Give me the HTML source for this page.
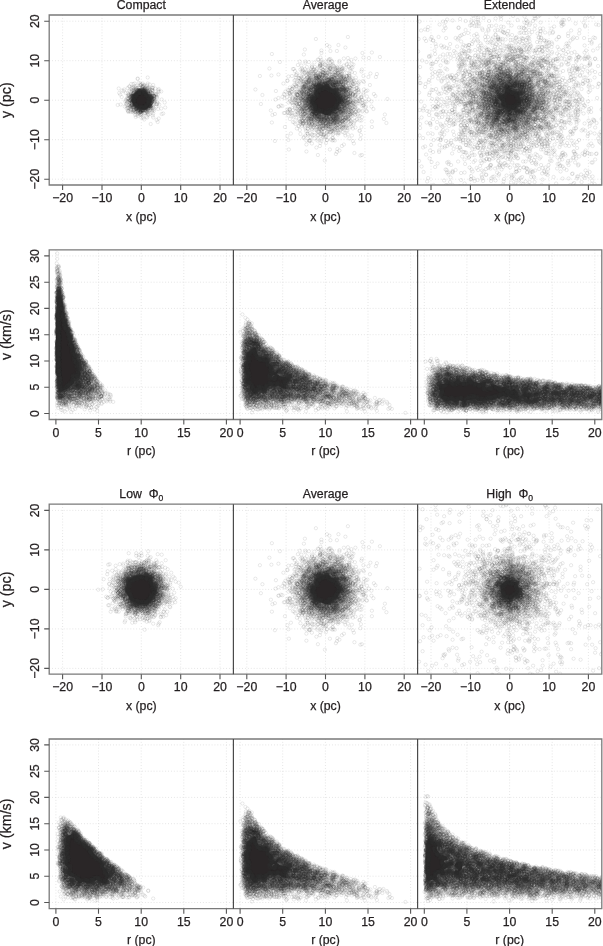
<!DOCTYPE html>
<html><head><meta charset="utf-8"><style>
html,body{margin:0;padding:0;background:#fff;}
svg{display:block;}
text{font-family:"Liberation Sans",Arial,Helvetica,sans-serif;fill:#231f20;stroke:#231f20;stroke-width:0.25px;}
.t{font-size:12.3px;}
.l{font-size:12.3px;}
.yl{font-size:14.3px;}
.ti{font-size:12.3px;}
polyline{fill:none;stroke:none;}
.r1{marker-start:url(#r1);marker-mid:url(#r1);marker-end:url(#r1);}
.r2{marker-start:url(#r2);marker-mid:url(#r2);marker-end:url(#r2);}
.d4{marker-start:url(#d4);marker-mid:url(#d4);marker-end:url(#d4);}
.sat{fill:#2a2627;stroke:none;}
.g{stroke:#dcdcdc;stroke-width:0.8;stroke-dasharray:0.9 2;fill:none;}
.ax{stroke:#7a7a7a;stroke-width:1.3;fill:none;}
.dv{stroke:#4a4a4a;stroke-width:1.2;}
.tk{stroke:#555;stroke-width:1.1;}
</style></head><body>
<svg width="603" height="946" viewBox="0 0 603 946">
<defs>
<marker id="r1" markerUnits="userSpaceOnUse" markerWidth="8" markerHeight="8" refX="4" refY="4" overflow="visible"><circle cx="4" cy="4" r="3.3" fill="none" stroke="#302d2e" stroke-width="1.7" opacity="0.120"/></marker>
<marker id="r2" markerUnits="userSpaceOnUse" markerWidth="8" markerHeight="8" refX="4" refY="4" overflow="visible"><circle cx="4" cy="4" r="3.3" fill="none" stroke="#302d2e" stroke-width="1.7" opacity="0.226"/></marker>
<marker id="d4" markerUnits="userSpaceOnUse" markerWidth="8" markerHeight="8" refX="4" refY="4" overflow="visible"><circle cx="4" cy="4" r="4.6" fill="#302d2e" opacity="0.237"/></marker>
<clipPath id="c00"><rect x="49.2" y="15.0" width="184.2" height="170.0"/></clipPath>
<clipPath id="c01"><rect x="233.4" y="15.0" width="184.2" height="170.0"/></clipPath>
<clipPath id="c02"><rect x="417.6" y="15.0" width="184.2" height="170.0"/></clipPath>
<clipPath id="c10"><rect x="49.2" y="249.9" width="184.2" height="169.6"/></clipPath>
<clipPath id="c11"><rect x="233.4" y="249.9" width="184.2" height="169.6"/></clipPath>
<clipPath id="c12"><rect x="417.6" y="249.9" width="184.2" height="169.6"/></clipPath>
<clipPath id="c20"><rect x="49.2" y="504.2" width="184.2" height="170.00000000000006"/></clipPath>
<clipPath id="c21"><rect x="233.4" y="504.2" width="184.2" height="170.00000000000006"/></clipPath>
<clipPath id="c22"><rect x="417.6" y="504.2" width="184.2" height="170.00000000000006"/></clipPath>
<clipPath id="c30"><rect x="49.2" y="739.0" width="184.2" height="169.70000000000005"/></clipPath>
<clipPath id="c31"><rect x="233.4" y="739.0" width="184.2" height="169.70000000000005"/></clipPath>
<clipPath id="c32"><rect x="417.6" y="739.0" width="184.2" height="169.70000000000005"/></clipPath>
</defs>
<path class="g" d="M62.6 15.0V185.0M49.2 179.2H233.4M102.0 15.0V185.0M49.2 139.7H233.4M141.3 15.0V185.0M49.2 100.2H233.4M180.7 15.0V185.0M49.2 60.7H233.4M220.0 15.0V185.0M49.2 21.2H233.4M246.8 15.0V185.0M233.4 179.2H417.6M286.1 15.0V185.0M233.4 139.7H417.6M325.5 15.0V185.0M233.4 100.2H417.6M364.9 15.0V185.0M233.4 60.7H417.6M404.2 15.0V185.0M233.4 21.2H417.6M431.0 15.0V185.0M417.6 179.2H601.8M470.4 15.0V185.0M417.6 139.7H601.8M509.7 15.0V185.0M417.6 100.2H601.8M549.1 15.0V185.0M417.6 60.7H601.8M588.4 15.0V185.0M417.6 21.2H601.8M55.9 249.9V419.5M98.5 249.9V419.5M141.2 249.9V419.5M183.8 249.9V419.5M226.4 249.9V419.5M49.2 413.5H233.4M49.2 387.2H233.4M49.2 361.0H233.4M49.2 334.7H233.4M49.2 308.4H233.4M49.2 282.2H233.4M49.2 255.9H233.4M240.1 249.9V419.5M282.7 249.9V419.5M325.4 249.9V419.5M368.0 249.9V419.5M410.6 249.9V419.5M233.4 413.5H417.6M233.4 387.2H417.6M233.4 361.0H417.6M233.4 334.7H417.6M233.4 308.4H417.6M233.4 282.2H417.6M233.4 255.9H417.6M424.3 249.9V419.5M466.9 249.9V419.5M509.6 249.9V419.5M552.2 249.9V419.5M594.8 249.9V419.5M417.6 413.5H601.8M417.6 387.2H601.8M417.6 361.0H601.8M417.6 334.7H601.8M417.6 308.4H601.8M417.6 282.2H601.8M417.6 255.9H601.8M62.6 504.2V674.2M49.2 668.4H233.4M102.0 504.2V674.2M49.2 628.9H233.4M141.3 504.2V674.2M49.2 589.4H233.4M180.7 504.2V674.2M49.2 549.9H233.4M220.0 504.2V674.2M49.2 510.4H233.4M246.8 504.2V674.2M233.4 668.4H417.6M286.1 504.2V674.2M233.4 628.9H417.6M325.5 504.2V674.2M233.4 589.4H417.6M364.9 504.2V674.2M233.4 549.9H417.6M404.2 504.2V674.2M233.4 510.4H417.6M431.0 504.2V674.2M417.6 668.4H601.8M470.4 504.2V674.2M417.6 628.9H601.8M509.7 504.2V674.2M417.6 589.4H601.8M549.1 504.2V674.2M417.6 549.9H601.8M588.4 504.2V674.2M417.6 510.4H601.8M55.9 739.0V908.7M98.5 739.0V908.7M141.2 739.0V908.7M183.8 739.0V908.7M226.4 739.0V908.7M49.2 902.5H233.4M49.2 876.2H233.4M49.2 850.0H233.4M49.2 823.7H233.4M49.2 797.4H233.4M49.2 771.2H233.4M49.2 744.9H233.4M240.1 739.0V908.7M282.7 739.0V908.7M325.4 739.0V908.7M368.0 739.0V908.7M410.6 739.0V908.7M233.4 902.5H417.6M233.4 876.2H417.6M233.4 850.0H417.6M233.4 823.7H417.6M233.4 797.4H417.6M233.4 771.2H417.6M233.4 744.9H417.6M424.3 739.0V908.7M466.9 739.0V908.7M509.6 739.0V908.7M552.2 739.0V908.7M594.8 739.0V908.7M417.6 902.5H601.8M417.6 876.2H601.8M417.6 850.0H601.8M417.6 823.7H601.8M417.6 797.4H601.8M417.6 771.2H601.8M417.6 744.9H601.8"/>
<g clip-path="url(#c00)"><g id="p00" transform="translate(49.2,15.0) scale(.5)"><path class="sat" d="M190,189 184,189 174,184 168,180 166,174 165,170 168,160 172,155 178,151 186,151 191,152 194,154 203,166 204,172 201,182 196,187 190,189Z"/><polyline class="d4" points="170,174 197,158 191,157 171,165 183,186 178,187 185,152 182,151 202,177 186,189 169,170 187,150 197,173 187,155 173,161 196,163 181,152 176,184 168,161 203,176 202,172 192,153 196,183 203,163 170,163 200,180 195,181 197,173 175,161 201,182 195,158 202,170 173,163 184,190 192,156 186,184 193,158 170,171 177,156 180,185 198,182 200,182 172,162 197,164 203,165 177,152 167,165 198,179 170,167 194,159 202,173 167,162 190,184 170,172 177,157 202,169 186,155 174,181 185,157 180,154 187,184 204,175 167,171 199,163 189,154 181,155 200,162 168,167 191,154 200,180 176,154 171,180 199,172 189,152 203,165 200,173 168,161 181,151 171,161 175,182 189,156 189,183 199,169 194,185 169,164 180,183 192,184 185,183 201,162 190,157 186,155 200,172 169,166 166,173 196,184 177,186 188,185 186,151 179,151 190,186 176,158 202,167 200,168 193,187 174,162 171,160 188,154 166,168 177,185 198,163 193,152 173,154 190,155 205,171 191,184 194,183 182,153 197,174 180,187 172,182 170,179 195,182 196,164 202,176 190,184 182,155 194,187 201,162 195,156 181,156 179,152 174,157 201,180 201,179 182,156 180,152 190,186 181,154 198,164 198,169 179,185 169,170 202,167 201,163 168,169 189,154 201,180 199,175 169,172 193,161 181,151 189,185 176,185 200,169 190,153 173,161 194,180 184,185 183,151 203,169 189,153 169,172 198,176 198,171 180,156 165,172 193,161 190,186 191,186 186,186 192,156 174,183 189,152 171,179 169,161 198,178 166,163 174,180 194,180 182,184 191,183 184,189 171,166 192,185 179,157 199,176 200,182 190,151 194,182"/><polyline class="r2" points="178,150 183,192 192,190 188,150 171,184 165,177 168,157 164,165 192,150 187,190 178,189 182,191 174,186 187,191 175,187 195,188 191,190 198,157 191,150 187,190 203,182 163,171 206,170 168,157 166,179 187,191 175,189 205,165 169,183 165,162 205,168 174,188 184,191 179,190 200,158 164,168 198,157 170,156 203,183 185,191 203,177 198,154 175,187 166,180 187,190 176,151 205,165 165,162 186,150 165,180 198,186 197,154 177,190 165,176 185,191"/><polyline class="r1" points="183,140 220,179 200,147 173,147 206,173 196,140 194,195 165,159 179,191 206,172 210,188 207,152 162,153 207,190 164,157 197,195 163,161 210,162 139,147 214,178 157,180 195,203 209,167 161,163 177,146 186,147 202,183 192,142 169,195 183,194 209,162 183,195 183,193 155,177 184,193 170,154 137,180 231,175 214,158 203,187 166,194 161,143 184,200 173,151 225,198 215,164 208,172 197,191 207,168 206,156 201,139 193,148 157,157 214,163 209,178 217,176 207,152 196,147 154,181 162,171 206,173 208,164 186,145 209,168 180,145 190,209 214,183 165,147 228,197 195,193 203,154 155,168 218,153 172,194 163,183 162,194 208,169 178,198 160,173 210,175 177,202 195,150 162,164 173,204 187,192 207,146 183,193 192,147 186,148 202,159 199,191 205,150 204,178 161,170 169,193 157,191 168,145 174,150 140,156 163,189 190,148 197,190 168,138 210,162 208,205 215,210 190,149 165,183 197,147 187,143 213,158 224,187 216,174 214,160 154,178 197,137 166,184 163,171 187,193 168,151 203,218 168,146 216,166 232,185 211,159 205,162 208,197 207,173 176,192 158,167 155,187 168,184 168,184 153,170 162,192 163,163 169,154 206,161 182,199 210,171 188,143 195,192 193,192 164,177 160,171 205,165 155,172 195,143 187,203 158,168 157,186 212,147 170,189 169,185 207,201 199,156 161,182 150,149 168,188 184,194 189,141 163,160 196,189 173,194 203,186 146,151 169,191 209,171 216,178 169,185 177,197 163,170 178,194 162,184 143,179 217,159 206,182 217,214 208,140 202,159 206,168 177,192 165,152 164,181 177,193 160,143 145,164 200,145 196,205 198,152 200,151 171,143 169,149 169,190 198,153 218,188 210,162 188,148 205,176 162,177 158,192 210,165 205,187 211,173 201,198 174,188 159,192 185,197 158,184 210,162 162,185 159,160 174,142 159,160 205,146 203,183 198,200 163,179 157,174 218,150 153,156 171,137 159,160 184,198 193,150 184,205 206,162 202,154 170,192 194,192 186,144 170,152 187,142 192,146 162,182 198,156 197,188 169,191 188,206 202,190 184,149 160,162 206,149 208,161 149,152 171,150 181,195 211,163 191,147 160,152 185,139 210,191 192,196 170,152 152,173 156,175 211,170 197,125 196,195 210,168 208,180 165,182 224,153 207,170 219,207 198,146 178,195 173,145 161,175 177,127 165,145 203,185 176,150 179,136 199,186 203,157 220,153 215,179 203,183 170,189 205,180 200,157 198,150 162,170 175,150 163,163 158,171 164,154 175,200 187,148 167,191 165,190 219,148 225,169 208,185 203,190 173,192 183,141 175,146 207,145 183,194 174,149 198,198 177,128 190,140 156,166 158,186 201,149 166,181 199,156 206,192 181,195 208,161 211,165 206,150 211,173 190,197 203,157 187,137 200,186 207,187 165,185 205,195 189,144 205,163 207,169 176,193 166,150 182,137 164,138 182,140 182,194 207,158 158,194 206,156 160,186 182,145 161,171 157,146 157,162 205,163 199,187 164,181 142,159 192,196 172,200 159,167 180,196 151,183 195,147"/></g></g>
<g clip-path="url(#c01)"><g id="p01" transform="translate(233.4,15.0) scale(.5)"><path class="sat" d="M188,200 184,200 168,193 162,192 161,190 160,183 155,176 154,172 157,164 163,162 164,152 166,149 174,145 184,140 190,141 196,147 202,149 206,153 208,156 214,166 216,172 214,175 211,180 208,187 199,192 188,200Z"/><polyline class="d4" points="185,196 172,141 161,168 166,157 196,189 212,168 156,178 189,146 184,196 177,145 177,144 204,187 173,145 216,169 209,165 191,197 196,196 212,176 167,190 208,186 187,138 191,198 199,153 164,186 174,193 206,186 207,156 201,155 197,191 208,166 194,148 164,154 168,150 168,162 206,185 206,162 175,144 185,146 165,161 199,186 179,148 203,186 173,193 209,177 171,153 211,164 176,194 168,152 187,200 164,151 158,167 191,148 174,142 191,144 172,144 192,151 170,149 203,154 155,172 164,158 178,147 162,176 205,186 208,151 214,169 205,182 163,184 194,149 161,167 157,177 212,174 213,163 182,194 201,192 209,168 173,192 165,191 167,194 181,145 178,144 210,159 163,193 191,146 209,177 176,143 192,150 217,172 177,144 157,165 157,165 203,149 201,189 157,173 212,178 164,188 174,148 210,172 197,152 192,190 197,195 167,158 204,183 196,150 170,193 177,148 159,172 169,162 181,144 161,162 188,142 186,142 192,151 211,169 162,181 205,153 192,197 213,163 189,196 168,188 176,192 171,142 195,193 172,150 190,199 169,194 166,155 200,150 197,147 197,152 157,178 215,168 157,169 207,150 204,152 186,139 160,171 161,181 192,194 206,181 183,199 211,174 205,152 202,186 161,189 174,196 161,169 210,186 203,157 207,159 210,160 185,138 215,171 204,150 178,148 206,161 164,183 164,185 204,187 158,186 162,161 167,152 206,161 160,178 189,197 187,195 162,190 161,171 211,174 171,152 163,180 192,189 166,155 169,151 167,159 191,190 173,149 207,175 180,146 160,167 207,179 192,192 203,150 187,145 213,168 173,143 172,148 175,192 175,198 163,161 175,140 164,155 160,173 205,181 198,153 170,148 202,154 173,191 210,174 184,146 179,142 182,146 205,151 161,193 195,192 201,155 198,189 201,192 197,188 158,177 166,151 165,148 175,142 210,180 166,161 191,196 214,174 191,141 213,164 164,184 185,139 201,152 211,158 156,174 207,158 176,191 158,162 212,167 189,191 206,157 160,188 208,158 209,164 185,198 193,189 163,186 193,149 158,173 185,195 170,144 166,191 156,172 206,150 156,162 158,181 187,142 210,166 211,170 179,145 158,163 168,148 163,179 194,194 181,143 167,146 200,193 172,193 163,193 173,151 158,175 161,168 164,192 188,148 200,152 189,144 211,162 200,153 162,155 164,187 195,149 191,194 192,194 199,153 173,146 169,194 161,168 180,197 218,173 200,192 196,152 156,168 189,144 162,183 209,186 188,141 158,176 201,150 205,153 163,188 173,195 187,195 196,194 166,148 183,197 166,157 161,159 171,190 165,153 215,168 181,140 210,157 163,161 163,183 202,188 207,186 185,195 191,194 198,145 171,150 208,158 186,195 189,145 163,166 210,181 190,194 216,168 194,141 158,184 157,167 200,191 160,182 171,152 167,159 162,165 185,143 215,174 186,143"/><polyline class="r2" points="167,141 207,191 155,179 157,185 168,143 184,137 164,144 220,171 160,158 154,167 216,176 211,184 193,138 219,168 166,141 166,197 207,148 171,196 154,163 214,179 200,196 159,154 216,179 194,140 171,140 210,190 201,145 217,174 196,143 217,166 205,146 166,196 181,139 160,156 196,199 158,159 170,200 199,139 152,168 163,196 199,142 211,186 164,146 190,136 176,139 198,138 188,136 161,197 213,179 193,197 171,139 169,143 211,183 164,146 170,140 171,138 158,186 183,138 161,194 211,153 155,159 162,198 169,196 168,142 200,145 152,168 171,198 203,194 175,138 200,145 157,182 200,141 153,162 151,173 186,204 171,140 164,198 193,135 166,198 161,195 190,136 195,197 214,162 162,152 204,194 211,185 165,198 153,164 184,136 154,179 196,142 168,144 194,136 177,200 154,161 152,166 159,151 192,137 208,190 165,197 159,193 187,201 204,148 214,161 152,170 217,176 179,138 211,152 218,165 170,143 215,162 155,180 204,193 212,156 155,181 155,159 155,161 162,154 204,194 173,139 165,196 151,173 181,140 180,201 152,167 187,137 196,197 158,158 160,159 152,173 152,170 171,137 218,173 158,189 197,144 158,192 153,163 200,140 211,153 208,189 153,176 167,198 210,189 151,170 206,148 165,144 160,192 186,137 184,137 218,174 196,198 199,142 171,198 205,149 203,194 202,146 159,194 220,170 162,150 212,188 193,197 170,142 153,179 181,200 199,139 211,189 189,137 205,147"/><polyline class="r1" points="149,186 193,213 239,191 225,224 197,227 199,246 203,211 176,209 147,201 136,151 216,225 201,216 252,171 192,202 191,127 164,127 192,134 184,207 191,204 213,151 217,184 221,158 185,135 228,130 211,214 257,204 174,118 221,136 127,153 243,160 178,95 277,213 126,143 151,146 224,190 187,121 162,207 195,125 223,144 156,208 232,175 176,118 204,198 205,119 174,128 194,223 146,195 238,126 229,203 168,201 198,232 205,212 205,131 239,227 158,141 156,208 206,198 146,201 175,93 153,195 150,171 223,197 197,92 156,207 158,241 163,140 171,221 271,169 156,145 154,186 171,124 159,136 157,257 206,200 157,217 253,211 170,213 161,133 214,194 227,149 202,127 177,229 147,163 239,252 161,118 141,162 128,143 113,145 222,179 171,124 217,183 202,137 185,207 147,168 199,210 168,202 244,87 168,138 154,185 133,152 189,130 112,189 169,201 162,207 135,130 188,214 215,132 143,165 220,179 201,135 234,177 190,239 171,200 223,187 179,114 247,170 190,124 215,202 177,203 141,197 149,172 173,213 138,133 176,238 230,189 189,221 216,190 173,118 268,151 152,114 53,122 139,185 234,163 212,146 241,189 214,151 124,186 234,217 148,176 198,119 170,228 228,176 196,128 223,178 144,167 225,221 208,227 245,192 154,126 219,223 271,86 196,131 219,183 163,202 137,190 214,193 134,218 206,210 158,197 206,209 133,159 218,219 100,137 186,116 200,125 219,181 220,128 151,221 139,164 126,120 205,120 139,199 145,179 148,135 169,240 214,148 218,220 225,142 216,188 179,132 208,203 174,98 194,127 151,161 216,110 188,208 251,190 200,209 199,212 202,197 148,125 159,226 117,122 141,171 245,173 219,190 203,140 226,146 250,136 145,202 189,228 219,126 243,116 167,137 153,188 184,222 166,122 154,122 210,147 112,168 221,168 144,93 129,199 157,228 143,182 210,149 168,132 134,193 237,114 141,151 152,185 178,135 144,96 216,194 207,194 250,155 243,135 239,138 229,176 231,174 226,179 158,206 152,130 215,155 76,121 227,164 224,168 152,118 124,175 210,116 188,233 183,226 228,181 199,129 243,154 202,142 148,170 182,205 199,207 210,140 235,153 152,219 202,135 235,187 213,139 259,132 230,169 222,164 156,148 151,161 216,153 236,140 150,135 223,204 147,151 250,172 151,217 172,209 83,198 263,174 163,143 230,103 225,171 232,145 234,199 204,205 176,112 144,187 108,132 241,172 156,197 121,145 150,147 213,154 161,142 219,198 140,217 155,117 143,180 146,158 229,175 103,196 186,222 220,138 135,166 136,170 201,123 220,166 177,213 206,194 213,189 159,220 180,134 173,127 185,216 166,130 178,221 218,156 145,232 220,195 209,129 186,206 213,148 214,159 103,159 219,140 232,145 171,202 228,231 207,112 174,126 162,147 149,139 169,280 157,199 144,176 224,165 285,124 224,174 150,206 225,165 139,148 128,160 151,94 177,204 98,182 212,197 209,114 234,180 226,170 178,215 224,241 221,134 183,137 186,206 251,177 221,87 157,136 188,133 214,194 182,210 134,134 112,158 140,206 201,140 148,127 163,219 211,191 213,122 264,185 159,125 174,127 156,154 209,209 144,141 246,146 207,215 161,148 201,102 125,125 223,180 178,212 215,135 139,138 127,188 287,118 152,223 237,176 216,198 174,136 176,204 163,113 188,213 137,113 137,184 240,143 150,198 230,158 185,222 231,126 208,208 243,162 145,188 146,148 181,204 155,134 221,192 231,190 128,194 229,157 240,219 151,207 215,126 253,202 142,115 159,144 236,223 151,176 194,228 214,230 147,170 160,110 151,164 202,221 223,128 139,115 208,144 249,173 154,144 220,148 168,211 122,175 255,165 152,207 227,171 161,201 197,130 247,140 117,169 206,137 173,217 141,208 221,210 170,204 183,117 212,236 194,130 186,214 241,216 180,221 256,113 156,192 160,150 103,224 205,139 204,132 150,215 181,203 185,93 203,105 204,109 140,187 219,187 225,167 163,199 220,201 215,205 133,121 180,137 177,239 194,119 213,188 157,146 260,156 141,189 242,148 194,209 207,218 197,207 226,231 197,137 200,216 210,193 159,142 124,166 198,94 149,191 219,137 183,218 164,120 142,198 150,168 135,193 257,109 237,196 227,206 185,218 168,218 199,133 190,125 229,137 193,133 149,164 145,139 181,212 216,143 190,219 181,216 155,220 161,137 221,149 190,223 154,244 201,207 136,101 206,221 169,211 130,211 132,154 220,164 134,191 141,123 203,139 167,208 155,213 142,199 172,206 147,104 165,122 154,194 187,109 190,101 151,214 146,259 127,180 204,202 138,133 178,133 201,208 145,143 146,194 176,71 198,123 209,124 224,192 233,145 257,182 224,157 220,148 155,135 139,203 230,160 77,215 147,186 194,96 156,150 160,141 136,185 205,223 167,202 193,269 225,134 240,177 175,136 204,134 218,162 153,116 208,146 158,198 127,177 234,159 130,222 240,184 151,137 244,225 152,147 155,225 199,124 182,128 157,187 122,139 152,189 190,213 151,218 207,125 131,222 222,183 212,135 233,196 225,203 112,156 119,167 212,271 174,129 231,183 136,162 177,134 201,130 223,173 146,180 131,126 139,144 150,165 140,186 242,176 168,251 253,173 162,216 234,155 198,198 205,278 220,158 179,114 215,214 161,209 192,128 77,78 161,213 224,160 226,191 187,119 115,237 142,169 113,190 174,203 134,109 219,121 168,126 137,156 217,225 216,200 210,215 214,142 128,160 230,207 195,202 156,125 183,106 151,133 239,176 118,148 156,191 123,170 142,131 219,162 149,204 218,191 154,147 181,117 151,201 176,248 213,150 204,133 186,210 239,158 153,199 216,191 158,216 185,226 174,214 208,117 133,212 149,238 178,203 211,203 129,100 90,119 248,189 135,150 198,203 234,112 127,199 132,132 191,207 156,137 140,144 230,177 157,101 185,207 261,181 179,133 144,241 123,112 171,208 266,173 228,195 207,203 191,109 224,129 137,191 183,124 130,191 224,194 207,192 196,130 162,144 231,149 174,238 217,117 159,143 183,122 200,140 195,131 225,161 203,230 133,185 226,122 189,208 146,155 221,182 189,208 148,136 192,112 180,115 190,223 213,190 148,186 190,104 233,167 165,225 237,179 166,109 143,138 218,146 224,172 243,163 225,205 159,140 223,214 208,268 220,151 218,144 146,113 165,126 218,206 219,166 211,135 126,192 150,154 233,225 228,159 214,104 184,111 194,215 143,224 126,166 223,168 250,139 130,126 165,48 157,204 255,240 220,210 207,221 180,121 139,183 257,169 155,147 207,274 84,169 231,124 217,144 229,129 225,166 219,212 209,220 227,122 91,183 131,208 168,203 154,155 137,206 155,188 245,169 179,228 124,218 118,147 192,119 243,185 147,171 188,210 186,127 130,183 217,202 226,205 230,136 204,120 127,227 156,202 152,148 212,130 170,209 150,132 226,166 151,174 174,132 195,134 182,212 102,166 163,204 156,150 127,133 158,151 164,141 200,204 229,148 230,178 151,163 220,125 197,230 171,224 158,218 144,141 191,131 153,127 165,112 139,111 196,207 226,197 108,131 137,163 176,217 159,210 163,144 223,158 210,210 144,176 209,213 223,186 149,146 207,145 140,159 146,134 221,195 127,117 134,165 119,143 168,208 229,163 183,210 227,116 141,207 139,184 212,95 173,224 227,184 144,172 249,199 207,202 226,142 153,149 222,152 136,186 207,201 186,204 219,145 113,197 187,207 188,208 213,150 201,218 148,184 212,204 235,198 225,166 150,211 261,134 130,137 210,210 132,187 222,181 139,200 173,216 204,227 218,134 170,134 151,163 169,233 200,217 265,152 137,172 171,130 221,155 116,196 190,217 236,215 160,128 111,269 226,148 206,236 174,206 213,148 213,212 191,121 219,162 164,219 211,144 224,134 206,131 224,206 171,130 222,165 244,183 216,228 216,194 165,216 215,119 175,120 206,205 149,150 188,130 186,212 180,220 216,135 203,220 55,178 179,118 171,126 142,141 194,215 118,202 212,121 207,138 161,144 220,125 183,131 152,208 260,85 158,200 138,142 209,203 206,213 164,143 222,173 221,123 137,174 227,98 205,200 170,116 226,161 143,194 252,232 220,150 148,136 237,142 174,101 168,136 145,192 205,197 121,205 214,124 172,204 160,108 190,111 135,201 245,160 229,173 213,152 182,207 192,205 238,105 225,131 155,138 187,206 165,203 173,135 152,183 181,208 232,180 169,205 216,192 181,218 207,229 200,210 179,115 204,135 230,176 195,208 228,226 216,119 178,108 147,208 152,130 197,119 141,244 202,140 187,250 142,176 207,134 181,130 235,203 134,167 146,251 136,168 230,164 159,142 164,118 216,194 161,142 204,139 210,194 216,137 150,191 112,155 216,222 238,137 171,202 134,156 219,226 213,206 189,116 200,202 206,135 177,206 200,250 144,169 230,187 234,151 183,244 205,136 172,223 208,139 147,178 252,133 195,207 232,163 217,134 246,210 197,125 208,105 164,143 225,212 215,134 169,248 142,154 251,163 127,171 192,210 160,199 230,152 219,205 114,158 214,202 152,251 267,193 160,131 135,214 138,187 211,149 210,206 185,225 168,241 75,191 211,142 208,192 217,211 219,177 165,139 134,156 151,152 162,109 199,102 154,192 154,138 150,205 160,207 218,138 139,179 303,199 176,252 217,184 139,152 173,120 223,163 213,129 164,140 173,102 201,214 177,234 222,163 293,84 149,167 216,160 176,230 133,178 238,166 213,143 212,210 147,127 216,148 143,116 222,203 141,135 208,120 138,217 162,95 127,158 172,123 251,154 163,130 147,175 219,160 183,99 301,208 151,135 220,218 202,114 148,161 202,208 206,198 157,130 218,182 147,140 201,138 150,158 192,117 104,153 202,222 141,133 215,183 200,205 141,159 163,121 219,159 202,208 227,208 259,191 188,215 224,219 250,151 160,209 128,165 147,180 131,140 198,201 219,211 204,198 235,191 200,219 133,194 200,204 188,204 198,206 234,155 150,178 220,192 203,136 233,193 213,216 150,159 217,146 193,205 195,218 169,203 204,198 196,215 134,187 205,106 223,109 153,130 212,201 306,216 147,172 171,210 236,170 203,212 222,157 201,214 222,151 173,98 232,247 129,196 211,115 233,173 162,200 221,162 208,135 177,136 232,200 180,239 221,127 220,171 167,224 143,197 208,197 197,128 206,199 156,150 219,182 218,213 157,127 161,140 156,214 156,130 155,211 222,160 238,201 181,126 145,216 137,203 244,199 208,142 218,112 211,144 170,233 258,170 211,132 200,230 139,156 165,201 113,157 157,198 224,172 162,201 201,126 218,198 213,151 185,244 223,151 123,187 155,185 202,137 186,121 139,212 152,119 218,183 170,218 172,126 182,211 208,200 146,187 151,129 119,167 204,209 247,146 212,224 151,172 157,105 152,202 174,221 211,228 208,207 196,114 188,212 58,160 138,126 217,105 247,208 154,196 150,133 174,208 195,249 137,153 205,116 155,208 218,192 136,159 184,208 231,104 196,218 190,227 205,200 161,240 137,188 147,144 131,145 241,132 211,132 235,156 181,110 260,181 196,210 219,140 180,203 207,103 167,214 139,217 215,182 231,200 226,150 208,133 226,175 225,212 223,209 233,186 205,207 167,128 196,205 228,174 221,211 142,143 217,209 158,198 211,192 242,154 151,164 234,145 196,228 214,149 226,155 137,175 162,139 134,238 205,122 187,130 137,222 151,144 157,229 166,140 139,157 179,215 225,134 234,164 142,192 176,90 190,135 157,208 159,197 144,177 157,196 168,223 227,150 199,239 171,132 208,226 164,126 232,163 217,197 139,164 222,175 139,176 212,217 153,205 165,130 116,174 192,114 228,132 146,120 236,130 208,192 235,153 203,251 209,239 187,236 193,218 152,147 242,276 218,164 175,106 172,137 176,127 156,144 135,171 225,152 211,138 229,211 256,224 215,187 148,136 194,224 229,209 123,168 243,212 254,248 168,126 146,186 146,164 197,133 134,127 154,251 142,144 200,237 78,200 169,210 145,211 152,178 238,161 149,208 151,158 139,171 129,179 209,231 212,154 165,131 138,213 144,178 170,240 229,239 236,131 208,205 202,128 139,193 190,222 193,219 177,213 244,179 226,186 114,150 197,137 203,213 173,225 154,187 222,190 155,189 207,214 166,122 187,250 206,139 219,190 197,209 206,202 167,218 207,147 231,153 139,164 253,231 193,133 152,156 110,123 165,126 232,120 225,184 138,219 209,116 217,148 170,121 139,109 215,201 211,213 142,145 148,186 221,154 152,132 174,212 132,178 221,142 246,148 148,184 273,140 214,135 217,193 220,142 148,148 189,210 226,177 189,210 214,157 276,183 220,146 191,201 144,168 151,157 188,207 150,157 162,201 220,111 200,227 237,193 211,149 223,206 131,177 156,124 153,150 194,127 217,188 257,280 256,211 150,111 148,177 201,198 182,116 216,187 159,200 176,237 157,213 225,136 208,212 229,199 152,251 202,197 211,143 202,215 234,171 209,144 185,131 230,186 220,139 194,108 166,139 140,187 124,154 191,212 114,188 249,150 159,204 145,158 197,134 140,172 203,214 216,125 149,179 155,207 152,207 180,220 225,170 216,122 233,174 221,179 180,213 137,171 140,160 204,139 143,108 149,163 239,175 123,183 217,262 277,75 142,144 176,137 198,136 158,139 132,155 229,145 231,162 155,139 177,124 112,188 143,69 148,171 227,127 177,209 204,140 139,145 163,201 228,149 142,155 218,213 221,174 207,198 185,216 222,210 231,155 260,177 176,207 202,141 170,90 277,224 161,134 188,130 178,205 188,128 143,205 154,155 217,108 222,151 158,133 210,197 160,149 119,214 260,159 151,174 173,227 135,198 156,113 183,135 180,228 210,194 179,244 180,214 119,190 194,134 173,206 154,192 128,161 241,197 236,163 171,204 120,158 184,116 231,121 133,230 226,223 233,122 133,214 144,180 241,138 141,158 198,226 237,147 219,146 225,153 109,150 240,99 135,182 148,160 140,217 229,169 184,117 232,168 218,212 212,124 143,193 223,185 219,146 229,158 190,129 221,259 195,201 146,176 192,63 224,194 144,167 212,152 153,236 185,256 193,105 101,196 136,161 152,126 252,167 226,177 141,156 220,153 173,228 223,186 185,136 154,157 170,231 216,160 162,136 161,122 134,163 122,131 132,178 217,131 158,218 219,150 141,168 168,138 213,209 149,158 184,205 196,100 210,235 209,236 199,206 200,233 198,251 152,216 126,177 221,170 166,229 192,101 216,149 214,196 192,229 136,164 203,115 179,110 149,241 185,121 234,174 199,206 139,194 139,193 158,142 228,148 225,205 216,123 176,208 180,207 108,242 177,232 216,212 210,133 227,176 154,156 205,220 124,140 191,129 220,163 159,113 229,182 205,134 194,213 138,161 234,199 196,127 149,194 232,131 204,142 141,124 155,150 149,227 190,92 118,165 155,146 145,134 116,154 194,207 179,203 220,161 172,204 142,192 157,199 172,104 172,200 220,225 135,131 125,176 210,60 149,162 148,237 136,181 144,178 108,189 208,203 224,65 225,151 162,247 146,156 179,209 152,252 201,137 118,196 149,118 207,211 157,239 256,164 224,200 204,113 151,182 221,220 137,153 222,184 195,135 175,212 182,207 241,183 190,220 238,208 239,157 216,160 176,223 125,205 233,156 160,199 265,183 125,199 250,148 209,111 177,125 146,155 157,200 230,168 201,134 133,176 220,157 153,186 180,209 218,227 142,155 230,193 228,175 201,228 127,160 226,193 143,177 224,155 119,180 136,145 173,124 234,129 143,166 169,213 153,180 192,224 216,196 180,222 229,137 219,131 222,167 167,203 148,160 201,203 147,217 164,141 140,246 219,154 130,191 201,119 176,100 237,186 175,210 176,206 249,192 149,221 197,128 157,104 194,88 174,204 199,128 258,176 238,194 155,127 227,161 192,204 119,108 152,188 144,198 174,85 233,107 133,127 141,79 147,146 117,199 131,167 176,230 177,135 235,178 191,203 231,208 171,209 223,186 136,123 234,162 219,234 219,185 214,182 220,144 201,107 182,222 181,209 143,173 182,238 203,120 154,189 194,234 281,158 234,212 141,142 146,181 124,130 217,129 146,212 234,188 226,164 150,116 144,181 235,147 170,208 267,163 146,154 167,210 261,149 284,162 167,133 193,216 168,130 181,241 163,210 145,143 232,185 142,184 146,164 199,210 143,213 213,120 184,205 220,146 230,190 226,178 222,236 216,139 215,183 204,200 174,256 239,174 216,145 228,125 191,133 217,128 178,138 142,151 211,134 230,161 127,137 179,110 139,171 146,182 174,134 188,115 237,241 222,171 187,60 155,144 238,173 90,183 189,129 158,110 199,202 171,135 221,182 145,134 179,217 219,178 207,123 139,148 258,76 245,131 143,170 144,148 129,170 224,151 153,147 238,186 108,195 148,208 246,152 218,191 163,210 224,191 251,192 217,190 178,202 133,149 144,170 224,182 146,168 167,128 166,124 232,178 133,93 227,150 220,153 155,108 163,201 169,121 210,194 144,212 221,160 186,226 210,146 154,204 171,123 213,153 158,135 155,150 150,181 227,183 178,227 149,228 182,133 174,217 185,216 236,106 149,171 230,206 152,145 214,217 181,209 227,181 213,145 258,193 222,132 204,126 223,167 167,139 185,100 199,198 214,150 172,203 44,149 150,130 197,199 165,205 162,115 117,176 137,154 161,117 151,196 243,194 208,136 241,257 152,154 191,213 206,129 150,172 208,198 169,202 150,124 192,202 221,149 72,107 233,190 223,153 244,162 153,193 150,202 308,168 148,125 239,170 221,154 177,133 229,184 154,155 211,135 191,215 192,235 155,210 236,133 130,153 226,100 188,102 139,211 150,195 171,124 125,170 129,160 151,138 200,132 228,134 245,125 207,72 270,124 202,201 226,159 212,92 223,171 167,107 225,151 150,185 142,142 203,207 152,147 190,129 140,153 202,125 234,200 204,134 110,175 211,129 162,133 160,138 166,125 236,90 206,145 202,141 201,121 127,178 167,200 114,161 222,143 198,246 151,190 215,150 146,163 208,225 221,179 169,129 216,108 202,199 148,200 245,194 194,220 220,127 194,72 219,138 154,202 154,207 136,215 137,211 146,179 234,171 183,131 227,221 213,138 151,144 140,147 126,167 142,187 154,185 203,216 215,127 227,145 194,131 90,166 164,122 176,222 215,139 141,146 218,150 167,140 243,200 156,199 117,148 165,217 194,133 119,176 214,113 211,136 135,153 199,99 113,172 138,154 174,132 224,196 229,168 233,159 207,125 152,121 201,211 229,204 184,126 165,121 241,177 244,168 147,214 175,204 162,235 193,205 177,131 209,205 194,106 140,203 239,161 202,135 210,139 209,139 222,172 180,227 146,161 162,225 239,159 210,219 150,177 183,123 167,231 274,117 217,148 214,209 174,120 135,168 227,165 167,205 225,194 190,129 202,212 166,265 198,135 122,155 242,197 148,170 211,136 138,211 162,203 230,195 155,187 173,262 145,154 186,242 222,192 208,110 177,205 126,153 161,144 171,135 213,188 152,152 144,166 259,180 160,148 212,109 214,194 150,140 190,131 219,177 223,149 130,183 178,120 243,155 177,133 218,118 122,215 193,108 180,240 150,128 170,201 125,143 219,176 231,122 188,129 236,192 125,163 276,173 180,125 167,125 194,135 141,157 226,149 98,164 129,160 162,130 138,144 198,214 176,213 149,133 180,204 219,194 181,127 164,143 206,203 226,155 218,213 134,202 203,215 210,133 233,184 136,167 280,188 178,98 231,93 201,135 173,123 194,214 225,152 162,208 146,153 226,176 136,199 183,137 205,203 192,221 220,146 204,211 110,196 160,133 209,131 83,252 159,211 168,207 194,213 223,130 177,209 159,117 222,146 181,126 195,234 173,132 199,116 226,188 234,156 206,135 141,137 233,146 204,144 210,125 172,127 213,218 221,176 220,184 198,109 204,140 186,223 136,203 149,162 110,201 148,232 266,192 242,184 235,211 111,151 157,192 207,206 200,207 154,150 141,133 204,132 204,109 216,159 172,112 190,210 160,208 236,193 239,139 170,115 210,212 195,214 150,183 176,135 132,171 227,123 160,224 224,128 205,201 143,221 157,193 128,168 222,124 222,182 248,177 110,250 213,139 167,133 192,89 185,219 157,218 138,140 143,191 173,116 206,206 131,178 197,128 142,145 93,94 137,107 144,227 191,89 250,202 211,111 222,200 220,143 183,291 199,218 139,170 144,168 202,211 168,201 178,131 219,107 200,210 210,208 232,208 208,107 113,208 179,120 230,176 85,152 260,122 200,205 170,125 182,134 147,152 215,119 179,122 142,189 145,172 148,158 195,109 208,117 143,198 175,209 202,206 256,165 142,191 173,101 178,120 190,233 187,205 164,205 216,153 140,215 214,199 187,234 145,129 145,148 224,174 231,214 166,207 167,202 140,145 180,211 174,101 155,221 162,143 238,135 174,134 144,197 164,138 155,186 184,119 170,209 151,211 232,199 209,220 219,161 168,138 224,226 231,117 229,44 217,150 244,159 161,136 194,207 152,183 226,172 208,140 154,146 220,129 153,182 203,229 152,180 165,119 234,218 223,148 197,203 204,128 221,187 155,185 197,124 224,153 148,156 198,198 214,131 209,197 148,149 196,232 107,164 226,134 176,76 191,129 146,116 163,104 162,221 215,134 223,145 168,136 214,153 146,273 155,154 95,181 214,193 166,127 151,182 183,219 200,206 206,143 219,206 213,156 202,197 182,134 184,208 238,128 229,198 220,184 109,193 229,163 254,281 169,89 144,144 244,185 201,208 177,216 173,216 229,86 208,199 150,189 125,120 101,158 128,160 172,136 174,209 231,141 154,154 218,159 221,101 126,158 147,137 216,198 198,128 219,144 178,103 193,218 206,146 237,98 192,131 219,180 142,180 121,108 194,107 155,150 191,132 185,216 198,199 163,202 183,127 209,205"/></g></g>
<g clip-path="url(#c02)"><g id="p02" transform="translate(417.6,15.0) scale(.5)"><path class="sat" d="M194,190 192,190 184,188 182,188 170,183 167,178 168,174 162,166 164,161 168,160 174,156 176,148 178,146 180,146 184,149 188,150 190,151 196,153 202,154 204,156 204,164 207,172 207,178 199,182 197,188 194,190Z"/><polyline class="d4" points="204,154 206,172 170,178 207,161 196,181 183,188 185,148 164,159 199,158 200,173 189,187 166,179 205,192 192,157 194,186 201,176 176,146 195,159 164,158 179,183 188,152 197,189 194,152 197,160 172,156 170,168 197,160 205,192 169,170 198,153 176,183 173,152 201,179 190,191 174,178 174,182 164,175 168,161 193,184 182,152 180,191 198,191 167,170 196,181 194,192 202,158 178,149 198,156 196,185 174,180 165,164 170,154 203,165 175,186 176,162 161,168 180,154 172,183 167,159 173,179 169,161 179,191 204,171 177,143 179,143 203,155 186,187 205,162 195,154 168,179 203,179 171,182 177,144 209,157 172,172 171,150 166,160 186,183 201,193 176,146 178,190 176,151 175,147 179,153 193,183 198,181 189,150 198,188 194,180 172,182 195,182 189,156 200,160 185,155 198,158 165,162 181,148 190,151 168,164 186,186 163,181 161,175 168,161 205,183 173,176 196,183 186,154 206,168 204,180 207,168 183,146 191,187 203,158 171,170 174,151 183,153 181,147 180,186 168,167 210,178 199,192 172,164 198,154 172,180 159,171 200,189 202,169 173,175 179,145 209,172 203,193 177,179 199,166 205,169 206,169 166,165 159,173 202,180 173,185 187,154 163,161 174,183 182,183 205,156 197,191 181,151 161,183 196,153 191,186 193,183 160,174 165,178 203,177 167,181 196,191 180,186 191,186 187,192 175,145 201,170 188,188 181,191 204,158 177,184 189,183 182,183 173,162 184,146 180,186 188,157 207,176 177,144 170,169 183,186 208,170 171,159 198,182 199,183 168,162 206,176 190,184 196,158 165,165 176,180 197,159 200,162 185,152 172,156 178,186 172,153 202,167 161,178 170,158 193,153 186,185 174,179 182,188 192,186 165,179 191,184 207,173 182,149 170,179 198,166 205,163 166,161 191,153 187,154 192,187 199,159 173,153 197,191 176,157 195,157 204,152 205,190 196,152 208,176 182,148 167,167 193,152 199,164 201,192 201,180 177,143 200,184 184,150 167,168 165,182 187,187 199,177 193,191 183,188 179,188 194,187 189,156 171,177 205,158 159,168 196,189 168,174 175,158 192,156 166,164 184,188 203,180 168,183 204,183 170,184 172,170 184,184 180,151 198,161 192,150 207,170 162,165 202,179 197,183 168,172 175,185 186,192 203,155 162,163 207,156 182,146 165,169 178,151 184,191 197,190 169,163 160,165 173,176 182,189 204,155 206,159 160,174 167,165 168,174 183,190 200,189 180,150 172,170"/><polyline class="r2" points="210,161 155,172 172,190 194,139 213,157 154,171 195,142 196,139 160,186 217,170 158,163 184,145 214,172 209,140 161,185 207,149 199,195 204,144 212,174 175,142 169,188 208,167 171,192 203,139 163,188 174,190 185,195 186,193 194,196 165,187 209,156 193,141 218,170 212,166 186,145 191,141 162,196 199,194 190,195 194,196 212,176 169,146 199,198 161,196 212,153 174,143 161,194 153,174 169,151 209,156 207,190 174,189 215,163 209,154 166,189 193,196 191,142 211,153 162,154 168,147 204,139 164,194 155,178 207,184 189,142 209,158 161,196 184,195 195,141 217,166 163,191 158,166 194,199 208,188 210,166 193,143 191,137 157,163 162,154 170,191 165,151 159,166 211,193 164,188 210,163 178,140 214,165 207,151 158,163 212,175 208,140 163,192 168,149 215,167 158,171 158,173 181,195 211,157 166,195 209,179 186,143 159,185 163,153 201,197 157,175 154,174 200,151 160,206 205,143 213,172 192,141 157,175 203,187 190,196 159,165 204,151 206,139 193,200 206,187 174,195 170,192 164,187 206,192 197,136 156,171 166,188 157,166 209,184 170,147 202,152 207,145 195,139 215,167 164,156 163,196 214,169 156,178 194,146 204,151 166,197 161,180 175,188 193,143 162,193 190,197 157,174 163,150 190,145 209,168 163,157 162,186 204,195 181,196 204,145 163,157 156,174 159,168 161,180 211,181 213,173 192,147 167,150 210,192 198,136 171,188 158,154 186,146 167,147 158,159 173,190 208,147 186,145 162,188 189,141 199,196 208,167 206,195 208,145 197,198 159,164 161,190 191,144 202,194 204,140 213,169 189,196 190,140 169,145 170,192 163,150 168,194 195,143 215,164 209,144 178,143 208,188 195,137 174,140 210,183 195,137 154,180 170,191 175,191 171,194 199,152 205,152 163,186 200,151 191,144 205,144 185,194 156,173 174,191 198,139 211,158 210,142 181,143 188,144 162,148 156,178 183,195 169,150 189,144 213,158 203,149 160,150 177,190 194,149 209,154 205,187 173,143 208,151 209,161 212,154 187,145 207,193 196,150 212,163 210,187 208,189 164,192 184,146 209,186 195,137 193,136 211,160 160,155 203,142 210,173 160,179 155,179 215,164 168,149 164,194 185,197 198,135 176,192 176,195 156,185 180,195 205,147 153,173 193,141 194,137 203,185 159,173 178,194 191,194 155,177 214,175 209,139 176,193 210,152 181,198 212,167 195,141 208,153 212,159 167,196 167,192 165,195 167,189 193,146 195,138 160,193 210,144 162,197 164,154 157,180 213,141 165,195 169,193 219,168 201,151 173,190 208,144 183,196 207,163 167,150 171,194 155,172 209,183 211,186 212,170 206,148 157,175 209,139 166,187 200,195 184,194 179,193 180,142 173,142 170,191 160,182 171,186 207,166 210,138 191,137 194,139 207,195 179,139 160,152 170,186 206,189 158,183 191,146 163,192 159,172 206,194 157,178 161,187 209,184 185,143 195,197 217,171 209,143 162,148 160,157 189,145 219,166 172,143 210,183 162,155 160,155 217,172 161,198 167,153 204,142 182,141 216,166 205,148 156,175 203,185 209,170 179,142 213,172 192,198 214,175 171,148 166,192 204,140 164,147 188,196 160,152 214,166 190,199 161,158 167,186 161,159 159,154 184,195 211,156 211,155 194,197 195,148 160,180 159,196 160,157 204,141 162,155 202,195 209,146"/><polyline class="r1" points="250,192 166,139 252,154 298,139 250,153 251,146 45,237 45,83 152,133 196,278 221,191 121,241 255,263 216,216 157,140 287,202 155,230 175,214 151,287 130,136 176,199 152,166 57,95 97,275 241,3 216,130 148,169 230,191 31,189 70,312 219,100 263,166 247,101 134,229 220,96 247,211 196,242 237,93 176,93 138,174 53,174 128,203 226,314 207,68 251,181 213,153 151,235 129,251 264,226 175,218 182,221 214,134 136,152 243,129 145,161 141,93 -8,268 100,139 155,126 138,288 306,291 136,94 152,70 172,197 267,192 225,59 143,240 184,-5 211,224 135,169 262,81 232,140 15,263 131,257 197,110 233,173 89,202 142,115 79,63 78,171 111,166 71,158 283,144 301,245 219,116 200,141 124,122 252,166 326,164 124,165 200,144 123,233 208,73 181,232 121,148 204,36 70,195 140,172 212,139 156,331 255,216 234,7 189,130 110,150 176,135 193,243 257,159 229,173 172,237 142,69 198,211 110,268 239,187 145,123 161,203 200,221 204,133 256,133 199,199 142,180 249,317 154,201 135,162 214,140 203,117 145,178 1,122 251,27 162,118 164,95 148,145 46,112 141,215 25,271 169,216 186,118 281,154 51,127 165,98 150,197 135,204 147,133 180,227 114,133 196,229 214,139 245,227 235,188 315,278 149,143 199,142 43,205 146,169 259,115 312,286 173,109 142,144 297,78 157,125 164,98 210,104 266,146 199,214 213,134 119,137 188,120 -3,131 286,198 216,159 255,151 182,128 222,130 206,237 221,187 243,178 203,248 285,144 138,99 251,203 180,104 217,191 150,218 226,152 288,165 182,138 319,209 161,144 259,184 179,214 154,163 151,45 346,235 226,229 139,175 168,70 175,120 174,132 185,211 256,276 233,173 222,183 256,208 138,170 121,125 161,143 211,226 217,197 171,283 205,136 285,115 227,198 94,206 152,165 215,187 230,97 334,61 323,283 198,313 259,250 170,48 136,50 112,100 291,248 136,161 140,163 206,198 251,126 107,170 195,123 174,219 245,27 213,85 226,142 126,141 134,213 229,189 135,181 143,235 94,230 296,155 168,141 133,177 18,215 106,209 164,233 292,158 246,117 145,198 224,169 147,197 95,235 122,151 186,141 170,140 177,63 288,213 55,199 234,117 213,136 235,97 139,197 223,173 260,137 222,184 169,232 344,87 245,187 70,129 211,190 343,140 129,116 182,91 262,272 176,114 258,220 155,215 233,148 137,184 176,215 120,218 304,164 238,199 95,88 213,147 321,193 132,199 215,184 247,198 137,320 342,83 216,143 249,102 145,161 103,113 230,197 21,326 142,152 257,136 221,147 192,224 295,278 179,222 262,151 168,222 165,130 146,163 348,215 259,95 279,163 104,212 208,80 208,198 190,218 1,210 160,30 261,181 163,220 153,205 257,240 17,52 261,152 164,106 243,258 161,248 330,137 336,83 198,211 197,96 314,127 53,63 237,155 120,186 157,161 82,171 127,199 301,161 228,95 209,206 123,133 86,132 220,133 174,113 113,237 252,191 252,162 221,163 247,300 224,132 241,96 160,204 15,29 162,291 108,124 172,213 142,152 126,57 153,347 179,126 144,127 170,199 103,284 204,244 236,152 260,141 122,255 109,234 324,161 242,45 210,196 199,229 259,262 302,300 168,113 132,124 207,137 80,89 373,43 211,236 127,192 148,218 77,344 232,118 107,147 275,165 191,127 101,250 163,117 32,250 231,180 101,172 298,189 176,124 174,206 242,223 43,112 183,133 97,225 165,240 242,136 188,135 156,79 156,275 153,212 277,135 196,212 317,279 138,104 195,113 136,118 204,239 221,258 233,325 211,210 147,177 86,228 324,179 197,261 219,124 114,268 219,149 101,226 240,200 290,10 154,142 312,273 200,82 245,118 231,113 97,260 239,185 224,135 154,136 166,31 183,126 198,222 127,185 139,214 232,145 247,46 166,268 94,77 215,189 263,108 132,181 237,167 225,167 166,141 28,44 342,193 119,117 35,304 218,174 287,234 196,129 137,183 218,155 224,39 350,4 209,109 217,10 334,280 199,124 21,237 216,92 129,154 263,179 285,134 235,76 174,225 152,144 159,189 209,196 166,127 128,234 165,131 87,244 215,117 215,111 146,241 269,237 169,239 197,283 132,139 122,88 144,255 155,141 160,209 106,185 179,235 216,293 152,208 141,217 116,210 179,257 173,196 226,161 148,145 151,181 138,218 171,219 150,165 122,103 178,199 137,308 153,136 363,138 75,193 152,212 148,178 95,182 290,192 229,166 112,127 350,323 176,212 303,86 138,203 332,15 229,144 182,217 127,155 76,310 197,201 126,157 316,122 247,177 166,201 244,174 143,289 252,90 188,202 199,131 135,168 25,216 196,314 220,125 109,97 121,5 214,141 142,198 226,190 130,94 151,183 153,159 135,168 181,219 242,225 151,141 181,207 348,338 149,224 85,42 222,214 123,169 109,58 258,276 250,173 211,114 249,186 219,232 50,117 213,156 129,95 118,94 105,178 199,236 109,214 108,153 122,22 155,111 189,295 83,244 170,201 142,158 256,224 172,197 111,172 177,87 216,179 137,200 351,209 162,229 135,175 132,154 153,166 126,177 165,143 105,134 267,96 131,266 150,171 198,66 249,117 137,221 124,276 185,117 146,171 156,119 70,315 213,192 210,132 191,216 294,159 242,196 274,235 197,220 317,107 183,275 256,158 120,175 306,233 210,133 146,112 76,249 224,205 95,212 275,176 149,130 170,117 26,48 139,219 174,116 94,165 106,152 252,143 158,59 144,240 188,219 140,191 59,315 227,292 19,333 153,184 204,264 136,155 141,109 252,216 226,183 132,279 196,200 184,205 105,120 204,210 283,161 226,219 244,100 168,94 218,251 249,162 164,120 228,195 223,289 210,203 234,28 250,226 173,241 184,210 216,333 115,291 334,88 253,205 242,141 165,241 171,304 174,197 219,244 205,103 190,270 1,73 154,216 225,181 317,226 260,241 183,94 144,168 276,109 99,220 230,230 173,198 209,105 125,150 170,33 51,91 90,154 268,292 266,102 118,22 132,290 243,135 325,189 161,205 297,172 161,207 207,210 141,29 158,140 147,300 216,90 161,146 152,214 200,268 118,196 28,107 236,207 333,-6 232,105 270,210 110,186 221,122 306,217 228,122 172,205 119,133 303,173 183,211 222,130 334,104 147,156 140,188 138,168 70,11 133,200 224,66 135,100 193,206 223,152 240,122 162,234 164,127 289,289 237,122 223,170 180,63 170,136 180,213 291,112 233,191 145,147 268,120 226,199 175,134 263,188 137,92 139,126 186,122 128,61 152,94 332,323 241,179 76,163 194,246 223,272 263,204 187,126 278,187 161,147 163,227 195,212 189,114 140,132 239,186 214,212 278,160 202,301 50,65 139,136 213,184 235,191 205,306 134,122 127,108 176,122 273,172 211,134 206,202 175,296 172,208 218,66 103,156 37,173 164,50 182,110 139,132 293,307 251,159 220,249 262,300 97,255 97,114 167,197 126,115 222,178 209,220 137,152 226,175 36,185 213,166 183,134 130,128 165,146 183,90 160,148 116,81 257,174 145,276 234,115 105,234 189,126 37,199 133,193 189,200 217,267 104,127 102,72 187,237 37,-2 136,161 158,200 60,132 158,203 147,201 229,314 202,269 87,159 218,211 245,115 133,180 200,89 175,231 362,137 180,118 214,202 160,200 248,187 208,124 140,255 3,292 203,329 263,143 245,222 181,206 163,206 256,188 121,14 193,224 131,232 174,119 214,84 40,155 123,165 220,183 300,62 82,210 227,178 155,185 208,118 176,127 270,36 277,337 208,211 123,177 188,21 245,148 139,157 131,152 204,136 184,134 136,208 210,195 207,342 166,229 214,93 217,162 154,129 176,137 107,135 223,201 174,244 240,165 59,262 166,145 64,259 286,313 86,172 158,210 242,250 115,140 311,116 209,113 127,175 199,216 321,301 239,163 127,200 145,108 157,110 205,127 160,116 121,173 123,238 226,110 195,211 226,178 250,72 188,199 91,250 112,294 115,223 176,115 41,184 172,122 106,162 199,269 119,261 138,125 159,263 132,174 191,208 130,30 211,135 121,167 121,74 225,147 128,226 127,233 335,7 131,184 214,131 223,143 294,88 210,236 350,262 230,148 137,208 165,112 169,220 143,113 153,105 163,269 220,152 179,69 236,7 215,240 88,168 239,230 267,221 138,145 199,228 242,82 100,281 227,218 106,257 106,206 214,141 215,177 142,177 225,17 235,212 125,229 239,243 285,168 323,107 302,193 217,179 260,82 145,134 203,114 200,231 305,162 199,112 117,14 171,95 158,140 99,192 208,138 224,194 196,109 157,107 312,134 334,135 185,201 360,67 283,298 188,244 111,151 224,136 205,70 125,267 257,237 261,262 129,311 165,130 325,122 108,105 221,156 258,271 169,301 144,142 117,215 224,142 168,221 357,19 202,218 182,123 294,175 136,95 219,227 114,332 109,192 94,99 221,185 355,114 175,138 206,263 231,183 215,203 218,195 341,173 246,284 157,243 152,191 179,101 329,115 232,193 121,227 312,143 139,132 191,224 243,166 162,220 232,163 182,251 231,313 274,127 198,231 168,255 260,146 250,129 132,158 175,197 112,327 220,282 73,194 164,303 290,203 233,187 237,124 178,238 308,130 152,118 168,117 181,131 96,245 196,225 240,175 226,122 147,114 232,160 223,189 39,183 171,71 171,200 143,226 355,46 155,244 249,138 241,206 172,96 167,230 182,217 297,154 56,14 206,197 250,248 110,129 171,129 260,89 222,149 154,152 51,193 154,273 141,186 4,190 229,194 80,160 218,105 149,48 197,127 143,136 158,199 170,127 143,155 140,89 138,144 143,12 114,117 137,81 255,35 106,-4 155,63 241,184 69,277 138,164 193,209 196,46 241,187 28,150 138,204 231,84 159,254 193,286 257,141 185,123 243,156 223,164 145,123 153,141 153,133 205,223 150,136 91,274 366,234 160,66 143,196 321,190 218,180 236,240 88,86 126,254 101,212 156,39 239,222 178,200 167,145 221,180 127,254 283,167 212,217 242,234 169,133 200,119 361,247 213,127 203,133 119,122 155,123 199,138 156,143 229,170 244,287 126,152 154,183 246,245 322,211 314,277 122,216 249,186 302,92 79,154 223,30 254,257 130,152 154,194 115,189 172,123 138,97 145,301 5,226 115,196 256,155 212,89 154,107 226,154 142,218 241,141 159,192 148,192 231,195 142,189 178,213 161,44 189,137 212,137 208,196 185,203 158,237 173,214 197,210 331,138 204,109 228,211 213,114 243,95 254,314 244,245 51,192 196,125 246,181 95,112 165,109 161,201 249,118 194,227 193,92 175,-3 72,218 122,217 199,141 81,176 178,235 185,79 141,205 157,21 173,128 288,225 202,129 175,120 92,190 252,176 212,216 156,230 213,147 171,34 117,208 208,109 154,221 216,229 223,203 99,220 96,62 220,160 182,207 134,89 94,289 240,177 254,233 204,67 160,123 252,123 179,210 330,169 212,134 146,242 125,150 159,239 226,153 288,22 129,235 177,244 259,63 158,198 148,169 173,207 233,180 138,132 178,203 59,145 213,183 -8,33 178,203 193,111 39,214 183,206 105,135 138,224 200,203 240,175 157,210 173,214 355,88 249,73 165,120 196,243 193,218 156,204 125,275 184,139 287,149 244,1 261,308 219,176 239,76 170,128 227,265 146,300 145,76 161,144 61,205 248,92 160,138 98,154 156,233 152,271 166,48 268,163 188,122 192,127 121,62 221,116 250,72 336,271 155,185 187,211 116,148 225,103 143,181 110,132 256,111 271,187 97,181 97,142 219,162 261,141 364,342 223,68 248,102 82,26 158,205 232,165 225,234 196,202 237,170 156,96 130,116 229,227 191,201 184,129 117,193 151,218 147,169 248,130 271,34 71,142 135,164 255,195 107,173 249,258 243,206 112,175 241,135 161,130 215,176 240,131 224,148 218,187 87,220 268,138 185,201 189,137 223,205 11,246 156,235 139,212 125,252 247,159 228,172 148,209 133,127 65,121 174,201 192,207 128,177 171,213 155,165 167,136 151,262 237,209 146,195 155,211 148,144 250,91 128,131 146,150 155,141 136,186 79,167 88,91 208,118 134,179 146,182 144,148 195,213 244,199 241,220 236,208 184,220 145,176 223,168 283,162 348,54 271,189 208,25 95,225 201,286 163,260 218,85 363,239 227,173 256,305 59,231 213,61 167,116 255,127 210,209 222,215 115,105 223,150 78,130 225,242 180,112 230,165 288,98 294,153 110,313 151,141 148,209 262,201 225,317 143,120 267,225 86,82 135,186 172,212 142,169 172,133 216,202 150,84 260,130 27,98 219,314 95,101 14,182 4,136 219,186 132,156 306,233 184,125 243,238 230,166 152,114 217,209 133,261 231,209 129,118 296,189 155,138 224,177 84,100 67,204 130,139 163,132 220,172 150,206 263,54 274,227 175,95 288,17 128,208 255,133 217,204 228,246 247,225 198,207 -6,230 148,200 189,73 163,224 102,156 163,141 196,95 60,209 259,247 187,202 207,345 258,117 78,248 189,85 285,195 132,275 191,213 175,272 207,263 190,259 34,71 254,203 322,142 233,95 206,133 235,140 186,211 192,270 215,108 251,211 248,101 138,158 154,164 213,166 149,220 148,245 107,211 152,180 2,48 221,131 214,203 141,199 221,163 159,103 151,157 235,178 211,196 131,161 221,108 143,147 142,171 258,-7 108,234 220,97 266,136 223,177 108,209 256,125 233,226 197,246 69,190 121,265 213,145 155,258 120,43 187,134 287,284 149,163 248,86 190,88 233,113 282,243 102,231 208,117 191,128 212,148 106,72 192,103 213,70 104,193 78,134 124,70 204,236 240,182 120,117 129,27 9,91 264,228 146,222 287,15 190,213 251,185 222,253 205,131 185,111 212,194 279,239 48,194 271,196 159,195 187,215 164,241 224,141 217,109 57,148 228,226 250,180 170,139 201,121 219,132 312,128 128,167 322,83 235,311 113,154 259,185 353,212 200,138 237,231 170,264 177,234 162,136 159,103 154,141 195,72 236,132 133,156 184,70 151,150 322,170 194,53 308,251 108,276 245,118 221,179 328,347 178,204 258,315 133,165 193,214 153,183 289,242 131,129 200,206 81,199 117,168 154,99 173,139 94,163 239,54 122,160 147,85 161,219 193,237 190,81 116,138 188,326 185,289 128,197 59,295 218,199 41,248 248,127 239,174 127,197 49,265 131,157 250,170 154,169 150,133 234,122 181,207 130,128 89,131 240,174 173,197 180,301 279,234 190,221 223,160 165,126 179,122 154,73 164,139 253,213 256,214 200,107 174,206 94,221 178,119 87,330 222,197 128,141 140,211 195,226 180,137 337,71 240,94 209,128 188,139 158,207 258,207 185,211 211,150 218,139 240,110 290,81 147,244 163,200 224,163 186,124 210,99 100,165 159,127 288,87 222,180 319,203 258,255 215,177 119,207 149,165 229,159 271,143 157,103 184,119 125,302 157,141 95,298 247,204 301,173 341,132 137,319 211,207 275,153 169,131 122,233 162,88 95,244 187,132 239,175 87,95 231,213 166,107 130,201 173,137 218,160 252,140 210,98 289,257 272,206 239,187 149,142 129,163 122,133 173,198 129,146 149,215 228,193 145,141 284,151 259,174 239,223 139,199 93,233 218,86 150,261 160,200 240,223 227,99 325,193 218,196 144,100 201,144 286,301 201,219 210,207 306,51 313,185 266,214 85,166 184,116 272,237 228,127 208,127 215,150 159,214 173,127 220,179 147,185 88,77 371,342 304,85 171,256 321,323 208,135 129,164 110,163 215,140 221,182 258,191 185,213 162,205 140,189 217,156 139,205 245,228 153,204 213,178 188,253 162,200 250,259 63,222 216,216 148,22 217,124 233,215 222,144 240,150 196,115 162,321 181,15 137,169 225,123 232,91 220,308 241,253 176,90 141,44 191,204 218,161 156,119 235,165 141,128 145,146 240,37 149,117 251,171 231,256 221,45 125,229 141,152 221,145 237,184 259,155 304,171 219,213 203,115 83,168 251,106 147,205 240,108 222,175 172,198 208,138 157,234 111,1 188,109 167,140 47,61 172,139 248,176 183,202 164,215 212,227 32,340 291,126 143,263 245,55 198,119 132,192 180,89 262,173 188,205 192,234 53,239 183,85 249,170 73,174 264,87 216,136 158,210 132,235 105,234 296,139 218,157 233,117 231,153 306,201 136,132 151,121 168,239 -7,124 162,49 174,219 128,296 161,136 46,250 220,223 11,187 216,176 140,183 159,196 89,130 126,167 219,136 164,216 140,55 196,121 186,50 138,132 155,149 217,86 64,166 156,162 160,218 258,249 157,146 175,210 180,220 223,264 368,208 306,192 253,203 148,111 206,208 192,236 110,280 344,278 187,210 225,175 304,210 135,159 155,96 134,80 163,202 220,174 349,111 319,80 153,172 196,108 151,188 149,216 232,191 137,212 144,206 181,112 262,117 8,205 148,129 133,208 135,243 273,150 134,218 250,306 216,238 285,180 140,175 136,124 304,131 46,180 276,123 292,149 348,278 217,188 345,50 261,221 76,203 56,85 212,145 289,276 141,200 230,206 120,50 213,199 257,176 170,273 113,155 110,183 170,232 194,129 217,215 232,208 130,139 255,79 235,194 217,121 183,122 51,230 312,232 126,292 157,130 107,97 149,173 261,153 365,255 216,135 204,245 115,70 226,218 142,203 180,276 216,180 178,106 240,114 205,128 312,45 276,140 191,87 294,144 250,194 242,174 143,174 143,206 155,188 88,40 370,235 62,198 79,168 140,195 110,251 219,212 202,228 142,102 92,127 235,168 117,164 156,237 186,223 298,152 159,192 104,146 214,188 226,204 228,144 358,277 111,175 241,121 186,109 143,97 234,193 142,31 263,196 115,93 172,261 37,94 165,58 80,49 145,141 23,84 212,203 365,61 184,137 211,92 168,232 246,33 220,157 248,260 216,207 235,195 263,255 182,108 175,198 134,177 172,200 146,307 246,131 203,212 229,131 232,84 185,236 223,136 185,210 201,99 303,174 148,207 284,174 235,156 121,9 278,147 91,214 147,53 130,135 215,193 18,94 211,118 147,133 161,127 90,161 250,213 234,121 296,281 153,221 224,173 133,184 277,164 226,201 258,113 211,196 245,153 315,172 320,200 114,97 212,127 149,155 231,189 143,228 286,155 131,171 145,182 201,58 92,173 181,249 172,135 135,235 230,171 375,197 86,252 83,343 249,187 242,222 -6,205 129,114 147,230 172,127 190,225 116,153 176,208 26,82 105,141 219,199 245,171 180,122 279,122 144,168 137,161 212,141 144,126 123,142 269,204 146,219 269,166 151,144 115,203 181,243 220,87 31,208 211,293 224,164 242,100 136,101 146,81 215,245 189,233 243,164 152,148 111,179 213,127 251,162 90,251 165,130 90,88 167,112 108,146 151,198 221,167 188,72 236,207 270,234 187,105 302,98 50,183 174,138 180,231 344,222 142,162 139,274 264,170 116,242 184,201 228,260 170,218 181,123 302,202 118,240 95,275 40,200 203,204 277,158 160,49 112,189 144,159 128,211 142,115 125,184 225,115 248,149 129,185 119,189 125,260 253,174 288,282 195,202 86,221 151,282 208,209 274,187 183,284 214,190 83,238 200,84 242,105 198,121 160,220 140,139 156,111 161,292 248,168 197,202 252,176 118,115 180,127 87,174 272,101 123,184 221,170 73,126 168,115 66,86 -6,302 209,138 108,216 259,194 204,116 232,185 11,265 313,260 172,117 166,200 221,122 138,138 183,65 201,108 146,148 187,118 262,225 254,51 319,179 148,130 208,230 231,190 164,107 308,118 219,184 162,283 168,231 85,265 165,107 170,205 142,175 171,113 122,208 256,178 232,207 247,269 226,123 153,164 195,234 350,144 57,252 228,144 102,211 219,166 153,167 185,91 240,242 90,64 249,151 282,235 161,46 225,272 165,208 348,295 130,187 262,129 299,256 146,143 124,178 301,42 198,222 226,188 161,205 179,209 168,116 217,149 126,167 198,106 181,32 59,166 199,119 273,170 93,160 224,283 244,143 230,216 95,222 256,163 355,225 132,170 179,198 82,142 169,248 132,6 185,140 171,226 139,130 235,152 271,204 250,329 311,102 182,225 221,137 189,112 240,122 226,244 268,27 166,108 216,127 238,185 137,96 132,186 231,160 102,138 206,82 225,195 142,108 30,117 217,197 152,70 155,191 210,234 109,185 260,164 225,134 129,200 314,171 146,182 56,175 154,166 4,13 75,141 111,16 288,280 235,197 203,144 236,278 8,303 177,83 206,73 93,142 120,196 286,143 178,117 194,201 171,206 236,182 185,201 199,99 260,234 234,254 248,64 161,233 167,204 199,201 163,141 80,211 260,258 270,275 303,147 193,226 194,100 237,114 239,198 272,273 157,128 171,135 156,249 88,71 221,116 169,212 222,229 93,178 146,180 194,-6 217,267 167,119 149,177 288,100 194,132 264,173 268,55 104,141 239,143 206,218 197,84 198,206 280,191 104,153 141,206 145,139 282,134 113,198 318,182 158,148 222,169 199,142 255,207 279,140 215,112 320,155 229,164 60,209 140,166 291,162 342,143 173,199 202,225 234,72 211,211 225,203 255,223 206,209 82,156 241,132 243,64 175,128 273,213 323,84 122,216 121,237 140,141 258,139 150,256 193,328 157,245 254,146 30,124 105,132 258,198 249,148 100,196 258,52 244,184 214,3 245,129 212,114 112,168 144,191 101,65 189,208 167,266 183,209 110,124 170,140 91,116 214,195 193,208 151,151 295,226 105,121 206,138 193,213 226,194 373,265 214,133 142,194 66,124 207,207 306,125 237,173 246,90 201,244 132,85 330,277 230,100 133,207 283,69 64,171 159,119 121,185 156,159 282,44 107,13 54,221 228,147 178,240 212,305 200,124 224,141 195,93 197,120 58,66 108,309 216,233 255,161 279,307 158,100 -2,89 239,173 188,133 145,81 260,155 241,138 213,146 236,71 254,263 215,234 163,112 158,74 183,210 145,144 218,138 319,90 189,227 246,220 143,204 177,231 204,54 235,102 204,83 151,174 110,157 252,225 149,212 199,204 148,224 88,211 187,335 220,138 123,183 219,145 233,139 121,266 196,199 219,176 257,157 162,129 115,159 274,136 180,263 184,235 218,153 236,189 227,324 151,212 141,103 140,278 139,148 133,91 254,63 184,201 309,318 262,171 99,155 123,17 231,213 216,212 211,111 86,248 49,204 255,220 319,254 136,177 206,106 280,87 164,223 163,139 159,80 187,134 177,198 151,242 137,37 158,150 62,294 146,198 213,117 148,212 71,233 154,152 183,207 213,118 252,247 96,178 219,273 172,333 139,220 336,311 217,134 129,179 186,83 153,195 123,185 112,99 175,229 262,215 191,66 151,186 260,181 148,144 342,211 205,221 217,183 218,211 132,145 88,98 146,185 212,134 150,101 192,210 319,266 232,189 136,205 173,140 155,110 166,94 159,149 171,101 118,145 154,285 24,287 206,241 258,218 198,226 208,217 127,95 173,234 305,181 128,223 205,120 165,300 157,210 149,181 140,182 237,233 94,128 233,170 82,97 184,239 212,215 283,127 274,199 214,146 76,75 256,94 345,217 152,198 191,84 132,223 100,82 131,163 217,50 159,123 345,96 118,175 252,229 177,300 144,76 134,140 143,170 131,182 120,172 166,248 166,119 176,112 285,302 167,141 184,59 221,165 112,101 223,177 164,127 95,240 184,247 200,203 137,156 217,143 157,211 250,207 189,208 260,186 225,135 96,154 161,134 135,223 266,121 183,138 216,156 246,210 188,199 340,112 192,126 245,209 117,214 102,90 144,136 181,94 184,113 254,147 268,64 220,150 165,108 122,215 129,178 153,148 158,221 313,227 247,218 218,182 171,98 216,150 146,212 234,184 216,135 55,154 152,170 182,138 235,238 198,227 271,223 152,183 230,170 196,123 128,74 138,200 126,197 226,146 182,217 95,77 144,171 251,169 198,146 177,210 248,194 255,88 152,133 172,122 140,121 148,148 212,195 76,167 197,122 216,178 200,136 216,233 234,89 134,292 192,201 59,9 361,102 171,117 142,110 295,200 218,161 214,124 216,204 149,194 48,168 183,199 171,203 99,201 213,147 206,244 223,177 243,45 258,134 170,134 193,219 174,206 94,73 272,324 265,250 303,146 331,176 145,134 289,140 194,204 154,189 132,155 153,183 162,88 229,186 210,205 156,211 182,213 235,164 118,38 156,199 234,181 206,204 225,146 129,127 147,142 107,161 231,260 234,210 306,174 93,194 91,195 306,86 165,71 213,218 268,182 120,152 157,262 159,210 138,68 157,58 236,236 92,123 94,96 151,156 93,274 118,147 285,220 227,169 215,270 151,260 286,259 176,49 182,199 293,185 217,105 159,200 291,280 168,210 167,215 163,250 228,158 94,182 131,124 224,158 221,180 167,139 234,183 200,138 244,223 283,145 109,86 244,215 135,144 169,121 120,84 141,96 296,215 154,191 188,125 214,176 197,55 172,95 374,89 207,113 157,205 250,158 204,49 173,199 159,229 220,215 144,89 210,244 133,102 163,216 152,194 125,195 108,177 140,74 120,203 194,227 179,122 230,160 234,183 305,178 230,141 222,163 186,257 132,263 230,155 158,150 135,162 213,144 149,280 183,204 182,199 133,109 111,189 247,254 220,13 104,305 134,143 288,251 264,193 230,101 219,315 238,187 133,187 135,195 111,169 223,113 220,176 313,273 374,264 159,147 216,191 129,214 246,98 207,123 217,22 76,199 254,187 222,205 196,232 248,176 257,87 192,130 31,150 248,211 237,69 110,105 143,95 157,158 281,215 188,89 126,250 190,120 138,237 237,214 114,215 207,135 194,208 170,-1 201,95 241,164 154,199 122,106 269,58 235,214 238,155 132,313 128,170 223,159 186,130 242,167 237,204 289,147 185,75 107,322 204,222 181,119 230,112 140,90 158,115 143,139 77,165 165,230 130,221 202,130 206,201 139,208 136,229 139,143 159,267 125,201 176,201 186,141 196,202 211,225 284,264 239,184 167,137 132,170 135,191 144,163 200,132 292,71 212,190 185,66 170,265 217,59 39,167 96,74 167,216 152,189 153,146 128,150 197,123 211,194 183,80 174,87 153,162 130,179 271,91 213,183 240,64 197,128 150,166 140,204 167,197 211,194 130,141 186,119 148,172 336,125 243,308 98,201 230,115 161,148 149,257 191,118 167,201 257,198 151,214 260,228 287,162 132,167 261,94 113,245 239,123 207,200 148,142 113,175 172,224 257,215 212,121 118,157 189,105 139,277 238,106 111,190 147,144 129,152 152,124 130,163 235,220 220,227 227,62 172,206 98,161 162,346 130,192 259,202 92,190 191,241 203,213 262,191 186,208 202,94 149,150 223,182 234,173 246,193 160,144 352,45 203,114 148,177 225,163 143,170 152,139 72,268 183,125 278,3 114,22 219,160 186,228 156,273 142,158 240,166 376,142 133,140 165,199 189,209 159,197 153,229 282,104 376,180 211,52 181,248 205,92 238,132 142,230 149,136 230,163 15,144 282,179 144,167 182,222 263,170 157,219 103,60 214,138 235,86 225,175 226,220 132,144 216,156 270,180 105,227 88,173 194,220 254,199 201,214 198,129 208,72 67,300 143,163 136,253 342,154 197,146 243,205 284,242 229,204 181,231 88,135 109,190 243,171 150,205 148,172 129,192 196,223 197,206 179,199 147,231 152,258 319,327 201,202 203,137 87,205 177,80 261,156 169,119 159,199 284,290 224,136 135,210 179,81 148,85 132,154 152,207 222,177 148,114 187,139 151,144 147,92 174,213 246,51 241,232 240,111 196,70 183,138 123,124 141,181 212,152 213,90 234,176 138,170 116,98 143,345 167,229 316,195 153,194 254,176 265,124 164,215 242,96 123,256 147,158 224,173 306,157 154,136 166,226 268,223 172,214 195,226 227,179 162,201 184,131 212,197 262,218 172,24 90,169 202,199 121,310 46,247 102,215 286,226 224,251 215,85 140,146 150,324 139,182 153,167 220,138 238,114 128,143 222,163 172,214 161,237 148,126 281,246 218,139 256,197 266,153 342,101 184,270 225,151 74,188 170,128 235,21 272,117 131,235 166,297 121,189 291,186 349,331 54,126 160,106 142,141 239,262 153,185 225,158 156,194 182,102 162,209 244,69 175,217 141,306 161,208 77,177 124,89 154,162 148,172 159,147 229,161 276,136 133,141 25,217 186,211 182,220 147,114 180,288 111,158 135,118 172,126 186,142 156,214 263,121 340,131 178,213 171,234 256,136 168,120 68,168 229,169 233,189 287,244 280,88 274,129 201,202 191,135 317,209 249,128 218,163 138,111 360,144 177,201 128,197 108,213 236,174 203,137 202,121 264,36 113,127 130,172 259,70 213,27 225,64 232,171 236,297 140,169 301,37 203,209 239,206 92,102 119,175 154,123 194,347 213,226 328,231 161,233 174,220 260,125 328,334 185,233 234,162 205,196 148,179 225,203 171,244 325,120 101,129 233,194 180,200 243,248 150,133 217,146 124,66 195,73 158,138 101,128 142,215 177,201 181,210 286,163 270,266 209,213 215,194 209,214 84,103 150,245 121,227 366,241 154,210 139,174 212,183 230,122 301,74 194,124 314,157 245,192 235,220 159,194 170,212 149,137 194,230 220,204 94,337 222,126 254,208 129,327 272,155 181,111 219,169 156,208 151,212 180,137 219,186 212,184 171,212 223,170 155,194 195,214 130,144 148,146 187,209 95,111 303,112 180,80 241,241 211,150 162,213 306,239 226,172 125,142 144,191 60,183 147,187 197,147 180,218 152,202 197,145 199,221 262,121 166,114 192,250 185,242 302,57 242,177 206,134 274,271 141,173 223,144 164,199 187,130 199,136 251,207 242,191 193,85 345,100 216,30 125,118 92,72 127,160 153,150 147,186 186,136 150,200 133,229 182,226 93,196 157,204 198,116 147,327 173,297 225,142 203,25 221,219 191,206 319,323 206,65 220,165 202,207 211,221 121,149 3,155 250,158 69,159 180,225 108,95 56,107 221,147 26,220 104,254 142,163 109,161 268,123 84,150 148,132 265,156 207,240 195,219 230,172 151,193 186,226 95,177 237,295 209,57 151,237 104,164 234,334 247,129 105,21 215,185 295,132 96,151 133,147 119,151 218,143 191,265 222,182 70,152 130,127 171,140 201,243 280,64 258,94 339,316 354,237 125,186 187,274 193,230 243,179 318,172 168,128 206,257 221,160 113,158 198,133 319,46 150,202 23,200 62,137 38,198 209,229 244,122 182,256 245,87 229,140 167,133 209,118 213,106 284,180 142,142 169,119 137,156 208,248 314,151 217,104 23,160 205,121 99,118 107,101 217,121 160,129 157,158 316,192 80,166 219,136 230,189 228,161 218,169 147,163 224,143 103,237 235,226 139,70 272,190 236,118 153,199 211,338 251,269 160,207 31,274 156,40 118,180 186,277 164,140 130,138 217,177 126,122 153,120 94,119 232,207 144,290 160,210 182,130 239,138 231,238 279,150 224,334 323,250 217,205 130,154 207,115 375,179 164,139 193,212 139,199 321,186 256,168 341,-6 166,65 7,173 260,150 189,127 242,185 90,190 110,144 194,83 102,286 265,291 131,234 179,217 159,242 238,185 92,121 277,192 159,136 73,240 323,37 181,205 220,121 219,154 151,164 257,218 149,160 197,200 272,135 294,178 233,117 233,112 316,173 102,176 115,259 202,206 43,274 230,159 155,158 160,119 221,183 210,48 4,126 173,219 89,283 143,168 250,108 81,293 256,144 134,191 351,71 123,150 49,233 266,231 102,158 268,156 148,194 282,196 160,225 155,142 186,138 150,178 279,169 233,126 204,246 154,227 202,256 231,12 198,313 252,206 239,140 229,296 210,195 177,135 146,183 223,155 197,245 200,123 204,208 159,221 202,142 246,15 236,186 165,0 337,87 218,306 181,41 192,62 157,190 167,100 332,185 178,321 84,110 140,236 120,105 319,107 56,142 215,190 179,210 263,136 178,133 173,115 218,184 91,239 136,160 241,140 175,210 354,125 260,141 224,152 317,87 173,259 190,124 159,122 134,225 173,112 183,121 166,236 274,259 52,31 169,135 142,173 187,272 335,231 150,205 195,211 137,213 142,88 166,120 310,180 234,196 246,32 197,93 191,215 233,113 197,258 117,163 113,240 275,166 47,221 132,173 224,199 142,186 213,143 43,271 178,122 222,340 181,239 138,99 233,230 146,200 157,129 168,124 38,188 175,224 218,164 264,226 159,124 347,186 111,111 255,133 202,199 161,148 200,135 234,2 20,30 224,183 159,209 73,210 181,134 141,140 164,132 71,220 244,167 353,210 110,178 87,214 284,133 319,114 331,132 67,256 225,205 156,116 170,199 147,76 73,72 128,115 316,101 301,292 158,257 140,115 178,198 125,117 124,199 253,179 128,240 95,140 243,167 82,150 222,172 127,184 198,119 145,154 150,125 196,228 141,120 210,269 147,222 116,174 190,214 227,164 155,93 208,337 262,278 51,79 249,64 195,101 93,230 145,158 154,195 154,139 117,169 202,135 173,134 150,56 80,158 96,134 143,218 147,153 83,248 158,206 218,243 167,132 208,204 231,128 168,205 335,21 212,203 160,116 176,215 51,145 112,162 232,213 5,104 203,82 139,204 161,145 217,199 191,2 128,66 348,57 184,130 139,160 228,189 213,192 218,122 271,247 185,212 51,13 83,272 222,158 147,154 260,123 216,151 224,211 166,137 151,216 14,47 198,44 347,257 157,150 166,200 153,205 195,215 54,22 82,46 283,44 145,135 115,94 201,76 134,152 203,147 146,134 213,305 181,204 212,203 317,287 258,223 192,255 225,223 158,126 117,234 235,123 193,78 60,341 199,300 230,158 228,127 252,190 264,139 246,211 315,193 220,231 228,255 156,217 264,157 172,261 31,51 80,129 154,140 72,161 122,218 179,87 235,195 246,161 221,204 289,227 165,107 167,208 249,194 105,107 106,175 243,153 153,129 177,234 174,207 142,69 211,115 124,179 268,283 92,60 57,340 224,156 152,146 223,148 189,135 130,114 333,125 175,132 207,130 172,208 204,79 204,205 190,213 120,204 227,123 336,321 200,218 316,17 170,135 224,141 21,24 177,124 218,307 161,132 99,177 219,109 198,131 218,16 250,105 185,109 143,217 196,222 285,170 218,144 133,265 123,223 157,277 101,181 222,199 240,211 195,204 151,209 235,137 148,166 152,219 168,137 135,136 127,281 294,156 155,204 132,224 227,182 145,108 123,139 310,317 212,83 229,153 142,175 151,134 229,186 152,225 374,96 107,94 96,12 218,195 153,188 105,188 178,111 46,250 202,197 139,179 258,176 136,192 140,120 136,-5 87,237 174,120 248,152 147,146 167,145 187,133 70,196 152,134 4,241 29,168 233,175 110,191 194,134 160,224 134,182 139,213 55,262 264,134 223,47 166,247 296,261 96,110 213,104 140,229 150,123 146,123 262,106 189,212 81,201 206,135 180,135 186,69 111,225 232,135 198,147 146,170 240,163 219,191 147,218 176,129 237,157 59,109 203,311 236,178 209,231 191,207 300,99 292,19 235,242 168,285 70,314 276,201 188,62 269,74 298,57 225,171 201,134 343,188 91,158 192,255 127,214 144,244 142,186 190,133 86,106 229,113 154,150 180,131 244,161 194,204 226,113 133,142 286,185 309,235 201,227 132,254 195,129 199,127 246,123 184,202 216,225 125,179 224,158 182,218 223,226 251,173 61,255 321,109 200,252 37,63 252,163 243,175 255,252 201,133 274,171 246,170 136,65 227,135 200,140 208,251 135,190 273,143 146,193 251,84 117,163 196,206 219,218 212,145 327,319 130,270 217,150 203,126 315,209 150,210 167,107 153,135 233,263 268,133 202,102 12,314 74,182 200,141 324,30 196,134 42,177 149,268 162,77 243,157 130,173 262,217 193,208 104,199 169,213 244,177 187,133 229,156 244,98 156,192 112,154 200,218 215,145 215,154 207,127 132,214 168,142 206,98 270,247 151,157 179,219 157,244 212,114 186,129 179,134 156,243 146,147 271,205 108,237 206,259 138,247 145,278 211,198 298,310 163,118 246,162 93,135 201,147 172,139 232,160 196,207 136,137 217,138 157,155 145,158 276,187 73,132 143,190 132,189 101,157 219,155 134,101 136,163 255,154 144,304 152,153 207,130 141,186 164,249 209,235 229,155 137,243 318,159 262,62 218,171 146,243 157,125 189,40 114,137 232,147 232,149 206,197 135,145 110,122 228,153 164,273 227,311 156,102 56,26 182,259 162,135 246,247 102,177 198,206 145,176 156,187 85,342 134,178 218,209 178,136 171,339 231,190 150,61 237,175 213,188 216,180 155,307 252,190 214,215 162,143 150,222 212,75 221,226 216,197 223,139 242,130 230,129 316,200 114,134 183,212 130,187 205,228 188,320 197,98 185,127 162,252 161,200 197,46 173,207 141,186 215,196 344,314 227,133 302,327 144,241 103,205 63,145 217,218 209,110 265,143 40,89 276,177 169,204 291,70 200,204 240,206 196,102 152,218 322,299 124,234 109,144 266,239 252,146 210,130 296,63 250,251 141,183 209,256 176,276 333,180 124,122 122,-6 126,166 245,143 213,112 280,285 140,216 110,128 144,211 197,133 269,145 134,222 214,130 143,177 245,176 192,209 211,47 355,289 126,125 238,261 101,252 71,181 124,97 119,109 199,221 153,182 63,67 140,207 210,225 113,50 312,201 271,92 248,340 165,237 148,240 200,287 247,45 194,216 171,201 216,151 223,203 196,101 73,82 107,177 142,153 242,251 293,215 318,189 163,208 166,127 328,101 190,100 164,209 214,182 307,125 232,131 167,136 191,133 100,228 331,109 122,185 185,111 317,93 163,230 275,131 114,167 170,55 41,127 159,192 243,91 223,197 124,196 16,138 277,220 198,235 242,158 168,229 147,164 302,186 114,159 159,109 174,62 226,130 62,315 163,318 153,194 149,270 186,133 158,155 252,158 259,242 230,169 102,114 203,121 218,159 240,136 105,175 92,226 161,134 180,129 205,197 212,26 230,113 112,103 131,219 178,121 149,159 209,112 100,61 190,120 251,156 144,154 129,173 191,217 285,173 244,224 206,113 341,238 221,105 232,153 324,173 239,116 103,194 150,160 217,156 214,271 269,122 278,114 223,129 236,209 11,191 62,152 137,154 196,252 335,274 153,250 274,279 226,150 267,117 188,270 46,101 262,106 127,92 68,145 308,155 17,279 86,269 191,228 231,150 119,235 172,134 166,144 290,14 197,308 140,129 196,220 128,281 229,151 217,108 225,178 291,153 271,105 236,177 153,179 266,97 223,212 247,226 152,118 211,201 214,220 216,136 171,102 244,156 41,-2 178,125 195,129 160,124 321,85 217,36 230,208 192,90 265,125 229,177 170,199 124,90 191,87 151,172 223,210 36,58 203,129 261,131 211,120 194,301 215,188 305,340 205,204 133,172 273,23 214,182 120,116 146,181 223,110 156,126 213,108 214,140 198,121 249,186 239,280 147,200 157,214 200,200 168,137 133,251 19,192 280,191 277,88 138,170 169,104 257,-5 200,112 244,186 309,109 323,169 172,229 167,229 177,213 176,285 180,208 254,190 242,170 154,225 144,100 204,217 169,219 214,202 181,103 254,143 132,207 226,195 199,115 119,227 140,119 156,205 235,227 113,129 127,111 192,92 214,223 194,130 152,168 169,126 164,200 201,122 146,164 116,223 229,228 206,119 165,119 87,53 203,66 167,144 253,213 181,204 370,268 160,212 248,186 221,128 154,210 59,124 58,140 186,203 154,158 121,82 148,148 140,210 186,204 232,140 212,184 280,92 183,234 139,154 178,106 235,185 334,86 158,271 225,135 65,176 131,332 299,155 140,193 91,255 268,120 340,276 127,197 220,244 141,202 192,227 155,138 223,220 84,265 182,129 273,122 237,199 64,193 98,142 184,100 237,214 271,102 174,138 239,185 125,246 176,207 127,145 244,191 168,218 117,177 187,262 90,99 6,136 186,209 213,144 189,323 311,257 175,232 150,178 319,105 170,239 112,136 148,94 234,184 151,202 177,72 164,228 343,323 146,149 231,196 162,132 182,137 153,137 154,181 315,143 241,130 280,298 105,262 165,142 223,75 302,210 174,259 189,202 161,283 289,130 167,99 220,236 223,158 24,156 154,191 251,198 310,106 221,73 235,197 159,222 94,315 163,300 70,260 134,129 245,185 262,184 220,199 225,239 150,215 217,207 152,140 245,119 187,213 251,174 150,196 307,31 141,178 121,127 217,153 197,77 164,242 123,138 195,79 137,164 243,70 112,200 205,214 213,184 104,170 240,168 170,105 87,231 48,131 233,182 275,107 133,80 161,48 222,129 148,135 184,127 228,98 212,201 177,129 249,189 294,188 99,84 247,149 102,198 201,207 194,209 208,200 134,123 174,96 282,122 179,83 172,213 187,222 230,214 256,193 96,137 125,134 159,227 296,163 150,275 57,215 362,20 206,132 219,74 162,146 235,205 7,31 303,132 62,298 225,201 147,126 103,154 213,122 143,192 156,151 105,210 151,184 109,176 130,167 201,197 340,242 214,120 153,142 277,190 358,216 370,246 230,142 319,109 168,114 157,208 208,129 355,87 143,22 153,323 227,196 87,221 132,158 169,201 321,178 153,105 289,212 165,131 166,105 148,172 206,275 249,87 122,212 148,200 246,182 143,125 318,135 277,187 282,150 334,279 92,178 136,179 30,238 137,143 157,189 239,206 203,209 240,161 142,190 215,134 127,102 221,151 129,218 220,229 135,252 223,221 238,204 147,164 174,35 221,174 221,209 135,217 101,82 222,217 278,183 208,219 215,235 217,69 211,190 60,95 67,251 122,146 216,208 22,134 90,236 145,249 214,180 216,249 179,228 241,198 303,65 250,132 305,118 118,135 165,141 31,51 92,155 220,157 247,116 173,108 280,184 157,200 147,144 222,185 211,151 119,130 267,142 156,156 302,180 77,121 224,136 261,71 159,132 120,160 219,236 198,89 243,147 228,157 211,148 128,120 287,254 308,205 207,101 220,172 187,262 154,84 171,132 116,134 159,209 207,35 139,279 182,210 331,229 157,207 116,203 139,121 209,240 159,208 158,135 184,231 213,235 150,221 166,127 154,168 148,156 234,181 240,198 132,194 296,173 223,199 196,336 165,199 278,49 263,164 180,121 189,126 147,209 159,201 196,120 179,219 237,171 275,185 123,158 189,245 252,135 240,177 72,212 368,258 181,208 188,198 227,134 208,210 214,137 206,224 100,139 -7,197 234,104 144,55 262,194 113,264 252,94 311,285 239,181 187,205 128,125 228,231 23,193 253,156 192,261 124,116 142,197 149,187 115,232 195,339 222,237 220,183 186,276 157,205 197,108 200,82 213,100 147,180 64,144 322,108 194,128 165,214 192,263 76,46 186,123 155,214 228,178 225,156 148,156 303,262 228,168 178,134 140,204 131,226 216,223 143,265 235,285 164,251 134,145 119,220 131,177 232,225 121,53 179,207 142,128 186,201 57,93 109,183 213,214 203,231 202,101 227,149 108,150 192,320 117,172 95,148 107,328 217,149 179,230 37,148 335,23 155,193 84,174 222,227 197,135 206,121 162,141 156,154 279,109 89,204 170,256 222,130 160,239 129,134 207,70 365,118 165,213 147,123 27,260 129,182 185,111 229,164 120,148 94,221 196,279 47,157 152,84 215,132 114,156 197,230 235,347 310,238 123,256 211,238 222,142 291,199 190,131 225,168 328,148 178,134 143,138 255,131 104,175 195,200 192,224 250,65 23,82 259,225 148,235 156,223 200,105 138,173 195,245 223,180 134,130 276,89 46,195 179,197 247,153 146,159 284,138 334,75 166,3 245,207 236,167 194,133 177,222 149,179 201,249 152,187 119,103 138,198 200,134 202,331 221,143 113,132 195,251 224,109 148,145 182,260 164,120 175,138 208,124 243,117 287,212 50,223 220,112 179,202 162,111 243,187 69,190 178,109 334,217 267,196 117,145 43,158 106,140 303,8 159,110 263,215 199,217 129,324 182,245 133,219 242,195 118,306 294,214 268,141 162,139 217,186 147,256 101,141 284,211 157,143 90,124 250,161 169,135 86,108 135,167 116,174 163,202 237,192 127,99 284,183 257,63 120,330 119,212 235,202 210,105 200,147 269,122 283,80 211,131 124,139 194,247 95,168 204,136 143,154 222,174 154,144 181,212 119,105 79,264 221,210 114,280 116,162 135,44 112,7 221,213 225,105 254,133 129,156 186,141 133,195 191,91 88,160 194,217 102,193 260,258 160,219 200,148 152,209 153,168 209,102 155,164 181,135 170,77 60,122 357,278 128,193 254,135 316,140 156,206 181,282 198,146 265,195 239,160 303,180 135,186 158,236 179,38 84,143 143,191 42,44 23,130 157,50 142,198 44,260 113,41 208,222 155,142 184,239 152,121 180,123 -6,171 321,137 154,145 258,182 173,275 144,202 335,182 187,203 236,101 193,69 231,163 264,165 183,128 173,328 96,186 145,195 222,146 132,116 321,200 279,252 275,210 152,128 126,126 269,145 132,153 248,184 183,204 221,217 257,148 253,312 166,131 185,305 164,343 180,253 120,158 238,152 224,20 205,83 70,177 153,215 135,144 101,192 106,329 226,189 227,183 40,297 206,120 322,140 243,182 215,225 131,173 169,260 230,148 139,163 161,114 164,221 266,267 139,204 158,188 165,125 75,184 179,213 187,213 87,316 48,237 190,215 186,127 248,223 86,240 178,270 38,182 35,114 135,183 229,149 157,136 229,94 225,210 126,158 253,121 186,102 162,98 244,237 254,134 167,8 250,176 257,105 174,131 220,167 173,124 142,126 179,197 224,231 104,119 215,62 143,215 146,150 318,218 65,334 250,166 200,144 149,205 5,218 273,158 67,126 105,86 148,260 270,236 230,212 251,132 183,212 247,230 219,220 243,158 198,280 247,224 227,170 155,145 159,277 146,194 168,229 260,163 147,199 135,189 156,196 168,309 223,129 140,190 216,239 48,133 111,53 251,179 241,134 105,186 204,135 162,126 237,174 236,206 155,94 222,168 170,284 373,104 271,209 53,331 201,230 176,123 154,343 142,90 230,189 192,211 147,209 218,171 123,130 213,154 167,23 208,86 95,178 192,205 178,212 276,179 105,165 197,236 221,166 87,103 141,163 150,84 140,135 182,211 160,273 187,221 302,200 202,129 211,129 93,91 172,240 254,200 197,144 82,113 232,113 220,55 197,127 146,144 160,205 95,160 121,203 185,135 218,191 119,249 106,115 368,189 104,85 147,72 209,254 138,194 299,184 75,173 154,153 108,20 158,212 227,224 136,98 144,146 248,264 143,288 195,133 286,240 161,207 166,219 290,19 270,224 258,134 127,217 218,206 224,108 185,127 167,104 294,172 267,203 69,120 138,114 229,163 200,201 141,269 135,182 249,175 182,94 137,156 130,203 227,207 138,156 232,223 179,226 253,188 52,148 220,112 174,103 284,166 228,160 220,126 294,191 101,36 184,234 38,226 177,99 109,156 140,187 215,177 99,176 149,191 218,217 59,346 151,180 169,128 143,170 35,78 188,67 162,86 228,126 247,180 118,211 224,285 156,143 72,217 221,180 142,204 188,125 271,164 154,199 44,19 228,116 244,206 158,143 143,277 175,83 118,-4 215,215 231,120 169,234 150,161 143,185 134,179 275,170 168,80 219,194 279,156 108,240 124,206 104,172 229,161 188,262 186,135 213,144 300,296 332,197 178,117 218,161 213,218 159,102 217,239 46,218 120,213 150,162 218,191 234,181 134,163 217,216 163,88 139,156 67,125 260,213 169,203 215,222 224,176 256,166 208,46 103,60 134,109 271,175 101,179 213,143 224,172 131,199 189,272 242,137 80,144 146,168 218,180 315,111 235,193 248,226 189,231 130,221 93,38 172,125 166,137 178,220 144,179 70,340 171,127 168,229 118,140 213,247 158,158 152,130 314,74 165,138 227,281 142,165 134,155 228,182 137,166 277,109 197,119 186,77 131,124 237,167 102,149 214,166 71,160 290,327 132,195 113,214 121,181 221,210 272,141 285,152 296,192 174,135 248,179 155,31 108,172 98,163 186,91 135,188 218,169 176,119 128,203 93,122 164,221 296,159 180,266 245,152 260,96 215,137 188,128 146,132 85,89 158,148 58,156 227,100 149,217 183,62 178,222 173,117 156,151 103,71 151,180 297,95 183,199 92,133 159,83 257,142 137,246 251,229 206,86 154,245 144,92 115,81 81,118 255,134 237,238 85,8 170,224 107,234 181,137 66,145 168,268 161,205 230,224 96,184 105,245 125,138 315,295 172,237 65,149 236,209 237,143 173,36 164,146 151,164 150,170 159,211 157,128 142,114 246,211 173,255 279,134 90,94 104,196 103,174 214,179 139,197 180,117 216,204 162,221 300,185 227,135 128,320 82,102 121,205 66,325 227,222 168,144 255,100 156,103 155,186 181,201 201,214 253,51 227,97 149,156 131,87 272,121 84,179 197,226 198,217 142,128 147,96 125,226 216,153 145,225 333,46 222,129 160,305 212,150 231,109 203,240 240,202 176,204 222,148 228,207 121,215 154,154 164,218 224,129 154,151 234,199 247,134 238,172 163,281 208,195 318,214 208,200 215,190 155,132 213,245 31,182 163,122 168,114 254,168 195,213 84,79 256,132 150,125 241,87 154,188 148,166 215,139 225,126 240,190 291,275 347,194 237,109 197,234 180,88 145,156 176,121 111,207 189,226 144,132 153,130 156,197 165,130 134,169 152,113 246,161 200,10 141,119 228,204 213,264 214,15 185,226 235,248 98,89 141,131 169,213 56,309 188,138 363,253 173,272 140,180 250,170 207,216 241,112 28,294 212,183 134,150 203,130 190,217 150,159 262,238 239,197 128,155 202,233 152,99 217,162 227,195 137,152 223,174 209,135 185,261 152,141 65,78 190,50 172,132 345,131 206,113 247,167 371,121 86,204 293,10 179,137 178,131 233,143 177,216 219,46 160,247 210,223 249,105 345,98 123,188 206,241 211,150 187,252 43,121 109,117 262,97 253,168 287,196 143,136 178,241 142,156 181,116 145,119 97,186 251,91 213,239 146,95 251,195 106,160 110,164 155,185 262,219 170,227 126,216 147,241 236,159 227,172 163,141 233,187 160,110 243,169 35,184 228,235 137,228 176,98 199,208 191,227 180,111 242,180 202,123 152,277 111,168 104,101 142,122 121,177 157,148 231,143 176,112 140,211 -2,241 198,249 227,174 238,158 121,200 235,187 232,226 294,218 303,187 266,99 255,184 155,152 183,199 204,215 153,214 127,79 64,216 122,174 213,210 241,126 174,215 165,261 176,118 251,180 215,193 30,97 187,124 310,48 30,98 234,171 248,256 187,202 151,151 160,217 350,295 133,162 125,116 167,100 171,114 189,210 115,186 72,160 138,180 233,290 152,198 219,123 257,55 137,159 220,140 326,86 220,185 274,101 154,218 222,174 218,193 158,194 174,232 163,130 223,83 218,147 219,247 247,145 204,218 150,176 150,164 231,71 118,0 341,85 210,200 130,167 268,77 309,163 227,129 88,234 162,119 155,201 233,160 253,92 180,249 196,83 225,342 97,260 138,71 299,174 227,196 169,114 142,120 257,170 133,76 164,208 203,142 209,324 138,221 220,147 313,336 143,106 143,184 166,121 150,150 223,188 273,127 359,166 160,83 40,118 127,160 148,207 143,205 207,74 147,256 120,265 190,202 145,161 279,172 172,105 171,228 218,139 149,236 219,169 318,165 191,136 174,86 58,310 254,91 202,120 194,209 354,338 116,205 199,135 232,142 146,181 144,115 245,104 345,151 146,92 137,228 215,159 75,218 91,156 93,212 241,160 105,160 151,144 147,222 148,173 137,169 162,129 240,118 242,170 179,108 114,127 221,208 232,323 142,148 64,148 248,143 293,184 164,199 197,261 139,177 257,204 184,209 272,89 185,128 145,162 118,149 200,132 165,82 253,141 184,120 155,69 91,148 170,205 157,144 158,121 257,318 240,144 156,234 212,148 200,210 140,125 163,228 137,174 175,210 209,123 343,2 149,145 149,227 247,149 148,155 334,326 190,215 200,224 290,144 260,320 188,90 167,241 149,226 57,46 125,205 173,228 123,85 198,69 201,225 225,168 71,127 134,235 342,261 312,148 169,136 303,215 187,278 224,163 166,105 260,56 197,268 228,138 160,147 191,230 117,129 196,238 49,244 128,151 159,122 223,162 224,184 163,125 166,125 146,168 230,179 189,78 64,212 143,173 232,107 139,199 276,163 158,156 223,220 116,127 134,155 164,109 226,206 183,210 164,206 195,200 128,101 124,200 186,116 129,126 329,167 152,172 279,77 240,96 113,91 152,201 227,187 127,283 179,217 201,140 193,215 150,227 201,146 192,134 220,201 275,207 84,79 200,71 205,198 103,152 221,187 166,219 225,156 187,227 188,112 107,179 60,78 265,195 266,158 311,167 197,126 191,248 206,109 277,221 181,118 308,76 253,164 185,215 201,259 125,164 303,109 159,120 173,136 199,104 174,216 57,193 147,173 143,156 221,102 122,176 172,231 185,198 245,38 192,115 194,224 151,139 261,111 152,138 58,179 154,252 155,149 146,199 195,111 237,299 111,163 203,205 286,168 180,135 84,198 101,261 212,263 158,138 215,190 248,123 172,114 213,36 206,326 138,288 101,149 96,30 129,166 192,283 233,188 268,193 154,154 186,286 288,157 243,145 197,126 150,186 225,121 210,73 194,209 171,130 62,319 311,338 167,129 175,99 270,199 194,131 117,194 157,196 271,159 198,99 172,264 144,147 170,100 189,87 224,86 194,107 169,213 210,98 290,194 252,174 78,121 147,332 297,178 219,171 321,157 218,267 81,86 216,176 89,116 210,79 225,116 231,181 213,277 147,80 155,206 170,262 207,97 224,53 82,25 201,146 222,150 153,146 221,210 192,221 202,236 177,207 229,34 238,255 148,223 153,83 222,196 223,148 154,184 316,227 131,206 154,131 179,267 262,179 222,166 41,169 156,7 54,265 150,123 119,230 183,134 142,162 211,257 154,190 225,268 220,215 186,116 200,144 123,182 215,189 162,110 137,126 114,111 247,75 162,121 148,226 344,117 66,210 65,58 228,147 207,210 113,216 159,315 163,83 256,189 290,303 308,184 235,158"/></g></g>
<g clip-path="url(#c10)"><g id="p10" transform="translate(49.2,249.9) scale(.5)"><path class="sat" d="M24,283 22,283 20,282 17,266 16,254 14,244 13,202 14,132 16,102 18,96 20,91 23,96 27,106 28,120 31,128 31,138 35,146 36,154 44,174 46,186 49,190 51,198 52,206 55,212 55,220 60,226 60,234 61,242 63,246 62,252 60,254 56,256 50,256 50,258 51,262 48,268 42,272 40,275 34,279 24,283ZM54,273 53,272 53,272 54,268 56,268 59,270 59,270 54,273Z"/><polyline class="d4" points="17,243 16,126 50,203 18,176 20,208 52,210 20,147 27,116 37,278 42,174 18,101 22,269 26,118 53,226 19,94 23,106 23,91 23,101 18,181 17,228 16,230 17,212 50,256 18,117 22,283 16,144 18,170 20,235 23,108 28,276 17,235 20,220 18,146 16,193 49,210 43,181 66,249 41,186 19,125 18,273 55,221 15,204 17,166 22,272 18,180 16,263 48,187 56,242 18,201 56,256 52,210 19,219 23,272 50,199 24,112 17,174 19,211 53,225 54,234 40,179 19,182 19,247 54,215 60,232 16,145 57,212 37,164 45,192 18,240 29,135 28,120 22,111 41,178 57,219 37,164 19,83 16,235 18,181 16,197 19,174 18,273 37,273 40,174 18,138 20,245 39,171 28,129 18,135 41,188 17,106 20,115 60,239 34,151 42,190 54,270 34,275 46,206 42,175 20,95 46,187 19,137 47,275 15,211 52,259 47,259 49,218 31,156 28,132 47,264 19,131 20,123 21,101 24,114 16,117 19,163 19,238 20,249 18,232 43,171 62,237 20,252 52,257 18,131 45,272 17,259 20,258 16,163 49,271 17,240 56,227 44,182 19,230 26,128 18,143 25,101 43,267 57,225 26,135 26,130 20,133 18,172 59,257 40,162 37,269 17,199 15,184 18,99 18,194 49,201 19,134 22,97 17,258 18,251 29,150 65,272 18,240 29,128 28,283 44,174 19,142 18,216 26,133 18,96 18,233 49,271 20,236 50,219 20,132 60,266 43,275 49,258 57,256 16,216 30,283 48,207 20,205 19,137 16,213 25,138 44,263 17,234 18,161 32,278 53,223 33,157 20,121 52,219 28,112 24,279 45,196 19,183 53,215 18,153 22,85 21,103 31,139 36,152 61,268 24,102 21,281 26,134 19,236 21,107 18,220 21,271 20,139 22,256 19,130 47,254 20,209 60,251 53,259 20,281 33,279 16,203 18,210 16,113 20,85 18,245 20,179 19,225 17,130 18,137 18,189 34,156 19,164 18,216 16,149 15,136 18,199 19,196 18,159 57,222 22,264 19,121 20,240 55,258 19,103 18,125 17,151 19,107 16,104 40,177 17,236 18,199 37,272 19,251 21,277 64,241 20,259 16,156 19,206 49,258 19,241 19,221 32,143 43,177 25,278 19,245 19,199 20,194 19,154 15,160 19,108 17,195 17,267 18,204 53,225 19,130 50,254 34,153 56,266 19,115 19,212 18,213 37,163 17,221 46,187 38,159 55,269 21,262 42,177 19,180 19,264 21,246 18,159 16,131 20,174 40,170 64,243 42,173 20,248 19,176 57,263 33,151 23,275 34,160 18,174 54,233 59,238 51,275 17,188 31,145 16,207 47,268 18,97 19,224 30,144 20,103 18,205 19,234 60,245 22,98 17,240 55,220 24,124 46,202 20,111 16,198 19,172 18,205 58,221 16,243 18,172 16,189 43,184 15,164 17,156 21,254 17,93 57,228 16,133 59,231 49,209 17,253 57,262 20,147 17,187 20,222 60,275 45,193 27,134 20,249 21,105 15,138 18,219 40,174 45,269 53,261 19,195 19,212 56,268 56,254 43,272 20,271 20,271 16,186 18,131 18,166 56,253 18,206 17,247 36,273 19,241 17,204 18,157 22,271 43,270 45,184 21,99 59,227 20,216 18,128 61,233 19,86 26,129 20,152 19,230 45,266 17,228 20,179 22,95 16,183 15,130 17,209 51,196 18,170 19,103 20,174 17,119 33,156 18,253 18,173 17,239 17,125 18,181 46,200 38,159 21,124 42,171 15,131 24,105 15,137 20,166 42,177 18,225 31,145 17,167 57,247 26,278 55,273 16,182 20,198 39,161 28,127 19,232 18,190 22,275 38,161 18,95 20,135 20,239 60,234 58,252 31,131 47,194 19,210 20,119 61,223 34,160 50,218 58,255 19,99 53,255 58,229 53,258 17,246 52,219 58,253 27,280 21,99 37,169 66,248 28,143 20,145 20,228 20,138 46,262 46,260 53,262 29,142 20,267 63,239 43,177 20,114 21,93 21,270 41,163 19,219 16,247 17,150 16,221 20,246 18,184 62,228 28,123 16,190 18,233 28,135 22,257 18,133 23,265 20,122 17,176 24,123 19,169 33,144 23,99 15,206 40,172 19,197 48,253 18,102 25,133 16,192 23,263 59,238 42,190 17,219 17,147 20,181 48,199 17,211 23,270 17,169 18,193 23,119 17,165 19,139 30,150 61,266 22,114 17,225 16,135 18,231 20,95 17,202 24,108 19,209 22,109 16,247 21,276 39,159 26,114 19,200 56,253 17,208 21,264 46,204 19,205 17,240 52,210 20,238 50,274 52,212 41,170 20,136 54,233 62,254 19,225 35,158 20,178 56,270 14,168 18,150 19,113 18,84 26,110 16,207 19,279 21,248 20,249 42,190 18,197 18,148 60,229 52,275 15,219 47,274 17,244 18,248 18,187 33,159 16,166 18,269 20,92 51,257 20,97 21,275 19,95 17,226 18,169 46,255 16,195 18,206 20,240 17,140 20,107 22,93 19,127 30,144 57,251 43,179 19,175 48,261 20,161 42,175 21,111 17,221 18,161 18,189 60,270 41,268 17,227 18,176 17,156 65,251 18,244 45,195 16,118 33,144 52,265 58,241 52,268 61,236 18,214 26,106 18,190 25,109 59,223 55,214 41,266 62,254 33,149 38,157 16,99 18,165 57,266 19,171 46,193 38,165 19,173 58,267 20,170 55,276 19,275 19,109 16,115 19,189 20,156 39,276 20,248 19,92 18,218 19,138 22,104 20,281 19,145 19,102 18,237 31,279 20,178 19,229 58,221 57,213 50,264 57,222 48,192 57,241 18,150 53,212 19,231 18,196 19,113 34,154 20,111 31,280 21,274 18,172 20,116 20,120 17,100 18,135 57,259 19,84 16,123 18,241 19,230 34,154 18,207 50,195 30,280 50,261 20,265 60,223 29,149 17,221 24,281 18,164 44,276 18,260 28,133 34,273 56,252 55,211 16,96 44,187 18,258 45,193 61,235 58,272 17,169 17,193 21,258 61,271 25,276 38,278 30,130 18,131 52,219 17,154 19,181 43,183 59,234 61,243 25,135 18,178 19,138 55,210 40,272 20,267 23,103 27,129 19,249 19,265 30,149 48,200 19,219 20,115 44,267 19,191 26,117 18,165 55,223 23,99 33,275 53,221 15,162 40,175 31,157 21,113 39,270 53,258 61,252 17,135 20,247 16,186 42,171 20,92 17,189 19,150 18,234 40,177 19,265 56,230 24,281 25,281 21,113 55,251 59,273 19,187 15,163 19,223 57,246 64,239 62,244 60,241 20,158 20,157 18,155 19,226 19,125 25,118 16,130 57,253 19,128 59,232 19,136 49,213 50,205 16,190 31,138 17,161 18,149 18,126 18,205 50,222 17,145 20,210 21,107 58,275 18,179 18,106 19,190 20,244 52,225 39,176 18,184 20,198 51,200 52,206 19,240 17,204 30,152 61,239 17,201 19,193 17,240 17,221 18,207 18,91 18,185 19,260 38,159 28,142 46,192 18,119 21,96 22,88 19,193 19,131 18,119 54,252 16,232 18,223 17,131 19,172 19,147 20,123 55,232 32,142 53,271 56,216 18,87 19,151 57,234 19,86 58,274 38,167 38,278 19,137 27,113 19,242 53,269 27,137 19,94 45,173 19,138 28,141 57,275 55,211 32,146 50,207 16,149 60,248 64,249 21,266 17,133 52,276 58,251 19,143 21,273 16,234 20,264 28,124 19,208 55,252 19,265 21,100 19,155 17,121 28,120 34,155 18,261 17,219 31,140 26,118 40,179 52,208 17,139 17,187 17,101 52,269 17,212 33,141 16,195 18,132 38,271 20,103 48,258 14,197 19,83 17,123 36,272 32,158 18,218 18,166 16,127 23,106 36,163 58,230 58,266 26,135 20,187 25,279 51,250 17,158 47,252 30,140 22,279 52,212 17,209 64,268 59,274 18,273 19,129 25,117 59,227 16,203 21,255 15,218 38,155 15,211 22,263 40,270 16,130 62,272 18,133 45,194 16,242 32,156 53,269 16,113 26,132 37,169 48,209 50,263 23,109 57,256 19,197 18,242 50,261 67,252 29,127 66,245 38,171 19,242 19,209 23,101 61,227 22,258 25,118 59,226"/><polyline class="r2" points="44,172 47,180 64,224 21,287 66,274 60,261 71,257 20,286 64,225 72,258 54,277 21,80 37,153 62,262 37,153 48,280 43,169 74,262 66,265 19,79 65,226 21,291 17,92 69,275 67,261 74,265 15,263 22,293 23,291 24,94 18,78 42,280 47,182 56,208 16,105 65,227 65,269 63,276 65,240 17,95 66,270 61,275 41,163 23,294 67,265 75,262 19,285 71,256 17,96 22,286 72,247 62,260 65,270 48,186 40,281 36,144 78,262 60,262 29,117 58,217 55,202 38,280 32,136 18,286 69,270 16,270 24,93 14,233 45,175 16,86 51,192 29,114 60,261 65,268 72,249 59,213 62,260 44,169 23,286 66,256 59,212 68,257 70,241 67,273 60,223 54,259 16,85 53,194 64,235 22,292 59,214 58,211 41,280 67,255 38,280 46,280 65,274 65,256 41,278 19,81 69,261 71,248 69,244 66,238 23,89 65,275 63,260 26,292 21,284 69,256 68,254 74,264 63,236 16,272 21,84 41,161 68,244 17,89 34,143 18,80 21,293 59,260 37,281 33,139 57,277 63,238 61,259 70,240 46,182 54,200 31,285 61,277 23,81 43,280 19,78 61,259 70,273 66,259 63,263 25,97 70,249 66,256 62,258 71,246 71,256 19,281 70,262 33,285 49,278 17,279 63,261 65,261 22,83 17,84 22,290 64,226 25,285 56,277 25,292 37,279 16,106 51,191 69,250 73,264 72,258 68,273 24,286 58,208 57,209 17,279 68,255 62,232 24,292 77,266 33,284 66,273 68,258 16,267 36,145 16,105 66,257 18,284 73,258 71,247 71,245 76,261 53,194 18,81 16,261 40,161 28,108 45,278 66,272 60,223 73,255 20,287 32,131 66,258 58,218 64,265 68,266 70,254 34,282 72,256 71,255 49,279 39,281 16,84 68,269 16,110 19,285 16,262 26,284 64,263 63,264 24,292 17,269 32,126 62,233 25,294"/><polyline class="r1" points="63,286 64,213 89,271 73,275 95,262 97,282 16,296 19,67 73,274 81,243 71,279 17,43 22,301 16,281 94,276 92,277 76,270 69,280 24,320 40,294 77,262 66,224 70,295 77,282 87,299 69,280 38,293 69,265 100,286 82,297 53,192 51,189 92,256 48,283 76,276 15,27 26,297 81,280 52,181 82,263 82,273 83,255 19,76 43,163 55,190 47,320 34,135 21,75 20,59 24,88 79,301 82,248 88,284 73,314 70,228 20,64 28,295 73,287 41,313 79,242 61,285 16,37 74,294 88,293 82,290 68,236 25,307 88,249 43,296 84,273 96,265 67,230 74,224 49,186 32,123 63,279 72,263 50,285 66,221 16,39 84,262 91,258 72,274 85,255 25,78 32,305 91,254 47,165 71,248 70,297 85,253 70,221 23,66 86,278 39,152 60,293 67,281 66,306 79,271 92,267 74,311 32,114 26,299 30,112 19,57 61,289 63,217 78,294 71,274 60,201 50,186 97,276 17,77 24,315 80,270 59,211 64,220 78,261 55,284 14,86 59,201 74,293 23,59 29,298 20,75 78,265 31,305 30,293 77,261 105,275 72,227 20,293 93,261 74,235 47,280 102,280 71,243 23,80 75,251 105,293 72,281 40,313 56,285 59,287 39,301 85,258 30,289 104,293 49,172 16,290 54,287 34,302 60,304 97,268 96,270 71,235 60,277 56,287 83,261 90,251 78,288 20,72 76,285 80,264 19,48 31,312 64,222 24,301 71,238 18,287 65,236 76,268 79,249 16,297 78,261 96,270 72,251 39,289 50,299 39,147 69,266 54,301 71,275 55,301 24,83 57,284 67,279 17,79 66,308 50,287 48,298 97,284 55,199 73,272 64,300 55,293 55,287 49,289 102,272 60,210 28,96 68,230 70,283 55,296 85,247 37,296 87,298 60,209 39,147 77,308 78,286 28,287 62,205 31,120 33,304 60,291 22,77 16,286 65,222 77,240 69,228 80,291 58,288 88,301 91,272 59,282 64,296 80,295 70,277 80,278 85,242 62,289 28,295 31,302 74,267 19,60 45,289 60,200 94,268 56,200 21,65 37,283 64,284 41,287 105,308 81,246 78,254 79,285 67,238 77,268 96,275 68,286 52,287 39,295 61,289 91,279 79,272 71,234 60,213 64,284 78,280 69,282 70,290 20,63 25,92 27,95 28,303 42,287 58,197 36,297 96,263 98,273 56,203 27,102 17,66 66,230 35,126 67,283 85,299 33,295 72,280 79,267 63,217 51,286 95,288 40,291 91,304 65,293 80,260 49,280 85,268 19,287 62,283 74,309 54,305 45,166 21,295 84,275 87,274 40,294 94,266 68,299 77,294 19,32 77,280 91,267 18,286 16,76 57,279 80,243 37,148 32,296 90,277 68,278 58,198 20,74 71,303 33,291 72,243 98,288 22,302 85,275 81,257 104,292 75,273 26,93 70,236 82,321 49,177 15,274 17,73 43,159 79,267 52,318 61,200 18,298 71,236 81,278 26,97 94,287 73,285 91,287 85,248 22,57 69,296 19,307 47,298 19,60 82,252 15,255 71,232 20,65 78,281 78,247 77,280 17,286 16,311 31,305 79,297 50,178 28,91 60,211 62,294 52,179 29,94 42,283 102,278 37,299 54,195 55,198 79,254 74,283 17,290 77,274 106,286 62,217 38,149 50,186 92,272 95,269 79,287 79,266 104,293 50,280 55,297 29,103 75,249 71,233 79,293 55,198 27,98 33,301 19,292 59,292 57,206 98,311 102,302 78,252 58,295 75,268 68,292 20,67 33,307 15,268 34,307 34,310 95,301 35,289 89,260 74,231 78,281 75,273 28,311 84,255 87,252 104,272 85,267 51,283 28,95 68,229 88,296 120,299 61,297 58,200 70,225 67,221 37,293 46,282 97,276 31,117 76,311 102,294 83,286 66,219 33,138 36,138 47,299 61,213 57,297 22,295 41,296 20,77 123,290 83,305 16,45 27,298 15,85 104,282 33,137 77,300 89,306 57,305 50,289 20,77 69,278 30,290 29,293 77,269 65,233 25,291 51,292 80,266 59,311 36,293 71,275 105,283 23,80 70,242 92,298 65,216 83,259 59,208 98,285 23,297 97,272 89,264 72,230 44,160 21,45 77,250 35,140 63,305 34,291 82,300 83,274 98,263 19,77 115,303 77,235 97,284 33,132 38,143 74,246 59,307 54,186 23,65 73,223 84,315 38,148 40,144 44,306 18,77 30,310 117,299 93,296 88,254 73,301 82,279 86,309 28,287 54,313 17,59 61,306 44,282 27,303 47,298 34,308 38,291 42,158 81,249 74,226 67,237 35,136 60,211 22,51 62,305 88,292 82,261 28,307 33,286 87,277 50,291 42,161 96,274 88,256 73,266 37,287 73,284 33,286 18,34 21,69 94,264 33,305 88,293 62,213 55,303 104,292 109,304 74,297 16,274 84,268 80,279 20,301 22,61 16,306 64,283 68,282 86,271 101,288 73,251 75,252 66,227 41,293 45,286 16,73 46,285 97,290 18,55 15,275 55,194 74,285 68,278 52,299 36,288 20,295 68,264 20,67 84,257 75,243 80,234 18,68 45,298 67,225 34,311 67,227 82,241 72,286 39,291 77,252 50,185 82,251 96,322 39,299 99,303 69,237 19,57 66,233 39,292 18,296 76,270 55,194 28,292 25,91 98,280 35,128 33,129 24,84 29,301 72,229 17,285 88,262 55,191 17,294 46,287 82,299 84,284 83,279 18,316 81,257 58,204 86,308 75,277 54,293 83,239 69,279 37,150 55,312 61,278 44,165 21,299 35,298 46,281 44,281 106,286 31,323 25,308 52,192 71,265 85,268 69,228 95,261 68,213 79,248 64,230 14,86 85,294 30,296 57,207 83,276 87,295 83,250 32,290 79,236 80,299 22,50 15,43 86,293 68,235 53,296 49,311 76,253 77,247 75,293 82,277 80,258 16,92 40,153 45,292 61,280 74,285 31,294 57,195 19,50 54,190 64,284 61,290 15,62 75,295 94,257 74,285 65,297 21,55 51,183 22,301 95,269 76,270 72,286 57,200 33,287 60,287 23,315 16,49 27,95 22,79 67,228 66,296 80,266 106,275 44,324 56,198 23,67 56,288 82,271 73,299 49,181 59,303 37,136 15,70 64,285 81,298 86,248 65,277 30,287 40,302 32,288 45,171 39,295 18,286 99,307 78,238 84,315 82,291 37,148 73,232 55,306 59,280 99,294 37,284 92,292 32,303 43,288 96,314 38,145 70,304 24,307 62,286 98,286 43,287 25,288 16,95 76,295 59,205 106,298 63,291 64,214 59,280 70,291 76,235 86,252 83,287 28,95 79,258 84,303 18,71 48,280 65,276 40,288 62,293 21,78 34,137 86,282 15,103 29,110 45,293 82,275 113,301 74,230 73,277 95,287 18,48 23,75 67,221 20,57 85,253 80,316 23,295 34,285 86,280 55,194 72,285 37,300 19,295 32,287 87,287 22,294 81,298 101,275 71,241 49,304 86,281 81,282 19,59 74,254 45,305 19,35 77,283 54,281 20,307 55,286 58,194 47,281 19,65 71,226 15,59 75,271 64,222 52,184 70,303 102,270 32,125 96,296 40,294 16,7 78,256 29,308 59,283 81,244 72,288 70,226 17,58 34,291 39,295 90,275 81,269 78,246 79,255 64,311 38,288 73,244 15,93 50,293 81,261 74,267 48,179 33,288 79,300 60,292 91,258 74,297 73,234 15,284 81,247 71,221 81,311 41,159 79,266 77,292 58,207 75,277 16,274 43,289 54,189 76,270 48,180 53,307 83,274 102,279 40,316 84,289 83,261 29,111 70,241 29,291 21,78 76,237 22,306 43,301 44,164 61,214 73,287 73,291 42,297 103,276 77,257 64,285 80,277 67,287 96,282 19,52 24,294 91,273 79,248 21,54 55,197 36,143 77,257 18,49 107,288 56,197 111,295 92,281 58,294 81,243 51,185 77,244 79,237 94,292 112,281 19,293 53,297 86,267 15,75 55,302 27,321 38,292 50,180 73,272 34,293 28,94 79,266 64,278 59,286 31,299 76,231 27,86 28,297 60,289 58,206 109,283 80,299 63,213 20,77 17,65 86,274 15,84 32,119 62,291 75,299 75,255 42,304 49,297 25,71 71,236 47,166 102,294 45,298 71,229 92,258 91,282 69,226 69,285 97,276 63,283 62,286 64,314 47,289 43,294 81,242 63,216 128,304 18,71 103,274 94,278 64,221 71,319 62,216 85,263 71,278 20,78 21,64 72,290 77,253 29,287 69,265 56,199 16,18 22,304 68,226 78,259 42,295 79,288 91,270 64,219 18,301 28,291 43,163 67,281 71,301 62,216 78,254 87,275 33,285 76,280 77,245 64,287 80,242 72,227 21,306 69,265 27,287 58,296 15,36 49,287 23,75 70,228 16,72 47,294 46,288 71,239 80,259 81,277 16,287 79,291 36,319 52,187 66,232 86,258 19,308 73,274 94,314 79,261 90,259 46,297 71,287 78,260 86,277 64,294 70,276 70,231 52,297 83,285 62,287 18,56 50,291 30,293 36,295 47,297 77,279 83,263 94,285 33,134 81,243 61,202 39,153 14,101 19,73 65,307 26,295 17,57 17,295 57,205 90,274 65,210 36,136 70,276 14,104 45,168 105,306 75,230 73,271 56,290 80,283 84,292 71,244 55,282 37,136 78,279 42,292 17,278 21,62 53,287 25,91 70,264 95,285 85,285 25,94 75,245 75,302 16,295 21,297 81,286 33,310 78,256 75,268 102,276 73,288 21,71 85,282 25,87 66,221 93,268 26,300 66,284 98,298 76,305 16,296 67,233 91,319 72,264 64,216 106,284 28,298 57,296 17,293 67,223 40,282 68,232 87,291 74,241 87,260 106,287 74,234 20,61 74,223 97,265 16,294 56,281 17,299 65,278 104,292 73,278 66,291 91,254 78,261 42,158 84,298 88,296 55,282 63,299 17,288 50,297 28,296 30,110 71,234 50,292 18,78 25,309 47,281 85,250 82,258 82,249 86,275 69,226 17,66 43,300 91,257 45,303 73,264 69,223 64,287 68,223 49,181 15,274 56,310 24,85 32,308 63,283 41,298 105,299 101,300 19,311 21,42 73,275 63,208 70,232 73,248 122,299 92,279 79,296 88,252 72,246 70,239 16,34 79,287 45,171 72,229 30,118 17,77 64,213 49,286 19,72 86,253 84,259 84,255 57,279 79,246 76,275 94,267 70,237 41,292 25,86 72,287 27,290 20,294 33,295 17,42 68,233 72,276 63,221 20,47 57,306 61,282 68,291 78,256 52,305 40,151 25,88 78,268 80,290 123,293 19,34 102,267 105,291 43,297 82,276 34,128 85,264 18,55 42,163 57,283 26,289 30,290 65,293 75,310 79,234 113,287 17,293 26,293 92,297 75,252 94,272 66,291 80,282 81,279 19,295 75,243 41,287 76,271 40,302 32,290 66,279 23,59 28,101 56,200 50,285 122,303 37,286 17,79 22,70 104,294 109,293 100,279 74,245 84,281 62,218 15,106 25,288 82,270 18,299 79,259 63,218 64,301 66,220 33,288 91,285 53,280 35,299 68,234 78,246 80,267 74,269 83,282 87,273 80,255 19,295 63,293 46,292 89,284 76,282 77,249 96,270 44,287 42,290 35,305 77,252 86,281 83,271 92,280 81,252 96,298 61,280 79,238 72,249 27,292 120,295 101,294 37,292 35,284 47,281 34,136 72,243 89,265 63,212 71,287 76,255 25,296 45,283 63,299 58,283 21,77 74,313 93,277 67,228 67,236 65,231 49,309 43,287 52,191 17,283 57,291 56,285 84,278 23,296 81,242 85,259 99,276 76,249 73,226 75,253 60,282 21,62 74,251 99,291 27,297 117,289 70,298 42,287 90,275 89,288 63,207 16,42 52,281 33,125 85,278 26,89 19,68 56,296 78,232 52,305 81,244 60,282 33,131 46,305 38,309 54,286 25,77 15,292 106,271 91,283 18,41 90,273 80,237 62,210 88,281 26,85 81,283 61,312 89,280 90,275 78,289 80,278 26,304 78,284 67,215 40,303 28,307 64,215 25,77 27,294 88,266 61,283 48,180 52,189 51,187 80,265 99,284 98,298 91,258 39,305 85,278 121,289 117,287 51,180 20,301 111,289 50,298 64,288 80,248 65,219 15,93 79,264 91,282 46,281 52,281 79,269 29,289 72,242 17,58 34,135 34,130 34,299 32,110 79,268 53,293 71,307 71,233 24,61 52,285"/></g></g>
<g clip-path="url(#c11)"><g id="p11" transform="translate(233.4,249.9) scale(.5)"><path class="sat" d="M44,286 40,286 38,284 33,278 33,274 32,270 24,265 24,260 27,254 24,244 23,234 26,222 26,212 28,206 34,201 39,196 42,195 45,196 48,206 49,210 50,213 56,216 64,214 70,218 72,227 78,234 79,238 78,240 79,242 84,244 88,240 92,238 93,238 92,241 90,241 90,244 87,248 94,253 98,254 104,254 110,256 110,258 110,262 105,268 105,272 106,276 105,278 98,277 90,271 84,273 76,271 72,272 62,281 60,282 54,279 52,279 50,280 48,284 44,286ZM79,254 83,250 79,250 77,254 78,255 79,254Z"/><polyline class="d4" points="100,252 64,282 38,273 89,273 82,269 52,218 28,264 34,267 30,205 80,258 35,204 29,255 72,223 43,196 32,201 26,216 83,257 67,211 30,245 70,272 109,275 49,275 47,284 73,241 26,253 29,226 47,281 31,219 66,271 106,251 42,285 31,279 112,263 34,276 42,285 97,274 38,205 27,255 52,209 40,203 22,231 63,216 69,222 74,250 28,236 108,272 97,240 89,270 74,239 61,221 83,270 114,253 69,273 24,244 97,255 76,270 69,279 35,276 77,235 90,244 36,280 108,260 74,245 92,242 31,255 81,238 25,237 52,277 53,279 30,281 30,261 108,256 108,265 49,274 63,280 67,217 113,252 94,267 61,277 43,283 40,202 33,206 27,209 88,268 48,199 27,242 73,272 26,248 56,218 58,282 65,213 104,266 65,218 42,198 55,216 29,265 50,214 47,217 73,231 96,256 45,282 108,274 68,229 28,240 27,245 24,263 49,207 83,269 79,248 31,269 76,254 36,199 28,226 46,212 107,259 43,202 27,234 69,276 37,204 53,281 79,272 104,251 63,280 84,276 110,257 29,259 83,232 61,221 30,258 28,259 76,246 50,205 31,270 29,210 27,227 30,252 79,268 43,204 62,282 89,272 97,274 85,249 89,240 28,243 55,281 56,213 38,202 28,232 112,252 63,279 39,200 47,199 97,279 25,249 28,225 31,211 55,207 84,238 114,255 25,260 26,219 63,275 56,278 31,222 33,270 77,247 45,199 31,251 29,208 33,209 45,285 109,277 27,207 44,210 65,220 65,277 100,255 38,197 32,211 39,279 76,230 102,259 32,219 104,278 34,205 54,275 105,273 26,237 84,250 74,241 93,244 73,253 43,207 27,215 72,225 107,268 53,279 31,248 48,205 25,227 41,280 71,274 31,280 98,279 29,255 43,202 42,284 28,233 51,278 56,211 72,267 51,275 93,255 46,194 26,242 66,213 110,260 65,215 101,250 42,202 100,258 57,275 47,216 31,257 38,289 57,276 50,275 71,220 79,252 37,275 60,280 100,272 37,270 44,209 86,254 110,260 53,273 79,229 96,271 87,254 71,253 52,219 59,216 32,277 57,220 81,271 25,219 50,283 25,227 58,276 69,230 80,235 74,230 28,232 36,284 32,206 87,267 110,259 25,262 87,253 24,242 29,242 99,271 74,235 37,272 105,268 93,274 27,242 81,275 26,267 54,214 58,282 89,255 80,244 45,282 101,271 91,239 82,273 74,234 22,233 84,244 31,261 111,257 109,261 32,267 38,196 83,244 32,282 91,243 30,245 42,287 26,242 72,220 82,259 27,233 63,278 75,259 48,213 88,251 98,257 29,232 42,285 85,233 103,268 84,243 35,199 26,265 85,257 48,279 41,199 93,235 87,235 32,256 70,271 104,267 30,280 68,277 43,281 56,218 65,219 52,218 77,234 89,267 77,240 106,271 34,208 27,235 30,252 82,251 73,233 48,277 55,278 52,279 31,225 92,245 30,242 35,274 42,281 27,226 32,217 73,222 81,255 87,235 38,193 104,266 89,267 97,252 72,226 79,236 101,264 59,281 31,251 68,218 29,262 73,273 92,250 79,231 61,220 28,251 57,220 72,279 77,246 78,270 46,212 116,254 60,220 72,277 48,213 76,253 30,264 29,260 59,282 61,284 51,275 66,282 94,239 64,213 73,251 32,265 83,267 82,251 63,274 109,259 29,265 92,276 78,240 29,248 84,274 36,204 27,267 42,204 99,270 59,276 76,237 103,271 109,265 68,222 93,245 37,280 78,258 61,282 27,254 93,267 34,205 56,281 108,253 72,267 54,219 78,256 46,287 96,254 106,263 68,228 30,210 25,246 57,216 25,230 30,271 52,276 25,245 69,222 52,274 37,273 26,228 29,210 74,235 111,277 31,217 29,267 65,219 87,242 24,235 53,214 80,234 112,253 92,256 89,275 65,272 30,269 28,221 63,213 72,227 57,218 76,246 40,284 25,225 80,274 95,270 29,254 96,242 95,257 26,238 107,257 66,223 29,228 104,253 67,219 27,220 91,241 89,269 39,274 89,273 63,279 25,215 100,278 111,250 111,254 72,251 68,230 30,217 75,244 84,268 65,274 40,198 73,230 31,215 86,251 25,259 77,239 95,251 74,269 25,233 79,232 45,200 76,268 106,261 38,288 78,272 26,257 26,232 90,240 25,229 96,277 106,274 45,280 69,221 69,275 87,271 59,281 37,277 62,283 71,229 33,267 111,258 102,257 77,273 93,258 88,239 76,253 23,232 46,200 65,275 27,252 25,269 51,276 29,215 105,272 75,236 67,272 78,248 105,280 112,261 84,246 40,203 30,209 76,241 50,209 38,199 33,265 109,266 30,209 89,235 78,242 28,245 92,250 79,241 96,245 69,220 107,264 113,260 25,258 58,213 35,202 106,260 27,265 45,283 112,256 95,276 92,242 84,256 52,215 32,207 49,216 109,255 75,236 66,277 98,255 104,270 26,225 75,270 80,258 81,242 100,257 63,213 78,247 25,243 103,266 61,284 29,255 34,285 37,286 78,267 31,222 53,213 40,201 102,265 38,281 85,245 104,280 30,211 32,249 35,278 26,212 87,247 72,257 110,276 79,230 44,281 76,242 31,246 93,247 105,274 55,273 85,256 74,234 61,218 80,236 74,268 38,284 26,226 29,276 43,284 83,257 28,253 108,257 41,194 26,232 109,251 25,239 104,255 53,211 32,271 85,242 62,213 77,256 53,277 53,220 82,258 72,267 101,274 24,261 54,220 39,276 62,281 77,268 84,253 28,235 60,216 46,208 48,280 89,266 48,216 30,266 104,261 51,219 90,241 96,245 29,218 48,204 81,245"/><polyline class="r2" points="52,203 100,236 80,224 32,285 48,192 142,275 100,237 119,274 93,233 82,229 116,250 101,282 49,193 115,258 83,228 50,285 51,203 37,188 64,287 138,258 85,229 68,283 76,279 29,284 121,262 138,273 65,208 110,244 93,281 30,195 112,269 103,241 107,241 27,278 22,261 82,228 69,284 53,290 51,289 97,244 57,205 82,229 24,209 108,246 51,203 139,273 38,188 32,187 95,285 77,278 45,189 100,237 85,277 104,243 116,278 113,246 25,205 121,272 120,260 24,212 103,242 54,201 125,261 21,230 116,274 49,202 21,263 40,188 105,249 110,268 26,206 36,191 44,192 49,288 29,280 97,234 129,261 123,264 100,245 105,251 104,242 36,191 50,199 139,260 34,288 75,219 58,204 114,246 100,237 50,196 111,265 25,203 79,228 100,248 29,190 119,262 46,187 61,208 110,279 80,276 77,277 115,275 27,284 117,266 79,228 119,276 83,282 63,206 140,274 118,273 126,264 99,239 65,207 62,286 83,284 24,271 80,287 100,248 143,276 105,249 100,244 68,282 100,245 43,191 102,242 32,185 77,280 27,188 26,270 82,281 27,199 118,253 32,196 58,211 34,192 52,284 23,243 32,188 49,193 112,274 119,268 105,247 44,188 116,271 34,196 113,262 118,254 113,272 144,276 22,260 50,285 35,291 115,257 60,207 117,251 47,189 28,194 105,247 54,283 65,284 35,289 59,210 73,280 106,246 95,284 80,282 88,280 115,250 128,259 107,244 79,276 106,249 41,192 51,286 100,238 42,188 49,193 102,249 68,212 48,190 95,281 48,190 93,280 127,261 108,280 132,276 50,286 34,185 109,248 78,286 111,273 108,248 71,212 45,186 30,283 97,237 106,245 121,275 132,260 80,225 49,285 117,252 50,284 73,280 34,286 31,196 119,256 39,292 36,185 23,240 68,213 81,228 81,225 124,260 140,256 85,280 58,208 109,244 100,244 126,264 73,285 53,282 123,259 23,246 30,283 25,203 29,202 84,280 27,199 28,199 22,235 37,184 141,274 22,265 39,189 59,207 44,193 107,280 27,190 27,275 51,198 37,186 95,284 59,205 23,228 26,270 82,279 22,259 95,281 27,275 98,285 113,248 88,228 120,274 32,190 92,284 104,245 50,288 22,240 72,216 94,281 102,282 113,274 49,195 120,273 50,198 23,206 77,228 119,274 88,230 38,188 26,272 122,263 112,265 82,284 122,274 113,264 104,250 79,282 87,275 112,245 82,276 97,235 144,273 87,227 26,281 59,202 49,285 120,270 82,283 42,185 41,186 24,269 118,251 24,270 47,287 33,196 41,184 104,249 32,198 108,281 100,247 137,260 96,283 122,265 111,248 28,203 118,262 115,246 27,194 39,186 24,276 40,188 40,189 23,241 87,231 74,287 93,235 86,277 27,187 56,204 24,252 22,215 129,263 97,236 124,263 58,284 87,229 123,264 50,284 29,189 75,222 71,284 82,228 121,257 67,212 88,227 127,259 39,292 34,184 80,283 97,238 60,206 41,292 103,249 92,284 59,211 28,186 131,278 29,188 110,270 71,214 100,247 107,243 24,252 37,187 93,280 31,194 86,280 50,192 114,252 118,258 115,254 140,273 23,260 86,228 36,184 37,193 80,277 46,191 102,242 58,285 105,241 23,268 24,275 107,251 35,289 43,191 84,226 112,244 103,282 30,191 46,188 38,190 36,186 105,246 118,252 42,187 132,276 98,284 72,282 76,287 33,287 69,215 123,262 81,285 88,233 92,232 55,203 29,274 78,284 60,206 118,263 48,188 122,274 112,263 77,224 131,258 138,260 117,277 123,258 47,287 36,288 93,280 87,279 27,192 34,290 80,276 92,279 111,248 120,264 23,218 79,275 42,187 114,269 50,195 39,186 39,293 113,264 136,260 23,217 42,289 119,261 85,227 34,288 29,190 23,256 85,229 33,290 95,235 74,218 115,276 79,276 34,196 114,249 67,285 27,274 79,228 116,271 61,204 114,258 53,204 34,187 77,228 67,208 92,278 28,282 113,266 120,271 29,202 79,278 92,279 29,188 31,199 34,289 31,193 115,259 124,263 124,256 87,229 25,215 127,262 100,244 32,200 123,262 29,281 24,276 87,227 33,191 121,264 125,257 136,258 101,281 129,258 23,261 98,246 98,244 102,239 75,280 131,258 73,279 71,212 114,273 24,215 34,186 30,186 26,279 77,284 101,243 97,237 48,287 24,222 26,202 51,287 114,277 125,263 31,190 134,259 101,242 36,185 45,185 94,282 108,242 81,282 84,224 115,259 23,221 95,234 62,285 36,290 112,247 27,273 94,284"/><polyline class="r1" points="147,272 157,294 146,269 167,275 158,296 257,302 219,283 214,278 55,293 154,291 77,217 92,294 63,198 167,265 39,167 123,294 147,251 74,291 85,213 156,289 94,291 240,288 78,202 36,179 138,279 76,310 30,294 138,291 194,294 145,243 18,196 21,252 20,193 53,306 19,273 82,296 76,203 149,257 174,292 83,289 105,292 146,275 146,260 159,282 148,306 227,286 261,293 28,166 71,306 70,295 34,299 225,316 37,325 105,232 112,232 128,289 51,294 79,199 188,318 151,260 63,195 25,293 196,291 142,260 144,298 72,214 91,213 111,241 30,166 139,240 87,291 77,197 174,278 108,292 159,278 101,289 152,283 145,282 45,310 148,308 22,248 98,299 73,296 17,213 126,265 164,267 177,307 91,228 25,297 120,240 20,268 56,292 135,281 206,301 201,296 133,255 15,215 27,293 247,318 17,298 65,303 20,215 121,248 185,279 287,322 78,215 171,304 88,294 33,148 115,241 51,293 168,262 134,292 125,290 164,260 120,242 307,304 146,258 278,309 19,227 45,312 47,293 124,282 73,293 21,217 22,194 74,288 18,277 29,155 28,292 130,276 158,269 35,165 219,282 22,202 179,289 124,275 210,301 29,298 134,298 121,300 106,303 190,288 81,298 163,283 144,291 75,311 100,288 40,295 208,307 44,183 205,303 131,321 197,277 94,293 105,226 147,278 18,285 20,258 68,296 21,274 74,215 125,244 136,279 66,198 189,293 122,283 163,280 150,271 51,300 226,303 37,293 22,293 55,289 226,292 83,297 137,281 55,200 237,313 114,290 26,313 178,317 124,247 49,185 187,271 57,180 81,297 57,288 100,235 205,307 121,284 223,301 83,289 150,282 230,285 48,294 35,150 96,233 153,292 127,257 127,256 162,277 135,285 199,272 121,321 34,305 206,283 130,253 126,280 25,284 22,200 43,308 142,266 26,167 131,250 233,302 164,273 71,206 167,268 171,295 138,274 75,215 161,273 55,189 50,188 127,236 125,280 231,295 21,255 153,262 31,181 75,206 138,255 118,298 174,283 32,289 41,298 176,278 58,198 125,244 70,301 28,302 84,287 52,194 171,268 40,304 119,239 105,284 177,290 118,241 100,294 226,287 53,317 34,166 197,310 218,284 95,298 67,308 124,277 140,271 87,209 134,302 153,298 220,283 138,252 103,230 35,299 69,292 200,281 30,293 120,278 67,309 157,281 52,292 109,231 123,286 110,301 130,248 24,289 200,295 55,192 29,161 47,300 130,274 152,264 91,288 25,288 41,301 120,286 104,236 98,225 165,274 226,297 101,309 34,158 167,272 126,245 37,181 43,165 141,254 179,294 217,284 245,305 90,224 251,300 145,284 80,209 268,304 66,297 46,296 286,304 167,268 159,302 42,177 113,287 76,311 155,264 77,298 232,284 259,301 65,313 204,303 77,219 140,263 64,197 139,265 14,292 144,269 213,288 197,288 120,289 29,307 91,225 247,314 68,286 15,244 60,298 56,200 130,278 61,292 124,253 131,296 59,186 23,171 121,279 130,275 161,291 87,205 137,283 22,198 54,287 102,289 29,156 55,187 45,175 120,293 19,235 75,294 148,272 220,299 23,212 131,293 196,283 200,282 264,297 26,281 133,270 229,287 212,288 83,224 124,249 158,262 128,274 47,176 88,283 131,251 143,260 210,298 72,207 81,314 242,289 90,223 19,221 287,305 122,244 21,264 202,266 167,255 120,287 114,233 117,243 23,202 89,289 114,303 104,297 151,288 124,234 140,281 190,307 216,286 139,271 149,256 20,182 207,307 201,283 132,275 97,231 42,298 128,279 130,269 143,287 56,177 248,308 89,216 137,250 55,291 157,263 238,288 52,296 117,268 151,281 155,283 54,308 251,298 159,273 102,293 105,224 127,243 100,300 25,300 23,255 63,300 227,277 108,228 135,263 44,183 141,269 218,274 80,201 262,290 15,243 114,242 193,301 344,326 171,299 16,216 142,269 21,293 101,290 195,296 138,265 23,310 120,235 73,294 215,307 114,233 98,226 91,317 50,192 149,277 23,178 212,307 95,298 60,310 19,275 35,179 87,214 105,233 44,178 130,283 115,297 27,285 61,195 29,184 22,272 120,240 140,255 65,287 20,236 43,301 75,217 156,266 287,305 141,254 63,289 47,186 148,267 142,296 20,282 200,274 20,250 114,242 73,214 103,290 233,307 163,290 71,206 34,180 75,304 182,272 28,300 81,209 107,225 103,289 183,283 177,272 23,300 112,283 96,221 150,277 104,240 74,209 68,193 158,271 29,179 264,289 165,286 145,301 23,185 132,286 285,308 83,223 159,264 155,284 269,300 149,284 150,297 79,213 191,273 169,280 65,291 192,291 119,268 148,316 154,281 112,292 102,220 72,212 54,294 145,279 185,267 105,293 96,304 179,275 120,293 62,199 66,291 258,294 18,252 60,294 169,271 162,270 22,197 95,294 122,316 152,270 187,274 91,290 77,312 104,297 94,218 41,182 169,285 263,296 97,294 239,297 47,312 90,286 140,294 125,274 181,290 117,243 160,255 65,204 241,293 93,229 38,301 89,214 32,299 167,260 22,248 200,290 123,290 176,295 26,155 28,155 44,175 129,250 115,288 28,304 43,315 39,314 128,265 147,258 37,154 159,282 212,293 123,267 34,174 118,250 48,183 61,314 293,300 136,269 137,266 146,278 147,288 184,291 183,261 92,219 21,229 20,234 53,297 69,198 24,190 30,297 71,199 168,291 126,279 50,304 110,287 156,285 106,291 26,293 145,279 218,293 155,272 132,246 54,187 56,295 128,295 23,184 62,296 189,289 136,270 36,298 128,279 99,229 163,270 180,302 67,314 172,283 56,291 113,282 47,292 111,303 110,238 175,308 211,296 69,287 31,148 123,252 106,286 124,293 130,292 203,276 102,294 50,319 153,266 199,276 25,160 47,294 28,294 196,277 63,301 232,291 207,286 21,231 144,265 137,254 172,266 207,312 87,310 184,305 157,289 145,303 46,179 145,275 159,285 119,264 64,299 142,265 145,279 91,211 143,287 106,232 113,240 85,302 128,268 145,272 93,226 98,310 98,294 59,300 48,300 47,291 40,182 183,279 201,295 26,290 60,294 149,261 119,234 194,273 60,203 149,282 163,264 74,315 140,260 99,292 154,286 21,243 91,313 78,207 17,288 33,154 165,286 81,303 61,293 223,286 47,171 62,194 22,204 96,287 90,224 96,287 187,306 21,229 92,213 68,292 247,295 22,247 79,213 78,290 100,292 21,255 44,301 132,238 60,289 185,294 85,216 149,273 121,242 128,246 110,296 180,301 81,211 130,299 88,295 59,191 20,262 159,282 95,232 70,206 102,301 148,264 287,308 144,264 46,182 125,234 41,309 125,295 114,284 171,289 127,267 32,170 145,257 56,199 24,152 95,301 219,308 35,296 55,198 160,299 86,316 283,296 151,249 144,258 76,288 260,310 54,299 18,218 77,294 126,281 199,289 162,277 72,294 22,268 89,221 75,209 130,266 120,268 101,298 141,290 42,296 90,308 179,262 112,284 121,237 54,310 158,283 91,293 70,196 28,296 31,302 166,289 127,272 157,294 128,280 20,266 214,297 124,296 145,299 100,230 124,272 59,288 150,254 21,257 70,199 21,206 51,176 119,268 25,281 200,273 117,246 24,199 61,197 134,262 224,302 106,229 108,302 17,196 60,199 148,288 84,214 107,233 308,307 215,305 61,300 19,195 161,292 147,260 158,283 179,261 170,258 163,268 19,234 90,298 192,291 146,258 47,183 22,282 41,179 144,251 76,287 152,309 217,303 135,277 110,292 79,299 110,290 186,272 117,290 142,280 192,302 40,310 181,298 200,299 143,282 212,302 28,139 20,268 60,298 168,279 122,279 201,271 137,269 89,222 119,232 98,288 90,225 119,285 144,281 193,314 33,166 124,242 246,310 81,222 144,287 200,275 132,273 112,232 240,282 21,186 22,248 42,302 161,294 84,287 108,233 161,278 123,298 51,304 37,171 29,298 27,181 21,268 116,304 138,301 126,307 146,304 24,301 122,241 135,289 133,251 137,242 73,206 245,283 233,296 160,294 106,234 127,276 115,288 87,293 146,289 96,313 127,251 68,208 20,250 139,266 108,239 64,300 128,300 110,294 116,294 105,293 200,280 176,279 211,293 211,289 138,304 184,281 147,265 82,220 157,255 185,315 126,255 19,205 120,266 91,219 87,292 163,300 17,261 112,235 169,288 137,271 132,249 54,199 144,295 19,235 22,221 186,296 153,291 224,293 97,294 130,274 103,289 31,301 119,267 169,266 59,292 152,313 25,182 132,268 30,291 164,273 140,287 183,315 82,291 137,266 93,300 65,287 79,218 36,156 78,221 168,255 23,283 158,308 99,290 133,283 127,301 104,308 20,236 100,227 29,151 50,194 119,286 110,292 175,271 150,294 81,211 142,287 263,307 54,317 146,265 119,265 134,288 28,172 235,289 193,269 43,304 75,288 61,304 124,295 138,291 208,271 96,299 226,310 131,289 113,296 21,205 45,297 87,295 183,276 129,292 78,207 102,295 66,195 206,313 54,199 79,204 186,281 110,282 173,278 109,294 109,288 78,206 87,293 175,281 131,292 107,293 64,195 119,299 27,166 160,276 80,222 52,178 151,277 181,283 176,273 55,303 121,246 38,180 137,255 132,290 155,300 166,303 169,267 81,293 134,270 76,212 210,284 25,156 156,306 149,274 167,264 135,297 52,292 54,298 101,286 118,304 243,281 87,289 31,182 115,227 156,293 133,274 133,250 65,296 44,293 134,256 100,314 179,259 204,271 17,227 78,313 24,136 201,272 43,167 82,292 166,269 30,312 125,250 47,183 24,189 109,302 190,304 163,289 60,191 158,268 131,242 55,295 76,309 112,285 143,250 240,299 160,264 115,292 248,316 39,320 26,158 157,263 21,274 52,193 177,268 189,307 179,284 56,199 52,313 173,268 183,264 100,287 47,175 60,290 58,196 115,297 122,245 46,295 129,291 115,287 116,298 62,198 130,277 131,267 18,275 129,265 130,264 128,248 123,283 37,159 171,299 87,306 78,221 254,302 43,305 93,298 29,178 256,318 227,282 183,272 47,183 144,256 127,241 74,195 27,164 66,300 51,170 51,196 95,308 144,252 88,212 154,270 42,293 84,295 202,289 115,294 298,308 113,290 150,283 121,241 232,308 89,223 192,309 51,182 21,256 34,179 131,269 136,277 18,187 16,247 62,205 127,253 153,280 109,287 247,308 194,308 191,280 95,300 88,220 139,293 29,285 47,305 56,201 72,210 127,292 23,283 21,221 131,286 21,187 59,184 54,295 166,289 276,317 163,280 144,250 48,319 53,185 20,190 136,241 191,276 169,285 81,316 41,181 69,293 312,310 122,298 19,233 41,297 87,302 21,235 147,299 56,310 119,236 73,296 184,271 237,286 126,282 58,305 62,295 35,295 149,269 102,230 135,278 92,224 137,283 46,290 109,297 56,198 83,222 126,279 129,254 118,264 197,285 128,246 60,305 98,228 29,295 141,271 150,260 85,218 39,298 206,292 135,280 231,291 93,293 129,278 151,292 50,185 175,279 193,278 69,206 200,303 138,251 165,277 203,286 150,274 168,266 50,185 145,252 132,263 141,294 85,300 122,313 21,230 45,301 117,282 92,295 270,314 52,180 217,279 110,227 136,255 21,258 123,282 68,304 239,296 43,293 219,291 183,267 243,290 157,292 124,243 216,312 47,170 138,244 156,279 252,306 168,301 111,235 203,304 129,296 126,299 211,291 86,220 110,223 87,216 38,181 148,273 102,294 136,255 16,236 86,295 91,227 285,314 259,294 149,280 84,305 145,273 142,257 150,276 176,280 194,297 240,300 142,280 261,298 136,246 142,266 156,277 201,268 156,279 86,295 185,261 39,301 128,269 40,303 162,254 149,264 150,265 23,275 130,249 224,287 104,230 121,251 25,149 122,255 90,214 20,281 121,244 145,280 152,291 130,294 130,263 156,259 187,295 126,270 22,281 35,296 78,218 16,261 177,278 149,270 141,286 63,197 90,229 24,183 37,167 178,276 54,306 165,321 152,253 171,268 115,286 197,309 24,192 18,268 199,296 109,236 21,168 144,291 19,162 213,294 171,270 164,282 96,302 181,300 148,272 111,233 158,273 217,301 78,210 260,317 116,284 61,293 196,281 97,293 99,294 152,273 52,298 25,308 142,298 46,306 20,255 44,170 23,253 20,242 56,183 163,282 220,287 71,200 155,284 234,288 116,281 231,296 24,284 36,293 196,300 169,265 174,258 24,182 247,313 130,245 125,274 26,184 109,240 29,147 146,278 120,289 155,263 73,291 78,201 103,287 70,208 126,287 59,199 53,197 66,206 134,290 91,229 90,223 65,293 23,221 205,276 96,227 101,237 212,301 212,300 114,290 174,277 158,293 177,272 22,207 17,246 142,256 154,269 148,296 189,288 112,239 58,191 183,292 80,219 147,284 32,292 30,181 110,296 19,231 257,290 119,242 19,245 147,262 76,217 206,303 190,293 161,271 162,283 77,292 35,297 152,283 211,287 84,286 164,266 26,161 52,181 123,273 187,289 99,232 185,288 94,220 26,198 79,291 68,301 217,276 222,299 126,278 176,302 63,206 170,282 129,290 216,278 165,279 154,273 25,278 121,315 260,302 67,205 218,292 231,308 161,278 54,188 141,257 20,230 41,176 182,311 179,303 122,235 180,278 33,296 32,292 260,286 202,286 146,264 76,213 157,274 142,300 58,292 21,283 49,188 62,204 192,283 140,265 42,176 124,267 106,284 112,283 53,190 99,290 185,309 168,266 92,222 109,310 127,246 185,288 36,177 61,204 21,182 146,280 226,281 132,247 184,308 264,298 121,296 106,290 45,293 136,256 189,295 24,300 141,295 96,301 23,167 164,286 154,297 79,304 165,272 24,198 33,298 24,202 205,300 51,189 170,318 106,291 159,255 33,152 91,213 187,288 20,173 220,289 67,289 47,306 21,211 199,283 150,265 159,284 131,270 28,296 159,311 47,295 153,251 94,299 105,240 183,273 162,265 107,303 120,240 111,297 174,313 133,261 240,304 159,269 154,264 78,289 126,284 175,299 126,240 24,164 141,292 34,162 44,182 174,266 132,261 96,229 69,305 196,299 137,264 50,178 172,277 141,263 43,305 160,309 141,269 139,295 112,281 128,242 57,179 128,269 140,279 86,216 175,263 20,191 58,201 129,319 145,253 164,288 75,308 124,250 140,281 59,312 97,305 76,294 224,290 110,230 113,291 99,289 130,262 259,313 27,157 141,282 65,291 121,295 50,295 96,220 21,204 29,298 118,263 145,267 187,293 22,203 101,227 27,317 98,232 94,229 177,273 185,264 21,296 24,275 97,232 131,283 97,300 149,286 25,189 34,310 52,191 250,316 220,274 125,244 22,207 174,278 65,311 101,296 55,196 240,303 88,289 123,280 45,175 268,310 33,309 128,233 154,278 77,299 76,207 44,300 25,293 150,254 152,250 23,275 101,226 121,289 29,318 26,185 57,295 107,231 165,286 55,199 118,290 133,285 85,289 213,285 55,296 88,285 90,304 180,267 133,281 65,305 51,183 19,172 16,218 33,174 126,278 164,267 182,297 25,174 214,290 54,293 157,308 109,295 78,293 67,317 41,310 219,291 79,215 128,254 200,278 62,288 121,293 132,293 55,201 155,279 37,293 84,219 215,281 97,295 67,293 21,217 92,226 32,309 16,228 89,229 123,252 129,318 195,303 114,279 40,303 106,238 160,271 116,288 227,323 20,191 123,256 115,295 147,256 161,278 36,178 122,281 66,302 64,201 124,235 20,297 149,290 23,190 87,297 102,293 33,163 87,213 163,274 145,267 248,284 85,283 33,172 139,309 89,294 211,293 252,301 199,277 106,286 28,286 222,297 203,281 193,293 133,317 35,177 202,317 62,184 80,303 32,173 113,237 153,278 75,315 143,291 105,228 159,256 110,234 115,302 186,269 179,278 196,286 123,276 37,178 146,273 22,193 46,183 57,308 109,291 173,285 118,288 162,279 68,294 88,282 49,293 131,292 208,287 135,247 134,269 128,256 115,244 173,260 145,291 195,269 100,227 194,296 260,294 164,296 153,282 162,257 97,293 48,296 47,187 198,285 58,198 62,190 28,291 118,279 247,302 169,270 25,184 89,285 158,274 110,224 131,306 157,277 70,205 134,274 23,275 40,182 133,255 133,262 103,303 259,293 140,276 77,206 126,292 134,261 92,287 125,266 70,287 70,198 143,265 145,296 121,290 52,195 161,261 87,213 33,301 195,293 93,313 92,297 22,205 158,263 51,194 20,206 33,179 216,294 53,180 137,245 72,209 138,245 170,303 37,294 170,291 105,314 23,176 178,285 187,306 108,295 136,307 55,185 199,280 186,282 231,299 180,287 58,319 238,306 177,274 214,275 93,299 119,291 25,145 189,293 176,262 207,275 162,278 36,296 97,287 151,266 145,270 37,147 86,284 98,293 109,311 158,289 159,280 148,291 160,298 195,297 48,298 117,244 21,242 75,197 25,280 56,189 81,294 28,310 94,287 97,227 161,272 89,299 251,296 156,293 161,294 238,298 82,297 149,248 166,296 138,295 115,268 181,272 156,297 132,257 71,207 202,297 48,299 35,180 124,249 145,266 149,271 101,232 64,292 72,213 125,284 133,268 189,290 110,301 146,261 154,264 83,316 125,271 290,308 43,162 121,249 110,300 224,288 159,304 88,303 32,310 119,249 92,286 30,172 161,303 68,290 106,228 79,207 27,179 24,199 235,280 91,295 85,292 87,283 22,193 191,312 94,291 119,263 195,290 106,287 74,297 139,261 21,278 166,273 22,184 62,306 141,286 108,227 19,213 18,273 115,237 79,293 79,296 162,272 28,169 26,182 162,254 163,271 146,285 21,269 69,287 77,202 74,296 72,291 31,146 151,250 142,263 246,287 77,288 141,252 19,219 154,291 131,306 52,291 179,302 78,298 122,299 181,283 190,289 28,155 62,203 64,296 127,250 21,229 22,256 20,280 99,233 91,316 132,281 176,268 218,285 141,246 130,275 28,178 137,302 246,312 151,250 118,280 187,281 29,166 29,302 223,289 30,155 47,177 64,301 174,275 143,294 91,230 182,268 28,184 163,305 79,295 151,267 36,316 34,173 74,291 87,300 127,292 73,200 115,285 23,158 134,294 32,161 167,277 38,294 119,249 59,296 125,269 184,281 24,276 111,234 191,293 158,293 136,303 17,265 47,174 179,302 51,313 154,262 176,280 158,293 147,279 44,297 113,280 32,170 91,286 28,306 52,190 132,301 21,240 121,237 193,271 224,307 43,295 217,280 128,249 199,272 36,182 145,255 129,299 161,275 109,236 115,286 169,267 21,256 81,214 45,173 164,290 139,275 164,266 192,293 23,253 127,292 82,289 33,304 22,208 222,284 185,295 109,236 263,296 147,303 31,305 94,296 138,276 40,297 152,253 218,301 36,316 86,293 59,188 38,305 267,304 147,258 124,272 136,272 194,305 148,263 162,299 22,243 135,290 186,294 44,183 317,318 110,236 80,305 136,267 61,202 57,297 218,273 313,316 119,278 29,174 56,295 117,236 61,295 94,285 140,297 241,306 88,223 80,306 149,294 54,191 21,212 123,250 192,293 168,286 125,247 88,209 54,190 88,219 90,288 241,291 40,169 99,230 20,205 175,292 30,177 36,299 105,237 166,275 177,297 18,129 153,248 95,228 143,262 22,272 114,230 122,250 81,312 119,241 86,214 144,253 177,298 179,270 35,301 106,289 50,193 42,315 38,295 145,251 249,304 127,291 75,306 124,300 137,279 98,230 175,281 96,290 149,304 146,309 171,258 105,284 33,297 174,297 108,319 134,272 54,308 263,323 89,219 175,273 57,289 105,282 77,290 25,297 198,266 49,304 82,224 179,285 21,212 122,277 151,258 188,287 131,264 163,286 47,174 49,294 46,311 17,253 140,287 27,306 50,292 134,250 24,183 310,318 156,290 145,256 65,300 142,314 106,228 135,277 47,181 136,273 98,304 116,277 131,270 60,184 90,298 147,290 180,297 132,268 48,297 99,234 33,316 150,270 127,279 227,288 186,281 120,282 48,293 26,162 72,287 144,297 39,312 142,258 15,239 32,148 63,203 120,267 106,226 207,295 90,300 115,242 161,280 63,293 19,267 131,281 99,291 26,197 62,302 223,303 18,229 102,300 78,291 84,223 53,304 101,314 102,291 64,200 291,301 147,266 128,252 164,277 115,299 105,289 127,284 105,298 38,171 22,174 163,290 102,293 37,159 61,295 133,280 27,304 65,188 18,262 20,211 155,266 83,294 26,309 97,301 144,248 121,269 175,277 125,251 162,281 98,304 122,297 122,255 114,237 146,260 158,264 105,284 142,283 45,298 152,282 145,270 101,308 57,302 128,278 188,270 240,311 143,257 111,288 100,285 242,310 52,194 83,294 89,307 159,298 134,281 52,311 90,291 150,273 147,301 172,278 40,301 152,284 200,281 91,229 32,181 193,294 211,297 103,292 171,269 227,312 154,269 68,297 187,275 26,292 22,255 100,292 20,237 161,278 76,214 71,203 73,290 141,269 184,272 241,307 75,214 21,285 76,215 135,295 188,287 44,183 198,306 36,165 57,293 136,288 21,216 22,197 95,221 74,296 163,303 86,218 77,298 120,269 151,248 37,180 201,298 82,216 27,306 186,261 189,306 62,289 170,284 48,189 41,300 136,295 234,286 110,240 131,253 243,310 193,272 139,297 82,299 103,234 130,244 35,177 58,304 141,246 72,294 147,292 26,190 100,303 232,293 150,312 196,288 151,289 48,175 270,313 186,290 183,305 157,277 131,245 145,281 134,288 101,283 133,263 94,216 27,164 155,301 112,292 169,282 118,290 102,230 57,198 87,287 191,301 30,300 167,295 145,323 222,293 104,228 127,237 81,205 130,282 53,292 148,270 172,287 173,277 40,183 172,259 96,287 171,278 75,212 73,207 144,286 108,284 63,297 33,180 168,303 28,181 114,232 126,287 14,164 111,290 21,173 55,299 94,224 162,277 19,267 130,273 130,248 168,268 164,291 57,297 170,271 143,249 64,289 233,302 155,289 118,230 146,282 236,307 21,205 114,233 206,273 156,308 207,273 142,252 170,285 180,269 230,300 189,306 150,286 138,279 27,296 160,300 142,286 103,304 133,272 175,276 174,268 155,308 22,294 137,283 248,299 250,288 75,216 72,291 135,269 40,304 44,180 154,266 78,219 205,313 163,294 113,294 43,305 173,290 23,291 153,259 86,282 28,289 77,222 117,307 211,290 238,294 77,206 267,303 93,287 167,293 32,158 26,312 232,297 102,317 260,296 57,187 27,286 261,310 55,193 204,281 149,277 138,282 199,301 144,244 76,218 172,303 33,290 61,295 66,205 182,292 198,275 121,286 142,294 141,264 254,314 126,264 21,189 148,279 30,292 137,247 85,219 135,271 183,275 27,288 141,289 98,296 152,258 165,280 123,297 37,305 191,294 170,282 105,237 22,278 46,169 108,287 138,288 39,180 18,211 22,184 25,290 149,298 148,284 125,316 114,301 200,295 156,298 177,262 284,317 21,274 49,182 167,281 226,287 220,283 21,289 73,197 70,295 179,285 27,195 274,301 234,295 59,199 116,292 160,285 178,304 101,294 144,277 113,288 135,317 104,233 182,302 24,190 113,280 85,307 167,290 20,249 154,265 32,316 153,264 130,271 151,267 86,285 143,257 174,284 131,268 109,228 225,287 106,234 122,288 20,268 88,215 175,262 21,268 129,277 56,288 53,189 93,293 64,206 63,294 145,293 106,239 262,317 56,293 21,251 34,311 36,170 162,300 80,213 95,304 89,289 160,296 166,298 184,304 88,284 108,225 23,172 28,176 60,185 88,291 37,158 230,289 65,315 183,272 146,303 64,312 80,224 68,304 186,294 133,265 205,290 63,203 51,293 37,181 85,299 58,195 81,209 149,302 138,251 117,231 88,303 251,302 115,292 165,267 138,263 19,284 65,200 29,287 221,294 67,200 100,300 134,243 86,292 21,250 109,289 132,276 148,297 24,180 20,273 28,285 124,275 101,308 190,268 138,242 162,271 56,196 161,274 131,293 63,299 72,210 200,284 154,267 38,172 32,293 146,295 179,290 230,294 146,316 94,285 138,282 174,274 87,309 175,308 49,306 174,302 145,291 91,227 32,178 134,267 128,279 18,202 55,188 245,306 202,276 240,302 119,249 68,299 104,228 55,193 22,271 126,263 141,294 23,159 196,292 207,276 144,245 24,274 27,175 39,170 217,289 75,296 230,312 57,316 132,239 151,264 208,298 28,291 128,256 185,268 57,290 89,300 96,299 35,158 33,183 133,254 39,174 169,262 168,274 139,275 25,177 131,297 137,255 155,295 132,255 88,222 127,287 35,179 241,283 80,205 126,243 117,316 65,206 80,291 22,196 110,239 109,294 227,278 132,283 167,267 95,285 150,314 227,292 192,282 28,295 163,264 197,304 224,279 42,292 143,280 48,314 130,315 195,308 143,258 64,291 22,203 70,209 147,254 78,295 80,218 137,282 25,178 51,187 139,300 141,255 106,322 164,281 172,287 198,278 194,283 128,291 117,305 113,230 87,281 31,167 176,302 98,289 37,167 149,293 114,310 88,221 84,297 120,280 292,306 109,237 71,306 136,282 145,270 157,257 164,315 25,195 21,190 225,282 46,182 228,283 226,291 136,238 129,247 52,299 79,223 175,273 88,283 32,178 129,235 81,222 108,226 65,314 147,305 209,300 43,174 20,253 113,237 71,307 54,190 111,303 114,289 72,319 99,297 135,270 147,290 51,182 36,303 30,168 97,293 19,223 22,182 53,180 180,293 26,198 59,298 38,298 47,184 112,231 128,249 65,201 109,288 26,288 97,223 140,257 100,220 79,222 134,273 196,280 112,236 47,178 103,309 31,309 120,249 176,288 139,276 167,264 143,249 140,287 69,297 139,275 123,273 27,184 25,185 139,269 110,293 68,203 35,309 130,291 139,249 128,278 30,295 17,281 68,200 125,252 130,274 179,295 65,299 89,291 36,175 73,316 117,277 119,295 157,283 141,270 237,308 71,208 146,289 169,281 147,305 28,179 103,233 60,295 78,295 30,295 66,286 128,279 153,292 72,309 42,161 56,290 188,297 42,182 142,281 151,279 167,280 28,298 33,177 197,279 47,311 300,300 69,207 62,307 190,310 89,223 153,303 81,310 135,281 218,291 166,293 79,290 48,176 118,233 121,297 163,296 62,184 20,299 41,180 149,274 22,275 124,242 172,279 39,178 26,298 145,298 88,314 184,294 62,316 171,284 141,281 94,286 21,268 158,263 35,176 173,286 155,274 162,256 103,292 120,240 194,279 159,293 81,287 134,282 131,304 62,289 150,253 173,257 34,162 212,296 184,283 139,261 161,251 131,280 140,297 22,244 103,300 75,300 84,219 162,277 104,285 51,185 153,277 183,272 236,305 59,303 217,308 114,269 104,284 37,295 65,198 49,187 168,293 118,279 29,180 113,282 45,318 140,252 34,182 25,198 84,212 134,255 170,317 19,254 123,297 78,288 193,294 28,175 116,239 144,295 265,305 149,278 259,298 134,296 110,230 50,299 170,274 126,256 30,147 58,288 135,257 86,223 230,304 85,214 56,288 39,159 154,275 174,310 158,271 101,304 122,273 149,261 150,260 157,274 32,144 153,295 149,281 123,255 69,298 221,286 137,293 185,272 44,174 130,295 30,290 87,316 65,315 88,293 212,277 139,292 114,292 249,289 251,298 124,283 129,250 192,308 150,281 144,266 218,296 23,188 77,289 24,288 188,282 187,274 26,182 27,197 106,236 42,168 22,203 29,171 137,266 130,308 101,223 32,179 139,243 171,285 131,237 21,242 137,240 49,186 175,273 139,247 110,288 28,295 206,277 18,187 33,166 27,166 153,270 154,278 165,283 136,256 77,288 178,279 141,248 85,291 79,298 49,290 153,260 126,254 203,292 134,263 100,234 33,304 233,291 133,257 30,176 45,294 59,180 101,298 182,281 76,214 90,302 22,225 140,249 176,269 183,290 189,301 169,299 130,293 44,167 76,214 76,289 184,268 145,303 117,241 105,293 118,293 130,278 20,170 130,241 45,302 134,250 80,216 123,245 30,179 53,297 134,283 164,277 76,205 19,235 19,219 21,248 22,221 237,302 40,295 126,269 26,169 88,284 130,268 23,205 51,299 115,279 164,269 104,226 182,294 99,310 24,175 164,268 146,266 165,263 54,177 95,225 133,284 101,301 23,287 21,287 140,286 20,199 143,280 45,171 136,265 163,273 107,301 73,298 83,215 71,302 20,236 38,304 27,182 147,277 116,241 105,238 176,274 140,298 23,291 275,315 185,269 106,296 140,260 19,202 72,287 55,201 199,268 38,166 185,277 136,275 144,270 175,296 22,287 140,264 26,314 112,236 122,273 177,314 271,303 160,278 145,247 130,292 114,233 90,287 51,294 160,277 183,293 194,265 114,289 132,291 236,284 33,175 149,252 159,278 105,294 101,294 219,292 18,183 126,241 73,302 142,285 131,241 146,268 129,241 58,291 32,302 220,279 214,305 215,286 22,252 143,289 154,264 178,282 143,247 63,202 106,321 125,248 139,267 105,232 145,288 201,309 205,295 70,300 23,221 187,292 105,309 31,166 15,291 135,296 135,256 205,275 137,253 32,303 99,228 221,305 153,266 25,168 298,303 147,257 188,290 66,307 120,280 124,292 202,272 23,290 141,299 173,304 153,284 92,211 206,298 138,288 51,196 49,300 240,286 90,290 66,300 132,265 132,281 148,278 95,303 24,304 123,300 91,295 145,275 33,179 217,283 112,286 21,180 202,303 145,291 174,299 84,206 58,293 167,299 120,243 198,296 170,283 28,292 245,287 56,200 179,266 50,296 197,292 173,296 128,289 171,274 159,268 204,273 250,293 151,261 115,281 27,282 67,287 130,245 91,218 287,311 93,225 105,239 46,294 149,285 24,275 86,306 90,230 39,297 72,206 43,167 144,249 20,157 19,193 114,238 63,204 143,298 151,267 167,286 116,228 73,213 163,265 131,272 152,297 124,275 162,299 25,307 168,266 51,193 133,258 271,313 128,309 113,296 174,286 120,268 25,192 169,268 45,166 153,288 103,283 184,295 178,289 143,255 140,295 115,239 157,278 131,288 19,221 169,263 199,277 37,308 45,293 88,281 117,298"/></g></g>
<g clip-path="url(#c12)"><g id="p12" transform="translate(417.6,249.9) scale(.5)"><path class="sat" d="M94,308 92,308 92,306 93,304 92,304 86,301 84,301 76,305 68,301 64,301 58,303 54,300 46,296 45,292 45,282 42,278 42,272 43,270 46,268 52,268 54,268 57,264 58,262 62,261 70,265 74,264 78,259 80,258 83,260 86,263 88,264 98,264 100,260 106,259 108,259 112,263 122,266 124,266 131,264 134,264 137,264 135,274 138,275 146,273 147,272 146,268 154,269 166,275 176,273 180,279 186,281 194,277 200,284 203,298 202,300 196,298 192,298 182,293 176,295 174,292 172,292 166,294 164,297 158,297 150,300 140,299 130,302 120,302 115,298 110,297 106,301 102,300 98,301 94,308ZM144,266 138,264 140,263 142,263 144,264 144,266ZM224,300 220,299 218,294 214,294 210,292 210,290 212,286 214,285 217,286 218,292 218,293 222,291 224,292 224,298 224,300ZM236,290 233,288 234,286 238,285 242,286 241,288 236,290Z"/><polyline class="d4" points="47,279 124,305 134,264 133,298 82,257 114,301 233,285 95,310 276,285 189,275 193,284 99,305 75,299 59,259 187,290 73,266 271,287 104,261 120,298 148,296 71,298 222,280 198,295 65,297 240,289 108,297 222,292 85,295 78,269 209,294 79,298 102,303 201,295 47,273 208,289 134,261 55,300 232,291 244,286 119,295 152,267 83,257 262,286 80,262 201,296 65,269 105,297 77,268 174,279 173,289 222,304 246,284 201,294 198,301 149,268 221,277 192,292 63,266 106,305 178,280 89,302 98,262 172,291 270,286 62,303 158,296 179,297 45,266 176,299 44,287 188,291 39,278 190,294 171,293 62,264 141,272 216,288 239,282 209,289 175,290 134,275 345,291 272,289 221,290 164,280 54,299 94,308 220,298 203,293 114,270 276,285 118,268 72,265 154,295 279,286 96,262 115,269 143,269 147,295 136,274 214,285 81,257 224,288 63,301 125,266 77,304 173,286 98,306 202,294 70,266 86,266 179,289 107,296 110,292 57,263 92,264 153,274 53,295 154,294 128,305 145,276 237,300 111,299 117,269 49,278 59,297 103,261 73,305 225,284 103,258 117,296 177,281 73,267 137,299 192,276 130,268 86,297 79,303 59,261 138,264 175,292 279,287 74,269 141,298 169,281 209,293 178,289 194,284 220,279 190,281 194,295 148,296 128,304 247,286 94,303 52,295 193,285 218,300 129,269 279,288 147,296 198,283 132,278 201,285 94,267 138,263 105,263 212,292 106,293 229,299 136,300 173,298 177,283 125,271 144,300 221,289 44,280 169,277 76,268 226,288 193,294 91,306 75,262 127,304 101,265 141,298 171,298 61,300 50,273 216,280 57,296 66,299 216,278 57,266 57,265 174,288 294,287 122,302 233,300 37,281 141,298 46,268 186,295 57,300 186,289 59,298 217,282 211,293 231,286 187,293 140,296 108,296 156,292 159,272 234,299 153,294 76,267 198,276 131,299 160,271 103,259 216,282 202,293 133,270 175,273 232,293 178,274 149,300 135,301 61,265 146,270 187,276 82,263 89,302 173,291 197,296 111,293 43,267 82,261 155,299 103,301 115,299 58,301 197,285 82,261 136,273 87,296 200,297 101,258 175,281 149,298 113,269 93,308 76,270 121,266 183,288 232,287 75,266 213,293 42,269 201,294 119,295 165,274 131,304 113,269 141,262 59,304 126,266 224,296 101,266 141,263 165,275 165,294 123,273 177,296 131,277 41,283 187,280 132,278 184,286 295,289 66,265 113,264 196,297 142,299 195,282 123,297 93,306 214,290 189,283 182,292 114,303 63,302 202,288 227,291 81,263 198,297 113,266 118,303 154,301 51,298 63,298 66,264 96,304 93,307 210,294 56,260 111,297 205,300 178,283 77,259 187,284 139,280 113,299 105,299 98,300 224,293 55,294 133,269 278,289 142,278 80,297 172,273 145,297 115,263 177,292 312,289 56,262 92,261 100,261 152,274 182,296 48,286 283,287 166,278 215,299 243,290 219,290 171,287 115,264 174,294 99,269 81,255 173,278 141,263 66,263 182,283 153,271 84,265 226,292 281,291 165,293 56,302 188,285 209,285 227,284 222,290 152,273 79,304 61,305 216,282 276,287 259,286 270,286 161,277 143,278 181,283 226,303 93,303 49,283 176,290 166,295 138,275 186,276 215,291 190,276 181,296 138,268 144,301 57,299 71,299 237,289 49,284 67,260 104,295 222,289 215,298 89,269 150,294 54,298 186,293 127,298 221,288 221,276 176,294 115,298 100,263 170,291 57,298 66,261 168,289 134,278 162,272 102,304 144,297 72,302 184,285 54,269 201,283 242,285 88,297 234,289 185,286 176,271 161,276 199,294 226,302 192,281 178,273 139,281 106,266 234,285 55,298 52,289 127,263 180,278 166,281 235,290 149,266 48,269 102,263 182,276 71,267 138,261 134,267 78,303 180,288 109,302 142,268 130,264 107,298 130,267 237,287 166,294 180,279 156,273 223,298 283,290 278,285 80,298 163,275 135,264 157,275 176,271 273,285 183,288 204,301 195,292 112,300 123,273 66,265 92,264 235,292 233,292 114,270 178,285 46,271 93,310 107,303 198,277 65,297 44,294 276,285 145,278 113,292 68,301 149,268 75,266 234,298 144,274 45,282 241,286 217,292 174,292 227,291 193,298 159,292 136,268 180,283 222,302 196,291 133,266 54,300 49,286 179,275 47,299 220,291 47,294 104,259 234,301 143,275 182,276 189,286 203,296 41,272 219,296 46,284 222,302 188,290 112,301 235,300 203,299 194,294 73,299 236,289 203,288 204,295 75,263 133,299 95,300 61,302 223,292 239,283 101,295 46,287 134,272 95,298 92,302 216,281 217,282 277,287 143,295 43,272 96,305 123,271 283,288 217,290 193,274 225,291 133,266 216,297 220,286 44,282 96,263 166,288 171,272 229,294 194,293 136,302 219,279 204,302 138,264 113,297 46,290 178,277 217,298 239,298 140,298 108,260 100,264 201,300 92,265 99,295 152,295 48,273 210,294 258,284 260,284 175,276 135,302 46,292 139,297 69,296 202,284 124,266 54,296 68,295 108,299 273,287 135,276 199,283 213,282 112,293 194,298 155,296 218,289 193,294 140,297 202,302 60,260 162,273 198,289 69,264 163,279 162,277 154,293 48,281 198,294 70,300 131,298 177,274 101,295 200,277 164,291 96,299 88,297 108,264 80,264 134,279 110,302 94,303 77,265 149,297 237,291 176,296 188,284 56,261 108,266 59,264 45,268 212,285 89,304 199,276 90,263 196,298 217,301 239,291 146,266 46,289 68,296 58,265 56,271 164,279 147,262 45,291 124,269 195,297 204,297 71,270 83,263 256,287 217,290 179,283 47,269 236,283 94,310 52,297 105,301 213,294 230,288 236,285 81,264 50,285 123,273 278,289 39,283 56,297 117,267 162,279 144,300 49,284 162,291 84,267 112,293 138,275 50,295 126,271 110,298 60,298 191,276 42,274 173,288 103,301 79,306 185,280 226,301 200,290 272,288 116,267 147,278 144,264 63,265 80,256 80,302 79,268 102,296 130,268 187,284 68,297 188,286 145,275 195,286 60,304 169,293 119,306 174,275 226,293 200,284 74,298 127,304 178,276 113,294 75,264 121,305 157,274 96,266 182,285 135,301 182,279 167,281 56,300 83,303 220,300 99,267 239,299 58,302 159,298 154,300 230,288 139,294 204,301 222,290 153,268 191,276 212,281 186,296 55,267 165,290 225,290 293,287 294,290 189,299 56,296 132,277 144,265 83,266 73,305 129,303 132,273 177,281 76,303 51,269 157,298 108,262 182,289 42,275 119,302 101,298 137,298 207,288 48,288 80,263 60,262 86,297 241,288 235,301 201,297 146,277 143,263 190,299 81,301 57,270 77,304 201,298 124,301 185,293 211,290 313,290 161,276 128,297 255,285 197,285 113,293 46,271 199,281 105,301 93,269 221,303 96,262 78,302 219,302 238,289 48,290 229,290 104,264 164,293 218,279 219,285 132,271 133,301 90,262 148,271 57,265 46,286 96,269 80,300 146,273 56,270 166,280 43,276 213,288 38,281 158,295 136,273 63,258 282,286 236,302 215,279 39,281 143,293 120,294 214,288 78,301 106,265 75,263 258,281 139,273 66,266 219,274 271,287 196,294 63,260 91,267 157,276 107,292 57,258 103,261 82,257 151,268 165,294 166,296 163,279 76,261 43,287 144,277 67,265 212,283 133,302 142,277 59,265 189,284 225,300 129,299 54,273 179,284 116,305 92,304 148,277 201,296 198,289 196,274 71,269 225,289 114,265 39,280 122,271 201,285 104,260 146,296 141,275 87,263 283,287 240,299 144,277 221,291 145,295 72,300 113,299 196,300 156,294 138,268 117,301 211,288 245,287 146,263 283,288 130,264 214,282 54,296 131,264 217,284 196,275 91,268 107,265 53,271 162,298 62,299 189,298 190,297 225,283 196,299 116,303 48,286 141,262 172,278 189,276 104,305 81,264 91,268 136,278 257,289 259,286 147,270 164,293 126,303 97,299 167,277 101,295 52,274 212,293 225,285 108,296 206,298 196,278 56,260 313,291 213,280 59,264 165,275 198,290 124,301 213,293 166,299 226,296 70,267 69,268 217,289"/><polyline class="r2" points="229,281 348,293 130,260 159,264 34,287 230,301 309,301 288,287 222,306 60,256 91,258 351,293 32,285 204,278 335,293 285,299 137,259 285,294 204,283 346,295 148,304 50,300 43,258 184,269 219,268 259,280 296,283 180,271 218,272 43,289 254,282 174,301 348,294 319,286 236,294 126,261 123,264 218,269 206,304 322,296 352,289 273,292 67,256 254,293 287,285 170,269 331,291 181,303 98,258 282,296 109,256 151,302 333,288 99,308 131,306 189,270 269,288 301,290 93,311 40,274 268,296 219,269 287,287 253,284 242,297 44,266 343,295 49,262 278,291 350,287 217,274 241,293 231,304 153,301 34,290 114,305 201,303 344,294 163,301 90,310 257,275 57,256 75,256 244,297 308,279 315,293 269,299 36,278 287,296 119,306 316,291 336,297 182,302 45,263 38,273 320,286 66,304 223,304 307,302 207,297 187,298 75,260 178,301 179,298 42,268 94,259 268,281 297,295 253,279 77,256 205,281 133,260 261,280 208,301 315,285 215,272 191,301 256,294 53,264 42,295 252,297 289,294 113,260 188,272 267,299 180,297 266,296 227,305 308,300 299,286 276,299 134,306 258,278 222,276 110,303 252,290 61,251 332,293 348,293 283,296 182,266 206,284 273,296 186,273 321,293 286,284 293,285 352,289 59,250 323,291 41,290 232,304 274,297 350,289 75,254 261,288 189,270 280,281 114,257 253,299 222,274 201,305 269,291 208,304 170,299 276,295 236,294 89,311 109,256 48,265 139,303 112,258 65,253 106,255 293,291 266,286 172,306 114,261 166,270 102,308 177,269 243,298 211,278 266,294 236,302 322,293 288,286 222,306 46,265 239,303 267,287 211,281 41,298 258,278 42,269 50,263 286,290 312,286 241,300 34,286 308,284 122,308 170,300 251,287 286,299 277,281 146,262 294,286 261,299 224,276 141,305 183,302 251,291 141,304 296,292 37,273 260,300 272,300 253,289 309,289 43,297 94,311 69,257 343,293 179,305 163,301 59,249 49,301 264,279 307,293 53,259 135,304 227,303 269,293 254,298 184,272 195,302 53,260 35,290 255,294 212,273 249,279 211,298 258,298 232,302 243,290 143,258 100,307 220,269 280,292 76,307 210,279 318,285 251,283 109,255 67,258 128,262 225,273 232,296 196,300 222,273 86,254 34,285 174,305 244,282 53,257 225,306 46,301 333,294 260,298 287,283 42,267 233,280 346,294 296,296 297,285 241,299 69,261 44,298 172,269 237,303 334,293 211,302 297,294 52,301 326,289 60,305 253,292 217,272 325,287 86,304 181,300 64,304 98,256 171,305 238,302 292,284 270,301 184,298 132,260 352,289 135,306 69,305 265,286 129,261 111,304 186,299 307,286 250,285 316,291 208,298 246,289 324,292 242,295 255,284 173,268 61,252 298,288 256,277 80,307 56,305 307,286 251,296 136,258 125,263 267,285 271,284 287,286 310,293 39,272 75,308 306,303 278,296 241,300 90,259 252,300 292,292 200,274 147,304 212,274 255,277 318,289 287,301 255,276 276,296 45,262 289,291 353,289 265,283 144,260 313,298 89,310 274,296 230,300 280,294 69,303 236,304 38,270 245,298 191,301 284,297 276,295 254,282 97,260 332,290 159,266 242,281 279,284 89,258 110,306 275,283 266,290 98,309 282,282 50,300 288,296 342,288 126,308 348,292 185,276 278,293 238,297 37,286 162,303 182,269 216,301 270,297 247,291 142,302 335,285 234,280 128,307 259,280 206,284 101,256 171,301 298,291 183,276 67,258 88,256 87,305 335,296 241,292 184,300 211,277 69,305 292,295 47,300 204,285 214,303 205,292 202,304 50,263 175,304 151,305 273,293 212,281 265,293 311,286 130,307 210,298 292,298 181,305 349,292 279,293 146,260 310,301 177,266 238,304 310,290 154,301 116,306 237,294 212,275 282,294 270,298 269,295 223,275 85,257 204,305 307,300 71,260 63,255 211,301 62,249 41,287 171,306 317,291 132,260 223,272 144,305 133,306 267,293 151,265 55,304 235,306 232,304 287,291 63,250 248,280 78,308 261,295 153,302 289,298 204,305 189,270 164,303 41,291 171,301 288,284 118,307 315,292 184,269 343,293 251,284 151,302 208,279 270,280 149,263 268,294 254,277 32,288 266,295 251,284 89,255 227,304 237,304 75,307 114,303 100,307 89,257 310,289 112,256 257,276 75,257 204,293 147,306 236,280 342,292 308,290 329,291 268,289 54,264 224,270 135,304 45,263 177,301 256,292 134,259 249,281 110,257 201,275 54,265 244,283 320,287 268,283 41,268 214,274 325,286 252,288 243,297 87,308 252,288 246,292 223,276 82,252 289,291 232,279 36,288 306,299 241,294 262,282 174,267 147,305 195,271 215,300 95,259 312,287 341,291 327,286 350,289 228,280 261,279 258,289 113,258 81,254 331,288 244,282 89,305 211,297 250,285 70,304 212,274 283,284 214,302 252,279 347,292 128,262 292,290 112,255 33,289 258,274 52,261 297,289 343,291 41,289 200,277 329,289 197,303 350,292 294,296 235,303 141,258 38,278 60,253 260,274 315,292 231,295 66,256 141,305 43,296 261,299 349,290 172,299 63,251 203,279 318,286 165,302 254,292 204,277 227,277 43,292 33,281 255,293 151,302 251,296 63,251 213,276 210,299 297,289 213,299 347,295 254,298 290,284 138,302 207,281 163,301 207,300 225,274 318,289 229,300 349,287 253,289 89,307 332,285 59,252 138,303 114,304 82,254 114,259 220,305 277,282 37,277 316,290 216,299 170,301 132,306 146,304 220,306 259,297 151,265 260,289 186,274 171,299 91,257 285,296 81,253 239,281 201,304 67,259 208,285 295,284 346,295 43,263 309,290 309,288 58,307 62,248 169,304 213,298 45,265 265,290 331,293 237,293 266,294 271,294 48,263 177,268 275,293 267,290 257,293 192,300 73,307 69,258 308,287 271,297 230,303 287,299 268,281 177,267 273,297 55,258 153,264 118,261 135,260 229,280 111,303 207,303 321,291 260,291 262,288 280,299 198,272 284,300 146,261 254,276 97,311 328,286 289,296 305,278 253,277 249,286 166,304 210,297 273,297 208,285 184,302 287,290 205,281 283,298 254,277 88,254 256,292 38,285 95,260 322,292 353,290 296,292 178,269 222,275 285,296 123,308 258,301 291,286 334,298 113,306 185,276 249,290 227,278 273,300 344,289 303,279 287,294 41,291 171,270 239,292 250,293 72,259 139,304 210,280 264,282 295,285 100,306 219,270 229,300 129,307 196,272 256,294 344,291 65,253 253,299 120,307 68,259 233,279 267,285 176,300 41,293 159,265 215,271 345,287 185,270 311,294 83,254 104,255 100,256 74,257 309,288 205,292 182,268 217,274 159,266 311,291 215,302 76,255 332,291 229,301 258,278 353,291 312,288 67,258 246,289 293,283 270,295 255,284 163,304 324,292 308,288 297,284 299,293 164,303 282,295 71,305 313,284 345,291 62,307 247,287 178,303 174,268 215,278 259,293 216,303 122,260 269,299 60,249 261,289 174,267 248,285 35,289 172,268 326,291 335,286 233,303 254,297 236,295 222,304 200,275 198,274 223,271 268,298 86,259 234,280 251,279 259,278 258,274 75,307 140,259 153,302 349,288 199,302 252,294 215,272 219,271 181,301 307,289 285,283 344,292 236,302 281,299 231,279 110,257 121,307 185,273 319,290 179,303 90,261 39,294 320,286 149,305 221,276 36,284 92,311 267,292 90,260 315,284 283,296 273,300 170,305 36,285 266,284 112,258 204,291 37,279 73,261 329,284 252,300 325,293 319,287 244,298 317,291 318,291 89,307 108,255 124,306 211,277 39,270 272,301 42,256 189,302 256,284 198,274 345,285 53,302 314,293 348,292 185,299 253,289 213,272 297,288 164,270 275,300 230,303 279,293 332,290 256,277 68,257 228,305 328,286 288,289 242,301 100,310 80,306 350,288 307,292 242,291 181,303 290,284 86,256 170,299 332,286 286,293 53,260 38,277 262,279 345,288 67,258 147,262 265,297 255,283 183,302 288,297 90,255 347,287 308,280 141,304 211,278 213,303 311,295 97,258 257,296 261,296 332,288 343,290 42,298 345,295 107,255 69,306 57,253 229,280 208,296 185,297 188,270 125,263 323,296 218,302 210,279 218,271 223,304 156,301 286,300 36,290 309,285 243,298 99,259 300,286 253,296 292,284 293,296 109,304 190,273 351,287 256,298 230,305 57,252 79,306 63,306 319,285 328,291 242,299 159,267 76,260 261,279 114,260 49,299 33,283 119,307 77,308 268,282 253,280 255,298 59,308 231,296 334,296 156,264 230,297 301,291 90,260 180,270 60,250 64,251 292,293 104,257 244,281 258,299 267,297 55,255 269,299 290,286 31,285 170,305 41,268 286,292 333,294 85,255 290,285 319,289 168,305 319,290 66,304 62,305 341,289 154,264 250,284 183,303 43,260 119,262 36,279 64,255 325,289 63,258 335,290 42,298 324,293 331,286 260,293 333,288 288,294 312,286 238,280 290,293 59,249 325,290 229,281 297,284 265,285 184,302 223,281 310,292 169,273 119,261 54,261 245,297 78,307 99,310 132,308 128,309"/><polyline class="r1" points="226,324 310,306 232,310 167,259 85,307 367,304 93,250 87,313 376,294 306,313 327,271 168,316 365,297 95,240 172,266 331,282 369,293 205,269 339,298 345,300 293,301 275,275 243,310 220,308 129,312 164,305 144,307 29,242 204,264 95,245 176,307 318,306 327,294 235,274 134,258 203,260 88,250 370,288 344,311 373,283 362,299 373,295 33,262 71,311 79,240 308,281 196,308 68,320 278,269 55,246 79,245 309,306 213,305 126,318 38,257 323,286 34,296 339,277 269,269 196,269 348,305 195,313 148,259 255,270 239,315 318,308 372,293 98,237 342,315 148,317 302,269 78,315 190,310 47,303 65,316 54,250 282,269 330,299 58,249 162,263 216,265 190,315 317,308 365,295 345,299 334,272 247,269 157,264 313,305 313,270 225,264 320,306 374,291 333,300 141,307 263,309 105,309 370,292 38,252 281,274 301,311 31,234 332,303 28,283 31,279 290,274 232,269 257,314 69,315 304,296 48,238 362,287 167,308 181,263 141,248 263,316 227,308 193,311 65,236 359,280 233,319 292,310 334,302 297,276 320,308 70,239 353,309 334,276 311,311 125,318 374,281 38,257 134,311 174,311 130,247 309,304 172,265 94,244 347,282 88,241 374,289 80,310 51,246 322,299 51,250 25,290 214,264 54,239 269,268 336,314 232,277 351,309 157,315 363,294 348,281 271,303 361,300 339,277 307,298 240,316 116,253 370,304 124,311 294,308 277,308 327,313 327,278 85,307 310,301 34,296 93,321 201,256 153,260 372,284 75,252 308,271 254,310 340,288 64,247 173,263 201,256 67,251 31,321 245,293 304,317 337,304 198,309 338,296 320,285 252,310 50,242 38,301 314,276 178,255 294,280 238,305 55,311 369,282 37,246 309,299 191,307 162,263 172,307 171,312 172,313 181,256 143,309 246,292 282,299 84,251 174,264 165,311 254,314 121,317 354,313 353,306 161,263 329,271 330,304 231,268 184,305 193,264 73,253 54,310 80,313 311,280 186,253 368,297 274,322 168,259 56,252 139,311 91,316 345,305 50,241 330,317 329,311 327,306 32,261 239,268 362,303 106,312 218,310 329,309 358,303 374,278 290,268 47,316 364,303 285,315 215,311 363,272 195,260 97,246 123,311 57,249 25,312 77,250 208,273 342,294 186,255 56,244 306,309 74,309 299,282 123,322 26,304 169,311 115,314 40,257 40,258 312,306 335,314 310,298 244,306 272,309 110,322 302,311 343,275 268,312 363,272 238,276 296,314 280,276 52,310 191,266 22,249 137,316 204,308 315,282 300,289 111,254 39,318 121,309 322,302 292,307 374,306 332,300 274,278 222,260 103,314 234,273 95,312 334,276 207,274 23,281 72,241 374,304 251,262 37,250 362,308 228,273 254,268 235,271 369,295 135,308 188,304 282,272 202,260 175,309 29,247 284,304 123,259 313,302 162,259 226,258 73,241 155,253 243,275 373,295 68,247 165,310 82,242 305,283 357,316 338,274 32,241 209,271 191,304 212,304 28,273 197,269 44,231 327,307 279,269 288,269 312,302 111,252 282,270 66,321 325,284 262,272 289,304 309,277 190,316 359,290 185,262 237,277 88,252 303,284 166,311 157,256 302,287 219,263 50,259 375,307 337,292 153,307 34,259 362,287 317,305 367,299 311,279 211,312 57,240 217,268 161,319 267,306 150,307 106,307 344,315 34,315 212,305 337,311 221,261 188,267 370,294 174,306 284,276 135,314 321,307 358,279 169,266 322,309 203,275 128,250 178,306 312,279 303,285 372,296 249,307 82,250 163,307 365,300 317,273 47,247 102,250 56,238 247,315 69,253 261,317 365,278 76,310 232,268 155,252 34,300 30,283 339,289 357,294 272,312 249,305 193,305 144,309 356,299 44,260 183,256 30,288 84,237 209,314 306,274 155,303 83,310 33,256 36,306 115,245 274,302 226,260 208,313 335,278 319,281 179,265 339,275 289,279 245,304 330,303 70,252 363,299 354,286 283,303 290,310 293,312 39,309 280,302 196,259 33,272 320,311 194,307 41,300 27,310 307,281 274,310 46,309 128,311 372,291 44,312 48,258 376,289 37,312 292,277 131,315 210,260 33,291 94,249 358,300 339,309 160,264 106,307 172,267 317,300 357,284 208,305 96,312 170,251 341,297 242,270 318,316 202,269 358,297 129,252 44,249 138,245 101,245 143,255 34,265 274,279 39,312 293,277 42,251 163,309 308,280 106,244 78,249 145,312 191,312 194,269 225,270 331,276 362,294 161,265 67,252 166,255 147,307 132,253 329,303 183,316 50,251 112,249 241,274 331,276 362,304 45,233 231,275 65,308 53,307 327,304 268,313 35,255 306,314 299,309 187,310 286,276 159,252 273,311 148,310 304,302 237,274 341,281 180,311 306,308 241,309 27,256 337,291 140,305 340,310 254,262 316,298 158,306 308,277 285,280 207,320 119,313 105,318 20,286 374,286 113,254 50,314 124,248 186,317 120,256 253,301 327,270 202,273 179,259 93,320 266,302 49,258 372,309 355,278 351,282 123,257 283,270 376,287 344,275 69,234 236,278 134,311 105,318 371,295 292,314 209,261 312,314 373,292 109,253 137,317 29,286 184,264 275,303 65,310 337,299 241,307 139,312 127,249 89,310 182,304 258,306 375,307 65,239 68,237 23,256 360,313 100,309 361,306 372,293 124,255 180,252 42,261 38,265 306,308 360,289 38,264 302,303 42,306 259,272 255,305 260,304 285,321 347,297 267,311 257,271 237,265 367,309 192,312 230,277 304,299 363,298 303,290 353,312 226,317 365,291 298,277 29,263 302,301 164,261 141,312 45,255 111,253 180,260 351,302 206,270 28,229 322,272 211,266 240,308 178,308 373,284 23,265 277,270 193,268 144,258 364,284 300,302 67,246 147,253 38,255 139,305 371,316 276,307 303,284 300,281 24,294 279,307 258,308 192,262 56,239 35,312 265,277 244,277 225,260 306,295 97,322 243,302 129,245 322,271 115,247 358,291 166,266 291,271 118,259 267,276 347,282 119,259 229,273 45,308 239,267 345,297 227,310 317,299 150,318 104,310 260,273 137,245 307,294 179,313 52,255 341,279 365,293 38,316 366,289 239,274 254,322 297,282 68,250 281,300 269,304 205,279 322,305 112,252 254,301 179,265 52,252 97,321 183,261 204,308 46,306 318,312 296,279 316,306 176,309 322,305 262,300 269,268 296,306 328,294 236,266 318,279 182,260 358,287 271,303 102,251 174,307 346,311 235,306 287,314 129,244 96,314 79,240 176,262 354,282 281,277 30,288 350,295 94,319 302,277 107,246 73,237 40,311 167,267 30,301 102,246 132,257 352,299 274,272 136,250 38,260 343,280 250,296 252,313 339,284 222,265 318,304 225,265 55,244 148,307 53,254 286,304 328,283 260,317 339,277 170,311 374,305 336,281 235,270 173,307 204,310 24,298 372,279 45,307 111,309 66,307 359,310 338,281 294,317 47,260 65,247 41,239 359,297 338,307 262,274 37,266 344,319 258,305 92,254 250,300 246,307 213,309 180,305 217,306 153,304 233,317 135,251 37,306 228,278 22,270 209,305 372,295 32,289 200,308 39,296 374,299 305,282 300,305 337,307 338,306 297,304 339,282 310,310 370,309 274,268 373,310 245,294 262,270 216,318 222,312 33,265 205,278 284,271 100,252 306,314 332,309 357,302 350,298 370,301 40,262 183,260 347,277 212,305 225,261 308,295 241,260 172,310 242,274 284,271 343,305 201,268 362,285 249,310 48,306 97,254 364,289 301,294 111,310 266,277 24,284 151,306 37,302 94,252 59,240 36,256 157,309 340,282 328,278 301,311 352,296 197,262 370,294 305,288 370,294 370,295 95,316 266,274 29,289 202,317 332,313 342,312 306,286 327,272 317,318 170,253 361,298 336,311 295,282 51,240 125,241 77,240 29,294 59,249 311,300 190,263 207,276 195,266 66,307 376,296 354,279 136,251 182,258 211,273 244,311 175,311 326,302 248,269 154,252 91,252 107,252 24,279 38,295 89,244 199,323 302,277 138,307 23,255 288,273 129,253 157,309 285,311 320,307 327,320 139,257 202,273 274,276 361,283 299,308 226,309 372,314 30,269 322,303 61,309 321,302 121,256 334,309 166,309 44,237 249,274 80,240 354,303 165,313 39,222 363,280 270,273 367,311 190,304 35,261 113,254 289,305 132,254 151,252 170,264 158,255 172,322 337,288 184,261 286,305 336,281 97,321 362,293 24,298 317,298 338,309 66,311 356,279 336,306 270,270 192,316 69,308 342,315 188,263 68,246 37,256 324,301 324,296 355,297 49,244 193,310 325,308 35,277 369,289 299,279 262,305 87,250 197,256 124,247 302,307 113,308 372,305 351,312 283,308 213,306 136,313 298,300 258,303 32,259 289,315 70,252 245,265 183,307 368,279 208,270 313,281 61,241 170,311 148,261 97,250 97,253 199,310 113,314 357,289 115,310 367,296 122,243 375,296 209,277 238,268 137,251 347,282 367,295 223,308 327,315 244,275 328,297 148,261 25,222 249,309 375,309 68,310 185,266 235,267 52,240 336,277 340,297 32,293 374,281 181,253 315,284 272,277 356,302 236,268 354,313 58,314 155,251 276,304 248,301 371,294 79,250 23,287 49,311 238,270 95,236 348,311 366,274 367,293 327,305 283,314 100,310 368,307 320,304 304,286 179,260 124,243 138,309 159,311 272,306 38,304 227,277 246,276 275,266 169,311 180,309 133,254 74,317 63,246 307,274 326,276 43,303 36,298 53,252 42,248 336,289 356,307 278,272 360,302 48,242 300,279 250,269 306,297 274,315 230,310 361,312 32,272 133,257 42,253 365,276 320,304 277,302 40,250 115,250 357,298 210,314 267,315 313,314 159,309 183,321 228,266 332,299 35,262 335,310 339,306 46,260 41,248 124,256 362,313 129,310 156,307 339,304 181,311 40,310 233,317 194,263 21,295 325,303 233,261 88,317 247,277 350,283 271,303 282,274 123,253 361,282 339,276 172,320 286,276 366,310 340,310 339,302 295,312 343,314 364,303 325,298 264,315 371,296 250,278 125,254 23,252 246,309 40,302 323,279 240,317 336,299 41,257 305,293 261,308 333,312 349,280 198,311 315,315 310,274 98,312 41,264 268,306 172,258 218,314 36,291 326,277 202,267 155,254 123,250 96,251 161,305 277,275 114,240 104,307 305,304 355,284 303,284 178,261 90,311 25,255 184,315 80,251 140,249 103,255 230,266 323,278 198,320 66,307 368,290 309,268 324,311 331,273 235,313 115,250 341,294 327,314 214,309 245,308 302,276 106,313 154,259 260,301 77,245 195,264 288,279 273,306 209,275 162,258 216,306 40,256 55,234 90,232 149,257 371,310 25,269 300,286 60,308 186,303 184,307 64,309 373,299 61,236 359,299 280,272 375,289 318,308 250,298 166,263 262,310 367,285 298,302 233,311 59,313 141,245 185,311 105,308 270,309 126,254 271,306 245,308 241,277 228,278 73,316 239,279 304,318 218,307 161,317 123,249 43,239 323,297 288,279 77,310 277,272 306,281 313,299 164,306 236,276 301,301 229,264 141,314 332,310 271,267 131,253 174,260 38,300 179,265 73,312 299,281 138,256 228,259 305,299 36,252 253,306 184,255 46,258 153,248 308,299 295,297 206,270 320,282 57,249 177,264 46,250 96,256 238,268 38,311 365,306 295,278 149,313 205,266 39,259 254,303 50,246 64,244 200,260 197,263 307,305 348,312 251,316 29,263 225,314 302,279 128,318 300,310 240,271 216,267 31,295 261,305 173,256 228,308 214,266 366,284 150,311 327,283 337,305 364,283 135,317 286,272 91,243 211,267 31,282 221,262 200,269 211,261 65,235 81,248 313,276 76,251 166,264 141,311 128,240 173,258 374,289 284,306 353,302 168,268 344,280 297,313 367,299 46,303 263,263 242,309 373,313 64,315 197,268 58,234 152,254 130,241 301,310 36,297 242,272 227,266 185,312 70,246 293,305 200,314 203,265 132,313 298,279 88,309 236,307 204,271 89,249 291,302 297,306 178,251 317,296 368,299 195,310 195,305 27,285 213,264 185,258 139,250 367,288 78,239 186,312 351,275 305,320 24,277 376,283 26,254 283,301 73,255 45,308 96,312 304,294 113,252 352,315 318,300 190,304 182,312 246,299 314,303 31,278 331,281 173,256 375,287 195,269 34,255 71,315 160,321 351,300 260,317 162,260 208,305 72,232 301,296 41,250 39,248 213,266 159,247 206,307 25,222 27,286 306,273 98,253 361,289 173,254 265,314 174,318 59,237 340,290 59,243 264,306 203,267 249,307 300,270 49,240 240,313 157,303 263,303 305,307 369,291 82,311 232,278 183,306 251,302 48,255 188,262 274,305 305,274 287,275 177,318 226,308 160,305 71,317 243,310 326,283 245,298 368,307 340,283 216,309 197,270 295,305 159,260 290,302 371,299 98,255 40,227 76,309 36,302 364,299 336,311 25,303 187,261 374,311 131,325 291,301 136,310 307,297 213,306 51,255 338,299 137,306 120,256 345,277 105,240 359,276 103,254 339,298 85,246 109,251 222,266 250,291 82,318 364,293 201,263 141,249 212,322 113,253 364,292 162,317 240,279 91,250 208,277 228,278 167,307 360,278 189,267 215,267 207,271 335,284 336,277 326,285 54,311 33,272 303,294 348,296 366,307 43,303 74,312 29,289 358,307 355,278 281,276 214,314 328,302 344,277 262,276 192,261 227,307 118,309 187,257 95,250 90,318 134,308 49,302 180,262 72,317 33,290 328,309 302,306 184,253 305,297 234,315 45,253 339,301 25,279 281,279 35,309 230,306 20,256 61,233 280,272 350,313 251,297 244,311 50,256 76,240 202,273 125,256 305,302 87,308 68,249 251,312 298,303 268,308 32,291 349,282 89,231 100,316 333,313 241,307 362,305 366,314 38,246 131,251 338,313 161,306 354,282 24,292 33,280 91,254 355,292 34,246 376,314 55,310 161,312 122,250 266,303 346,301 190,265 148,306 142,253 361,274 211,259 340,285 173,265 192,303 220,258 62,318 30,265 138,255 99,236 264,305 43,234 231,268 34,296 313,314 231,275 137,253 168,309 189,265 92,312 257,270 296,299 181,264 158,253 303,312 37,296 84,312 320,280 46,305 39,295 116,251 322,301 324,285 291,315 224,265 202,263 31,301 367,306 266,268 303,314 209,270 373,300 45,259 205,310 366,302 78,243 325,311 329,283 25,305 286,318 293,310 209,266 196,311 343,281 32,300 299,277 40,244 161,304 361,321 66,245 220,262 224,267 131,314 158,313 97,246 249,317 146,256 241,265 370,279 40,306 352,280 292,302 303,294 55,318 121,255 109,244 111,250 180,258 275,266 89,241 115,315 362,297 133,256 95,255 58,244 36,250 307,275 189,321 99,245 285,277 262,300 229,277 66,245 278,309 321,285 50,250 285,320 197,269 190,260 79,314 89,251 34,320 94,255 212,261 210,266 298,267 222,266 103,249 290,309 167,256 111,248 284,277 299,275 309,282 234,258 68,308 37,292 128,323 302,291 121,315 246,304 95,314 41,256 169,261 303,313 365,313 359,307 250,305 37,249 354,275 54,253 135,255 317,272 30,289 143,309 222,310 168,308 277,300 246,310 129,311 358,301 53,254 351,307 326,306 251,305 115,311 76,251 241,305 172,311 252,276 367,285 183,311 30,237 253,301 328,295 278,273 145,252 101,253 284,300 342,313 151,307 55,308 105,248 352,309 369,305 22,259 367,277 94,318 187,304 347,319 204,319 39,268 71,319 193,313 290,310 295,280 206,256 146,311 149,257 240,265 279,278 313,298 322,308 53,307 207,272 185,316 116,258 304,299 328,306 366,276 41,257 30,274 76,241 136,251 211,269 45,256 253,274 97,321 302,291 202,267 30,264 226,316 275,301 322,279 30,273 152,257 165,263 31,269 197,304 116,249 337,278 293,281 256,267 208,262 236,271 71,313 336,271 248,297 348,299 336,306 57,249 121,256 125,260 88,312 295,298 339,282 86,247 88,248 48,260 315,302 218,309 181,258 40,302 306,310 298,278 130,252 335,309 245,279 161,312 297,280 349,304 152,309 371,285 56,306 224,267 262,302 200,307 205,307 173,313 294,302 111,242 25,298 269,278 209,312 83,317 163,265 202,256 88,312 228,272 233,317 303,305 327,314 253,306 143,257 119,319 374,280 138,306 195,268 130,251 24,298 262,274 243,311 368,288 206,273 337,291 283,308 361,303 85,311 202,270 24,289 241,280 79,311 327,296 195,266 220,308 328,273 224,265 281,272 350,302 78,232 315,313 216,265 233,265 82,248 149,310 321,283 294,297 196,265 234,308 351,294 87,312 357,302 357,281 26,296 235,273 172,266 262,267 111,316 324,300 273,280 272,278 330,308 300,297 265,301 242,314 35,293 274,315 41,305 326,308 121,242 221,258 27,295 63,239 286,280 145,256 325,302 164,251 362,278 42,246 375,291 40,308 366,292 234,313 331,301 184,306 331,302 30,297 199,268 153,311 350,283 310,305 131,248 200,262 201,257 34,235 307,273 376,294 290,282 16,223 316,297 235,273 281,301 56,247 225,263 300,306 29,306 46,261 253,302 33,267 63,320 29,241 258,307 199,317 189,311 301,288 293,306 71,251 291,280 242,273 115,252 249,276 185,320 269,277 127,252 211,270 285,304 196,268 186,319 369,306 29,254 236,276 122,252 73,249 66,238 330,298 290,306 51,253 236,275 227,306 266,301 346,306 178,307 244,275 171,256 175,312 214,306 237,273 113,311 83,234 212,273 141,316 304,314 271,269 263,276 341,272 179,319 359,289 72,233 35,269 163,310 175,309 117,252 72,256 324,300 323,272 341,309 32,256 217,315 231,272 247,316 300,299 317,281 70,315 46,310 276,301 247,277 365,286 185,266 340,276 354,301 162,254 110,249 368,285 312,298 358,290 151,319 121,310 237,277 255,273 270,322 146,308 361,305 165,269 295,300 151,311 186,263 97,250 299,319 244,275 364,287 186,306 321,300 328,278 35,294 315,271 112,306 243,308 146,254 292,311 47,306 51,306 131,322 375,299 29,265 39,254 72,244 264,305 268,264 359,300 364,279 341,295 41,266 143,253 155,260 88,251 181,258 46,240 252,271 200,258 34,303 285,280 120,316 230,309 251,276 111,246 30,272 138,313 351,299 88,310 188,305 38,238 237,274 119,320 125,311 359,286 105,245 39,293 34,300 233,274 50,250 176,307 238,266 52,307 331,283 368,304 290,311 257,272 312,275 227,313 183,260 128,311 361,324 73,318 295,300 317,319 231,312 68,320 67,246 350,306 42,247 129,254 72,236 246,298 199,309 125,314 286,304 102,308 328,306 73,251 87,240 325,281 202,267 175,310 347,298 262,269 142,308 207,274 116,255 98,312 229,307 330,295 215,316 160,263 128,260 178,257 93,248 83,314 179,310 81,231 302,280 191,268 306,310 112,308 73,312 192,269 348,306 122,260 249,294 259,270 195,316 276,277 166,306 341,303 206,268 269,303 335,283 284,307 247,278 204,314 33,274 39,307 69,306 256,312 343,311 374,321 164,321 246,279 239,276 206,311 366,288 152,307 282,320 353,286 338,317 55,317 339,301 247,269 30,296 90,243 38,258 269,317 53,306 227,315 272,308 122,253 138,258 297,314 171,256 136,318 166,309 303,286 304,300 273,267 322,303 198,306 155,255 157,321 29,257 310,298 222,268 128,251 130,246 310,306 255,306 94,253 92,255 230,266 30,291 97,247 325,295 188,268 180,265 317,315 339,282 27,310 251,268 130,253 313,313 124,247 206,272 347,281 134,320 70,310 146,308 285,305 307,305 37,300 305,316 225,262 356,301 130,248 41,245 349,284 105,251 111,308 347,280 271,319 348,298 304,301 321,281 254,274 356,290 39,239 359,276 355,293 352,281 261,313 365,286 147,253 304,276 353,313 268,305 275,304 37,292 314,277 356,288 159,313 195,264 301,296 212,318 304,306 337,319 42,231 40,246 23,310 128,311 339,284 180,306 120,317 150,314 37,298 30,286 162,313 263,315 58,313 330,282 306,307 42,253 112,312 321,313 183,264 275,265 192,262 37,273 130,253 266,281 344,277 142,308 259,271 84,251 211,309 369,319 119,252 268,275 165,263 111,313 209,277 33,290 354,301 320,278 303,272 310,276 281,275 286,303 91,313 41,236 323,298 53,311 36,312 334,283 350,306 289,278 273,313 308,282 230,277 362,308 267,269 366,296 246,319 273,277 269,302 181,306 335,279 179,309 36,241 21,285 57,242 57,309 205,259 291,311 182,260 103,313 206,261 270,310 41,303 184,266 173,267 226,266 281,311 256,267 305,277 313,320 59,242 344,279 249,318 57,246 254,303 300,297 118,256 52,250 126,311 368,288 318,281 336,278 194,309 138,257 254,304 366,283 143,307 104,312 251,273 250,300 184,254 260,267 33,272 108,250 301,291 288,279 266,266 36,302 63,314 299,310 237,307 345,297 243,301 352,308 177,250 139,315 60,310 129,312 339,287 222,308 85,238 37,242 61,310 70,254 226,309 66,251 45,251 237,272 312,301 353,304 242,303 365,290 167,312 173,259 75,235 68,248 226,257 139,249 193,312 87,243 204,313 147,255 30,301 322,302 328,309 92,253 312,273 168,264 345,281 200,309 42,313 336,282 262,275 263,304 122,248 261,269 305,283 34,278 132,254 306,316 149,258 49,240 187,315 67,246 315,296 55,308 64,313 368,277 57,225 332,297 327,280 80,250 198,323 361,276 290,303 304,276 350,313 100,314 196,314 250,311 303,296 74,316 22,269 317,271 299,299 366,287 249,298 361,303 333,302 137,253 325,283 244,310 242,275 90,313 153,251 318,274 321,312 198,260 132,253 238,267 340,300 43,259 91,316 46,260 257,306 148,253 184,257 156,252 162,265 359,295 215,306 248,269 112,310 199,264 194,307 298,296 340,277 114,248 368,305 26,270 320,273 30,274 57,245 157,308 55,316 97,236 182,266 355,288 253,313 322,286 38,317 143,308 34,274 114,319 248,299 231,314 353,296 69,321 330,319 129,249 189,317 19,238 97,321 147,311 36,296 174,259 358,293 286,278 303,307 282,269 313,282 222,310 259,305 71,255 347,297 346,308 146,253 154,312 298,297 273,312 100,256 121,253 64,232 71,248 206,264 300,278 174,264 189,263 94,252 344,311 249,275 372,315 319,270 283,275 299,274 34,317 314,305 209,310 54,318 36,269 280,276 252,307 186,266 203,322 143,253 87,249 255,269 365,296 103,314 56,244 65,231 319,284 289,302 364,285 295,279 44,245 102,311 93,243 80,309 374,300 330,305 218,311 321,278 263,301 358,284 207,263 359,296 216,313 376,284 288,271 318,306 182,307 56,246 261,302 301,304 255,273 362,302 332,295 38,309 223,266 373,300 125,253 149,316 230,264 364,277 191,268 49,312 319,303 91,254 25,302 352,279 138,313 219,316 29,269 216,312 41,262 143,310 333,304 285,306 204,269 70,310 152,248 298,300 89,315 35,239 304,281 205,267 225,265 363,305 32,278 218,265 45,253 44,303 193,303 125,313 69,310 290,280 357,285 273,301 313,301 335,300 28,281 373,298 119,254 319,298 273,270 131,259 305,312 276,278 174,263 340,288 307,280 367,290 92,241 294,302 60,309 351,275 261,264 41,307 59,247 228,310 202,270 319,277 375,281 298,270 370,274 40,259 314,299 188,264 200,314 326,279 366,283 298,274 274,278 52,308 264,301 225,259 140,317 43,305 38,251 279,304 285,307 283,279 232,309 33,267 113,313 71,246 170,265 169,306 353,307 73,247 347,300 116,258 294,314 282,276 341,284 78,314 372,306 239,312 371,304 324,297 193,256 85,315 336,290 371,303 151,309 210,269 217,259 121,315 132,313 212,268 346,313 69,312 138,314 298,318 113,248 373,296 171,255 36,258 63,312 37,298 315,281 78,316 30,290 142,316 124,312 356,307 373,277 290,268 279,304 370,308 280,311 258,304 363,292 125,242 302,280 158,262 32,246 116,246 306,272 274,310 136,314 208,308 346,279 184,265 190,309 57,234 75,255 54,305 334,318 278,302 30,297 288,304 299,297 162,258 130,310 22,263 233,311 26,276 322,299 123,315 213,258 252,317 301,275 50,232 138,305 287,300 366,285 289,300 42,314 211,267 245,297 263,266 196,313 240,306 298,282 38,218 279,274 301,298 170,261 234,271 209,264 348,300 71,253 105,308 80,310 298,281 357,274 44,306 340,278 216,313 324,282 197,264 166,261 45,250 164,307 237,268 201,261 34,306 260,304 278,309 329,305 77,247 321,315 18,264 191,310 36,302 133,241 363,296 243,303 179,264 234,306 115,247 38,295 149,306 227,269 267,305 249,300 30,260 217,309 325,295 293,304 50,258 49,302 369,273 216,267 218,313 274,276 44,245 136,312 242,309 373,298 41,264 306,275 24,265 242,279 173,263 240,269 319,301 299,310 340,306 68,311 359,293 42,264 37,264 367,304 28,263 264,309 162,264 71,238 93,253 83,309 81,323 295,302 216,264 109,251 46,243 372,303 118,250 304,288 120,318 201,319 182,310 46,249 259,272 337,298 119,251 62,321 131,253 253,317 253,312 190,304 231,268 46,260 246,308 144,310 191,268 285,269 309,277 40,250 290,275 268,278 124,248 332,279 117,313 77,239 159,263 308,306 306,280 45,312 326,273 259,268 185,311 358,296 255,271 209,271 154,263 229,313 173,308 194,308 141,251 53,243 50,312 306,276 352,313 255,304 151,319 211,265 273,308 55,315 301,308 91,239 170,308 178,313 329,299 339,281 48,253 146,252 41,249 317,296 26,294 250,302 351,280 49,249 73,253 367,289 241,278 248,294 111,307 161,309 53,309 320,275 141,317 215,313 39,261 230,319 138,257 211,308 331,281 209,305 162,307 20,275 357,304 103,253 309,274 327,302 348,306 25,275 192,269 32,272 319,306 278,312 158,312 299,283 263,309 37,244 20,286 91,253 115,309 40,253 68,253 64,318 352,319 104,237 260,315 297,302 34,271 47,306 119,311 26,265 127,258 92,312 321,282 80,312 248,296 360,299 261,267 45,242 290,299 361,290 375,308 237,266 183,315 336,299 45,254 373,290 117,309 103,238 247,297 89,243 131,318 322,285 362,274 287,275 37,262 258,264 248,316 282,280 154,263 260,316 208,266 219,259 263,292 304,288 266,305 55,239 114,256 187,313 127,257 312,318 102,255 329,282 229,312 329,273 53,247 227,269 51,256 125,245 40,310 113,245 328,307 65,235 357,284 115,316 45,255 273,275 212,268 118,252 125,258 63,312 175,313 272,307 218,259 272,278 187,259 300,276 27,282 39,255 336,295 354,315 174,312 39,252 150,311 317,306 261,269 102,309 103,250 236,308 209,262 102,255 362,313 353,308 369,300 68,308 367,308 133,313 48,252 75,251 44,256 56,249 138,256 162,262 44,237 171,308 87,233 310,275 178,263 110,247 293,313 324,314 107,308 321,302 32,234 93,252 320,306 174,309 220,316 112,309 248,307 291,306 253,275 363,277 61,234 348,297 251,304 168,321 262,292 148,252 118,316 341,283 208,274 272,275 265,303 110,310 362,307 144,311 368,318 237,317 39,309 64,248 162,265 272,273 41,222 43,250 70,247 31,252 266,301 339,287 246,294 228,308 217,306 254,275 226,263 249,292 284,301 355,295 27,218 364,281 220,311 295,301 167,307 59,247 159,315 299,283 331,299 369,285 272,310 21,303 47,252 39,237 107,309 251,268 334,275 128,252 41,309 189,267 363,304 242,312 311,273 26,271 337,301 315,300 137,322 62,317 164,260 289,309 41,317 27,281 172,266 212,311 338,294 119,256 324,309 342,283 123,260 38,307 77,245 344,310 71,243 327,281 337,317 75,310 308,297 29,269 306,272 369,280 234,309 36,307 79,312 80,315 36,257 366,279 73,316 163,255 226,271 103,250 61,235 185,267 375,304 292,316 122,309 105,252 315,298 39,301 360,310 318,296 339,318 46,255 238,306 292,303 45,316 314,313 120,310 157,256 355,298 156,310 125,253 126,258 281,271 43,312 67,311 324,276 338,301 308,308 92,239 52,324 286,279 99,247 367,274 275,306 374,279 102,316 270,271 138,310 368,299 250,277 48,307 73,244 160,317 170,312 269,270 342,305 185,314 240,307 107,253 38,269 259,310 213,262 326,315 212,268 30,287 276,272 329,305 315,273 368,291 216,306 188,305 124,311 191,261 360,299 43,250 341,297 244,269 217,262 87,315 263,263 187,311 271,309 25,298 168,270 375,309 233,265 169,265 332,298 210,304 182,311 240,312 39,246 67,318 26,287 305,303 370,284 233,266 116,320 289,309 344,275 288,313 196,309 235,270 303,302 84,249 321,297 36,301 254,273 348,281 194,304 94,246 313,272 188,308 42,306 264,315 68,313 32,262 53,316 184,265 185,304 72,251 275,279 333,276 376,276 261,275 369,287 342,298 32,274 310,276 299,308 35,275 247,312 347,279 372,293 363,296 168,270 253,308 226,271 173,255 39,302 303,281 352,308 26,303 131,254 275,276 70,250 168,270 307,277 262,299 226,274 375,296 201,307 313,304 361,306 328,279 128,245 325,301 178,253 110,243 112,309 318,276 247,313 84,307 337,293 60,244 360,292 85,309 62,243 369,301 181,264 317,281 235,312 233,272 246,303 253,310 105,319 32,311 71,256 260,273 238,313 369,306 334,312 280,308 32,292 294,298 283,277 232,268 289,270 353,284 163,307 183,316 57,313 364,286 139,317 172,311 306,277 272,268 210,305 116,248 348,319 176,258 288,304 349,284 370,300 37,302 371,297 51,253 368,302 222,263 290,310 174,261 357,293 31,251 35,269 346,307 120,314 45,307 199,265 80,240 347,276 283,280 338,309 77,246 39,250 31,249 46,253 360,315 211,311 250,276 197,307 205,307 66,307 154,309 207,317 252,275 351,312 75,248 313,282 27,275 357,313 26,238 215,319 26,301 280,301 204,307 74,238 231,278 247,305 104,240 315,312 271,301 318,278 93,248 351,282 205,319 136,246 243,263 252,308 132,315 78,246 266,263 71,255 31,280 59,239 86,236 320,299 354,296 263,293 29,225 286,304 304,294 357,308 32,272 185,263 305,274 210,272 134,309 341,298 61,235 67,252 53,229 367,281 282,300 37,311 240,272 169,314 160,321 226,269 78,252 137,323 118,252 31,280 264,276 243,314 184,259 322,284 337,285 358,307 148,317 348,316 182,312 24,310 45,247 38,309 36,263 166,313 262,303 355,294 341,296 166,270 275,302 375,292 195,307 331,282 358,290 58,244 364,296 367,314 31,261 269,272 62,310 30,254 317,281 298,299 299,316 113,314 326,323 176,258 34,251 88,314 32,291 44,303 363,294 243,263 205,272 361,284 263,311 37,292 160,255 191,269 186,308 22,260 326,295 281,276 211,307 249,309 361,289 60,315 78,244 268,308 40,260 120,252 312,301 265,300 191,263 352,303 248,319 199,320 148,257 226,268 248,302 117,256 316,296 54,306 231,271 314,279 292,304 288,301 298,309 370,299 47,253 264,272 25,270 157,264 348,315 164,256 32,305 31,280 27,288 314,313 218,311 279,274 61,238 168,260 34,268 318,302 59,240 270,275 197,256 58,227 370,306 324,286 48,252 235,271 332,282 172,261 121,253 323,298 200,317 361,294 157,261 354,284 372,299 226,311 328,302 242,271 143,315 147,315 369,302 264,311 301,312 357,282 331,299 292,320 235,313 264,274 164,306 121,242 237,267 31,299 225,308 307,275 90,250 84,237 85,248 235,268 73,248 346,309 135,247 327,300 118,260 355,291 349,321 375,304 286,306 296,310 282,300 94,313 276,275 180,260 215,262 152,309 348,281 44,257 358,297 37,314 375,298 184,312 216,305 41,318 200,268 68,252 333,314 167,262 122,317 238,261 329,272 79,248 355,291 183,266 59,243 190,255 353,306 316,302 284,276 282,281 226,269 188,268 27,298 316,317 40,306 33,301 371,305 62,238 121,309 48,241 192,259 50,306 156,255 198,308 27,267 66,239 57,314 48,237 24,283 37,249 267,313 273,272 172,308 35,308 371,317 300,277 30,260 276,272 172,308 237,266 242,265 322,306 350,301 185,265 51,239 285,307 33,293 49,241 21,292 356,294 330,309 223,313 343,277 312,306 127,313 28,258 83,311 305,296 339,317 85,321 304,300 64,313 94,244 65,308 259,302 123,258 138,244 77,235 156,261 67,309 343,299 168,256 365,306 284,313 331,281 252,307 112,251 296,280 290,281 218,318 27,306 376,291 157,251 376,301 162,306 156,263 300,301 371,280 199,308 279,277 286,268 344,303 49,253 252,307 260,306 108,317 354,287 276,309 366,318 241,310 174,315 34,276 45,242 40,264 25,291 280,280 372,295 176,309 276,315 264,310 70,232 265,275 27,267 43,306 24,290 78,316 110,308 93,242 355,308 367,307 30,259 254,304 65,249 238,270 171,316 303,289 51,313 71,308 111,317 328,308 280,322 175,264 184,268 31,291 30,237 366,308 245,271 31,281 127,255 311,277 37,271 76,312 208,263 46,239 246,293 112,314 298,316 374,296 349,295 258,322 208,304 26,298 124,257 351,313 254,308 28,270 83,313 159,260 320,305 373,283 284,307 324,299 334,299 156,307 192,261 68,239 58,246 277,279 316,277 55,249 41,317 182,257 81,247 263,293 57,238 321,312 353,301 275,276 306,292 350,302 126,312 117,309 59,247 148,246 144,310 337,276 130,248 130,312 87,310 56,308 233,269 277,274 210,271 288,309 52,253 209,265 202,271 94,238 33,321 136,310 297,272 310,299 151,314 297,305 274,279 34,276 178,307 332,303 34,246 287,270 277,299 148,318 306,280 187,306 239,316 311,282 282,302 73,308 76,313 206,306 49,248 267,277 176,255 61,236 322,308 265,309 131,247 205,313 288,272 318,295 169,316 123,316 376,313 53,254 31,304 242,306 76,239 374,282 370,287 241,278 364,292 337,293 108,241 43,301 229,307 369,297 373,296 227,261 314,308 229,271 324,276 130,254 309,297 236,269 343,282 67,312 202,271 323,273 356,307 260,267 336,272 41,314 179,311 24,294 47,321 250,264 169,265 360,289 28,301 359,298 268,305 221,322 291,302 82,313 324,320 246,275 332,297 359,288 315,276 180,256 151,256 258,308 103,316 69,312 307,298 167,315 21,279 241,278 112,309 279,312 366,285 172,313 249,303 30,280 48,311 325,285 40,252 65,231 153,260 362,284 304,308 91,253 319,281 231,269 307,273 196,320 64,245 363,285 289,315 345,272 368,315 201,254 110,240 162,312 88,242 227,311 27,306 184,308 337,292 137,308 332,276 20,282 179,254 298,271 49,248 66,249 125,243 315,279 205,267 250,262 36,271 74,252 122,256 68,316 310,305 260,263 207,309 258,268 304,304 341,275 91,254 337,283 53,304 285,279 155,260 327,299 191,269 219,266 163,309 104,247 266,275 172,267 39,252 343,322 60,312 159,251 81,246 287,276 321,304 211,318 247,272 291,306 255,308 337,299 332,297 332,311 95,239 84,250 316,276 115,245 46,246 71,238 263,295 49,237 354,293 23,288 141,255 359,280 319,307 34,292 41,310 300,305 170,261 195,303 280,274 45,249 354,287 338,296 126,259 331,279 33,304 59,314 185,308 304,293 61,313 335,302 136,310 327,277 111,253 341,296 160,303 97,243 135,314 157,311 105,312 127,245 100,313 157,260 368,284 192,259 264,315 314,278 54,309 228,277 301,290 37,269 164,255 187,310 262,273 230,314 273,274 349,303 281,306 249,313 349,315 37,268 190,311 117,250 194,311 119,314 186,264 282,271 376,282 192,302 316,312 293,270 251,261 373,323 356,302 208,277 309,303 38,259 345,299 355,310 94,250 22,276 217,266 234,306 148,250 368,311 64,248 99,252 52,311 195,304 45,306 271,268 303,277 98,246 272,269 49,239 189,303 88,245 254,311 18,272 229,272 187,305 199,308 276,271 314,281 63,240 310,308 366,298 317,283 324,309 365,297 82,242 360,299 111,308 198,265 206,312 174,263 209,266 274,281 177,261 149,260 310,306 78,246 80,312 107,251 21,300 304,303 136,317 248,269 79,243 259,267 59,325 61,312 28,312 366,308 346,303 371,314 313,284 292,306 47,322 63,242 180,254 273,278 64,248 64,248 283,274 362,302 135,244 291,317 255,311 313,283 244,262 174,306 313,300 258,271 35,298 293,308 372,275 342,277 20,287 62,245 178,313 142,258 262,300 105,307 335,272 331,275 193,317 59,247 74,254 115,255 34,310 358,301 329,279 259,301 67,309 310,306 177,319 165,265 367,310 227,267 324,272 194,260 270,270 43,303 52,311 334,309 31,273 358,290 307,280 359,286 51,319 85,243 370,289 42,265 287,279 171,263 281,270 362,281 38,292 244,263 78,251 273,278 370,278 254,313 155,249 294,302"/></g></g>
<g clip-path="url(#c20)"><g id="p20" transform="translate(49.2,504.2) scale(.5)"><path class="sat" d="M182,201 178,200 172,196 166,195 161,190 158,183 156,180 153,174 154,168 155,164 157,154 160,150 170,145 177,144 180,142 186,141 190,143 202,145 206,149 208,162 214,172 213,178 208,186 206,190 198,199 194,200 188,200 182,201Z"/><polyline class="d4" points="193,200 168,149 207,157 210,158 213,172 208,166 178,194 175,194 182,196 194,196 176,145 208,181 157,150 206,181 159,153 172,144 204,186 154,171 204,156 176,195 173,193 189,149 197,191 157,169 204,158 168,151 162,180 156,171 178,194 192,196 207,148 210,166 211,174 156,174 199,146 161,176 190,147 191,200 175,198 155,170 177,195 154,166 177,148 185,199 161,155 199,149 197,196 155,181 202,146 185,198 157,169 180,198 160,159 157,171 178,144 207,163 171,197 190,149 161,162 208,187 202,146 157,166 212,163 206,170 196,200 212,176 163,151 162,150 161,189 178,145 190,198 205,192 204,145 157,156 171,147 155,166 203,185 155,179 167,189 173,148 158,161 210,173 198,143 193,145 182,142 202,144 171,149 189,141 211,180 208,184 171,147 164,187 188,194 200,193 157,153 155,178 181,147 168,147 192,146 167,194 160,180 168,153 199,192 171,150 198,191 203,184 204,146 160,149 192,142 205,181 194,142 184,196 194,148 206,167 202,195 207,188 205,159 193,199 199,191 159,154 163,156 210,175 197,142 161,187 177,201 158,154 209,180 174,196 163,154 188,199 167,191 169,148 158,170 158,159 179,143 156,167 210,165 171,149 181,196 196,145 185,195 205,161 156,169 161,189 159,161 165,188 178,194 175,146 179,142 196,195 181,142 157,169 166,153 202,155 202,157 176,195 157,181 155,174 211,169 158,170 165,186 172,193 173,193 206,155 212,167 176,146 162,194 161,178 159,173 161,163 186,146 201,145 157,156 179,198 173,145 211,171 164,152 176,193 208,183 171,145 199,195 157,165 160,150 195,144 210,170 155,179 201,192 195,148 167,152 158,176 203,152 158,188 203,182 204,149 204,152 209,167 205,157 160,154 209,183 163,186 194,198 206,187 209,173 185,145 196,196 187,199 210,162 192,143 175,149 175,196 173,145 159,184 159,171 205,163 200,192 199,192 192,147 159,175 181,195 200,197 156,172 176,148 189,196 178,145 210,186 203,192 201,149 209,173 158,161 161,164 186,145 213,169 166,196 200,193 195,200 212,177 170,151 205,179 158,178 170,193 206,149 211,169 158,158 179,148 158,152 196,150 168,147 196,195 184,146 192,199 175,192 181,198 192,196 155,175 164,184 175,145 159,162 207,186 180,195 203,186 195,149 162,190 163,150 168,194 182,145 183,203 213,176 164,189 195,198 156,164 210,178 158,154 177,145 209,185 165,192 206,168 203,188 193,197 173,197 203,186 180,200 167,191 176,151 207,149 158,150 193,141 206,183 208,165 213,176 188,140 156,163 178,200 166,191 167,145 162,180 210,161 168,192 201,190 167,147 159,180 206,159 195,147 185,194 184,143 190,195 178,199 182,145 197,145 194,141 197,195 184,141 157,172 176,193 194,149 160,160 193,195 168,195 202,194 174,199 158,166 168,149 198,193 209,177 214,178 205,153 170,147 161,157 208,161 194,195 213,169 153,172"/><polyline class="r2" points="206,145 207,193 215,180 184,139 187,140 209,155 159,147 177,204 165,145 192,202 153,186 200,200 209,190 151,172 187,137 173,202 202,199 185,203 189,201 188,138 154,159 177,138 216,171 153,163 156,150 171,200 212,162 159,192 215,164 212,160 161,192 174,202 213,161 216,168 190,139 163,145 206,144 207,192 205,142 209,188 211,159 166,200 213,181 212,184 161,194 213,160 174,141 202,142 195,139 213,164 168,144 175,202 160,192 167,199 209,191 153,163 186,202 195,141 174,201 169,200 156,150 178,140 154,155 151,168 179,137 177,138 161,193 215,170 215,180 182,203 212,157 153,159 153,180 209,192 183,138 160,147 210,192 205,194 215,165 209,192 192,203 168,199 168,199 216,173 208,192 193,140 179,203 208,150 151,173 161,146 207,147 163,146 166,197 216,180 200,141 159,147 214,163 196,141 215,180 211,160 154,157 180,138 199,141 174,201 180,204 172,199 217,173 176,204 180,204 152,183 213,159 193,140 165,199 195,140 170,199 200,199 214,182 206,144 172,202 191,139 191,138 176,203 215,168 207,193 170,142 177,205 204,196 187,204 215,176"/><polyline class="r1" points="210,214 184,210 225,143 198,203 232,195 229,167 149,164 218,142 221,197 222,153 208,207 188,124 145,176 218,184 166,135 192,129 137,143 197,205 225,168 211,152 159,128 213,203 170,136 212,201 225,171 219,156 150,156 231,168 216,163 162,129 223,167 212,154 188,136 150,145 147,133 241,205 177,208 146,150 217,147 193,205 165,141 188,130 247,185 232,151 194,203 220,184 224,188 231,198 225,163 203,140 121,150 234,186 157,194 205,203 220,163 215,157 212,222 137,189 215,133 176,131 190,215 198,138 231,185 155,196 190,204 170,135 172,206 189,208 241,196 219,186 207,137 217,184 169,208 147,198 153,151 216,148 172,219 162,137 197,206 219,193 135,213 213,210 222,181 209,196 130,166 143,188 150,201 147,184 188,124 195,134 220,210 223,169 141,206 184,137 202,210 156,201 228,225 174,103 147,172 173,139 165,133 196,219 199,205 147,150 206,135 159,98 218,133 209,137 223,148 196,212 135,156 223,190 139,167 200,202 198,94 232,193 217,179 220,185 184,136 150,172 214,153 192,218 179,209 215,144 238,181 253,188 146,152 224,192 187,205 158,134 163,133 143,173 137,170 163,199 185,103 211,201 175,224 231,211 222,147 227,181 153,130 156,200 168,134 239,195 188,123 226,131 197,213 143,142 183,131 158,204 198,202 217,188 150,184 149,184 213,151 227,178 117,187 187,206 190,136 142,179 217,188 199,217 142,187 250,191 181,211 145,160 133,130 189,204 220,175 155,136 213,200 223,180 230,193 153,189 194,136 222,161 160,209 175,132 165,200 150,139 156,139 224,169 152,138 151,236 201,200 172,203 219,165 210,128 134,210 168,141 149,151 239,183 148,179 156,142 190,134 228,183 212,189 218,165 211,214 194,118 171,211 154,201 219,198 201,202 225,118 152,192 188,130 224,155 216,140 128,145 233,141 212,197 224,157 166,122 158,200 211,120 175,208 232,144 160,139 204,200 146,178 153,141 232,127 224,159 220,157 157,195 194,130 226,181 147,184 207,136 223,198 134,184 170,208 171,217 176,231 196,204 151,167 184,209 118,202 151,205 189,122 195,116 157,144 204,225 250,177 226,188 182,222 198,203 155,201 141,159 236,163 147,190 154,194 135,173 162,206 138,184 192,228 159,133 160,138 232,168 178,136 167,138 213,194 217,163 170,126 196,211 211,135 149,143 209,148 161,144 149,162 198,218 200,234 160,140 182,211 136,170 134,191 187,203 197,139 202,125 147,188 166,218 162,143 225,186 161,215 152,233 171,131 190,128 186,208 161,123 173,217 219,185 136,153 219,187 240,145 219,126 234,194 212,125 157,194 224,198 219,205 166,202 172,126 117,187 192,208 190,232 166,134 218,178 156,196 219,193 217,191 219,149 210,118 162,119 157,116 217,204 225,139 178,135 153,195 230,179 154,140 226,163 210,135 217,184 151,153 203,199 219,139 161,198 253,155 205,215 128,177 219,164 195,208 189,226 212,139 209,207 203,200 183,207 217,192 212,199 242,188 152,155 149,158 201,211 169,137 191,132 152,144 151,164 219,194 214,123 216,199 191,251 151,187 165,127 201,207 228,148 207,219 204,116 140,184 171,228 166,237 140,185 199,126 139,183 216,161 227,172 212,148 211,192 164,131 208,197 176,128 263,165 118,121 214,191 162,144 180,113 175,136 207,212 218,167 151,166 158,193 227,167 189,129 186,134 143,152 137,183 150,170 163,209 138,187 148,175 98,171 211,197 151,175 225,168 221,177 134,167 220,193 219,239 164,137 129,147 131,183 223,220 142,163 125,184 184,120 242,206 141,174 223,137 154,127 215,144 157,213 194,206 213,152 146,162 166,140 188,131 205,135 164,205 215,185 185,123 225,179 181,208 146,180 120,202 137,185 184,130 175,138 144,155 121,120 234,222 225,164 131,209 189,127 148,168 170,205 228,139 136,185 218,171 153,157 149,130 172,215 147,188 201,126 148,182 192,205 212,147 259,157 236,184 201,200 178,211 189,206 215,154 209,134 155,218 161,227 147,180 201,209 222,184 214,112 207,202 216,155 223,186 154,203 152,139 179,213 222,185 116,140 125,162 137,178 164,137 180,133 178,135 146,172 177,120 129,150 218,155 214,158 222,145 163,206 182,205 139,215 190,117 199,118 144,177 171,139 228,164 219,163 153,149 202,141 180,131 229,159 164,207 187,130 202,222 157,205 200,138 168,117 202,201 180,131 169,204 148,167 176,126 182,230 205,126 218,183 200,135 176,125 175,137 180,134 236,200 219,126 222,126 149,185 189,222 220,126 205,137 152,209 149,184 213,154 192,133 205,197 145,157 197,125 219,191 167,206 160,138 166,204 214,149 225,101 160,131 175,204 164,133 222,159 180,215 213,204 143,176 226,160 224,168 224,185 217,173 181,130 178,213 151,154 164,206 138,156 148,152 164,133 198,112 173,207 153,151 221,144 196,127 235,163 205,224 185,211 128,157 211,212 150,177 171,203 180,118 173,137 142,200 219,154 148,180 203,120 239,150 218,168 150,185 218,144 146,172 239,153 223,195 171,136 159,136 209,123 142,180 222,182 215,159 187,210 230,150 156,147 197,216 133,214 170,140 140,164 212,140 186,214 174,116 175,131 164,138 183,214 208,212 192,126 229,154 138,177 164,201 215,139 177,216 219,151 154,143 221,170 193,204 238,186 139,142 128,163 213,153 148,155 195,113 160,207 135,142 192,119 162,141 166,208 221,174 197,138 234,163 167,214 230,160 157,209 188,204 233,181 138,177 148,151 193,132 154,146 206,205 223,177 138,176 208,198 149,183 150,154 166,127 146,205 147,183 145,180 191,210 178,137 155,194 195,207 222,151 214,203 159,199 151,175 128,189 141,159 185,118 151,184 153,206 136,179 151,202 138,171 198,204 163,143 147,153 215,160 180,122 210,225 173,211 199,113 212,203 210,146 221,171 175,129 240,167 165,138 139,137 143,207 204,132 173,217 174,218 145,162 184,120 188,133 214,147 193,134 217,172 144,136 209,142 211,140 141,180 186,134 160,140 211,146 150,166 236,196 192,229 172,117 213,147 182,128 144,182 149,160 174,135 148,119 188,218 238,163 149,197 160,218 206,206 212,146 147,146 137,175 222,182 197,228 134,196 222,152 178,134 129,189 147,185 123,215 131,191 222,178 212,204 155,149 244,152 202,139 165,130 144,151 203,126 145,138 227,183 144,204 120,159 184,98 231,188 251,148 156,148 198,128 168,202 223,149 120,160 147,146 147,169 214,206 213,186 135,173 236,171 201,216 152,192 167,141 233,154 233,196 192,206 145,155 222,149 198,130 173,135 212,122 185,130 161,199 222,144 152,146 217,155 178,136 148,194 189,208 206,143 211,127 157,146 132,162 157,123 220,165 144,170 146,199 220,183 190,210 199,136 223,187 176,204 190,134 203,106 232,170 141,174 191,124 200,130 221,176 164,138 160,144 150,150 227,161 151,148 219,166 122,185 154,198 162,205 141,120 148,154 148,141 176,136 143,172 204,123 209,202 156,116 186,115 179,106 209,136 181,226 153,189 175,214 194,208 221,155 216,205 213,195 140,196 138,177 180,207 142,200 182,129 232,160 222,183 221,199 144,149 195,130 168,203 152,139 165,132 182,132 145,158 167,140 224,201 184,124 214,156 218,207 163,137 209,140 215,189 185,212 211,213 149,142 160,129 139,134 224,155 171,201 178,213 219,195 139,168 153,160 218,169 156,139 150,198 162,113 225,194 139,200 172,134 169,138 246,198 190,205 170,201 131,194 135,215 155,146 152,133 168,217 221,152 180,130 213,188 223,178 218,164 157,113 209,132 181,124 157,128 180,130 221,176 160,128 189,127 205,199 152,151 239,173 221,143 154,141 152,135 198,209 203,219 170,213 184,124 162,205 215,193 200,209 185,213 166,125 144,182 169,138 158,126 144,170 200,130 222,155 138,188 153,151 141,174 208,201 226,221 152,187 174,207 149,151 205,209 135,167 201,206 212,204 164,126 167,224 197,124 219,189 174,128 142,149 127,198 211,127 153,148 217,100 217,184 177,207 200,206 195,213 221,140 213,186 224,145 154,209 221,236 217,151 151,149 178,126 216,116 248,145 154,135 197,137 207,138 221,199 161,213 233,112 147,210 210,210 138,161 219,192 192,123 184,129 199,115 233,166 139,156 215,161 185,205 203,205 168,201 146,166 220,163 159,203 145,179 212,125 182,206 165,215 144,164 200,224 204,209 216,180 226,125 242,192 174,134 166,134 187,218 160,209 153,207 230,180 165,211 153,188 163,227 208,226 143,171 185,209 217,143 145,193 152,156 163,126 193,219 139,148 224,157 216,196 185,123 224,162 183,121 149,180 151,190 148,182 225,163 143,200 183,211 197,205 180,132 217,141 164,206 140,174 226,152 195,235 215,126 224,165 238,177 153,157 215,185 223,226 153,148 134,174 128,178 201,108 173,137 142,146 140,168 200,207 194,212 149,170 125,210 168,200 213,196 187,228 186,205 180,207 150,168 236,215 189,135 185,129 190,212 219,160 167,139 185,129 154,139 177,212 131,137 150,153 151,190 199,135 160,196 152,164 213,214 217,159 174,98 153,141 224,166 210,207 210,151 144,165 148,154 162,138 159,123 196,229 232,169 152,188 174,212 169,203 158,124 161,202 138,205 148,122 159,142 195,223 210,190 208,199 202,207 220,198 126,133 229,215 221,200 224,154 142,166 171,212 130,192 190,133 183,128 198,217 200,213 149,179 142,186 217,148 187,205 175,208 130,170 137,159 161,207 155,143 203,130 234,139 155,201 150,149 195,133 170,123 148,186 170,126 155,130 135,141 210,138 152,188 155,143 216,193 171,216 237,169 214,158 160,215 208,138 163,229 165,116 151,189 149,182 172,236 211,152 164,203 228,168 150,158 218,152 168,203 189,132 176,208 142,156 209,200 247,169 198,213 252,196 162,144 162,199 207,208 210,150 229,204 193,132 219,145 228,179 142,149 197,121 217,204 209,195 192,209 175,134 142,178 158,200 133,148 133,123 145,158 226,176 151,169 203,215 215,161 154,217 149,167 114,185 138,148 181,130 177,133 195,207 177,136 219,164 197,103 223,177 147,204 185,132 222,135 199,209 201,125 167,127 227,152 206,143 189,131 172,127 200,219 218,242 153,224 228,168 197,212 154,220 177,220 208,141 218,152 175,216 217,198 184,206 137,153 152,159 177,220 158,214 133,188 191,210 215,183 237,161 181,135 196,218 153,205 176,126 177,214 208,141 202,141 153,149 178,130 209,195 194,133 153,220 217,138 235,174 235,170 214,145 170,202 211,191 123,175 159,194 144,164 194,135 140,162 117,134 214,157 153,154 176,124 242,161 158,128 152,195 222,189 222,183 162,202 188,203 201,215 150,171 132,206 227,146 175,204 204,200 216,162 209,125 151,179 157,213 173,116 172,210 178,122 224,225 229,177 178,134 187,215 153,144 214,201 149,197 216,154 172,232 226,169 154,137 151,159 152,191 242,157 201,139 212,209 172,221 204,124 226,189 162,206 171,116 148,174 240,188 195,112 221,192 193,115 205,140 149,162 208,144 221,171 168,137 215,204 162,198 145,161 164,210 143,195 210,218 217,216 200,212 146,193 205,130 178,210 138,145 142,164 213,195 217,175 132,167 138,177 233,161 204,139 212,140 226,159 140,153 236,167 213,190 163,199 234,167 190,117 228,186 195,220 182,211 219,171 145,188 146,169 192,204 183,137 170,210 209,149 220,193 164,141 224,176 143,181 212,221 153,190 210,201 135,173 196,139 208,200 157,146 154,147 171,126 217,169 137,176 228,150 193,219 193,204 153,189 138,166 184,130 215,202 219,146 231,190 172,134 208,239 156,207 206,138 184,205 155,198 225,168 200,138 229,186 164,209 131,187 188,131 142,149 167,204 206,203 164,140 135,161 217,144 134,150 137,154 151,156 174,134 206,202 215,189 172,126 227,163 189,212 214,118 158,218 186,218 159,213 157,214 215,186 222,151 237,130 142,145 230,173 127,153 224,149 219,167 168,216 218,148 158,208 214,189 229,181 192,214 160,204 180,102 214,195 244,137 223,156 199,128 192,219 225,179 109,150 149,168 146,142 194,137 172,220 172,203 240,192 180,126 185,129 165,203 244,181 186,214 201,131 163,137 127,156 155,195 157,194 219,176 212,190 175,225 210,120 157,136 218,176 150,190 201,227 193,215 142,180 150,151 149,168 195,204 212,156 213,129 153,158 201,232 200,214 174,122 121,168 204,198 138,154 190,116 153,160 145,202 160,198 158,212 107,170 205,202 199,136 175,205 205,200 168,125 208,203 182,129 210,208 229,215 153,161 150,183"/></g></g>
<g clip-path="url(#c21)"><use href="#p01" transform="translate(0.0,489.2)"/></g>
<g clip-path="url(#c22)"><g id="p22" transform="translate(417.6,504.2) scale(.5)"><path class="sat" d="M184,191 180,190 176,188 170,184 167,178 165,162 170,159 176,153 178,152 186,153 190,155 198,156 200,158 201,166 204,170 203,176 200,182 194,185 190,189 184,191Z"/><polyline class="d4" points="187,156 189,189 173,181 195,160 190,185 169,180 194,155 195,179 188,155 176,158 177,152 171,157 168,182 204,178 202,169 187,157 198,177 170,184 168,161 188,189 170,161 197,155 172,169 201,177 173,184 194,154 175,185 182,186 198,183 193,180 201,164 199,182 194,186 166,161 191,153 195,181 166,161 199,175 179,184 173,183 188,188 187,191 191,180 189,157 184,157 199,157 173,179 195,163 205,172 182,158 199,176 200,173 198,158 195,185 201,167 174,159 201,184 176,157 168,170 200,157 178,185 175,182 172,177 190,186 178,184 196,160 205,177 197,163 184,158 186,185 189,156 196,163 187,190 198,158 193,160 182,190 180,153 172,186 177,152 172,165 205,171 179,192 170,165 180,151 168,178 166,175 197,163 192,180 197,175 196,165 192,155 198,185 198,168 165,171 189,158 171,161 172,182 198,170 173,188 190,155 167,166 189,157 200,159 199,177 186,186 183,151 175,159 200,184 168,165 176,150 170,158 176,162 170,166 200,182 181,155 185,192 202,168 196,161 200,181 189,158 178,158 169,175 175,185 196,165 173,183 174,184 202,171 183,186 171,185 201,174 200,157 203,177 171,175 168,160 184,156 171,180 175,159 194,159 180,186 177,158 185,188 197,165 205,169 177,191 177,188 190,153 180,155 200,176 163,165 174,161 200,183 187,160 166,174 199,170 164,165 170,161 202,182 177,184 173,156 172,180 181,150 187,154 202,173 167,171 199,162 167,181 178,147 175,149 204,175 198,157 190,183 193,181 180,152 189,153 172,178 200,184 197,184 199,161 184,152 203,170 185,159 187,185 177,188 174,155 170,182"/><polyline class="r2" points="173,147 198,186 207,182 206,173 201,161 162,174 200,154 208,175 164,177 164,173 205,182 187,151 204,166 191,151 187,192 205,183 186,147 182,148 173,147 181,193 175,192 174,148 168,156 192,152 203,166 193,187 184,193 173,192 168,183 184,193 165,156 200,186 168,186 185,150 168,187 186,151 181,149 173,189 172,148 192,150 173,149 207,171 207,181 206,178 163,170 200,153 205,178 163,170 165,175 169,189 175,191 163,160 186,194 164,156 206,170 182,194 198,185 206,184 182,148 201,185 169,157 191,189 163,159 189,150 189,150 162,172 205,173 171,189 190,149 178,194 174,193 191,189 161,162 174,148 163,176 186,151 162,162 169,188 161,158 161,160 205,166 181,145 174,147 170,157 164,158 179,145 203,159 165,181 187,150 177,193 205,176 192,189 162,164 206,178 191,190 177,193 200,152 205,183 175,191 175,193 194,189 178,145 178,193 162,167 201,188 192,152 170,189 194,188 206,177"/><polyline class="r1" points="184,121 199,136 147,177 215,175 220,185 223,167 190,216 104,229 145,208 144,213 139,174 63,137 245,223 309,207 114,192 181,217 192,204 191,63 200,71 232,217 239,73 187,197 210,136 139,252 108,176 149,200 233,189 144,118 183,132 101,154 125,130 17,177 224,148 158,182 276,277 223,159 188,71 182,88 152,205 169,197 190,45 197,137 286,99 221,196 122,104 219,207 192,23 214,105 197,313 259,224 154,173 223,161 208,179 143,173 210,181 142,160 198,226 355,297 131,155 211,119 209,222 177,130 145,168 281,301 247,130 155,136 214,291 187,144 242,143 155,182 173,207 356,244 232,63 243,148 166,154 160,184 158,209 185,211 192,211 224,153 237,115 212,160 28,246 220,202 215,172 224,153 230,214 236,126 258,183 220,214 187,133 159,175 166,201 88,161 193,285 69,204 128,172 218,154 166,202 129,176 148,167 103,122 150,136 172,148 191,131 199,133 211,198 190,129 231,118 163,188 242,143 264,238 244,191 180,299 219,167 216,180 171,193 36,2 168,142 187,225 239,159 89,176 218,184 223,237 212,165 151,205 163,208 207,195 165,146 228,149 223,175 154,170 161,135 198,135 221,239 167,151 57,244 205,242 216,137 206,303 153,222 207,177 210,130 166,234 223,121 156,195 228,149 242,171 228,136 154,190 210,162 201,132 209,174 242,113 210,146 166,135 316,74 336,281 192,209 202,147 203,135 165,192 178,137 241,270 4,129 215,155 161,225 199,234 190,204 283,242 215,105 147,137 164,201 193,125 189,127 203,158 162,221 158,160 182,134 201,152 203,224 193,135 144,171 248,112 104,184 303,230 181,108 122,42 159,177 84,35 247,191 221,207 237,131 175,93 167,190 137,123 284,238 167,153 160,184 138,190 184,197 228,184 152,148 186,145 206,161 197,109 355,218 130,119 172,202 212,124 192,149 222,272 154,213 169,148 252,166 148,168 161,93 200,140 211,134 195,205 212,123 172,148 171,150 137,191 312,172 195,207 102,129 149,177 179,199 155,178 251,107 196,191 118,196 107,118 190,134 155,237 208,132 212,182 198,210 138,241 299,64 161,192 198,238 229,148 145,137 211,288 198,139 186,141 98,120 165,228 234,176 209,131 188,194 257,162 181,276 261,236 88,195 261,278 223,191 258,158 184,209 257,189 161,187 204,143 187,204 160,220 212,104 192,145 196,147 195,201 216,154 217,182 211,226 192,207 190,124 131,69 153,230 163,195 162,195 213,151 210,160 191,142 150,12 122,200 62,290 175,211 151,140 233,158 170,228 275,210 131,142 216,176 46,184 220,131 200,128 177,201 140,189 237,191 192,195 251,185 152,210 61,173 263,138 177,2 207,187 186,116 96,157 182,140 170,71 202,120 231,119 38,180 120,172 206,197 184,133 138,193 313,157 53,102 151,108 163,340 200,9 124,129 255,166 222,145 109,183 162,193 200,210 218,88 231,200 154,174 155,119 150,122 226,187 189,102 117,166 224,273 154,176 214,93 231,119 143,205 167,219 253,176 144,202 243,196 148,158 136,140 223,206 183,109 163,153 177,237 234,269 244,249 264,159 196,140 225,118 210,162 175,134 148,155 247,179 188,122 211,195 164,145 212,153 237,199 158,164 163,120 135,208 252,166 158,196 169,137 236,205 206,195 222,162 254,113 188,206 186,-8 134,212 173,102 154,162 170,200 181,135 260,193 147,179 156,163 234,144 186,228 186,147 184,123 201,215 210,156 197,205 227,137 233,131 315,144 243,152 153,146 181,231 156,52 146,186 261,128 178,204 148,168 165,197 64,17 191,138 161,156 168,126 170,206 167,132 167,216 156,173 215,190 209,152 200,152 229,104 184,252 149,190 233,173 164,202 170,75 165,245 255,2 166,147 207,148 268,174 217,256 183,244 217,172 227,89 274,261 179,210 167,55 258,215 -1,276 228,138 314,102 201,208 266,198 155,155 235,180 229,191 209,131 203,197 192,138 156,136 234,146 221,185 204,190 212,171 188,134 167,215 213,171 325,239 202,147 219,172 191,124 183,133 277,335 96,135 79,123 200,139 128,204 163,119 211,169 241,176 96,158 154,202 209,187 224,149 205,142 287,212 111,219 156,106 18,30 171,136 37,319 127,224 223,114 230,183 179,253 123,161 211,182 197,150 224,86 161,157 209,167 207,215 175,197 156,164 281,214 105,221 281,290 151,162 246,175 193,60 167,104 172,119 228,177 151,172 202,206 207,192 159,165 206,166 196,204 239,205 207,179 132,188 87,191 63,293 151,44 123,343 168,201 140,173 166,131 229,204 148,149 254,158 201,207 203,240 183,234 155,164 165,196 166,197 272,241 153,174 152,162 152,171 217,161 102,5 167,141 164,109 203,123 232,172 158,208 161,128 254,252 231,130 209,213 207,157 159,138 193,194 204,145 188,205 289,316 166,117 192,222 158,206 113,141 156,-2 224,202 286,92 171,230 250,113 218,167 100,225 292,165 274,186 221,171 136,158 202,152 161,178 152,177 197,198 44,176 216,120 185,138 234,140 135,177 188,199 213,178 155,163 163,197 192,206 157,180 222,186 156,124 210,156 176,234 228,179 192,118 223,131 200,221 83,162 224,178 214,229 159,217 173,193 230,99 107,148 114,208 197,123 208,180 165,154 207,141 343,268 108,197 40,204 189,135 130,83 204,139 86,167 230,205 182,129 224,135 166,124 154,60 133,179 240,181 183,201 220,250 173,220 225,339 231,171 243,133 247,140 230,174 163,187 219,217 161,182 245,124 177,71 253,141 162,207 234,161 196,146 177,196 212,184 235,207 194,137 187,205 224,156 131,136 176,144 225,154 219,165 220,173 18,81 164,132 170,138 185,134 57,322 198,252 183,208 72,79 219,166 260,238 190,234 250,140 220,196 215,160 114,101 188,203 106,176 270,111 174,200 198,152 175,68 206,187 160,170 219,86 209,162 207,136 253,65 206,134 212,141 168,216 106,157 281,41 192,202 111,172 254,185 204,152 321,91 236,139 152,203 168,148 213,211 232,154 209,186 224,192 202,214 167,186 374,214 198,121 167,204 167,147 115,158 216,151 206,200 213,169 190,231 210,155 221,160 131,182 156,147 152,199 131,23 214,190 238,71 186,116 140,186 231,196 236,202 178,130 243,216 168,141 233,294 193,124 177,142 180,207 288,73 158,202 203,123 148,180 234,279 276,176 172,122 221,210 275,249 273,201 218,148 125,200 262,87 236,174 159,158 154,170 274,90 217,70 220,234 159,223 241,177 247,215 162,181 266,325 133,184 300,159 228,135 224,166 167,220 139,136 154,130 10,10 150,111 190,203 207,185 63,141 200,138 244,149 204,193 268,74 329,217 256,229 184,261 188,205 192,123 187,13 50,72 184,215 39,86 38,127 307,122 52,301 164,232 335,43 220,155 286,46 205,210 195,222 264,193 183,197 224,145 346,242 171,4 154,217 142,198 217,139 157,194 196,130 236,161 311,37 135,188 174,144 78,78 139,164 167,148 138,164 160,109 283,88 116,71 346,93 166,207 128,222 141,166 140,165 167,153 268,58 158,205 173,200 190,129 196,135 195,120 360,10 341,242 290,46 231,192 136,170 269,143 186,125 307,278 172,116 265,206 221,159 193,145 224,85 123,115 219,238 233,225 211,176 164,148 197,140 -6,56 211,133 139,152 199,48 138,150 194,111 109,172 251,241 238,189 226,198 221,140 223,166 161,180 36,11 100,139 153,117 126,169 165,142 67,68 211,127 231,169 285,316 225,196 215,143 170,145 213,160 116,145 263,219 137,113 210,154 168,188 227,156 164,218 138,30 133,195 112,145 168,188 135,232 153,205 103,101 211,208 182,199 22,230 219,179 193,246 216,139 130,148 190,146 127,255 247,232 225,259 334,343 196,206 139,148 205,145 306,93 145,100 149,122 255,96 186,196 170,136 213,249 183,132 283,126 247,210 303,277 110,153 79,197 176,208 197,218 199,219 230,196 220,183 257,83 218,169 133,162 163,220 226,175 122,135 226,158 124,65 177,122 192,284 143,183 155,145 173,244 203,50 166,3 187,138 238,214 180,228 274,156 187,230 148,172 159,179 187,220 218,148 214,210 214,138 110,134 199,130 247,220 176,145 190,198 192,228 209,131 363,328 146,136 243,145 165,145 207,221 204,134 158,161 159,180 224,188 206,135 196,196 183,74 170,191 205,245 181,144 211,140 192,136 183,105 165,208 212,80 201,188 241,182 238,151 232,206 214,118 166,154 125,316 217,208 163,152 127,134 21,334 153,184 160,139 124,200 288,320 233,193 172,133 307,225 149,188 239,174 213,218 161,121 126,203 235,130 175,105 145,36 235,161 230,265 218,179 157,139 159,166 126,94 225,189 79,219 144,150 139,117 295,131 248,117 -6,125 242,206 188,140 204,189 3,315 161,33 215,122 197,198 127,173 346,81 234,116 214,181 42,83 204,133 237,245 170,144 8,221 180,226 192,232 188,213 62,86 180,115 210,186 195,202 194,145 139,127 178,142 24,252 214,155 95,93 160,187 184,196 194,202 151,219 140,216 175,123 147,144 182,128 237,123 169,205 136,187 90,172 168,224 196,208 106,223 276,207 220,201 259,228 166,188 272,116 144,138 228,111 186,197 157,187 155,164 212,183 228,147 243,168 210,190 188,207 242,157 161,215 162,175 162,176 145,160 85,59 180,116 262,302 184,212 166,189 85,124 166,148 177,239 222,139 124,201 174,237 196,189 153,193 177,219 192,110 150,342 186,196 199,191 137,176 155,144 134,168 162,152 217,174 177,205 263,109 166,210 153,316 195,146 182,146 237,213 210,183 215,197 149,145 195,143 217,147 216,163 150,172 150,165 254,105 269,67 146,99 216,206 155,165 175,135 166,122 154,185 244,175 171,145 161,224 90,115 248,168 170,240 233,161 188,223 235,189 237,73 114,136 93,186 159,134 115,133 213,206 221,168 339,160 192,144 233,147 217,160 210,184 206,187 199,150 240,171 141,162 250,167 153,178 178,122 147,219 154,200 209,75 191,112 218,185 187,206 249,223 149,130 181,216 179,143 154,146 151,178 218,155 174,130 10,242 146,178 200,117 149,158 176,204 190,199 111,304 163,155 157,155 218,187 198,192 258,207 167,186 183,260 198,239 207,200 248,107 250,160 170,113 181,206 161,136 224,169 312,309 144,120 157,164 199,192 159,154 164,203 148,190 135,223 198,142 212,183 212,206 255,149 345,189 138,146 192,291 285,339 201,206 198,128 215,347 115,83 194,194 189,209 141,160 189,116 209,164 194,144 12,266 197,206 29,323 162,130 156,160 200,188 146,155 132,186 154,172 215,217 326,89 201,125 215,273 81,115 223,201 210,155 227,210 171,142 206,167 264,18 212,138 197,189 148,140 188,139 133,143 239,170 206,153 46,262 186,196 211,69 257,112 230,163 180,113 191,213 147,151 169,215 188,125 180,224 199,148 62,103 139,248 29,263 218,184 171,149 221,153 179,202 131,160 200,192 302,91 176,210 244,290 131,196 115,177 170,210 121,154 246,216 161,93 197,225 233,212 130,133 170,205 224,126 208,203 177,144 206,161 211,213 212,192 98,200 180,232 155,144 56,218 121,192 239,211 125,91 236,198 207,192 153,184 239,210 230,145 83,162 150,170 179,145 232,41 169,202 236,182 218,116 206,156 229,101 247,104 205,224 148,115 180,197 191,135 195,133 137,182 185,197 157,105 42,52 204,187 154,159 235,166 372,245 155,136 103,187 163,138 204,151 150,203 173,123 198,191 207,168 105,117 215,164 214,147 265,160 236,209 153,311 190,108 167,237 204,212 138,193 200,150 215,198 202,70 186,119 215,162 157,155 138,224 256,3 195,198 202,146 180,202 247,159 134,177 173,195 198,123 146,138 154,151 145,232 206,134 237,164 175,126 48,210 280,130 141,199 157,218 191,254 198,125 65,176 178,0 207,160 284,218 166,-4 251,162 159,174 156,236 211,171 229,235 223,171 170,216 348,174 224,149 204,192 92,152 163,191 277,161 157,206 192,137 160,188 158,156 158,182 210,190 161,195 240,183 190,143 223,159 152,174 79,301 200,217 175,140 170,201 134,182 177,197 202,122 156,132 173,215 198,228 145,168 165,118 164,188 148,165 208,202 142,142 141,152 202,200 270,147 206,147 172,264 255,214 216,223 170,104 193,225 188,124 201,144 218,166 149,255 177,205 263,165 188,195 151,172 204,190 64,38 347,32 167,113 129,229 166,193 5,274 308,203 227,196 155,202 187,120 162,154 181,133 141,152 100,101 181,89 157,144 130,167 223,183 96,170 242,151 162,155 196,148 130,99 201,126 182,197 220,186 199,204 187,232 214,193 136,227 129,127 158,137 206,109 220,314 171,116 290,146 106,181 165,193 188,131 116,105 158,222 168,215 158,162 188,96 162,145 129,128 82,137 142,177 194,141 181,252 167,195 238,209 149,138 153,136 234,197 193,209 220,128 146,178 155,154 151,189 157,160 161,143 109,231 138,190 220,146 231,172 70,194 215,165 232,70 144,165 218,161 204,143 149,204 238,222 193,270 351,333 236,154 198,201 190,133 205,144 228,155 219,152 267,92 128,295 164,147 206,167 218,165 153,171 143,167 212,162 212,171 166,141 196,133 195,288 152,125 188,220 221,106 213,115 261,116 208,187 185,197 191,214 191,149 135,124 197,198 215,194 165,204 209,125 179,214 151,183 216,191 176,224 374,196 73,82 191,216 184,141 156,170 168,154 162,153 170,130 220,191 197,208 131,96 151,194 163,182 258,189 204,132 213,154 260,268 329,143 210,165 160,136 215,249 151,128 201,192 135,191 166,71 221,166 238,172 190,120 181,207 145,134 168,201 185,205 183,226 141,160 217,196 218,205 161,156 168,194 187,127 247,178 152,205 198,132 158,161 209,168 162,186 230,148 273,136 143,82 177,329 257,238 276,29 122,167 128,209 213,200 278,282 142,134 130,118 155,194 171,193 220,188 197,213 249,131 237,159 169,277 163,145 194,85 206,185 121,104 183,202 275,-2 224,137 58,264 144,199 226,143 235,228 10,294 216,165 169,209 192,213 131,254 70,287 223,224 159,144 182,201 177,202 219,165 210,197 146,153 201,134 150,168 258,157 247,182 203,231 162,193 232,170 159,158 129,164 233,286 214,206 191,208 188,81 50,308 226,43 186,88 328,211 177,113 231,199 203,311 307,55 201,117 156,173 226,159 184,145 78,288 146,208 173,146 197,202 215,72 363,241 149,183 37,50 170,135 338,32 143,103 210,167 218,167 155,219 335,245 172,193 73,116 140,192 300,278 150,182 194,134 275,7 250,182 162,193 204,155 0,8 277,110 167,73 161,145 229,191 211,175 152,141 156,165 185,123 165,116 312,161 188,137 209,167 145,134 101,226 170,119 263,128 190,204 122,126 185,209 182,268 123,139 259,159 70,271 120,252 157,239 213,152 206,186 148,176 204,159 200,194 208,132 191,273 202,107 182,139 190,123 174,139 179,142 198,120 167,224 257,62 162,191 155,199 174,131 149,203 -4,100 212,61 233,181 191,130 236,159 279,161 145,113 131,101 149,341 166,184 214,178 136,187 215,148 201,203 154,211 226,162 217,250 220,193 271,14 250,154 203,211 247,135 235,204 -1,-1 356,288 158,145 187,276 138,135 210,248 185,211 157,197 182,265 173,223 91,269 224,197 150,153 151,174 250,312 249,130 219,126 224,-7 176,132 236,136 171,218 221,157 45,67 201,195 166,149 165,184 217,230 156,187 151,189 204,160 209,205 26,76 150,171 167,141 188,143 217,249 139,267 225,176 214,56 272,196 301,95 184,144 145,181 162,181 213,162 186,269 30,61 158,159 157,160 152,217 160,93 165,203 225,175 134,117 115,137 258,7 189,235 205,187 218,162 152,139 232,157 156,219 167,187 148,131 83,103 362,187 196,202 177,134 213,190 194,148 147,167 272,319 201,205 365,104 256,220 217,126 194,147 193,150 5,52 197,125 225,162 162,174 157,196 213,176 307,86 219,188 174,135 145,109 230,341 144,162 158,178 170,145 187,196 165,217 168,220 162,194 188,143 211,135 195,196 207,147 133,223 216,217 231,323 154,123 202,208 149,187 208,193 196,306 211,144 214,182 200,135 159,118 118,129 218,135 189,222 156,147 210,200 152,150 157,246 141,108 370,297 162,198 168,192 214,185 122,105 172,201 205,153 149,171 225,211 323,234 94,179 152,198 107,136 176,208 140,156 19,188 203,151 163,200 93,320 190,228 173,114 173,113 178,141 211,129 180,125 210,197 171,112 199,294 244,199 168,193 158,134 167,220 180,142 111,153 130,192 144,162 140,171 111,159 192,196 137,280 166,191 153,211 211,177 219,3 94,145 133,158 230,179 147,178 105,315 190,104 240,334 183,204 211,166 201,119 208,148 170,223 187,216 158,327 253,164 198,208 264,201 159,153 172,210 192,207 179,130 216,202 71,207 258,24 141,154 143,157 163,202 111,140 203,140 190,231 139,178 212,183 186,130 156,200 185,126 16,69 257,178 165,130 111,202 260,132 124,256 218,140 207,125 229,204 223,151 117,141 162,135 181,128 164,155 175,139 196,133 255,91 199,138 177,102 205,79 101,-2 228,168 103,157 225,247 169,194 160,165 111,85 254,147 211,184 272,237 209,178 203,194 142,219 169,244 172,116 237,75 184,231 164,108 265,193 247,245 200,206 206,153 210,107 226,180 212,127 197,203 189,201 181,292 158,116 89,190 188,144 174,90 161,166 201,154 200,204 168,225 152,202 191,146 163,152 191,192 132,115 146,214 125,110 207,161 236,158 206,165 181,197 204,219 195,194 222,137 192,212 199,191 193,191 281,169 119,44 222,162 107,191 145,180 204,158 173,131 280,81 145,158 162,176 147,185 206,94 245,191 170,210 277,197 187,147 84,197 283,154 226,191 67,175 173,209 185,146 187,331 138,178 212,152 210,172 210,185 201,141 64,156 343,205 213,220 171,105 211,128 265,103 178,122 217,208 228,172 149,197 162,183 162,183 211,158 252,222 210,188 253,125 183,114 162,207 205,196 157,158 254,289 222,143 182,197 211,143 151,208 262,102 216,137 195,28 257,181 81,141 107,96 241,220 132,126 192,246 166,152 111,156 186,111 199,188 127,162 139,164 152,266 129,139 189,139 139,155 150,151 211,260 204,217 234,159 198,225 145,202 142,171 154,175 216,152 150,171 221,150 90,184 138,142 220,139 78,340 178,218 224,138 136,133 146,210 201,190 158,144 147,183 134,181 221,126 158,184 133,120 221,201 173,193 162,245 127,148 233,154 210,156 207,136 253,62 -2,34 204,190 133,124 40,123 308,68 149,229 247,332 178,197 185,76 197,151 158,189 109,82 114,215 180,115 178,127 161,186 223,196 154,188 32,131 238,238 68,160 197,307 343,144 135,137 175,201 138,165 16,223 135,217 201,195 117,214 135,120 207,24 220,183 159,140 181,118 182,214 127,178 190,97 152,276 229,227 229,150 85,219 124,168 163,154 170,114 217,193 216,140 276,258 179,209 235,199 338,49 109,229 175,215 224,193 179,94 204,191 184,198 186,213 236,196 185,134 190,138 211,176 226,206 132,219 218,143 202,137 223,182 202,195 133,222 225,151 6,45 186,141 167,147 202,146 161,179 128,185 208,171 275,242 56,159 210,230 292,199 149,199 174,53 225,213 151,176 203,154 203,219 323,83 326,132 250,169 121,224 367,244 150,186 198,212 93,163 221,178 159,189 153,177 222,166 196,194 92,184 146,154 63,233 199,233 186,208 88,223 104,82 174,237 269,118 175,197 115,182 174,233 162,184 191,195 159,163 177,109 214,178 150,167 172,147 120,338 157,104 175,260 302,173 113,165 176,196 130,195 194,200 217,213 243,163 205,233 146,171 24,267 162,144 232,145 211,169 161,221 171,198 288,307 152,147 62,71 162,135 217,139 278,248 224,184 178,202 223,275 132,244 222,187 137,164 267,130 149,189 127,128 159,177 212,152 160,118 221,224 154,124 119,320 65,11 175,220 164,193 221,140 365,276 223,187 181,202 244,137 212,166 146,133 174,127 155,164 178,94 165,217 181,139 211,126 211,132 301,72 203,147 242,165 177,214 258,160 132,15 190,100 189,131 214,173 248,253 210,170 89,322 32,273 286,120 187,144 196,215 220,198 185,216 123,177 72,228 39,21 167,197 152,228 19,155 -3,63 136,165 132,103 144,158 91,126 157,179 75,146 104,160 232,180 170,197 197,202 193,126 349,86 139,302 124,51 146,193 169,142 163,196 116,98 255,194 129,201 204,214 132,142 201,70 138,187 104,191 125,178 275,113 238,188 4,184 160,138 169,145 76,62 227,123 181,208 134,139 137,190 165,140 140,228 250,323 218,161 180,207 167,152 83,21 228,127 175,200 162,204 205,106 170,98 124,305 209,200 216,167 221,157 203,197 146,143 286,305 224,142 10,47 221,328 158,150 185,90 174,120 167,194 135,174 204,149 179,119 179,196 213,113 223,77 225,185 193,190 82,309 201,115 213,208 237,145 202,132 234,118 164,221 55,300 162,26 205,119 160,205 188,138 209,196 153,117 232,-8 216,84 182,229 330,74 164,145 205,187 199,143 48,38 117,311 229,8 139,177 141,160 189,198 111,173 138,201 118,158 183,124 202,208 221,219 157,232 229,19 210,238 210,171 134,126 161,180 125,216 163,119 168,109 241,213 108,286 95,218 177,204 190,144 111,155 182,224 68,65 219,144 285,307 209,167 15,79 214,138 341,46 199,150 161,34 196,202 102,212 201,213 135,173 88,270 255,241 213,293 251,138 73,180 184,88 124,128 168,202 208,152 169,198 141,155 158,179 130,111 208,187 196,229 155,90 168,198 156,198 117,146 163,145 31,78 211,213 205,150 103,150 235,255 193,218 186,123 229,138 215,219 194,143 224,144 215,203 82,66 131,199 154,186 223,135 187,113 186,113 148,210 200,107 219,223 190,134 40,265 130,181 219,197 297,184 197,72 130,205 136,181 181,202 255,222 113,180 207,189 226,162 160,193 201,151 130,171 226,170 182,244 173,197 167,192 134,217 194,147 154,196 218,185 204,82 225,222 326,311 166,287 163,207 207,179 119,116 166,147 220,178 147,234 271,129 219,193 238,187 257,138 248,122 203,207 112,117 210,162 273,84 239,183 272,155 195,125 219,157 179,218 233,173 287,173 217,200 184,213 190,209 146,236 137,210 188,241 140,166 206,131 217,169 131,110 76,120 181,144 223,169 151,199 226,160 204,235 226,223 315,258 192,224 240,127 100,71 170,219 133,159 193,151 181,118 178,195 219,258 240,215 229,139 240,223 300,48 147,152 169,152 211,190 212,144 351,156 230,157 136,178 32,112 209,149 166,148 146,143 134,201 128,184 105,134 208,124 45,207 208,203 163,138 196,206 280,133 154,160 155,241 148,206 242,125 175,206 234,161 188,197 203,146 314,188 132,113 139,190 199,209 159,190 228,189 144,167 277,209 202,112 187,197 161,258 186,125 148,172 310,250 183,200 152,165 224,189 195,197 187,37 162,149 205,122 214,188 155,186 210,176 252,75 126,137 125,222 189,297 187,214 99,199 103,162 143,183 163,198 224,225 145,178 183,200 218,181 37,175 195,34 206,150 209,141 179,98 222,213 220,241 195,150 159,183 214,125 185,138 271,133 156,187 326,125 156,130 198,194 88,17 188,142 235,216 208,145 222,157 186,294 231,147 214,230 160,156 236,173 228,218 180,140 201,214 237,174 203,137 159,96 171,197 254,200 149,167 184,131 204,71 223,170 21,191 96,160 159,180 373,60 121,153 219,180 191,115 367,300 143,183 157,181 148,123 154,211 143,175 90,192 220,162 149,152 172,203 164,232 272,160 133,205 64,183 146,146 160,181 186,200 290,118 215,183 168,196 205,67 181,200 243,177 178,226 142,217 147,142 74,334 156,167 163,107 157,158 290,139 225,183 146,155 138,30 253,143 178,196 238,103 149,205 83,213 266,201 185,220 180,144 163,199 146,139 141,142 16,321 232,80 77,150 184,210 150,199 205,139 75,100 216,159 149,178 163,193 222,59 139,214 279,158 204,197 214,90 192,291 182,237 159,159 195,231 184,116 149,182 202,234 185,207 134,140 203,189 211,194 219,203 243,206 51,130 233,133 211,146 183,208 215,144 197,137 160,157 99,192 161,156 197,192 231,155 157,187 163,144 203,126 192,204 191,125 215,152 224,200 223,59 211,176 228,157 207,186 120,158 210,237 141,176 239,188 191,262 230,183 225,131 134,170 159,106 64,209 149,161 91,105 215,128 53,303 183,141 154,196 153,150 322,178 217,177 191,198 211,44 190,126 236,181 245,193 134,145 215,152 115,122 160,154 134,174 196,198 82,120 165,253 191,141 158,176 174,237 204,236 203,206 64,105 64,250 143,270 181,201 262,133 165,197 241,195 225,125 242,158 225,130 178,134 224,175 218,313 163,125 132,146 159,43 186,104 146,69 149,120 199,131 157,134 323,243 104,198 198,291 209,178 302,90 53,24 165,208 71,255 158,134 234,120 189,143 184,196 142,166 138,83 183,103 215,201 209,121 124,130 171,114 42,101 80,261 150,185 136,155 165,185 208,195 224,269 273,142 222,194 159,162 143,151 202,309 160,193 238,178 239,127 214,310 129,258 143,152 224,189 113,184 147,249 249,139 161,171 129,186 132,157 163,155 144,226 218,137 236,289 152,181 216,212 211,199 234,193 82,170 202,109 179,129 186,110 142,100 162,199 219,241 113,154 212,135 192,106 232,206 120,185 186,141 70,153 140,118 279,216 180,105 203,153 122,217 146,22 204,156 243,136 349,281 203,145 139,195 145,181 81,313 154,168 208,140 220,179 215,191 138,150 175,127 137,192 160,196 236,138 208,185 38,158 281,221 151,140 119,109 152,152 163,182 150,208 97,142 154,188 164,148 257,289 157,164 147,130 135,110 197,195 241,202 212,109 188,135 230,159 244,131 119,108 205,147 141,130 218,237 184,212 167,200 119,162 150,145 213,162 280,107 208,190 139,155 307,290 218,160 204,60 184,217 165,203 175,143 159,331 174,134 229,130 192,147 197,150 160,129 128,151 203,269 210,137 178,145 177,229 235,219 103,144 154,198 138,24 51,36 152,173 161,242 178,206 204,202 189,50 220,141 159,110 272,160 191,208 343,113 154,156 212,210 157,198 200,222 145,313 137,257 192,127 215,317 252,206 155,149 148,174 157,166 183,136 4,183 217,129 120,204"/></g></g>
<g clip-path="url(#c30)"><g id="p30" transform="translate(49.2,739.0) scale(.5)"><path class="sat" d="M112,289 108,289 102,287 98,283 94,282 80,289 76,289 72,286 66,286 64,288 60,288 58,288 57,284 53,282 52,278 41,274 37,270 36,264 37,258 32,252 31,248 33,238 31,230 32,210 34,202 34,197 36,194 42,192 48,188 53,190 57,196 57,200 66,206 80,215 85,222 90,230 102,240 108,248 110,250 109,256 116,262 119,272 121,274 117,280 116,286 112,289Z"/><polyline class="d4" points="33,245 72,211 56,278 110,285 32,215 114,285 103,247 54,276 34,264 44,271 43,196 55,203 59,291 87,280 44,192 59,201 61,208 63,290 67,283 44,282 120,281 110,249 34,255 49,188 115,286 55,197 118,262 116,262 74,282 58,277 55,202 35,220 86,284 34,230 38,205 112,286 59,290 110,260 47,189 91,285 80,289 76,283 41,270 48,286 60,286 126,271 100,286 52,191 57,285 60,200 38,267 45,277 60,204 108,254 102,281 99,281 89,283 116,285 77,220 90,278 40,199 68,209 88,278 74,282 38,205 50,191 88,287 74,283 38,212 52,279 30,233 118,274 102,243 118,276 72,286 89,280 53,202 34,240 84,230 35,250 42,263 35,202 39,276 84,286 100,284 58,275 40,196 32,201 36,223 80,224 33,268 40,271 90,280 106,257 66,211 56,286 55,285 42,281 91,230 88,286 53,195 32,204 76,219 80,216 116,282 31,236 49,286 104,249 72,212 73,213 44,286 90,228 47,284 46,196 111,268 75,285 33,247 45,189 60,204 51,277 31,248 56,280 35,211 105,281 81,224 36,221 111,252 39,197 37,208 56,202 62,282 116,288 69,210 34,195 43,271 97,282 82,223 83,219 85,234 33,237 37,267 36,212 33,204 80,285 34,247 108,248 39,270 50,283 57,207 122,267 108,250 113,259 74,289 35,272 82,217 38,218 34,203 29,228 85,287 31,224 31,253 116,263 40,196 118,267 113,265 86,222 52,200 69,283 110,289 62,284 121,274 116,258 111,247 52,189 56,194 31,239 105,251 55,203 74,214 47,193 34,248 36,227 107,253 38,215 59,279 124,270 88,288 38,242 35,249 106,248 36,196 34,235 31,205 57,205 116,273 105,255 100,283 33,222 36,198 31,240 38,264 102,285 120,274 93,278 49,188 77,286 110,285 121,272 34,228 38,196 121,264 47,196 37,266 103,285 51,282 105,259 80,219 46,194 70,210 113,287 35,255 52,189 72,216 81,222 45,281 116,278 81,225 111,284 46,281 89,287 82,282 58,200 52,196 32,209 49,193 43,281 69,210 43,269 38,252 83,220 109,289 113,255 32,230 54,283 37,242 37,243 35,200 104,247 32,214 63,205 40,267 121,271 51,274 78,214 95,282 38,198 97,278 53,205 37,218 53,194 38,201 59,198 31,221 123,272 32,239 85,223 35,195 46,282 100,244 106,247 84,229 123,271 37,265 102,284 36,245 124,275 32,249 52,196 104,246 42,280 66,285 108,247 33,219 53,200 78,290 114,290 36,234 94,240 92,239 36,272 32,236 72,214 100,242 56,194 117,286 57,280 36,202 36,212 79,292 33,263 102,243 112,260 109,288 32,215 60,208 59,197 55,189 56,195 84,221 38,242 42,262 86,231 77,216 113,279 110,250 116,264 52,277 114,259 55,278 39,265 28,230 96,279 33,242 31,233 32,204 62,288 58,280 110,258 38,208 118,272 114,262 46,272 34,260 120,275 120,267 85,282 84,282 85,227 62,206 38,263 91,278 92,278 98,283 122,276 54,192 110,262 39,273 85,285 56,195 63,283 46,281 37,254 66,205 38,266 38,194 84,228 118,264 58,290 128,268 53,198 35,231 35,264 109,286 77,285 57,192 89,227 38,273 41,267 83,287 45,283 114,271 50,189 47,194 86,282 79,219 39,265 117,266 111,267 49,274 64,282 44,276 50,286 107,246 84,227 77,218 109,289 50,193 82,227 63,203 100,239 74,210 67,206 120,271 74,209 58,206 93,234 50,187 100,279 109,248 76,217 55,193 95,235 96,239 34,209 46,282 36,198 44,280 47,281 36,276 114,269 120,279 36,260 49,189 37,230 33,266 111,262 109,259 56,277 110,283 77,282 84,222 37,238 112,256 76,284 36,205 49,271 95,284 36,211 33,248 94,232 53,192 115,286 42,273 85,281 38,198 37,238 34,210 116,287 38,256 33,238 68,213 92,236 96,277 106,289 70,214 69,207 35,230 32,226 37,261 76,285 58,202 97,278 38,196 31,224 69,288 111,265 76,283 40,197 33,200 111,288 35,201 38,203 80,289 72,281 42,261 105,254 101,281 114,278 99,278 101,240 124,270 40,200 98,237 87,232 43,270 54,197 49,277 116,272 99,286 33,241 31,224 42,254 42,255 116,272 79,284 100,243 88,234 68,206 62,290 105,288 71,211 35,226 61,290 82,226 39,236 109,259 94,241 44,194 46,286 31,250 97,282 106,251 73,285 56,196 37,225 92,237 55,201 55,281 103,284 73,290 33,220 115,286 120,266 113,283 33,245 57,284 56,202 33,209 67,285 98,280 98,240 103,239 72,215 78,290 49,285 53,194 34,217 36,262 87,283 34,244 59,198 124,271 101,239 46,272 115,276 65,287 106,289 102,288 115,273 68,209 88,282 84,287 31,233 35,271 38,237 62,205 124,266 46,271 91,236 60,282 35,220 112,270 58,280 61,283"/><polyline class="r2" points="123,263 128,264 100,292 33,191 125,261 31,266 38,282 116,249 32,197 44,289 45,290 60,293 53,288 64,291 41,282 32,191 133,270 134,275 128,260 54,290 33,262 57,293 119,254 44,187 105,241 130,279 129,263 77,296 45,290 119,258 27,229 30,252 79,213 44,286 93,230 114,250 33,264 28,241 29,213 32,196 116,249 128,265 117,253 89,224 116,252 93,287 126,261 29,225 134,276 125,261 125,258 28,224 58,192 33,275 39,283 118,286 114,251 26,232 103,290 30,241 58,291 76,294 134,273 116,251 121,256 32,266 129,273 118,287 29,241 61,197 36,281 33,272 93,229 30,213 125,267 71,290 43,188 59,291 69,290 31,192 34,271 127,263 97,232 56,291 76,296 81,292 113,247 88,289 33,278 28,234 65,291 33,200 123,279 40,286 128,265 58,192 120,254 112,291 99,291 130,280 30,214 123,279 52,186 121,281 123,279 33,260 110,244 34,189 34,271 41,286 97,232 120,254 33,271 86,292 40,281 126,264 30,217 34,278 75,293 81,294 131,279 58,292 32,189 79,296 60,197 83,217 29,203 32,275 88,289 87,292 31,269 83,291 36,189 114,256 31,256 44,290 32,266 89,289 118,259 45,288 90,225 52,187 48,186 64,200 72,289 31,263 31,190 31,264 32,277 57,291 86,219 69,292 126,266 98,289 32,260 123,259 97,289 117,254 131,279 56,189 46,186 95,285 84,292 135,270 106,242 90,287 122,262 131,268 125,278 100,292 56,290 100,290 78,212 46,290 131,270 128,281 71,290 78,213 130,271 33,276 120,283 78,293 71,206 86,220 127,259 58,191 29,212 118,258 48,289 131,265 35,281 32,194 31,258 105,291 117,256 33,192 27,228 32,276 110,292 126,264 122,258 80,295 127,276 88,225 97,288 28,224 46,288 120,252 129,265 126,262 89,287 28,229 86,289 64,201 82,292 72,290 62,200 131,274 37,281 117,257 67,292 120,254 117,258 109,293 128,259 32,267 130,275 32,258 32,264 50,288 78,295 130,271 103,291 125,266 27,235 127,266 118,254 34,192 70,207 29,243 28,245 130,271 32,259 114,251 105,238 90,226 99,290 121,263 114,249 45,288 32,189 30,211 38,282 123,261 126,279 120,254 34,189 50,287 66,204 28,246 30,207 68,291 131,267 61,292 128,267 34,274 92,287 69,291 72,295 29,217 132,273 125,263 47,290 124,258 131,269 27,246 40,281 31,196 119,262 69,293 86,290 125,267 40,285 130,277 31,188 41,287 125,280 116,256 128,273 67,203 34,190 26,230 119,255 47,291 33,190 31,276 30,217 33,262 34,280 33,275 49,288 127,260 125,277 129,262 53,289 134,274 124,279 31,259 47,185 124,258 61,197 109,245"/><polyline class="r1" points="121,296 172,305 56,296 50,182 138,272 130,281 135,285 149,279 79,209 122,283 139,294 74,305 42,292 26,241 27,192 133,288 144,308 123,254 133,253 102,296 55,182 126,304 146,283 95,308 78,211 69,300 148,303 37,288 161,280 83,212 93,295 107,305 36,178 130,255 143,284 113,302 55,296 134,269 132,262 22,191 28,244 98,230 52,304 55,296 102,294 117,244 44,181 95,229 102,294 73,297 22,237 23,204 31,181 128,311 118,291 88,307 63,198 80,313 32,281 24,192 162,284 125,290 107,306 62,197 45,310 85,303 28,221 77,296 106,301 113,306 145,264 66,303 26,235 24,174 24,223 82,315 25,226 96,305 79,318 106,238 102,230 147,282 27,241 136,304 53,302 37,296 41,181 47,297 40,294 75,297 81,208 48,295 67,199 107,240 75,308 36,287 25,242 146,303 26,281 81,315 112,296 178,309 59,299 150,277 44,180 130,281 103,235 108,239 102,304 75,202 102,237 29,278 29,266 99,294 68,297 101,229 126,311 110,293 141,291 133,282 131,297 156,312 36,187 21,208 116,295 28,281 40,312 37,170 57,295 134,307 96,322 144,297 139,271 73,299 96,306 51,303 128,302 131,294 51,185 47,294 66,313 170,283 58,311 39,291 29,186 133,305 92,292 53,296 111,304 72,204 37,173 161,299 96,227 150,291 101,310 29,197 160,286 67,309 63,195 26,219 99,298 37,181 37,170 175,317 114,306 153,279 26,244 150,287 96,292 30,195 80,211 125,291 167,287 71,298 130,261 136,287 110,304 120,250 63,189 140,283 128,289 139,287 136,256 44,174 143,294 156,287 144,280 89,219 143,286 23,276 108,294 87,305 124,249 89,220 29,173 147,316 30,170 51,300 25,229 124,289 55,183 72,296 140,292 116,296 55,315 27,269 38,310 104,305 101,293 92,228 23,230 78,299 136,318 44,185 21,233 53,183 123,300 25,185 126,314 143,284 84,295 57,303 133,283 39,295 64,199 45,306 130,304 149,297 28,193 129,259 95,294 144,264 142,311 47,306 133,278 26,183 90,304 54,309 28,201 36,183 84,321 144,279 26,234 47,303 59,317 24,216 89,313 156,282 38,185 68,202 68,294 135,307 20,283 133,303 84,306 125,310 74,296 87,296 121,294 119,301 27,174 37,317 98,293 105,229 128,258 22,215 172,307 50,175 53,304 150,280 66,298 147,295 133,280 171,293 19,223 96,289 102,311 126,296 115,312 127,291 29,270 147,272 89,311 123,304 89,307 101,316 140,268 112,242 109,293 126,257 134,278 166,291 150,308 23,201 126,255 53,184 142,266 158,281 85,299 122,246 125,254 29,192 122,288 96,318 30,263 49,183 126,254 22,228 114,240 105,306 149,285 49,181 153,284 138,268 20,276 120,302 84,300 63,314 141,277 124,302 23,264 122,299 149,275 57,300 28,178 72,206 91,299 118,311 47,295 144,290 126,257 31,171 133,284 114,245 104,295 147,277 38,297 20,177 126,254 118,307 135,276 141,290 87,301 151,284 101,293 40,296 92,223 29,197 125,294 30,283 138,264 146,285 40,294 22,247 129,295 28,268 143,280 149,294 143,285 156,291 54,300 123,292 175,295 154,281 36,180 112,242 36,175 115,304 183,296 34,180 90,301 27,189 51,181 35,177 129,281 148,316 94,297 104,296 40,181 101,228 139,312 68,300 140,278 25,231 27,214 27,257 31,179 150,293 41,295 150,298 65,300 144,285 122,297 40,295 72,317 72,299 53,186 32,182 140,278 28,191 113,295 120,300 95,299 159,294 25,192 30,270 154,283 26,240 26,261 29,160 93,225 170,296 31,164 134,278 49,303 39,184 36,178 178,296 22,245 121,286 30,184 132,296 162,288 117,296 24,275 21,238 86,302 160,317 51,298 93,296 29,256 158,282 24,201 101,293 34,297 37,310 102,232 25,218 53,291 171,289 56,295 143,269 147,308 141,282 139,268 127,307 77,296 32,183 145,280 118,298 37,288 175,292 161,294 62,196 29,278 28,203 52,306 121,286 28,252 29,184 111,296 142,275 131,287 89,293 34,290 30,287 51,183 165,302 46,292 61,194 129,259 156,304 147,301 139,315 36,293 28,278 38,292 116,306 176,304 115,240 69,202 156,278 31,309 38,163 146,280 152,298 40,184 79,301 107,240 130,285 100,299 83,215 53,302 118,248 78,304 76,299 117,293 114,315 25,221 93,297 43,175 117,243 45,183 137,284 85,301 142,287 66,317 126,287 59,313 169,280 24,230 43,309 175,299 148,292 93,219 118,290 101,306 97,298 125,297 79,305 93,314 38,180 25,246 156,287 61,193 156,302 21,242 57,189 145,278 145,274 60,299 130,300 38,188 129,257 37,294 123,310 27,297 147,285 165,290 99,230 123,296 159,302 28,208 83,297 62,295 34,177 128,256 30,296 39,301 26,213 28,301 103,235 146,271 27,188 28,253 114,316 32,172 129,292 115,244 28,257 123,300 44,171 148,313 27,293 40,302 43,295 128,304 145,295 26,283 125,280 128,288 86,300 42,169 44,318 31,181 29,289 28,244 98,310 68,299 35,283 25,218 35,175 151,294 176,316 26,193 25,275 22,218 71,311 162,282 70,302 101,292 45,301 101,301 29,256 91,290 92,295 92,291 117,304 41,184 151,294 95,315 94,220 98,231 142,289 144,270 69,296 52,298 42,183 30,291 131,301 127,305 80,304 28,258 121,290 133,290 145,275 35,293 89,296 29,208 72,303 43,297 24,162 64,197 34,186 21,254 148,303 132,261 140,274 124,289 131,297 129,282 30,310 160,276 167,305 89,223 23,216 23,181 167,297 28,280 46,308 75,304 30,291 130,260 24,207 55,295 150,291 37,168 108,296 64,194 92,289 18,216 165,299 160,293 41,295 21,237 59,296 133,305 171,297 69,203 76,307 96,307 32,185 160,285 25,263 89,301 25,285 53,305 50,317 64,295 146,282 146,289 99,227 135,304 24,256 145,290 143,275 31,284 21,305 154,285 136,274 137,292 48,302 36,165 138,297 25,278 84,295 72,314 60,191 113,301 94,315 89,219 61,192 178,314 90,222 170,310 58,305 40,187 92,292 103,314 59,314 131,256 112,243 84,296 60,306 148,279 27,244 46,295 48,308 36,169 137,266 150,311 97,300 37,310 30,184 27,281 136,296 26,184 173,302 145,262 52,291 29,219 157,287 151,288 27,198 151,295 114,241 154,295 23,186 101,235 21,246 143,288 76,207 29,186 170,302 40,288 115,294 27,260 20,235 122,290 26,261 81,209 132,289 136,294 122,249 69,203 82,309 65,313 37,188 44,309 162,278 23,174 131,291 32,183 107,311 30,178 44,177 134,260 120,296 51,302 41,290 170,305 58,299 159,275 140,278 36,187 70,201 115,248 153,302 124,283 84,307 36,286 55,300 26,266 141,287 138,290 123,291 36,175 27,253 65,304 208,319 34,307 88,303 31,186 34,289 18,196 140,286 154,275 28,218 53,297 146,275 75,304 123,284 38,295 51,292 94,313 27,224 21,244 71,302 134,303 158,312 116,244 59,184 112,301 88,219 171,287 28,219 39,183 33,185 133,282 134,289 126,285 101,302 73,205 103,229 37,297 57,297 26,250 25,254 18,248 46,294 54,296 26,163 30,279 72,309 58,300 190,313 140,261 29,321 104,305 42,293 33,289 24,294 128,294 77,319 82,317 53,293 24,270 113,243 172,308 26,296 32,183 33,161 29,210 47,316 86,312 114,296 91,221 127,287 135,303 23,268 48,311 28,211 102,296 177,294 138,279 34,286 154,282 146,280 86,216 148,316 66,201 31,306 155,277 140,305 181,296 139,269 27,242 129,298 138,260 28,281 31,282 27,174 154,289 133,280 117,298 151,273 137,261 63,193 23,253 192,315 75,300 122,302 28,263 17,204 31,178 126,254 43,180 128,291 88,293 61,307 162,311 82,310 36,186 86,294 126,317 78,206 28,219 47,175 28,198 96,296 117,246 62,305 121,289 57,294 109,297 109,311 23,315 141,277 44,185 69,198 119,300 92,290 39,172 147,277 33,283 28,207 82,297 136,270 23,265 92,308 124,298 135,286 143,284 132,283 36,310 31,278 66,301 28,261 104,311 25,161 97,231 60,301 160,305 42,185 135,287 19,250 142,287 92,293 28,284 128,286 64,303 74,297 28,258 71,301 29,272 163,297 160,290 86,296 151,271 24,170 29,179 105,235 25,229 72,296 131,256 38,167 144,270 40,168 25,248 140,276 139,289 145,281 94,226 159,282 135,277 77,303 106,315 133,283 161,297 147,309 97,307 90,302 105,303 142,278 101,230 123,289 26,236 144,310 34,287 82,308 85,301 28,169 154,285 64,297 22,195 23,226 164,312 48,181 32,283 64,197 140,263 124,300 64,295 24,276 102,233 26,223 137,261 148,306 151,288 51,320 49,184 34,176 125,256 22,249 123,288 159,300 22,235 124,288 106,239 140,295 143,287 120,249 143,295 25,229 177,301 161,294 89,293 87,314 22,182 24,279 132,302 31,294 99,301 37,181 55,186 94,297 38,174 142,277 36,182 132,256 128,302 36,289 141,305 72,203 102,294 28,278 33,282 125,255 27,167 198,303 96,313 97,226 23,260 137,272 48,318 72,299 25,181 162,294 72,202 87,306 30,175 82,317 115,295 67,306 139,274 80,213 134,302 69,294 76,311 128,290 21,263 128,302 29,286 132,263 149,302 27,282 155,276 143,272 148,303 162,279 83,309 89,222 156,317 41,176 122,293 132,288 104,298 26,270 33,300 37,285 124,246 31,186 102,301 100,228 91,292 66,313 122,291 147,285 109,308 125,300 25,202 118,293 146,273 27,207 21,249 80,318 49,299 131,294 105,232 96,299 145,288 105,235 67,295 155,292 25,214 126,298 22,243 139,283 120,297 138,300 96,299 122,283 141,284 38,178 106,235 48,180 49,294 90,219 183,297 39,180 22,276 140,274 117,241 30,299 178,303 141,266 96,311 138,259 23,244 157,278 47,182 96,288 130,282 176,293 69,310 30,193 32,299 123,290 21,249 140,308 156,304 115,241 28,304 86,295 127,311 96,304 46,292 121,248 20,217 156,288 159,276 28,183 44,291 26,249 167,290 27,286 135,266 166,313 22,260 147,287 90,308 143,295 145,272 107,307 28,204 20,211 46,299 20,177 22,217 22,250 88,295 28,192 38,188 95,296 126,285 46,171 161,297 21,183 27,205 88,217 149,280 161,303 35,179 70,305 50,182 28,268 159,289 96,307 25,234 122,290 30,191 118,295 23,236 142,270 25,240 90,221 81,299 136,282 163,288 24,197 94,296 147,271 128,291 69,307 30,291 117,295 95,228 66,310 64,296 54,311 75,303 130,311 25,206 156,277 168,312 128,319 22,279 64,301 40,304 125,256 130,281 132,264 24,248 112,306 127,290 21,252 17,231 24,228 32,181 96,290 121,296 81,308 59,189 85,297 136,262 91,307 145,283 29,274 132,295 41,306 25,233 95,301 145,281 22,255 20,236 143,294 143,272 57,295 35,300 176,300 123,284 91,223 23,239 28,239 30,166 140,278 33,170 86,301 61,295 28,259 53,297 29,201 88,219 69,298 33,167 183,303 155,293 119,245 136,299 122,299 141,266 34,282 58,185 23,250 126,309 49,293 60,303 21,238 27,255 86,213 92,302 33,181 59,185 148,274 102,234 23,200 47,175 126,299 167,280 25,228 76,299 148,300 154,296 163,278 133,283 115,300 59,187 158,290 24,272 182,298 146,290 23,208 145,294 88,307 92,223 139,304 76,307 184,307 27,184 40,174 77,316 23,221 96,226 33,315 128,285 80,209 26,243 155,272 144,285 145,268 109,306 133,285 107,293 91,226 128,252 19,167 146,281 78,306 24,224 109,297 148,265 51,292 154,273 144,312 133,257 34,173 99,293 126,251 40,180 130,285 30,188 26,250 28,201 26,239 90,313 129,305 25,232 140,269 128,300 123,254 139,273 28,200 96,310 40,291 164,286 128,293 130,281 47,316 165,285 138,294 140,288 25,180 55,293 142,277 35,174 165,290 105,237 28,206 70,309 88,298 104,303 45,292 159,274 94,311 109,295 24,238 25,295 24,218 37,177 133,288 94,297 147,289 49,294 72,306 120,252 86,296 76,296 87,301 179,301 73,309 174,298 163,295 23,157 45,180 132,264 125,297 35,288 27,192 179,298 75,302 28,288 26,250 28,185 64,307 120,250 28,159 34,299 97,292 74,298 136,266 18,251 25,232 44,310 124,283 83,299 154,291 67,303 24,189 84,216 59,315 26,192 135,286 75,207 38,189 172,308 17,248 141,280 148,288 85,302 131,289 53,308 51,175 128,302 53,294 29,194 132,296 94,289 37,188 179,304 28,286 29,262 95,294 103,231 39,291 25,197 81,213 198,304 84,215 80,212 55,307 102,297 22,271 92,305 131,283 99,301 156,304 94,294 144,280 33,174 26,232 145,316 93,290 135,255 17,190 26,248 132,298 23,208 31,167 106,299 66,311 110,238 176,300 29,204 122,292 73,206 61,196 20,285 26,244 32,293 116,247 140,293 67,200 97,300 93,299 96,290 38,288 95,296 126,281 22,211 61,190 37,288 178,297 179,293 51,298 27,191 144,292 138,291 159,293 108,304 148,289 26,203 96,291 24,226 39,288 39,182 21,242 18,221 83,215 103,309 135,269 100,229 27,270 23,187 128,283 139,300 20,248 30,180 80,314 47,311 22,170 141,267 36,303 31,174 116,248 20,239 154,271 29,157 82,312 44,176 162,288 118,301 28,255 133,262 93,228 26,226 150,297 41,296 128,289 94,226 160,306 117,243 115,295 74,315 94,300 138,260 30,264 73,308 157,298 137,260 44,186 139,259 47,178 44,298 91,290 33,175 180,302 149,302 31,177 34,184 76,300 150,282 42,293 152,270 65,197 134,300 180,297 146,278 47,308 28,212 77,210 67,298 28,205 117,245 82,296 47,294 23,274 157,278 26,248 40,296 152,290 84,311 40,307 25,249 108,236 152,273 53,305 91,308 155,280 137,280 103,236 114,301 26,260 135,293 36,288 23,194 47,183 104,302 36,298 117,247 151,287 138,285 75,305 156,272 91,305 74,301 27,200 150,294 36,173 144,274 140,274 92,303 20,220 26,280 133,260 147,293 120,248 92,323 133,298 161,303 143,288 53,315 131,304 62,295 141,277 36,179 95,299 113,300 23,249 24,223 129,283 134,285 111,300 101,293 120,249 116,298 114,244 54,306 33,298 130,260 132,265 55,302 128,253 163,285 173,313 136,271 111,297 142,271 101,297 109,298 34,178 138,275 139,291 28,223 31,279 24,246 146,287 21,208 138,271 96,289 137,258 23,256 147,273 26,262 114,294 106,305 101,233 54,185 37,295 41,166 39,183 172,290 27,200 26,200 28,259 151,282 59,301 28,262 36,289 33,181 26,175 145,283 132,283 34,285 99,230 140,258 131,295 57,181 42,176 27,210 25,198 134,300 29,277 30,273 130,252 138,277 54,300 176,302 21,231 130,253 108,298 52,321 76,309 36,185 86,303 161,280 95,302 80,208 167,311 109,238 161,302 63,298 76,321 86,306 82,295 90,296 152,272 114,297 43,299 27,269 170,283 146,286 22,233 134,302 138,296 106,309 72,296 74,206 35,282 96,300 87,217 154,276 46,291 107,237 47,297 111,307 94,297 49,295 154,302 139,294 27,264 157,281 29,297 78,300 44,302 143,289 19,178 75,312 47,292 136,289 107,238 141,288 188,297 26,244 50,182 136,302 87,220 34,183 75,300 138,271 101,295 28,180 134,296 43,180 154,282 138,299 101,233 130,283 128,254 165,296 120,296 134,265 172,306 37,290 137,273 122,316 87,216 166,301 167,298 85,218 44,312 25,213 135,310 32,283 138,276 155,302 28,262 132,299 142,270 30,184 31,277 50,296 92,305 138,266 54,298 54,314 90,298 116,304 17,216 158,279 27,259 121,308 23,268 173,294 119,300 39,188 159,316 133,267 137,304 93,227 42,291 130,251 24,202 22,256 151,299 26,265 80,297 71,203 89,216 109,242 69,315 43,294 28,210 61,299 143,283 157,274 147,305 60,315 100,229 113,294 142,273 124,256 94,304 108,310 77,209 43,167 110,241 106,240 115,247 141,279 59,189 110,300 98,299 68,307 70,297 31,178 27,257 26,292 134,269 151,291 73,207 129,257 49,180 105,296 138,288 51,292 86,305 80,209 137,273 179,295 24,239 39,295 39,186 133,269 171,313 124,256 61,193 23,204 28,186 97,315 129,287 98,303 161,280 93,301 47,308 21,216 81,306 141,278 46,300 92,296 96,316 33,177 44,299 142,284 139,285 55,293 28,269 149,283 125,256 187,311 37,171 36,179 55,300 33,308 70,312 90,294 50,309"/></g></g>
<g clip-path="url(#c31)"><use href="#p11" transform="translate(0.0,489.1)"/></g>
<g clip-path="url(#c32)"><g id="p32" transform="translate(417.6,739.0) scale(.5)"><path class="sat" d="M22,284 20,283 18,280 17,268 16,252 18,210 20,203 22,199 24,198 31,204 36,207 40,210 40,212 38,218 39,222 46,232 58,235 60,238 60,242 58,243 54,243 53,244 53,246 54,248 58,250 64,246 68,246 70,248 72,252 62,254 58,258 54,260 53,262 54,266 54,272 52,272 48,272 44,269 40,270 38,274 40,278 37,282 34,283 30,281 22,284ZM82,272 80,272 77,272 72,268 76,262 80,263 81,262 80,259 73,254 74,252 76,248 80,245 88,246 90,250 89,256 89,260 84,265 82,272ZM64,268 62,266 62,266 65,266 64,268ZM192,276 188,275 188,274 188,272 192,271 193,272 193,274 192,276Z"/><polyline class="d4" points="83,244 160,261 142,267 21,267 46,264 133,261 78,244 59,230 131,263 27,279 66,245 67,247 20,280 35,281 185,276 55,240 44,213 16,246 147,259 50,237 65,250 83,272 53,236 19,252 87,247 213,281 24,275 52,251 18,204 20,252 217,280 41,211 69,249 18,260 89,250 83,267 54,257 127,258 64,265 49,272 68,248 72,252 35,205 79,259 17,222 60,255 64,253 121,253 51,250 131,262 23,240 130,255 37,211 113,263 66,262 65,261 35,216 67,227 25,200 69,245 22,245 56,223 186,275 21,279 40,231 130,280 110,258 90,249 34,216 28,200 44,237 26,202 154,265 20,202 36,281 88,244 18,265 55,269 34,208 83,271 21,253 85,269 83,245 21,255 79,274 18,248 54,275 21,212 52,226 85,252 85,265 45,238 21,263 20,239 19,240 35,224 60,271 39,280 33,205 59,268 63,225 217,281 42,232 77,267 19,266 28,205 19,237 18,208 39,287 131,280 37,267 78,273 34,206 60,267 76,265 63,247 28,210 62,253 127,254 76,271 75,246 22,238 155,264 35,225 56,254 72,231 19,227 51,259 21,223 79,255 34,224 21,261 21,243 19,257 19,243 121,246 183,275 86,250 136,253 22,242 21,217 65,223 23,236 60,266 57,249 138,265 78,245 53,266 152,262 168,269 43,224 47,232 22,240 38,212 19,243 49,237 17,209 40,210 126,250 62,235 190,273 23,288 22,205 70,267 36,269 18,263 193,272 22,231 41,223 81,269 58,231 41,279 178,272 19,259 73,263 62,264 43,210 38,266 78,256 78,270 36,205 59,225 28,207 146,257 81,254 87,260 91,244 137,254 21,209 48,270 77,272 19,238 21,235 19,231 23,231 41,221 60,244 45,231 53,269 144,256 21,237 72,248 76,259 80,269 168,275 21,250 21,231 19,208 39,222 41,219 52,226 69,270 18,251 84,255 59,265 47,262 187,279 37,270 165,268 41,266 54,274 53,263 40,225 31,277 66,227 69,264 73,256 51,265 158,268 20,258 36,285 48,263 81,275 47,265 138,261 19,285 59,252 145,268 35,279 59,260 21,277 144,260 24,197 77,270 51,257 19,270 62,269 71,244 50,252 164,262 217,280 45,214 86,273 73,268 107,259 147,255 18,221 80,261 57,265 83,256 30,285 43,213 22,230 61,264 64,246 86,275 60,245 43,228 53,230 81,258 20,246 17,222 73,249 48,245 59,254 20,269 39,287 22,226 130,266 49,224 71,270 53,265 37,211 39,268 157,261 50,227 21,281 125,251 44,265 144,265 41,232 128,251 40,285 30,198 42,283 106,260 50,231 20,247 54,233 20,241 24,204 64,249 31,211 34,279 149,256 82,242 184,273 23,203 64,223 45,273 123,248 17,265 38,269 123,249 20,266 121,248 28,199 71,266 216,279 132,264 86,248 45,276 85,269 49,249 131,260 22,277 37,281 68,265 38,229 66,246 63,250 121,250 45,215 64,225 109,259 132,275 213,281 20,237 21,238 41,274 156,264 18,226 19,265 106,253 83,250 18,224 62,236 80,254 26,195 46,232 52,241 168,272 100,253 56,248 88,245 76,248 192,275 153,264 188,275 133,279 56,267 86,252 134,251 19,280 31,276 42,212 20,233 52,256 82,246 22,284 134,259 40,231 130,279 152,263 131,266 60,238 58,238 72,272 83,260 145,260 61,262 21,232 54,244 90,263 29,276 81,245 81,252 17,256 145,266 23,269 26,278 52,270 49,261 25,197 135,259 49,272 49,251 142,260 20,216 76,256 141,264 21,261 39,266 62,246 88,246 84,252 47,270 73,258 159,266 48,247 93,246 54,249 172,269 61,233 69,244 28,283 175,273 20,241 38,228 157,266 18,260 54,228 82,248 18,284 50,269 87,246 84,268 60,270 50,265 20,234 52,240 194,272 19,213 72,257 134,278 47,227 213,283 76,268 17,265 132,259 79,267 60,230 27,202 59,249 22,241 196,272 52,254 36,211 24,278 56,271 20,283 137,259 32,204 43,212 39,282 170,272 102,252 34,276 22,208 89,248 150,256 60,242 39,275 57,251 21,272 43,276 51,239 51,252 57,258 22,219 163,269 79,245 68,268 23,210 37,208 183,274 21,232 69,249 66,266 21,212 48,237 34,269 58,248 83,274 21,273 67,268 214,277 17,244 20,265 55,251 129,255 121,250 37,278 87,253 23,239 78,275 26,202 84,250 20,262 140,264 45,229 52,231 19,216 186,277 186,275 133,266 127,259 81,250 157,265 128,257 21,243 160,267 84,249 178,272 27,203 21,242 85,252 21,222 19,209 21,237 83,271 61,235 74,232 30,202 19,226 54,254 183,274 166,264 89,250 192,272 62,266 25,199 37,281 49,264 155,263 56,248 40,209 132,278 38,219 38,275 85,259 212,277 21,225 185,273 49,264 39,213 84,255 27,277 195,272 68,264 82,245 85,271 57,251 68,251 61,254 63,263 191,276 132,261 41,220 145,266 163,264 81,275 74,273 169,276 50,238 18,256 107,261 87,266 47,267 19,240 38,270 89,261 19,214 26,276 145,256 21,212 66,269 179,276 89,251 27,202 82,277 53,238 56,227 136,265 19,230 138,262 132,251 110,263 20,247 34,220 77,267 189,273 25,197 72,250 64,252 50,246 20,252 79,243 31,285 130,281 18,258 21,268 23,222 61,249 18,256 41,217 67,223 129,279 18,252 68,255 63,269 183,272 21,211 44,267 59,260 47,232 21,238 49,227 59,264 57,254 21,213 72,268 91,250 51,235 56,250 51,270 20,245 32,204 24,279 123,253 47,270 20,269 110,261 126,250 163,262 23,213 27,201 106,258 21,244 108,263 35,208 61,229 64,253 23,202 20,233 24,197 67,244 42,284 20,218 49,269 42,264 46,269 23,205 21,254 66,246 144,266 66,254 76,259 43,270 105,258 28,205 35,282 193,272 53,236 35,214 70,266 104,256 142,266 53,256 101,252 134,282 20,225 61,266 21,250 47,267 70,249 84,254 191,269 39,277 65,250 57,269 62,255 19,247 34,272 55,254 43,266 53,275 45,266 55,254 49,246 50,267 51,273 42,209 79,270 45,233 48,232 41,266 131,251 64,257 57,237 82,262 58,253 18,255 66,256 38,211 18,262 21,225 60,238 90,262 64,260 87,265 83,247 23,280 18,207 22,214 140,265 23,275 193,275 51,237 35,272 21,242 22,270 83,255 60,234 60,231 33,219 22,281 39,279 81,243 142,262 148,263 215,281 22,231 43,227 21,213 89,264 82,255 129,259 66,225 196,270 26,278 74,263 51,266 123,252 48,234 58,267 17,268 83,268 41,220 80,262 74,269 169,276 65,240 20,277 190,278 18,213 84,251 33,282 31,209 24,205 85,271 57,267 136,268 28,200 29,206 36,268 54,252 40,209 22,217 39,231 21,260 132,277 27,284 16,233 79,261 63,273 32,219 17,222 127,248 57,228 38,206 130,265 168,268 77,257 19,232 29,203 137,267 21,264 47,237 19,275 18,208 38,229 53,263 56,241 27,200 79,273 125,253 20,215 56,235 64,264 46,234 60,251 126,255 52,238 60,257 31,277 44,274 41,266 56,263 44,271 42,230 21,265 40,231 165,265 64,266 51,224 75,253 62,251"/><polyline class="r2" points="120,269 178,268 160,272 108,246 70,237 185,270 218,277 109,283 29,195 91,275 249,283 146,274 16,256 196,281 23,194 104,244 116,281 113,282 79,228 210,281 142,280 208,277 115,272 156,277 49,214 180,278 203,281 97,250 93,256 83,239 55,215 206,265 112,268 125,244 189,283 207,284 137,281 121,260 188,260 166,260 186,269 209,278 179,267 29,192 126,247 169,254 31,194 206,277 117,246 115,271 114,264 87,268 123,273 140,249 168,250 272,286 114,252 117,285 61,221 95,264 75,228 74,239 47,282 116,278 97,269 164,259 167,265 136,277 121,272 44,283 79,229 160,272 67,240 97,239 105,279 163,253 82,233 128,263 103,272 116,263 164,268 148,253 193,282 32,197 26,288 117,272 113,286 83,281 120,257 113,270 29,290 16,261 142,274 147,269 90,241 115,281 93,241 89,268 98,246 172,256 127,281 43,285 46,287 163,254 163,273 176,276 112,237 176,279 162,280 44,204 44,207 176,268 178,270 87,273 164,271 164,254 120,263 22,194 215,276 104,263 200,289 154,280 110,250 93,273 142,274 59,215 48,210 135,273 154,256 169,276 150,253 173,269 86,278 133,248 174,265 34,200 119,278 206,276 123,244 158,278 82,227 118,235 28,196 96,274 125,271 113,284 71,235 86,242 125,266 23,189 107,271 110,278 128,275 127,276 109,256 62,219 85,237 196,264 115,268 120,248 203,263 45,285 202,291 122,269 54,278 97,270 176,281 117,237 45,217 194,278 90,275 134,286 150,276 134,271 116,266 71,273 169,281 128,271 251,280 145,254 67,221 28,291 92,272 272,286 156,270 32,196 162,285 157,273 121,254 112,268 174,281 79,233 110,281 145,255 171,253 40,204 199,268 101,260 103,260 169,255 117,273 119,277 21,191 148,274 193,266 129,280 53,213 97,261 161,276 58,274 218,285 153,279 198,265 45,278 47,286 281,283 43,203 171,258 118,236 66,241 105,249 101,254 116,272 89,243 89,267 130,282 71,224 79,231 103,275 71,221 140,249 115,265 44,205 58,221 120,268 139,258 151,266 157,279 104,247 158,281 48,288 207,264 169,257 148,253 141,278 199,265 197,275 215,285 23,291 144,253 119,258 175,282 280,285 146,249 115,278 154,250 104,250 152,255 201,278 110,276 199,282 30,193 17,206 16,250 116,279 18,284 221,280 89,270 197,288 86,280 22,192 108,249 139,246 108,264 116,285 37,201 158,279 102,243 111,280 114,267 164,252 189,280 199,266 137,282 98,252 96,260 116,240 170,251 84,241 106,270 93,275 67,273 50,214 160,283 94,235 50,216 66,276 45,216 180,281 68,222 103,274 139,281 161,277 81,277 80,241 166,266 138,271 139,250 89,239 107,281 101,270 96,276 275,285 163,284 79,235 62,231 74,242 26,286 83,232 115,282 34,200 110,245 169,279 98,276 64,257 34,202 69,227 142,256 114,289 196,286 152,253 123,273 62,220 161,259 272,285 103,250 148,274 30,194 114,280 149,266 129,268 106,279 135,272 22,193 96,254 164,254 103,247 108,254 201,284 93,255 163,274 163,278 217,276 195,281 65,221 68,258 197,270 189,266 117,258 173,274 188,284 99,275 141,282 16,224 50,279 201,271 27,194 140,281 110,278 46,219 117,282 109,250 68,218 154,275 47,287 20,193 71,229 114,263 111,266 153,259 120,243 46,285 156,253 119,272 132,248 155,258 94,263 85,237 90,238 130,273 117,266 90,240 124,270 141,260 194,284 185,267 47,209 73,229 93,260 181,268 140,273 110,266 176,282 108,272 51,223 163,257 82,233 71,274 203,263 21,292 61,278 150,253 177,277 117,279 34,203 187,267 26,193 171,266 199,287 149,252 87,238 158,277 29,288 20,196 147,272 96,237 80,240 102,253 47,289 60,215 60,216 80,241 87,280 158,271 40,290 274,287 212,284 153,259 139,280 44,203 57,222 85,234 93,239 104,249 42,206 42,205 149,272 121,239 139,253 218,283 164,273 119,247 137,248 99,265 67,240 141,250 144,251 168,256 210,282 194,282 69,220 199,270 15,271 49,278 119,274 125,262 63,215 96,259 205,281 34,204 112,256 199,285 89,239 166,263 251,283 105,276 118,253 41,206 163,278 166,252 81,234 169,261 70,221 201,276 97,243 64,275 152,254 59,216 72,244 175,283 202,290 25,288 218,285 199,262 108,280 95,254 113,273 73,275 198,268 188,262 173,285 98,273 153,277 101,255 253,282 123,279 203,287 130,281 118,275 134,275 115,237 80,234 218,272 68,259 139,246 114,260 98,248 109,256 203,278 84,229 58,276 82,228 84,238 154,282 98,263 163,258 61,223 190,265 65,238 276,285 22,190 119,247 137,276 69,239 18,201 27,195 102,266 114,289 153,277 87,281 195,285 142,274 215,274 84,235 61,222 84,226 195,285 128,247 275,286 52,220 46,211 77,276 198,284 199,266 157,280 127,282 117,277 171,265 95,234 118,258 127,267 53,277 76,276 203,267 53,220 219,277 191,262 190,263 167,260 70,224 91,238 86,236 61,272 110,279 94,262 89,276 171,253 32,286 58,222 105,249 76,226 124,266 197,282 206,263 164,269 211,286 18,287 79,238 171,268 117,239 119,268 169,266 136,273 53,219 59,215 219,281 216,284 64,229 170,259 97,253 102,272 19,201 68,221 90,272 129,273 104,254 16,274 51,219 143,273 114,268 209,266 135,271 157,273 92,274 120,257 187,260 150,259 121,254 53,217 112,265 64,236 142,254 59,277 120,276 192,267 58,279 57,277 84,234 201,269 107,275 169,252 221,281 197,278 47,222 120,263 172,269 223,281 123,266 17,272 127,269 122,244 251,284 125,268 164,285 106,275 250,282 23,288 193,265 202,280 114,235 102,259 45,220 118,276 71,231 208,279 201,264 139,276 193,279 144,250 44,208 48,280 157,258 47,208 219,284 137,269 36,286 129,270 198,271 86,276 165,251 162,258 24,191 154,250 110,275 101,254 189,263 163,278 199,285 106,248 101,269 179,280 33,195 91,273 174,276 95,242 95,240 168,281 181,281 155,268 173,265 45,286 47,279 93,263 154,272 58,221 137,284 145,272 46,212 87,281 97,252 82,233 57,213 221,286 126,262 88,279 117,266 69,259 16,265 199,273 166,254 203,281 45,220 100,254 103,261 77,231 171,277 168,278 113,282 47,283 44,280 108,274 62,221 85,279 116,261 50,221 70,225 121,261 137,272 26,291 109,278 65,260 66,231 215,285 204,264 53,223 55,278 23,293 67,241 170,282 101,249 111,251 46,213 181,270 198,270 171,259 76,236 41,291 172,259 93,233 33,202 102,261 65,236 95,249 151,267 93,263 58,273 164,270 76,237 199,274 167,277 74,228 102,247 159,260 94,261 167,259 66,230 139,281 45,288 41,290 211,274 53,222 69,225 33,287 64,259 113,285 96,253 165,283 197,279 198,276 119,266 125,280 218,284 71,242 72,272 95,247 120,242 118,274 158,271 23,189 99,274 49,212 104,249 198,285 151,265 50,279 93,253 162,282 85,280 104,268 132,286 58,274 208,279 67,217 152,267 113,239 104,245 67,273 129,267 43,287 52,276 99,255 119,269 167,263 27,290 162,284 69,225 44,217 85,278 118,281 95,263 113,272 108,280 95,236 172,269 117,245 165,276 189,284 48,277 116,277 76,230 157,259 208,281 167,249 72,238 125,265 99,264 117,250 80,233 55,216 202,277 102,249 143,246 217,275 115,280 33,199 78,230 162,271 74,226 25,292 45,207 44,285 29,289 220,279 139,283 154,252 71,224 98,251 101,257 108,277 118,259 32,201 121,267 114,237 153,273 117,253 147,251 111,253 114,270 146,251 120,271 110,266 180,270 34,286 27,195 150,260 41,206 48,221 155,280 140,255 84,233 95,255 193,263 103,267 71,273 110,279 206,277 98,263 206,282 207,276 94,250 209,283 156,276 69,227 186,268 100,246 121,271 113,262 105,269 150,253 91,265 70,228 176,268 46,211 17,276 91,243 96,240 70,232 49,213 104,272 119,266 102,259 69,225 169,258 77,229 117,242 167,264 67,275 49,217 114,275 49,213 148,273 132,285 186,269 195,278 107,269 153,279 150,259 130,271 95,234 143,274 162,282 61,223 177,270 200,282 170,265 72,228 171,258 203,263 126,245 59,219 198,276 119,278 17,206 156,278 99,273 131,284 127,283 209,285 42,205 142,258 122,278 123,266 52,214 158,259 206,279 115,244 129,276 65,273 111,287 77,239 93,243 139,281 115,274 201,265 48,278 165,275 88,238 83,231 77,275 137,280 27,190 33,199 142,255 80,232 172,256 77,238 138,280 224,282 119,244 176,277 19,287 196,267 201,263 27,292 174,269 168,253 75,230 114,255 209,277 107,274 119,242 52,224 164,274 67,276 109,278 111,256 219,275 203,280 198,289 59,220 80,236 110,264 23,190 131,251 117,246 200,291 85,278 168,249 209,277 108,263 119,266 41,290 30,288 172,255 150,261 129,269 104,278 221,283 117,287 203,282 95,248 26,288 135,247 140,259 99,271 139,249 214,288 117,274 101,245 65,237 142,281 133,271 97,276 174,283 101,254 90,238 20,195 103,267 196,287 108,264 101,264 109,254 198,273 47,205 158,274 115,238 101,256 93,254 171,285 203,266 67,221 47,212 247,281 169,260 151,277 106,248 139,270 169,258 81,279 154,255 80,235 220,282 198,288 40,291 97,240 102,262 142,281 143,251 116,241 35,288 209,282 114,282 15,235 271,284 116,270 102,254 71,226 135,269 110,249 179,280 155,278 122,262 249,282 167,282 102,266 223,280 58,276 115,269 164,273 82,230 20,288 119,270 76,232 39,288 112,286 94,258 120,261 59,216 165,281 185,267 130,271 164,274 65,232 86,239 24,191 46,218 88,274 60,276 167,282 93,274 197,285 218,287 109,268 198,263 158,280 159,282 97,249 107,276 147,270 95,265 168,254 211,284 132,250 116,237 120,276 136,273 173,264 125,270 24,189 164,280 67,273 71,220 159,281 73,241 51,223 19,287 166,279 117,256 153,249 173,267 21,192 94,260 155,257 202,289 99,276 67,259 57,216 26,287 200,265 80,237 114,262 215,277 218,275 66,275 102,267 116,274 127,270 60,222 170,279 140,260 113,276 203,267 201,279 77,240 15,243 61,220 112,269 89,265 75,241 81,232 170,262 42,208 173,262 143,279 98,262 94,231 157,274 156,283 108,277 203,277 206,276 113,258 102,264 111,257 180,279 93,275 87,243 102,261 198,283 169,279 104,278 62,273 159,270 116,236 199,283 16,233 208,275 72,229 156,275 98,269 140,278 98,249 203,278 134,282 205,265 182,281 22,289 23,291 168,260 98,270 213,277 99,246 151,253 100,272 137,276 87,279 26,290 72,239 45,218 197,282 104,250 102,268 47,277 172,262 77,237 203,274 147,274 80,234 114,287 139,247 49,215 95,233 164,257 180,277 43,204 100,265 75,236 91,263 92,235 50,212 68,234 46,207 144,274 69,240 30,287 94,263 216,284 92,253 197,265 144,275 171,263 185,281 28,287 180,279 108,275 44,210 176,281 19,196 119,241 121,261 156,275 101,262 215,276 98,247 223,284 166,259 41,207 196,267 117,279 97,277 71,229 112,264 277,283 202,289 125,244 117,270 68,234 118,259 94,263 121,241 78,241 119,250 186,265 70,277 75,235 78,238 70,235 214,283 111,287 64,275 66,239 274,285 218,284 163,260 177,283 146,270 113,290 64,222 128,276 183,269 154,276 126,271 191,267 97,251 120,256 177,266 62,223 201,282 195,277 50,210 149,269 277,283 200,263 44,222 122,243 209,266 217,276 160,278 46,216 130,274 108,265 40,288 167,264 121,261 113,284 140,248 158,271 162,283 39,205 152,266 169,253 96,249 81,278 128,247 175,283 201,292 170,260 126,245 109,280 147,268 208,285 119,239 179,280 174,276 63,230 167,284 197,277 200,273 277,283 183,279 134,272 161,260 124,269 95,242 191,266 85,279 219,273 78,230 209,264 102,279 44,285 20,291 27,291 139,277 152,259 72,236 192,283 98,244"/><polyline class="r1" points="195,303 337,294 256,291 225,258 225,307 157,245 280,272 368,311 149,281 231,279 61,278 160,244 374,303 267,295 94,295 264,273 124,292 188,256 179,286 131,233 151,282 65,199 158,310 152,284 241,289 95,288 234,312 228,273 64,284 117,230 351,286 268,283 187,284 15,228 314,307 74,212 17,290 373,297 208,293 236,270 50,310 260,313 152,245 183,258 163,292 229,291 337,291 187,310 32,297 44,304 193,314 196,294 282,282 218,304 160,242 142,286 30,296 125,310 257,310 84,288 75,226 172,243 228,261 144,248 121,229 282,285 76,207 332,285 104,292 206,308 119,236 21,150 126,295 250,265 211,253 222,305 249,293 28,305 53,206 288,292 209,307 207,306 364,285 103,293 183,262 114,243 233,313 240,263 21,150 285,297 343,312 102,224 28,293 353,303 109,308 338,288 280,294 100,236 153,244 75,279 123,236 128,226 30,173 302,284 121,295 173,296 194,250 145,283 163,291 155,295 77,211 192,254 223,317 255,310 249,273 56,209 299,289 289,306 15,292 30,190 248,313 229,271 334,296 66,296 80,312 102,227 24,158 17,300 376,299 230,261 280,268 250,290 256,284 119,234 255,263 312,292 336,293 18,195 38,180 60,281 324,273 33,180 130,307 55,211 147,291 26,184 282,282 84,210 101,240 303,278 298,295 366,300 157,237 114,290 116,292 317,291 131,245 108,291 160,244 376,301 14,306 307,297 116,295 256,292 31,301 115,250 152,297 122,307 50,287 101,232 47,204 93,283 151,284 251,303 163,246 201,296 146,284 233,312 30,173 245,271 107,287 104,227 115,246 283,284 169,291 158,304 175,292 63,285 323,272 226,293 156,243 207,294 201,252 297,281 234,285 189,293 83,223 125,295 310,280 205,290 78,201 156,254 268,278 109,233 316,284 108,291 299,276 333,290 79,284 56,284 229,284 34,195 210,250 264,308 256,272 183,300 18,174 19,164 27,183 179,296 216,256 166,306 28,293 194,257 239,310 177,257 120,289 80,288 242,268 233,295 240,275 269,272 236,263 225,299 267,285 100,244 143,245 270,287 74,309 24,302 57,313 347,285 143,246 234,273 223,270 63,208 48,281 26,166 27,179 86,231 102,297 54,299 253,293 78,208 364,281 238,291 302,271 110,242 363,289 97,306 298,289 70,294 60,186 94,215 248,272 321,303 174,312 222,301 242,264 90,218 201,315 228,289 36,166 91,289 51,180 346,278 251,277 158,292 68,212 70,286 100,235 179,297 32,164 144,283 54,190 129,288 321,281 192,291 250,279 186,301 113,250 97,286 233,287 162,286 311,287 79,287 31,181 213,257 224,293 336,313 183,263 148,291 310,295 25,170 204,273 31,189 353,295 66,292 363,302 42,191 162,291 25,166 263,275 313,287 178,250 267,302 196,253 133,288 89,210 351,283 140,239 203,261 70,202 239,268 65,215 347,299 281,277 231,288 269,294 195,257 173,260 307,289 227,312 79,285 232,261 213,269 39,172 17,161 282,270 29,300 188,321 178,287 48,205 109,309 300,285 334,290 92,220 127,229 127,302 44,198 292,293 277,290 166,294 63,208 36,305 111,302 146,277 321,301 61,211 27,139 256,265 109,287 103,296 227,297 88,223 145,241 72,279 320,309 16,116 92,302 313,309 225,301 142,294 68,210 260,283 110,302 113,300 354,287 335,300 93,298 324,274 129,246 282,285 29,297 78,306 58,296 24,162 90,279 16,286 27,161 67,310 27,164 73,278 269,296 53,289 329,272 240,296 266,269 103,242 207,320 277,273 92,282 295,293 122,310 358,295 238,301 366,291 62,202 198,309 51,288 176,262 50,319 234,284 27,177 263,295 317,281 17,304 296,276 134,292 267,303 95,291 137,313 280,297 51,189 69,211 212,264 115,231 192,258 189,257 48,295 178,286 197,253 23,184 181,256 335,303 368,290 199,292 199,250 29,174 99,279 337,282 202,260 77,203 29,313 368,298 22,318 133,235 194,305 92,226 298,275 131,314 146,308 344,289 72,208 230,270 288,272 40,196 147,241 115,291 197,262 91,227 82,226 328,285 309,276 82,297 77,227 47,200 21,324 85,293 107,227 327,274 225,318 185,298 73,223 235,266 310,270 24,178 29,146 48,296 39,297 122,232 219,297 171,246 160,287 368,291 78,300 360,294 179,251 115,291 244,306 157,285 333,281 24,174 139,230 19,142 336,278 176,286 17,288 293,275 92,208 113,229 314,293 195,301 342,293 61,213 115,222 51,207 114,303 299,281 74,212 190,288 78,299 162,291 92,305 265,293 354,278 234,292 28,162 296,304 40,193 145,298 180,283 147,297 232,285 54,290 274,296 93,287 192,296 319,299 314,300 363,310 288,276 21,184 198,248 139,300 84,215 146,297 103,306 53,288 16,282 210,299 312,295 126,288 147,275 46,197 162,305 36,195 193,256 77,288 58,193 208,253 164,300 64,308 323,274 29,300 210,260 262,272 368,286 332,281 58,192 104,215 266,292 205,256 250,260 83,206 267,262 67,303 244,286 130,237 128,236 312,305 293,273 233,287 86,238 283,270 36,177 185,257 21,164 247,264 355,304 216,270 172,251 130,246 341,280 37,304 355,309 299,290 136,230 233,269 225,279 163,299 267,274 130,292 332,273 343,278 102,304 166,248 204,307 149,244 97,287 30,165 337,279 255,279 161,241 201,294 90,311 16,283 119,231 187,257 343,282 97,224 227,283 350,288 363,296 369,283 370,292 216,295 214,294 85,226 258,309 42,172 23,177 274,289 292,305 258,323 276,262 252,283 74,218 37,312 346,310 173,315 34,300 224,295 114,299 16,290 351,277 132,247 99,239 94,290 167,289 71,210 303,316 52,202 100,241 251,285 52,191 214,253 191,294 184,298 314,273 179,287 24,180 173,289 260,263 185,253 270,284 28,185 26,308 297,301 83,308 146,247 344,285 319,298 95,279 51,313 282,287 250,257 242,302 262,277 79,225 82,312 64,192 219,272 139,304 259,276 57,298 129,244 110,297 227,307 218,266 249,290 150,284 76,223 246,291 60,281 74,281 273,298 340,305 45,198 268,287 374,303 309,300 271,266 104,239 186,254 91,232 213,295 273,268 30,293 91,234 369,284 221,253 76,288 43,306 211,288 89,234 234,276 79,298 189,288 213,292 97,308 184,258 255,261 106,296 181,299 150,313 17,153 269,271 36,296 231,273 273,306 106,232 26,188 168,295 142,233 87,285 310,286 309,282 360,304 80,203 325,323 254,312 183,284 376,314 177,248 74,299 155,287 228,267 329,279 101,239 238,286 41,184 333,282 227,282 241,270 141,242 206,289 235,268 50,293 86,235 71,293 93,231 183,257 21,182 272,274 98,296 320,291 148,292 96,229 123,234 374,302 275,279 283,315 238,292 43,320 184,288 292,303 69,218 56,211 347,299 229,319 311,287 271,281 206,285 329,299 86,283 102,286 29,181 239,258 111,313 140,299 273,300 37,304 218,264 258,302 40,315 306,278 248,274 111,243 161,248 52,296 18,319 243,276 286,273 247,274 196,254 290,295 100,315 321,288 288,271 329,278 222,286 185,264 348,274 189,303 148,304 144,315 140,305 61,185 95,222 19,139 324,299 94,216 303,291 17,189 256,278 344,290 252,265 15,214 18,180 209,301 156,286 204,298 177,250 297,274 297,307 128,232 80,219 366,288 138,302 345,293 21,294 15,232 101,232 233,284 112,240 212,259 187,245 286,273 258,299 148,294 252,286 219,271 104,298 207,269 293,282 217,302 58,199 306,279 54,287 167,244 271,283 47,292 35,193 55,284 357,319 147,281 240,312 139,289 180,260 225,286 215,290 317,282 173,290 32,168 241,268 333,301 50,198 28,185 33,191 330,277 192,286 90,270 60,309 292,272 220,265 92,234 252,267 171,294 293,276 153,311 94,280 298,288 351,306 114,242 180,304 90,232 220,295 150,272 253,272 168,298 88,213 189,289 268,292 262,309 70,301 257,296 340,294 303,276 214,255 45,184 339,287 177,257 100,214 22,171 174,287 120,229 143,290 328,280 18,189 178,254 146,233 26,293 321,300 153,289 164,251 306,270 35,302 129,310 226,268 246,304 217,301 59,301 186,257 141,284 50,204 54,285 51,206 111,296 301,268 225,295 178,308 265,277 367,306 57,288 55,212 267,279 133,228 224,287 320,287 106,292 46,292 130,314 245,274 85,221 237,282 85,222 108,221 47,189 213,270 157,290 215,251 78,215 27,293 239,304 286,304 238,287 80,224 362,295 37,180 229,278 164,245 289,309 30,184 335,313 322,293 26,148 173,287 177,300 330,298 66,281 31,168 32,185 20,138 97,289 241,306 106,285 94,291 15,213 26,178 180,301 74,279 249,295 196,291 209,291 155,245 272,296 88,228 247,287 96,286 52,184 45,298 26,154 185,289 284,304 15,246 38,309 25,182 17,173 193,259 198,308 139,243 75,220 170,290 63,284 137,288 106,233 44,309 47,187 307,309 261,290 263,269 148,304 292,306 60,285 299,292 356,288 272,265 260,290 351,300 195,292 137,236 37,187 41,173 251,296 164,243 111,301 361,295 268,297 216,254 256,298 241,286 286,268 70,215 351,285 41,168 69,308 39,197 234,261 208,298 103,306 339,275 43,311 59,187 267,278 250,293 105,228 21,181 170,240 283,277 228,275 321,284 221,303 278,297 109,304 247,303 192,307 243,279 18,315 22,294 277,308 199,306 26,180 101,302 181,305 110,236 97,281 26,151 139,314 204,293 251,273 113,250 93,303 269,297 249,300 49,181 70,204 367,296 41,190 29,189 187,250 59,209 223,288 163,295 175,319 236,306 261,286 179,247 280,275 170,289 69,204 335,293 374,310 105,225 248,292 327,280 345,305 320,303 113,245 362,280 34,193 297,312 277,296 277,301 90,284 76,213 78,213 280,287 71,282 340,296 103,306 372,298 174,308 98,226 255,266 158,295 107,286 44,301 237,270 85,222 147,285 289,289 302,271 123,235 121,295 31,308 236,287 325,277 56,302 340,303 152,305 93,289 161,306 106,316 60,196 326,320 29,189 311,278 89,279 82,226 60,207 271,267 19,137 351,286 238,302 171,242 42,179 56,292 201,306 255,309 127,234 174,244 23,315 99,220 156,295 258,279 69,307 345,290 38,191 135,286 128,234 231,303 185,292 91,292 144,242 239,275 208,297 26,187 227,268 283,303 366,295 158,285 98,223 65,216 33,292 281,279 31,291 104,240 229,275 197,297 373,313 373,305 137,289 60,204 370,313 174,250 151,245 75,304 232,294 269,293 166,294 277,271 299,288 254,271 28,153 74,309 202,296 185,284 34,292 116,221 111,232 28,151 357,293 96,220 257,291 218,316 59,281 100,223 103,218 100,224 99,294 33,157 143,242 251,292 352,287 204,294 181,289 237,286 181,248 212,290 53,206 214,250 207,296 296,297 59,282 102,229 69,308 145,241 37,193 144,243 182,285 129,245 271,271 165,251 359,299 250,279 151,283 31,169 174,300 236,304 72,279 122,295 239,294 291,298 214,291 79,282 249,293 89,229 96,289 55,211 273,302 340,295 85,219 120,284 183,257 104,219 143,302 165,287 220,304 294,280 263,309 334,304 40,174 237,309 30,162 273,303 281,284 57,203 228,301 185,249 156,247 220,287 104,234 301,271 295,279 68,277 243,284 290,302 286,276 191,259 80,215 279,306 18,181 301,311 159,235 348,288 148,300 315,294 240,283 263,318 139,305 24,144 96,217 224,276 117,230 158,250 158,257 58,189 195,295 77,220 279,266 303,267 214,297 91,291 312,280 112,236 145,281 269,321 74,288 240,309 95,297 351,279 289,274 91,219 78,302 97,289 123,233 353,313 22,169 367,317 159,296 178,253 327,313 324,295 327,289 44,191 214,257 294,279 333,275 217,294 39,294 127,288 86,285 110,242 183,283 280,297 276,278 187,289 45,191 73,223 281,292 17,196 52,287 182,296 27,176 169,293 105,230 280,293 238,266 30,180 26,165 357,307 112,250 253,281 121,297 110,270 60,296 281,286 20,182 98,222 319,284 111,236 212,294 85,298 239,277 368,287 183,301 31,303 318,299 187,256 233,318 269,283 130,237 108,311 179,255 91,292 63,284 259,277 16,279 264,289 130,237 227,288 310,280 265,306 262,273 354,284 44,191 137,308 60,287 62,290 270,289 144,281 73,295 294,305 47,203 264,264 261,270 155,286 248,288 103,282 18,196 320,286 335,279 68,211 158,288 178,285 54,296 238,285 227,274 249,285 94,291 16,273 50,301 178,252 350,300 21,171 101,230 311,269 37,172 155,303 268,277 82,217 284,320 275,298 128,295 218,270 149,288 210,290 221,273 58,295 246,273 20,136 249,294 44,177 116,291 223,303 94,278 31,314 356,298 189,314 290,276 92,229 137,227 237,281 230,282 346,283 33,301 246,284 19,150 282,281 147,292 89,315 162,256 311,296 51,191 215,291 220,290 67,300 15,289 76,308 212,313 210,296 120,289 181,292 226,266 337,307 76,211 97,294 255,288 215,254 219,297 340,293 96,231 163,288 205,261 217,265 273,313 141,245 22,188 204,286 67,288 242,273 136,291 18,199 290,272 199,294 251,275 219,260 275,275 201,311 269,293 18,189 315,274 168,298 161,249 204,288 29,292 111,231 199,251 116,304 344,295 128,313 299,289 21,301 324,282 229,266 251,296 61,282 131,240 271,300 129,228 177,293 17,203 209,260 339,296 59,205 246,285 342,287 360,296 247,285 254,292 178,304 38,202 18,296 230,299 22,299 317,296 113,244 127,226 68,202 161,240 103,283 294,289 41,292 51,296 94,267 247,286 366,282 49,196 40,167 67,284 51,315 235,279 147,246 205,271 225,273 211,261 77,218 182,293 358,298 243,307 67,280 176,286 90,234 52,198 61,312 91,269 209,305 137,238 136,292 108,303 256,284 56,300 204,274 209,270 274,282 278,293 173,254 116,227 181,287 95,224 284,291 101,285 191,251 77,204 65,210 40,305 256,279 248,286 35,181 289,302 172,249 160,249 90,292 194,252 229,282 76,219 180,264 215,253 283,278 106,292 224,310 57,288 58,293 306,274 108,243 55,204 234,307 15,234 26,301 26,171 150,247 342,294 308,315 299,295 177,262 197,317 115,231 162,289 157,246 18,298 318,269 279,282 20,170 101,280 268,284 98,290 39,293 118,230 227,258 142,299 36,169 104,287 259,285 260,288 188,305 64,206 97,288 21,115 56,299 252,267 23,186 85,317 136,233 229,298 176,289 91,227 369,286 127,297 58,211 71,205 307,306 366,281 154,281 366,310 162,301 20,187 250,275 329,292 62,286 152,292 101,242 357,274 33,300 235,285 132,305 76,293 160,254 249,296 25,177 96,291 316,290 320,305 180,290 21,314 109,295 368,294 130,302 362,309 105,238 343,314 172,292 359,279 212,298 295,283 283,277 21,180 47,175 91,223 99,283 81,301 258,262 90,213 376,285 327,286 212,256 358,286 30,159 113,297 249,300 36,196 291,295 280,280 19,114 38,190 123,233 117,221 231,266 26,187 231,263 119,284 67,287 154,283 26,177 20,138 52,291 18,171 356,283 28,175 146,288 214,269 194,308 114,234 85,283 102,217 73,288 371,302 120,227 291,305 21,138 157,251 28,187 17,183 285,303 156,254 343,298 140,241 51,197 53,213 31,171 229,273 210,306 374,285 40,291 89,304 101,303 337,281 23,150 65,281 42,178 324,314 200,257 230,262 263,304 54,184 357,297 348,297 98,284 189,254 271,293 189,288 204,294 209,270 189,254 24,304 308,321 275,302 59,205 33,183 58,280 190,284 19,169 212,261 255,279 66,300 57,207 321,290 279,289 298,294 150,294 222,267 22,174 101,288 70,278 140,292 26,300 162,295 175,260 48,186 338,298 233,286 240,260 269,269 122,280 275,275 81,225 153,236 287,295 163,245 50,288 145,286 212,263 331,293 358,291 18,301 205,290 373,321 95,215 174,258 329,313 60,291 330,278 53,278 245,279 272,300 72,202 265,268 62,284 25,322 135,231 108,238 300,277 193,307 269,270 145,243 48,178 211,296 22,161 107,238 218,261 332,310 17,176 302,276 292,285 75,213 143,246 16,127 187,292 322,295 72,288 232,260 122,237 229,267 266,267 154,248 196,258 189,296 58,204 318,287 280,300 261,291 159,238 53,196 89,297 53,304 17,158 16,135 31,144 259,285 311,287 121,235 333,287 237,288 206,288 15,232 171,309 147,281 233,298 307,272 372,306 251,295 318,297 70,283 128,295 88,217 112,249 262,283 114,225 127,235 326,274 31,313 17,283 256,270 97,230 67,206 46,306 142,284 374,287 250,271 115,231 256,282 19,175 142,297 232,275 251,290 235,286 108,313 104,243 323,273 271,278 119,288 93,230 184,292 32,174 241,272 50,285 49,284 176,245 216,257 29,185 134,294 212,291 316,300 358,282 177,289 263,283 21,294 255,270 160,317 269,292 101,279 219,266 241,273 211,255 248,291 16,147 353,292 374,318 205,252 361,296 152,241 295,284 72,301 156,255 222,298 135,243 211,287 211,294 75,296 109,292 180,306 283,300 334,305 198,251 248,287 83,289 132,244 187,287 56,299 198,261 54,294 94,308 87,228 206,300 310,280 155,289 300,266 343,313 120,294 129,290 239,286 227,264 184,289 62,210 269,289 262,285 305,276 244,291 146,307 45,291 48,189 176,313 100,235 297,280 154,282 179,256 139,299 187,298 238,277 333,287 184,251 71,302 125,307 235,284 296,274 16,190 293,275 29,161 297,293 186,258 233,280 292,315 172,248 75,279 152,325 243,262 146,247 337,294 156,251 61,198 46,190 207,269 75,218 245,260 63,285 127,294 112,234 185,283 184,259 252,287 318,292 354,295 282,275 316,302 86,225 189,286 35,187 240,271 152,289 157,247 145,306 160,287 278,271 109,244 148,295 223,301 261,295 221,266 155,256 135,294 17,177 49,196 121,294 53,295 353,282 200,307 244,284 131,306 128,286 225,295 124,291 114,293 213,266 311,293 115,309 23,149 264,295 321,278 112,240 43,291 176,295 159,244 148,286 84,219 139,284 64,301 364,300 54,210 239,282 89,287 310,271 175,255 278,291 149,276 31,316 242,275 153,307 101,230 193,251 228,289 57,207 244,283 98,280 77,306 172,252 165,301 21,173 314,301 66,207 53,196 41,168 126,317 186,261 35,167 209,286 272,303 344,277 172,293 35,173 304,295 210,305 69,214 136,298 38,166 276,263 312,298 242,290 107,243 86,214 246,282 33,190 109,290 152,301 190,258 19,187 84,291 202,311 353,302 189,252 95,290 18,194 260,289 190,254 227,287 258,303 182,248 245,277 55,291 247,284 92,304 26,140 69,288 49,202 330,286 249,296 205,253 24,295 93,223 132,287 281,277 240,273 224,270 78,293 200,313 94,287 325,283 305,312 131,233 40,199 29,165 161,254 24,315 55,291 169,299 87,300 362,291 214,297 95,230 313,278 258,313 334,280 63,207 298,286 192,286 38,201 126,230 75,301 105,307 208,261 169,243 376,317 128,295 77,300 107,286 265,292 74,310 188,289 122,282 41,303 144,231 285,273 270,271 70,297 349,285 172,250 224,287 55,298 274,293 223,267 216,254 295,301 238,280 203,304 243,280 118,288 349,303 222,261 332,299 241,298 330,282 169,285 205,310 257,282 212,298 219,260 96,304 47,198 350,299 173,246 118,292 63,310 140,295 254,288 22,181 294,287 188,300 219,291 26,306 23,295 29,184 366,277 92,229 293,304 344,302 144,234 125,284 265,284 369,298 229,286 91,295 98,242 222,289 366,304 178,257 355,288 76,308 128,305 232,277 178,259 264,289 245,268 264,274 96,221 24,173 121,305 286,311 18,164 108,227 225,309 298,283 314,279 292,290 187,290 90,284 335,275 124,290 88,225 246,282 243,268 163,308 305,277 134,286 219,288 44,186 153,292 72,218 76,286 32,160 106,302 306,289 78,217 289,273 92,298 226,261 352,288 126,233 73,301 342,286 117,235 68,284 68,215 314,269 159,287 49,292 337,280 106,234 269,275 233,291 289,298 158,239 249,262 236,320 35,188 94,287 182,258 181,284 152,280 349,298 149,292 99,239 68,279 256,303 73,224 105,239 27,169 159,286 217,298 127,297 23,172 370,292 55,280 175,257 297,293 108,227 343,280 303,290 50,302 142,233 228,293 217,253 297,300 245,275 36,299 238,288 213,265 218,307 30,192 91,272 45,312 18,306 229,287 253,272 197,292 245,288 210,299 71,197 276,276 339,303 237,279 284,276 327,299 167,247 54,282 172,303 161,246 24,297 137,290 213,265 245,275 179,286 314,283 158,251 124,238 72,290 372,278 280,298 260,275 69,281 219,305 195,248 93,286 304,292 125,309 116,289 375,296 229,290 169,297 294,289 236,276 20,151 86,301 263,304 314,274 204,270 20,156 227,310 107,241 37,195 112,292 204,274 213,305 90,288 93,308 183,301 203,259 22,297 127,234 284,278 117,234 54,207 271,298 162,256 119,304 126,228 212,265 250,260 362,310 107,233 152,240 49,292 173,286 218,261 363,301 83,289 323,304 89,300 183,250 111,271 15,284 246,315 136,296 70,314 33,186 123,281 330,275 329,281 59,291 234,303 323,285 323,285 18,294 222,279 198,297 169,248 14,218 74,213 257,301 60,298 106,292 256,266 238,268 100,298 310,295 287,299 21,185 355,277 285,285 339,283 94,308 33,301 89,222 307,317 298,284 19,188 73,284 165,287 333,290 106,243 124,294 234,292 265,291 343,297 347,298 33,195 281,264 121,225 233,292 307,267 231,278 263,273 34,177 273,263 350,286 189,300 68,295 15,280 225,313 117,219 303,280 187,290 92,305 95,269 242,274 174,261 72,312 186,261 267,286 21,185 362,301 67,213 270,275 18,168 152,313 366,290 83,221 359,279 289,296 211,300 218,270 189,291 232,310 47,309 169,299 151,299 84,285 270,269 267,300 275,266 220,298 292,270 316,295 256,288 225,271 34,299 181,261 191,254 74,308 23,300 104,286 264,261 223,278 110,269 322,292 83,218 152,245 234,278 304,294 355,277 303,279 310,318 294,307 186,244 54,182 230,286 121,228 363,285 208,303 369,276 347,302 75,209 296,300 249,270 253,292 89,296 149,288 302,292 92,230 121,290 19,181 42,195 113,304 365,297 163,295 68,284 154,288 33,303 213,259 294,312 220,270 338,291 143,306 113,306 18,180 180,247 86,285 108,296 114,230 333,285 242,280 315,280 81,216 282,279 147,238 164,295 247,261 19,166 153,248 230,309 187,262 136,285 201,300 115,234 66,207 324,307 355,278 115,248 197,251 267,279 89,305 201,299 95,297 201,299 245,265 342,285 45,294 196,260 246,291 260,271 274,294 220,273 179,266 296,302 240,292 36,290 238,310 283,288 32,305 93,225 282,279 49,188 156,291 84,290 246,284 85,227 314,275 46,190 99,237 132,241 137,240 211,255 366,290 190,257 150,306 356,307 210,261 37,191 267,302 175,264 20,170 32,295 19,296 215,260 85,233 40,179 367,293 232,276 213,301 76,285 198,290 142,284 187,257 239,310 144,314 352,285 76,278 325,299 163,300 88,224 71,219 159,290 17,291 263,294 234,301 357,296 133,298 99,291 241,275 273,298 138,301 276,292 192,286 128,304 297,290 215,270 110,228 41,199 323,299 252,314 111,296 249,292 234,258 103,283 293,276 232,308 216,259 18,293 285,284 215,305 76,284 97,231 328,285 109,237 82,210 20,299 178,266 196,295 77,214 233,293 306,292 343,305 110,237 279,291 341,316 18,182 118,286 280,274 55,284 285,283 217,291 345,319 112,248 304,295 85,226 286,291 151,242 145,242 233,264 40,173 55,293 178,314 15,283 268,277 84,217 368,279 233,280 156,248 149,284 329,313 60,280 131,238 173,241 95,277 232,317 120,308 242,293 58,281 370,284 208,273 42,172 259,276 272,282 334,290 335,297 235,278 35,197 43,198 126,307 276,280 38,311 34,196 245,292 43,306 268,309 83,281 226,313 141,291 235,258 76,204 213,271 203,254 115,232 193,304 252,293 106,287 15,178 284,288 174,307 296,276 360,280 333,295 56,287 317,294 207,292 77,292 70,286 227,275 155,311 53,210 204,261 352,305 150,295 180,298 269,286 275,269 18,178 48,205 30,292 282,307 110,240 57,211 22,179 86,287 19,180 269,308 246,268 31,152 99,294 271,316 168,248 126,241 361,288 26,295 196,309 82,217 269,269 314,292 152,247 207,300 236,266 71,208 190,260 342,306 265,282 362,292 314,301 229,278 197,309 332,291 230,279 31,189 64,212 290,289 337,284 263,283 287,283 250,286 159,311 227,285 236,293 176,255 290,309 190,257 184,258 188,307 266,280 365,304 176,293 232,293 84,297 345,276 32,181 369,290 16,292 222,285 141,297 19,174 85,228 147,277 138,287 16,302 123,233 163,251 77,298 148,313 312,285 310,279 284,281 128,229 18,197 280,305 305,306 312,272 109,222 207,298 55,211 234,297 188,249 336,275 298,284 219,257 280,264 362,303 213,255 194,302 316,269 257,318 257,285 299,294 27,313 233,307 250,286 213,258 150,272 207,262 114,248 99,228 197,246 188,255 213,289 194,294 254,273 291,278 283,274 52,179 286,294 153,247 194,297 306,272 147,277 370,284 160,239 159,252 341,307 323,309 144,307 298,287 298,280 160,314 61,212 59,293 141,298 107,289 302,272 91,279 176,294 44,320 38,293 91,311 145,279 356,285 67,216 124,315 110,306 84,217 245,299 336,304 134,233 314,294 190,252 147,282 84,313 171,298 156,293 28,317 40,181 190,284 169,244 269,266 87,223 244,282 284,269 161,311 360,287 229,298 162,289 291,274 171,293 246,294 222,310 163,299 43,197 69,292 151,297 224,314 256,280 150,277 191,284 255,264 91,227 37,179 311,270 137,287 147,288 348,289 171,289 144,235 222,253 94,278 325,289 19,179 41,292 77,287 22,306 304,308 259,289 142,243 245,295 311,278 210,272 150,278 46,299 244,277 357,292 153,295 79,215 252,264 66,289 349,294 34,163 263,275 99,280 210,287 295,287 84,292 98,284 61,194 20,176 222,288 178,250 330,286 77,222 21,149 316,277 106,293 53,192 364,294 201,305 276,277 90,226 68,215 306,307 236,310 329,270 58,294 337,293 123,295 246,264 302,300 47,202 222,294 360,297 209,310 123,235 372,285 38,198 116,289 107,306 259,278 28,295 94,283 56,210 265,281 297,299 214,303 43,170 314,296 132,299 166,302 227,266 164,293 87,289 33,297 92,234 272,279 245,296 95,281 161,286 70,281 24,308 281,304 204,270 194,287 150,288 189,248 233,274 60,213 16,283 232,273 89,236 188,257 359,279 311,299 223,275 326,299 180,250 158,299 130,225 221,308 212,312 217,261 22,169 302,296 216,308 332,309 253,286 123,297 228,268 178,316 172,248 296,303 238,287 45,190 99,296 313,286 40,292 65,297 265,273 127,239 203,259 127,292 290,272 181,296 20,129 168,288 157,249 277,270 144,285 298,293 284,277 101,238 293,275 268,265 174,290 19,180 92,272 331,287 35,295 49,205 18,198 38,173 187,245 255,295 314,283 299,309 317,272 223,267 249,268 346,299 180,302 66,213 321,276 101,217 277,289 50,281 59,198 253,279 312,268 268,310 70,312 376,292 120,285 132,243 319,286 178,302 120,286 375,286 261,299 223,270 48,178 175,286 225,278 311,283 109,218 233,291 255,285 110,270 28,188 279,307 221,294 91,278 323,294 41,178 148,249 235,285 144,290 71,199 70,197 360,289 192,253 290,269 159,245 224,256 62,198 45,179 61,292 114,249 221,260 130,302 341,290 360,278 322,303 32,297 207,252 149,310 64,307 223,275 258,290 318,301 92,271 229,280 205,254 51,199 234,282 107,284 324,299 176,254 17,153 314,306 233,265 224,285 98,231 148,277 109,299 89,235 53,296 201,270 159,247 316,275 192,297 237,267 179,263 257,259 190,262 29,175 30,177 110,272 35,186 144,297 260,314 135,301 227,282 46,199 19,298 25,303 326,303 295,293 71,281 182,262 229,282 185,302 130,241 303,303 89,225 328,304 85,227 223,261 187,298 282,280 206,298 72,220 57,306 143,244 59,280 320,290 333,306 102,287 290,282 326,274 129,289 229,286 213,291 115,221 95,220 51,287 55,211 98,220 324,309 162,253 36,292 55,290 222,295 48,289 16,201 162,291 356,291 24,310 236,277 20,170 318,283 38,199 316,315 27,293 142,300 183,259 78,279 27,296 103,233 43,188 93,279 54,290 239,280 129,303 132,234 104,290 47,297 346,290 148,291 190,301 74,216 111,229 225,301 70,319 185,293 225,262 131,237 285,292 15,275 188,250 102,281 228,282 51,208 305,290 169,289 87,286 335,292 264,268 225,311 16,232 265,310 243,300 98,282 310,304 64,279 40,291 23,148 17,146 269,290 174,287 75,218 233,263 343,284 138,295 160,240 268,278 283,278 351,291 233,259 176,240 74,213 347,291 57,281 249,276 240,303 184,287 241,294 46,200 358,295 137,303 306,311 300,283 294,271 17,183 278,273 245,315 223,308 17,300 176,288 255,283 228,273 164,249 16,176 208,271 125,309 206,286 55,302 274,268 294,284 17,301 26,150 154,237 320,299 230,268 91,311 91,213 174,263 245,272 94,276 151,244 351,299 21,302 70,205 188,292 37,299 349,286 293,299 175,257 56,281 87,212 251,300 95,295 213,254 54,211 161,297 102,287 226,313 18,300 41,202 190,255 216,266 69,212 50,290 309,282 237,289 248,268 184,250 286,267 221,295 216,294 35,292 141,244 19,296 62,205 331,288 146,289 73,281 126,243 232,264 92,230 166,313 160,293 297,276 238,284 24,303 181,267 181,244 265,280 295,290 85,225 111,300 98,224 296,295 227,268 239,264 123,234 17,298 274,301 199,249 351,286 110,228 194,315 102,301 342,306 300,299 259,300 330,298 163,249 30,301 52,280 229,324 42,292 74,277 91,285 289,313 206,288 213,258 125,283 52,301 38,291 335,282 129,291 242,291 237,270 340,287 29,179 150,247 329,296 337,286 28,177 137,292 313,290 82,318 192,262 51,192 223,260 247,299 108,222 172,253 119,230 95,269 150,276 230,309 243,285 113,243 94,268 196,298 288,286 37,183 134,239 328,291 257,283 301,286 188,306 144,245 52,203 288,308 104,287 265,299 350,305 237,296 34,183 141,242 93,216 121,299 34,193 266,293 17,287 222,257 28,310 59,200 300,304 309,290 24,162 103,223 131,227 57,194 230,266 255,274 101,301 101,233 247,278 15,283 233,256 329,299 360,284 116,289 43,178 36,195 285,277 118,289 169,286 277,289 32,177 27,174 112,317 159,305 207,293 25,297 188,313 119,313 37,185 156,254 214,296 237,263 160,245 329,295 153,244 119,294 88,308 82,286 40,181 272,307 94,275 305,273 109,231 32,187 223,293 201,295 49,204 86,289 41,308 39,310 278,274 59,296 190,246 282,281 158,251 271,304 243,298 198,301 364,311 327,271 46,193 252,274 143,244 114,244 47,199 137,292 342,284 17,185 224,257 45,291 117,226 112,302 312,287 97,215 306,280 120,284 102,243 27,163 81,212 101,242 292,299 20,304 39,291 65,279 163,294 281,298 119,298 363,293 359,308 119,285 323,301 262,276 95,292 246,262 282,293 175,242 303,279 134,237 201,259 150,247 329,283 30,183 123,237 240,304 139,242 290,306 290,304 230,285 371,301 95,276 287,286 179,308 238,265 56,292 191,318 99,237 258,281 98,295 254,285 58,286 253,272 226,295 248,294 70,191 73,214 297,284 69,279 228,270 365,289 20,318 291,289 197,300 308,287 186,299 271,296 227,282 229,267 109,237 255,306 89,312 21,186 177,297 84,300 110,242 283,284 374,311 18,195 187,291 58,194 82,283 265,279 232,283 192,288 57,206 231,301 35,192 334,295 222,291 40,193 295,290 218,272 329,286 147,292 133,298 135,241 23,145 336,285 198,292 214,309 36,182 183,250 63,215 58,199 221,260 140,239 209,309 189,252 240,270 56,196 235,319 73,282 304,305 58,207 319,314 194,286 192,288 321,298 261,298 70,197 23,144 18,185 25,301 303,285 356,306 84,215 62,292 96,305 331,298 311,270 101,299 88,305 154,235 297,298 21,176 288,287 38,166 107,286 330,310 177,307 352,296 223,259 67,288 295,297 118,292 153,309 185,283 221,252 130,295 241,301 124,232 41,201 238,283 111,296 98,216 216,297 364,289 226,306 269,285 282,289 122,287 198,294 373,282 287,280 92,215 19,295 248,264 179,301 226,273 56,193 79,295 242,260 147,240 65,296 275,308 108,309 211,260 221,287 289,302 199,293 73,218 41,307 261,278 157,304 96,231 76,278 92,223 242,287 112,234 247,280 180,288 85,223 92,229 36,176 291,271 192,247 55,180 216,304 176,252 238,261 67,212 192,262 235,278 264,277 110,289 325,274 254,280 303,298 54,284 186,265 253,277 160,290 111,230 250,258 98,216 354,292 23,156 337,292 274,292 326,293 327,302 69,290 112,233 229,292 130,290 203,250 149,282 194,297 91,301 149,289 81,291 39,314 297,278 146,297 269,277 337,294 122,229 108,290 55,212 109,237 36,302 87,238 57,284 129,286 261,295 240,305 324,303 55,281 158,306 66,214 228,293 72,277 221,286 53,298 217,300 43,190 204,259 358,283 29,162 194,288 213,259 32,295 218,253 155,304 87,218 102,236 222,273 121,238 252,288 367,307 149,292 112,249 27,183 285,303 340,276 333,299 282,268 261,265 204,285 40,200 146,288 60,203 233,290 85,297 199,250 238,287 27,312 163,315 79,299 172,248 112,235 105,287 266,285 126,298 79,218 316,288 268,286 247,293 216,271 130,239 203,298 64,292 343,288 245,295 118,299 161,289 98,298 141,286 123,286 367,296 118,230 129,244 152,304 125,288 235,258 98,226 58,205 48,297 208,303 162,310 133,236 87,232 345,279 21,159 237,297 274,269 67,286 279,269 372,281 153,237 253,269 358,295 268,271 330,286 362,317 289,269 180,250 229,292 135,230 298,270 53,203 176,307 241,289 134,293 301,291 238,304 179,248 361,291 70,290 210,297 82,220 232,261 165,298 33,178 106,224 233,258 148,283 14,169 262,278 117,219 138,311 171,290 32,159 334,280 97,292 36,153 336,294 101,241 94,228 209,268 134,245 124,226 24,148 85,226 26,177 37,189 48,204 314,284 258,276 23,162 71,300 17,169 213,265 243,289 234,266 193,249 197,306 78,277 53,294 56,189 177,251 161,292 117,290 189,309 250,256 160,250 197,298 166,247 337,297 250,292 150,299 58,296 64,280 95,283 204,269 25,179 326,282 95,285 183,258 99,222 176,264 149,300 38,292 214,264 262,300 222,262 204,307 322,303 375,302 219,268 40,196 140,284 344,285 219,263 246,310 19,160 144,236 18,196 76,214 137,296 147,285 40,195 74,294 79,225 203,291 350,290 111,293 65,198 252,277 345,297 256,263 120,311 215,262 289,315 224,290 226,269 108,229 297,271 210,270 118,295 289,295 166,248 93,218 180,283 21,172 190,298 142,291 274,299 138,243 308,289 132,308 333,287 180,308 297,275 272,283 39,199 195,258 259,268 98,280 112,248 240,270 229,269 188,254 143,292 187,261 274,301 212,264 372,305 231,268 302,268 137,245 266,287 101,222 55,200 19,143 76,313 195,297 306,283 273,305 327,317 207,290 19,161 122,297 244,291 250,272 220,294 112,236 111,301 158,292 358,300 287,304 128,302 99,222 44,200 223,279 260,273 277,281 306,283 31,182 205,272 265,297 324,291 155,287 177,286 310,292 242,305 131,307 68,206 240,258 24,177 300,277 237,285 136,237 224,292 93,282 335,294 348,293 350,293 85,296 122,292 151,279 267,305 97,304 174,288 333,279 79,224 195,303 93,231 242,281 47,303 244,261 22,298 264,274 260,272 122,297 109,294 267,288 18,289 322,294 20,186 58,203 54,288 265,280 220,290 234,263 172,252 46,309 122,298 197,259 189,255 235,310 142,298 241,288 354,303 185,287 52,201 204,258 155,242 86,303 147,300 22,181 103,230 47,191 53,191 92,215 264,283 154,248 100,220 112,250 17,301 134,246 213,254 171,251 45,191 60,290 157,284 246,265 362,287 282,311 100,289 315,295 149,283 62,290 278,293 270,279 236,267 286,264 308,271 173,300 291,291 15,249 61,207 243,286 265,270 313,301 123,282 79,293 164,300 198,259 170,291 39,179 17,182 42,182 267,266 148,285 226,279 337,275 204,295 154,292 338,278 299,290 350,279 84,288 16,205 16,289 156,252 23,184 258,279 68,284 93,212 157,240 79,293 83,224 175,263 176,294 298,294 184,252 26,186 18,179 315,303 316,284 114,314 185,288 247,270 88,220 243,258 130,291 236,261 168,248 341,278 55,285 186,252 122,295 156,238 223,312 61,203 288,290 261,278 119,228 104,239 153,296 146,244 52,290 250,287 236,259 118,290 263,260 157,241 276,304 284,284 16,178 361,289 208,317 316,285 281,274 288,283 326,280 353,287 112,246 107,228 374,305 16,193 213,270 38,291 141,240 45,175 261,265 39,202 374,298 110,222 92,283 298,292 234,258 67,204 165,247 221,300 51,205 27,308 217,270 335,270 20,148 296,304 56,285 329,289 100,296 121,295 297,293 220,296 37,305 317,294 220,271 86,284 266,269 224,281 242,265 59,210 229,273 325,306 80,211 324,293 248,286 289,284 287,294 211,290 324,311 105,298 81,199 353,301 155,250 272,283 92,270 65,195 235,260 70,218 26,136 264,269 18,297 375,284 359,302 169,243 20,295 23,183 20,188 39,294 25,183 233,259 105,242 85,224 144,298 97,218 238,270 160,239 49,290 50,295 188,284 268,274 213,310 38,161 238,310 76,286 33,189 278,300 41,298 249,273 42,201 191,257 267,289 162,253 200,293 313,303 147,295 125,239 86,230 61,197 240,313 271,301 22,179 84,224 274,292 67,197 152,304 169,307 337,286 166,300 88,288 366,286 294,291 98,226 338,273 307,290 333,306 21,155 193,289 24,173 72,307 353,280 36,299 125,282 223,263 178,264 128,289 106,291 338,306 54,308 44,293 210,263 350,289 311,276 30,158 80,221 205,299 94,219 104,289 337,301 299,292 163,303 136,244 306,278 163,291 237,279 311,284 303,287 203,252 272,301 213,265 306,295 162,253 211,257 60,306 234,266 193,251 36,195 80,287 122,280 47,291 208,288 290,280 278,278 52,206 301,286 68,284 17,298 313,291 285,300 87,286 106,234 262,302 66,292 288,271 78,296 126,224 134,239 188,246 72,286 246,290 232,319 242,280 191,310 135,289 85,221 91,286 62,206 206,290 88,227 16,302 129,238 280,275 155,247 76,279 79,205 56,304 100,233 85,220 187,283 237,266 100,288 75,283 216,262 227,277 376,280 210,259 124,281 178,284 180,289 243,290 94,225 145,286 139,242 208,259 151,246 269,295 133,303 370,280 326,290 302,301 88,225 35,174 150,245 258,290 352,314 285,266 79,287 198,299 229,271 273,269 131,290 33,295 153,281 151,289 49,295 75,287 256,303 283,298 109,291 353,314 313,302 77,280 220,273 18,128 245,271 133,229 60,205 120,297 81,283 130,294 325,292 207,272 159,313 261,266 24,294 344,274 28,162 207,297 224,273 207,312 294,273 305,284 295,281 256,259 55,284 234,283 234,299 235,262 93,267 57,288 30,171 224,271 175,245 230,274 241,274 273,300 166,292 274,273 75,296 53,287 80,292 20,159 369,298 73,222 230,267 112,236 331,298 91,288 204,305 114,231 220,308 169,289 278,299 90,294 259,270 31,293 96,300 183,289 18,172 286,283 179,251 264,281 82,288 238,264 158,296 87,208 221,266 213,251 212,256 163,294 178,302 68,287 242,309 72,294 372,302 93,297 30,306 22,172 33,181 284,299 223,301 65,208 162,301 334,283 280,279 124,233 245,274 264,267 106,228 73,298 162,236 293,278 27,296 91,291 179,260 259,270 51,280 195,307 64,191 60,281 67,278 226,304 109,226 166,244 65,208 277,302 83,224 90,296 248,299 295,279 260,296 247,260 171,289 50,191 278,291 63,287 79,204 141,293 246,259 92,217 162,248 224,275 98,218 23,147 254,313 289,299 24,303 134,240 368,298 243,293 257,271 193,298 242,287 171,308 134,293 57,190 262,270 232,312 223,276 237,277 26,301 189,310 276,265 157,290 57,199 125,232 225,264 254,293 280,307 124,291 165,304 254,280 142,299 151,290 151,242 108,218 17,185 56,301 60,289 254,282 103,219 275,279 265,279 125,287 144,283 180,243 34,167 72,283 54,292 93,288 257,263 242,269 183,293 38,183 49,191 93,294 136,293 202,302 59,193 37,195 193,247 28,146 203,289 139,236 188,300 302,300 273,317 35,198 50,174 129,295 303,274 171,247 230,267 325,306 210,303 132,289 176,264 325,287 132,240 96,229 229,289 249,275 25,174 105,318 170,243 354,286 300,296 58,211 69,207 85,292 154,300 98,281 18,145 207,262 239,292 182,254 90,208 153,292 250,277 321,297 37,194 269,270 239,318 277,289 111,233 68,213 265,308 147,296 62,215 278,297 15,204 181,258 59,211 22,178 97,231 208,251 357,299 138,294 56,187 106,220 21,186 261,274 135,301 354,289 211,293 159,296 68,285 34,166 75,295 290,301 303,280 231,275 148,282 180,293 219,299 224,297 36,156 15,132 81,283 323,301 333,292 24,175 56,293 37,294 259,275 341,290 146,246 291,295 248,281 321,281 226,286 263,283 214,259 324,277 146,286 91,221 290,284 142,298 133,294 156,286 298,287 286,296 192,287 148,311 156,234 29,179 169,302 129,234 56,286 185,262 172,240 20,136 249,300 149,237 69,210 53,290 168,288 107,223 83,309 304,282 103,317 259,274 229,297 98,280 177,295 228,292 269,282 121,296 225,311 211,260 67,206 156,244 131,233 65,198 62,308 284,279 96,288 30,180 220,312 265,299 18,297 24,295 305,306 44,176 288,285 158,244 166,308 57,286 286,318 234,260 243,266 188,250 288,292 133,307 37,191 343,292 48,290 46,195 137,292 260,276 183,263 277,289 68,205 82,305 73,312 317,285 62,188 165,240 128,310 263,309 227,303 365,292 297,288 300,277 77,293 345,286 272,269 62,189 202,301 233,294 35,150 133,286 218,288 232,285 274,307 90,209 252,289 27,298 78,216 47,186 240,285 17,293 128,290 229,307 113,236 76,282 178,264 82,310 100,282 271,294 304,281 284,291 139,240 254,312 53,291 237,272 38,315 26,187 39,291 335,295 34,156 113,232 199,295 249,280 238,305 359,307 365,287 150,289 180,256 125,237 232,260 186,245 276,280 312,283 34,181 124,303 167,286 179,252 189,288 107,243 75,288 68,297 284,309 283,272 99,241 171,309 287,307 310,297 51,291 232,301 366,285 201,294 68,212 211,271 76,221 224,257 312,285 17,169 297,286 24,131 20,318 368,288 65,289 107,241 182,296 220,288 293,276 41,165 272,264 317,288 143,310 270,293 312,282 32,171 236,274 137,244 138,235 98,282 293,276 58,283 267,307 210,259 182,244 140,282 201,257 174,287 109,293 306,266 284,293 249,274 85,290 326,293 32,190 57,291 97,281 337,272 112,297 138,285 125,284 117,296 31,152 325,284 236,276 268,281 176,256 275,267 302,281 302,300 72,295 100,293 367,295 233,284 121,237 163,246 50,206 361,291 26,300 102,287 62,208 37,196 228,296 183,255 86,218 174,298 233,267 54,279 106,285 61,304 214,297 295,269 147,295 30,293 130,296 156,308 122,235 42,304 305,289 196,299 131,245 54,285 101,289 24,312 113,294 187,285 26,298 169,286 283,291 76,312 289,279 87,286 140,296 352,284 210,319 298,279 24,300 165,299 119,312 157,238 136,289 255,282 237,309 87,291 58,283 125,284 187,287 333,283 102,291 17,283 334,279 68,216 35,196 132,232 257,259 335,299 296,318 265,283 341,289 48,291 268,286 145,245 331,290 166,286 125,286 50,297 101,300 360,282 270,299 318,293 336,296 211,290 67,284 143,286 75,288 77,286 199,249 246,279 332,278 71,220 208,291 100,317 204,251 279,272 98,296 153,243 295,285 267,263 79,317 224,270 32,291 146,301 231,273 151,241 250,297 364,293 205,260 319,286 222,290 215,292 246,269 60,287 20,170 66,214 52,210 125,289 96,285 55,213 290,296 181,264 311,287 52,293 107,293 326,294 322,282 95,294 365,296 155,242 326,281 46,189 77,197 368,278 178,261 272,291 191,263 89,291 108,293 155,312 37,291 76,215 77,203 86,286 236,297 254,269 240,293 49,205 158,293 215,297 50,293 117,232 96,222 253,295 321,300 82,295 89,313 183,323 225,286 211,258 154,308 238,269 52,306 327,289 258,277 307,292 132,241 318,304 61,288 280,301 306,315 318,284 154,293 153,246 255,296 136,320 60,212 181,292 126,224 227,296 211,304 96,292 134,308 217,265 262,296 252,267 68,203 210,293 205,310 223,269 208,268 261,313 104,220 288,278 67,293 283,285 190,255 302,281 125,243 252,273 23,133 226,293 86,219 269,285 207,295 230,262 303,274 98,290 344,280 257,279 280,296 17,196 109,295 47,291 172,296 86,288 311,292 71,283 80,224 137,288 270,272 102,212 259,261 212,267 79,294 264,268 284,277 50,184 298,277 356,282 222,262 289,284 104,299 159,246 111,242 367,297 349,285 32,311 323,293 261,302 16,273 137,293 233,287 252,270 250,278 240,274 14,192 28,170 320,299 180,267 240,288 294,289 38,316 118,229 103,281 41,293 229,316 79,299 174,257 17,288 276,302 328,270 190,294 66,207 256,275 88,218 143,299 78,215 135,226 151,276 31,189 144,229 172,252 76,293 288,286 177,265 72,210 98,293 359,284 59,197 279,279 22,168 18,180 330,295 209,249 184,261 94,213 66,214 19,177 270,289 252,299 182,254 75,201 226,302 298,287 268,265 68,195 374,288 369,308 107,309 246,259 299,279 144,281 20,154 343,308 63,212 32,189 205,307 272,312 232,260 226,282 56,203 362,307 46,203 17,296 329,279 261,298 68,301 221,271 39,188 234,269 216,263 99,235 15,188 67,289 314,274 267,281 346,294 299,292 160,242 50,200 25,154 239,273 281,272 306,272 171,248 72,295 97,228 148,291 46,179 261,263 96,296 159,293 69,204 101,218 64,296 34,296 198,257 290,268 104,293 319,293 202,317 98,299 206,301 239,302 85,285 265,267 268,291 94,287 360,289 216,254 238,261 132,306 163,252 59,291 233,277 24,165 124,282 89,222 122,282 204,306 82,292 161,249 305,274 266,288 36,307 247,275 84,296 99,234 104,237 239,294 125,299 241,264 332,315 280,311 74,215 29,293 256,289 146,280 36,290 101,238 205,298 176,304 25,140 266,285 57,205 62,282 323,302 68,312 244,286 68,278 225,302 95,285 262,262 267,296 255,300 65,284 66,313 113,318 311,291 208,293 24,184 294,275 353,274 36,161 181,257 261,265 71,285 104,230 331,286 25,177 315,300 53,205 235,265 362,296 213,270 179,289 265,307 245,282 39,185 236,260 83,291 17,200 331,287 90,287 189,307 265,286 323,282 323,279 302,282 255,303 142,235 291,279 297,295 210,296 17,191 180,286 233,270 256,270 302,284 17,308 216,308 374,307 68,212 94,207 313,307 163,288 97,277 198,248 232,279 113,297 242,274 117,298 150,290 279,265 41,172 110,243 193,258 247,268 281,295 240,270 56,300 188,294 96,305 242,280 363,313 287,288 178,240 345,295 227,291 304,297 90,287 317,313 304,298 299,281 41,292 158,301 24,298 216,290 180,243 228,291 296,296 299,286 267,272 153,318 76,226 238,262 124,285 224,290 99,232 281,293 195,304 285,298 306,293 76,303 44,178 126,307 21,304 17,290 321,307 250,279 213,306 244,278 354,283 205,299 213,268 71,300 310,305 106,295 277,273 252,270 94,229 316,282 228,290 77,210 289,267 109,294 144,283 37,297 70,196 189,249 334,301 193,303 91,283 47,198 91,208 32,297 40,188 70,294 319,307 91,298 69,204 99,232 82,224 150,240 148,304 72,220 220,293 80,292 329,290 301,316 331,297 45,307 239,269 82,281 286,321 16,188 237,255 227,296 69,283 156,297 137,230 192,262 299,287 292,273 123,289 30,305 322,300 203,302 337,306 92,268 257,286 70,311 96,276 203,293 242,269 367,303 338,273 286,276 222,302 254,292 256,302 218,302 294,292 177,294 224,269 257,294 223,303 105,231 126,234 219,306 91,279 217,260 96,301 241,291 298,288 83,214 260,281 288,302 295,288 99,228 344,282 24,306 145,302 219,300 250,277 228,303 15,167 283,282 230,300 376,315 237,303 219,296 183,302 57,293 226,284 228,270 29,167 229,310 142,239 130,246 191,256 305,288 263,306 295,283 256,297 118,229 99,313 267,283 329,302 74,298 229,285 297,310 296,301 92,269 350,275 130,306 234,279 196,298 212,264 83,303 330,310 269,289 180,250 274,298 117,290 100,279 368,284 323,285 299,295 206,273 182,265 265,301 358,286 69,290 215,269 274,270 196,261 73,286 195,303 22,146 155,292 42,195 152,309 215,257 93,295 290,285 65,286 237,301 241,294 136,244 276,272 370,283 258,298 93,229 299,279 230,281 190,313 98,221 83,294 252,288 125,292 323,280 195,315 193,249 333,304 172,297 137,285 347,285 67,290 202,270 63,208 40,295 357,307 334,300 329,288 74,293 154,247 162,286 304,305 33,168 363,297 99,222 209,292 187,260 141,289 171,299 112,224 21,169 92,221 90,268 282,301 307,293 88,209 15,239 123,286 71,216 257,261 62,284 273,269 140,283 222,320 60,279 69,211 192,302 301,272 228,297 215,261 130,312 228,256 243,282 250,277 258,279 240,291 83,215 18,166 174,286 374,315 351,302 130,228 45,184 243,291 348,307 84,308 22,298 297,270 372,292 61,185 162,292 261,268 105,217 224,267 224,295 74,282 89,221 255,276 15,232 208,268 247,269 46,314 308,290 83,295 88,206 64,298 340,318 111,242 169,291 83,289 198,295 97,223 223,280 200,259 100,307 303,301 25,180 282,263 240,295 149,240"/></g></g>
<path class="ax" d="M49.2 15.0H601.8V185.0H49.2ZM49.2 249.9H601.8V419.5H49.2ZM49.2 504.2H601.8V674.2H49.2ZM49.2 739.0H601.8V908.7H49.2Z"/>
<path class="dv" d="M233.4 15.0V185.0M417.6 15.0V185.0M233.4 249.9V419.5M417.6 249.9V419.5M233.4 504.2V674.2M417.6 504.2V674.2M233.4 739.0V908.7M417.6 739.0V908.7"/>
<path class="tk" d="M44.2 179.2h5M44.2 139.7h5M44.2 100.2h5M44.2 60.7h5M44.2 21.2h5M62.6 185.0v5M102.0 185.0v5M141.3 185.0v5M180.7 185.0v5M220.0 185.0v5M246.8 185.0v5M286.1 185.0v5M325.5 185.0v5M364.9 185.0v5M404.2 185.0v5M431.0 185.0v5M470.4 185.0v5M509.7 185.0v5M549.1 185.0v5M588.4 185.0v5M44.2 413.5h5M44.2 387.2h5M44.2 361.0h5M44.2 334.7h5M44.2 308.4h5M44.2 282.2h5M44.2 255.9h5M55.9 419.5v5M98.5 419.5v5M141.2 419.5v5M183.8 419.5v5M226.4 419.5v5M240.1 419.5v5M282.7 419.5v5M325.4 419.5v5M368.0 419.5v5M410.6 419.5v5M424.3 419.5v5M466.9 419.5v5M509.6 419.5v5M552.2 419.5v5M594.8 419.5v5M44.2 668.4h5M44.2 628.9h5M44.2 589.4h5M44.2 549.9h5M44.2 510.4h5M62.6 674.2v5M102.0 674.2v5M141.3 674.2v5M180.7 674.2v5M220.0 674.2v5M246.8 674.2v5M286.1 674.2v5M325.5 674.2v5M364.9 674.2v5M404.2 674.2v5M431.0 674.2v5M470.4 674.2v5M509.7 674.2v5M549.1 674.2v5M588.4 674.2v5M44.2 902.5h5M44.2 876.2h5M44.2 850.0h5M44.2 823.7h5M44.2 797.4h5M44.2 771.2h5M44.2 744.9h5M55.9 908.7v5M98.5 908.7v5M141.2 908.7v5M183.8 908.7v5M226.4 908.7v5M240.1 908.7v5M282.7 908.7v5M325.4 908.7v5M368.0 908.7v5M410.6 908.7v5M424.3 908.7v5M466.9 908.7v5M509.6 908.7v5M552.2 908.7v5M594.8 908.7v5"/>
<text class="t" transform="translate(38.5,179.2) rotate(-90)" text-anchor="middle">−20</text>
<text class="t" transform="translate(38.5,139.7) rotate(-90)" text-anchor="middle">−10</text>
<text class="t" transform="translate(38.5,100.2) rotate(-90)" text-anchor="middle">0</text>
<text class="t" transform="translate(38.5,60.7) rotate(-90)" text-anchor="middle">10</text>
<text class="t" transform="translate(38.5,21.2) rotate(-90)" text-anchor="middle">20</text>
<text class="t" x="62.6" y="202.2" text-anchor="middle">−20</text>
<text class="t" x="102.0" y="202.2" text-anchor="middle">−10</text>
<text class="t" x="141.3" y="202.2" text-anchor="middle">0</text>
<text class="t" x="180.7" y="202.2" text-anchor="middle">10</text>
<text class="t" x="220.0" y="202.2" text-anchor="middle">20</text>
<text class="l" x="141.3" y="220.5" text-anchor="middle">x (pc)</text>
<text class="t" x="246.8" y="202.2" text-anchor="middle">−20</text>
<text class="t" x="286.1" y="202.2" text-anchor="middle">−10</text>
<text class="t" x="325.5" y="202.2" text-anchor="middle">0</text>
<text class="t" x="364.9" y="202.2" text-anchor="middle">10</text>
<text class="t" x="404.2" y="202.2" text-anchor="middle">20</text>
<text class="l" x="325.5" y="220.5" text-anchor="middle">x (pc)</text>
<text class="t" x="431.0" y="202.2" text-anchor="middle">−20</text>
<text class="t" x="470.4" y="202.2" text-anchor="middle">−10</text>
<text class="t" x="509.7" y="202.2" text-anchor="middle">0</text>
<text class="t" x="549.1" y="202.2" text-anchor="middle">10</text>
<text class="t" x="588.4" y="202.2" text-anchor="middle">20</text>
<text class="l" x="509.7" y="220.5" text-anchor="middle">x (pc)</text>
<text class="yl" transform="translate(11.3,100.2) rotate(-90)" text-anchor="middle">y (pc)</text>
<text class="t" transform="translate(38.5,413.5) rotate(-90)" text-anchor="middle">0</text>
<text class="t" transform="translate(38.5,387.2) rotate(-90)" text-anchor="middle">5</text>
<text class="t" transform="translate(38.5,361.0) rotate(-90)" text-anchor="middle">10</text>
<text class="t" transform="translate(38.5,334.7) rotate(-90)" text-anchor="middle">15</text>
<text class="t" transform="translate(38.5,308.4) rotate(-90)" text-anchor="middle">20</text>
<text class="t" transform="translate(38.5,282.2) rotate(-90)" text-anchor="middle">25</text>
<text class="t" transform="translate(38.5,255.9) rotate(-90)" text-anchor="middle">30</text>
<text class="t" x="55.9" y="436.7" text-anchor="middle">0</text>
<text class="t" x="98.5" y="436.7" text-anchor="middle">5</text>
<text class="t" x="141.2" y="436.7" text-anchor="middle">10</text>
<text class="t" x="183.8" y="436.7" text-anchor="middle">15</text>
<text class="t" x="226.4" y="436.7" text-anchor="middle">20</text>
<text class="l" x="141.3" y="455.0" text-anchor="middle">r (pc)</text>
<text class="t" x="240.1" y="436.7" text-anchor="middle">0</text>
<text class="t" x="282.7" y="436.7" text-anchor="middle">5</text>
<text class="t" x="325.4" y="436.7" text-anchor="middle">10</text>
<text class="t" x="368.0" y="436.7" text-anchor="middle">15</text>
<text class="t" x="410.6" y="436.7" text-anchor="middle">20</text>
<text class="l" x="325.5" y="455.0" text-anchor="middle">r (pc)</text>
<text class="t" x="424.3" y="436.7" text-anchor="middle">0</text>
<text class="t" x="466.9" y="436.7" text-anchor="middle">5</text>
<text class="t" x="509.6" y="436.7" text-anchor="middle">10</text>
<text class="t" x="552.2" y="436.7" text-anchor="middle">15</text>
<text class="t" x="594.8" y="436.7" text-anchor="middle">20</text>
<text class="l" x="509.7" y="455.0" text-anchor="middle">r (pc)</text>
<text class="yl" transform="translate(11.3,334.7) rotate(-90)" text-anchor="middle">v (km/s)</text>
<text class="t" transform="translate(38.5,668.4) rotate(-90)" text-anchor="middle">−20</text>
<text class="t" transform="translate(38.5,628.9) rotate(-90)" text-anchor="middle">−10</text>
<text class="t" transform="translate(38.5,589.4) rotate(-90)" text-anchor="middle">0</text>
<text class="t" transform="translate(38.5,549.9) rotate(-90)" text-anchor="middle">10</text>
<text class="t" transform="translate(38.5,510.4) rotate(-90)" text-anchor="middle">20</text>
<text class="t" x="62.6" y="691.4" text-anchor="middle">−20</text>
<text class="t" x="102.0" y="691.4" text-anchor="middle">−10</text>
<text class="t" x="141.3" y="691.4" text-anchor="middle">0</text>
<text class="t" x="180.7" y="691.4" text-anchor="middle">10</text>
<text class="t" x="220.0" y="691.4" text-anchor="middle">20</text>
<text class="l" x="141.3" y="709.7" text-anchor="middle">x (pc)</text>
<text class="t" x="246.8" y="691.4" text-anchor="middle">−20</text>
<text class="t" x="286.1" y="691.4" text-anchor="middle">−10</text>
<text class="t" x="325.5" y="691.4" text-anchor="middle">0</text>
<text class="t" x="364.9" y="691.4" text-anchor="middle">10</text>
<text class="t" x="404.2" y="691.4" text-anchor="middle">20</text>
<text class="l" x="325.5" y="709.7" text-anchor="middle">x (pc)</text>
<text class="t" x="431.0" y="691.4" text-anchor="middle">−20</text>
<text class="t" x="470.4" y="691.4" text-anchor="middle">−10</text>
<text class="t" x="509.7" y="691.4" text-anchor="middle">0</text>
<text class="t" x="549.1" y="691.4" text-anchor="middle">10</text>
<text class="t" x="588.4" y="691.4" text-anchor="middle">20</text>
<text class="l" x="509.7" y="709.7" text-anchor="middle">x (pc)</text>
<text class="yl" transform="translate(11.3,589.4) rotate(-90)" text-anchor="middle">y (pc)</text>
<text class="t" transform="translate(38.5,902.5) rotate(-90)" text-anchor="middle">0</text>
<text class="t" transform="translate(38.5,876.2) rotate(-90)" text-anchor="middle">5</text>
<text class="t" transform="translate(38.5,850.0) rotate(-90)" text-anchor="middle">10</text>
<text class="t" transform="translate(38.5,823.7) rotate(-90)" text-anchor="middle">15</text>
<text class="t" transform="translate(38.5,797.4) rotate(-90)" text-anchor="middle">20</text>
<text class="t" transform="translate(38.5,771.2) rotate(-90)" text-anchor="middle">25</text>
<text class="t" transform="translate(38.5,744.9) rotate(-90)" text-anchor="middle">30</text>
<text class="t" x="55.9" y="925.9" text-anchor="middle">0</text>
<text class="t" x="98.5" y="925.9" text-anchor="middle">5</text>
<text class="t" x="141.2" y="925.9" text-anchor="middle">10</text>
<text class="t" x="183.8" y="925.9" text-anchor="middle">15</text>
<text class="t" x="226.4" y="925.9" text-anchor="middle">20</text>
<text class="l" x="141.3" y="944.2" text-anchor="middle">r (pc)</text>
<text class="t" x="240.1" y="925.9" text-anchor="middle">0</text>
<text class="t" x="282.7" y="925.9" text-anchor="middle">5</text>
<text class="t" x="325.4" y="925.9" text-anchor="middle">10</text>
<text class="t" x="368.0" y="925.9" text-anchor="middle">15</text>
<text class="t" x="410.6" y="925.9" text-anchor="middle">20</text>
<text class="l" x="325.5" y="944.2" text-anchor="middle">r (pc)</text>
<text class="t" x="424.3" y="925.9" text-anchor="middle">0</text>
<text class="t" x="466.9" y="925.9" text-anchor="middle">5</text>
<text class="t" x="509.6" y="925.9" text-anchor="middle">10</text>
<text class="t" x="552.2" y="925.9" text-anchor="middle">15</text>
<text class="t" x="594.8" y="925.9" text-anchor="middle">20</text>
<text class="l" x="509.7" y="944.2" text-anchor="middle">r (pc)</text>
<text class="yl" transform="translate(11.3,823.9) rotate(-90)" text-anchor="middle">v (km/s)</text>
<text class="ti" x="141.3" y="9.2" text-anchor="middle">Compact</text>
<text class="ti" x="325.5" y="9.2" text-anchor="middle">Average</text>
<text class="ti" x="509.7" y="9.2" text-anchor="middle">Extended</text>
<text class="ti" x="141.3" y="498.4" text-anchor="middle">Low  Φ<tspan font-size="8.6" dy="3">0</tspan></text>
<text class="ti" x="325.5" y="498.4" text-anchor="middle">Average</text>
<text class="ti" x="509.7" y="498.4" text-anchor="middle">High  Φ<tspan font-size="8.6" dy="3">0</tspan></text>
</svg></body></html>
